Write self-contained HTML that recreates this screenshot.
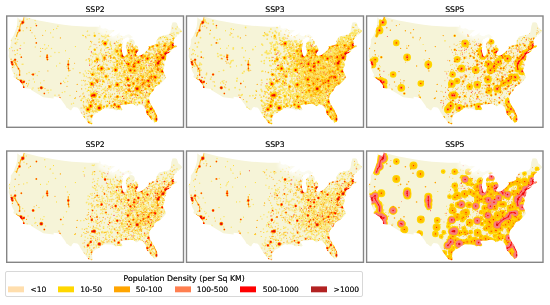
<!DOCTYPE html>
<html><head><meta charset="utf-8"><style>
html,body{margin:0;padding:0;background:#fff;}
body{width:550px;height:305px;position:relative;overflow:hidden;font-family:"DejaVu Sans","Liberation Sans",sans-serif;color:#262626;}
svg{position:absolute;left:0;top:0;}
.t{position:absolute;width:100px;text-align:center;font-size:7.7px;line-height:9px;text-shadow:0 0 0.4px #262626;}
.leg{position:absolute;left:5px;top:271px;width:356px;height:24px;border:1px solid #d8d8d8;border-radius:2px;}
.lt,.lp,.lh{position:absolute;}
.lp{top:286.2px;width:16px;height:6.2px;}
.lt{top:285.2px;font-size:7.5px;line-height:9px;text-shadow:0 0 0.35px #262626;}
.lh{left:123.6px;top:274.2px;font-size:7.8px;line-height:9px;text-shadow:0 0 0.35px #262626;}
</style></head><body>
<svg width="550" height="305" viewBox="0 0 550 305">
<defs><clipPath id="us"><path d="M11.3,2.3 L13.0,3.7 L14.5,4.4 L16.1,5.0 L17.0,3.9 L17.7,2.6 L17.3,1.4 L24.7,3.4 L32.8,5.4 L41.0,7.1 L49.3,8.5 L57.6,9.7 L65.9,10.7 L74.3,11.3 L82.6,11.7 L87.6,11.8 L93.4,11.8 L93.4,10.3 L94.3,10.6 L94.8,12.9 L97.2,13.8 L99.4,13.3 L101.1,13.9 L103.7,15.4 L105.7,14.8 L109.1,15.4 L107.2,16.6 L104.5,19.0 L102.3,21.0 L104.3,20.8 L106.0,20.0 L105.8,21.5 L107.2,21.5 L110.3,20.0 L112.5,18.5 L114.1,17.3 L113.1,19.3 L115.9,20.9 L118.1,21.3 L119.9,20.0 L122.9,19.3 L124.6,20.2 L125.6,21.4 L127.2,22.0 L123.9,23.0 L121.6,22.3 L119.3,23.1 L118.5,24.1 L117.2,24.2 L115.9,27.0 L114.9,29.6 L116.2,27.9 L117.6,26.0 L116.9,28.2 L116.4,31.0 L116.1,32.7 L115.7,35.8 L117.1,40.6 L118.1,41.7 L119.3,41.1 L120.4,39.3 L121.0,36.3 L120.3,34.5 L119.7,31.5 L120.1,30.2 L120.0,28.6 L120.5,27.4 L121.7,26.0 L122.0,27.7 L122.4,26.8 L122.7,25.5 L123.4,25.0 L123.2,23.8 L124.0,23.3 L124.8,23.8 L126.9,24.5 L128.3,25.8 L128.7,27.3 L128.8,28.5 L128.4,29.3 L127.7,30.6 L127.6,32.1 L128.9,30.7 L130.2,29.9 L131.5,31.6 L132.4,34.0 L132.4,35.8 L130.9,37.2 L130.0,39.9 L132.4,40.7 L135.5,40.0 L140.0,36.6 L143.1,32.7 L142.3,31.3 L146.7,30.5 L149.8,29.0 L150.3,27.2 L149.8,26.0 L151.0,24.7 L153.1,21.6 L158.6,20.3 L162.9,19.2 L163.8,17.7 L164.5,17.1 L165.3,11.2 L166.5,7.6 L169.2,7.2 L170.9,7.9 L172.4,12.6 L173.9,13.5 L175.5,15.2 L176.1,16.3 L175.1,17.5 L173.6,18.8 L172.4,20.1 L171.3,19.5 L171.0,21.4 L169.2,22.8 L168.2,23.7 L167.6,26.3 L167.3,27.5 L168.1,28.1 L167.3,29.7 L168.7,31.0 L170.0,30.2 L170.7,30.5 L171.2,31.6 L169.2,32.7 L168.4,32.6 L167.0,33.7 L165.8,34.6 L162.7,35.6 L160.6,37.5 L164.9,35.5 L166.1,35.6 L163.2,37.7 L160.3,39.2 L160.1,39.8 L160.5,41.2 L159.9,44.6 L158.6,46.7 L158.0,45.7 L156.3,44.8 L156.9,45.9 L158.3,47.4 L158.8,49.2 L158.4,51.2 L157.1,54.9 L157.2,55.9 L158.1,57.4 L160.2,62.4 L157.4,65.8 L153.2,69.9 L150.0,71.1 L147.3,75.7 L144.3,79.2 L143.1,83.2 L143.6,86.5 L144.3,88.3 L145.8,91.1 L148.0,93.9 L149.3,97.3 L151.1,100.8 L151.4,104.7 L150.9,106.8 L148.2,108.0 L147.1,106.1 L144.9,104.3 L143.9,102.8 L142.9,101.3 L141.1,99.6 L140.4,98.3 L140.0,97.0 L139.8,94.5 L138.4,92.4 L136.1,89.9 L133.8,89.2 L131.1,91.2 L129.8,91.3 L128.3,89.6 L125.3,88.7 L122.8,89.1 L120.0,89.8 L116.0,89.6 L114.2,90.4 L114.6,91.2 L115.9,93.3 L116.7,94.7 L115.3,95.6 L113.0,95.1 L112.6,94.7 L110.1,95.5 L108.2,94.6 L106.4,93.8 L105.6,93.4 L103.4,93.5 L98.8,93.2 L95.4,95.0 L93.6,96.5 L91.0,97.9 L89.5,98.6 L86.5,101.3 L86.1,104.6 L86.6,109.0 L85.3,109.2 L82.6,108.3 L82.3,107.9 L77.9,102.3 L74.4,97.1 L73.1,94.3 L71.3,92.5 L67.7,92.1 L66.5,92.9 L65.3,95.3 L64.2,95.2 L61.7,93.3 L60.3,92.6 L59.4,90.6 L56.9,87.0 L53.7,82.4 L47.7,81.8 L47.5,83.6 L37.3,82.2 L25.2,75.0 L25.7,74.1 L17.2,73.1 L16.9,72.3 L16.9,70.2 L16.1,68.9 L14.0,67.1 L13.9,66.0 L12.0,65.1 L10.3,63.4 L7.8,62.5 L7.3,61.8 L8.1,59.7 L7.5,58.4 L6.5,56.8 L5.2,53.6 L5.5,52.4 L5.6,50.9 L4.6,48.2 L4.9,47.0 L3.6,45.7 L3.8,44.4 L2.6,41.2 L3.2,37.6 L2.3,34.5 L3.3,33.2 L4.5,30.5 L4.5,29.4 L4.8,28.4 L4.8,24.6 L6.3,22.6 L7.6,20.4 L8.5,18.0 L9.8,14.4 L10.7,11.6 L10.9,9.9 L11.1,8.3 L11.3,5.3Z"/></clipPath>
<filter id="bl" x="-5%" y="-5%" width="110%" height="110%"><feGaussianBlur stdDeviation="0.4"/></filter><filter id="bl2" x="-20%" y="-20%" width="140%" height="140%"><feGaussianBlur stdDeviation="1.5"/></filter></defs>
<g transform="translate(6,15)"><path d="M11.3,2.3 L13.0,3.7 L14.5,4.4 L16.1,5.0 L17.0,3.9 L17.7,2.6 L17.3,1.4 L24.7,3.4 L32.8,5.4 L41.0,7.1 L49.3,8.5 L57.6,9.7 L65.9,10.7 L74.3,11.3 L82.6,11.7 L87.6,11.8 L93.4,11.8 L93.4,10.3 L94.3,10.6 L94.8,12.9 L97.2,13.8 L99.4,13.3 L101.1,13.9 L103.7,15.4 L105.7,14.8 L109.1,15.4 L107.2,16.6 L104.5,19.0 L102.3,21.0 L104.3,20.8 L106.0,20.0 L105.8,21.5 L107.2,21.5 L110.3,20.0 L112.5,18.5 L114.1,17.3 L113.1,19.3 L115.9,20.9 L118.1,21.3 L119.9,20.0 L122.9,19.3 L124.6,20.2 L125.6,21.4 L127.2,22.0 L123.9,23.0 L121.6,22.3 L119.3,23.1 L118.5,24.1 L117.2,24.2 L115.9,27.0 L114.9,29.6 L116.2,27.9 L117.6,26.0 L116.9,28.2 L116.4,31.0 L116.1,32.7 L115.7,35.8 L117.1,40.6 L118.1,41.7 L119.3,41.1 L120.4,39.3 L121.0,36.3 L120.3,34.5 L119.7,31.5 L120.1,30.2 L120.0,28.6 L120.5,27.4 L121.7,26.0 L122.0,27.7 L122.4,26.8 L122.7,25.5 L123.4,25.0 L123.2,23.8 L124.0,23.3 L124.8,23.8 L126.9,24.5 L128.3,25.8 L128.7,27.3 L128.8,28.5 L128.4,29.3 L127.7,30.6 L127.6,32.1 L128.9,30.7 L130.2,29.9 L131.5,31.6 L132.4,34.0 L132.4,35.8 L130.9,37.2 L130.0,39.9 L132.4,40.7 L135.5,40.0 L140.0,36.6 L143.1,32.7 L142.3,31.3 L146.7,30.5 L149.8,29.0 L150.3,27.2 L149.8,26.0 L151.0,24.7 L153.1,21.6 L158.6,20.3 L162.9,19.2 L163.8,17.7 L164.5,17.1 L165.3,11.2 L166.5,7.6 L169.2,7.2 L170.9,7.9 L172.4,12.6 L173.9,13.5 L175.5,15.2 L176.1,16.3 L175.1,17.5 L173.6,18.8 L172.4,20.1 L171.3,19.5 L171.0,21.4 L169.2,22.8 L168.2,23.7 L167.6,26.3 L167.3,27.5 L168.1,28.1 L167.3,29.7 L168.7,31.0 L170.0,30.2 L170.7,30.5 L171.2,31.6 L169.2,32.7 L168.4,32.6 L167.0,33.7 L165.8,34.6 L162.7,35.6 L160.6,37.5 L164.9,35.5 L166.1,35.6 L163.2,37.7 L160.3,39.2 L160.1,39.8 L160.5,41.2 L159.9,44.6 L158.6,46.7 L158.0,45.7 L156.3,44.8 L156.9,45.9 L158.3,47.4 L158.8,49.2 L158.4,51.2 L157.1,54.9 L157.2,55.9 L158.1,57.4 L160.2,62.4 L157.4,65.8 L153.2,69.9 L150.0,71.1 L147.3,75.7 L144.3,79.2 L143.1,83.2 L143.6,86.5 L144.3,88.3 L145.8,91.1 L148.0,93.9 L149.3,97.3 L151.1,100.8 L151.4,104.7 L150.9,106.8 L148.2,108.0 L147.1,106.1 L144.9,104.3 L143.9,102.8 L142.9,101.3 L141.1,99.6 L140.4,98.3 L140.0,97.0 L139.8,94.5 L138.4,92.4 L136.1,89.9 L133.8,89.2 L131.1,91.2 L129.8,91.3 L128.3,89.6 L125.3,88.7 L122.8,89.1 L120.0,89.8 L116.0,89.6 L114.2,90.4 L114.6,91.2 L115.9,93.3 L116.7,94.7 L115.3,95.6 L113.0,95.1 L112.6,94.7 L110.1,95.5 L108.2,94.6 L106.4,93.8 L105.6,93.4 L103.4,93.5 L98.8,93.2 L95.4,95.0 L93.6,96.5 L91.0,97.9 L89.5,98.6 L86.5,101.3 L86.1,104.6 L86.6,109.0 L85.3,109.2 L82.6,108.3 L82.3,107.9 L77.9,102.3 L74.4,97.1 L73.1,94.3 L71.3,92.5 L67.7,92.1 L66.5,92.9 L65.3,95.3 L64.2,95.2 L61.7,93.3 L60.3,92.6 L59.4,90.6 L56.9,87.0 L53.7,82.4 L47.7,81.8 L47.5,83.6 L37.3,82.2 L25.2,75.0 L25.7,74.1 L17.2,73.1 L16.9,72.3 L16.9,70.2 L16.1,68.9 L14.0,67.1 L13.9,66.0 L12.0,65.1 L10.3,63.4 L7.8,62.5 L7.3,61.8 L8.1,59.7 L7.5,58.4 L6.5,56.8 L5.2,53.6 L5.5,52.4 L5.6,50.9 L4.6,48.2 L4.9,47.0 L3.6,45.7 L3.8,44.4 L2.6,41.2 L3.2,37.6 L2.3,34.5 L3.3,33.2 L4.5,30.5 L4.5,29.4 L4.8,28.4 L4.8,24.6 L6.3,22.6 L7.6,20.4 L8.5,18.0 L9.8,14.4 L10.7,11.6 L10.9,9.9 L11.1,8.3 L11.3,5.3Z" fill="#f6f4d8"/><g clip-path="url(#us)" filter="url(#bl)" fill="none" stroke-linecap="round"><path stroke="#ffd700" stroke-width="6" d="M159.9 38.6h0M116.8 40.7h0M88.2 80.3h0M93.3 93.0h0M152.0 48.3h0M157.0 42.7h0M151.0 104.2h0M131.2 73.8h0M167.1 29.7h0M130.7 36.9h0"/>
<path stroke="#ffd700" stroke-width="4.8" d="M86.3 80.4h0M99.1 28.5h0M141.3 97.1h0M109.7 55.0h0M153.0 46.4h0M144.9 94.0h0M142.4 65.8h0M81.9 94.4h0M141.5 43.6h0M84.7 90.9h0M128.0 51.3h0M95.6 53.5h0M132.4 47.0h0M122.4 49.1h0M135.5 40.1h0M121.9 64.5h0M156.2 56.3h0M115.6 35.8h0M142.7 86.7h0M85.8 68.9h0M149.3 62.3h0M111.3 69.7h0M112.6 91.6h0M124.4 55.3h0M162.2 37.7h0M159.3 38.7h0"/>
<path stroke="#ffd700" stroke-width="3.6" d="M166.6 32.2h0M151.9 54.2h0M162.8 33.4h0M143.1 32.8h0M123.0 75.6h0M146.7 30.9h0M122.5 35.5h0M91.0 66.0h0M91.2 44.4h0M158.7 30.5h0M131.6 64.3h0M108.5 89.7h0M137.4 68.2h0M142.6 71.1h0M147.2 75.6h0M128.7 48.4h0M155.4 40.2h0M98.5 42.9h0M103.7 71.7h0M151.2 30.5h0M145.3 61.7h0M129.7 40.1h0M111.1 36.0h0M86.6 59.5h0M151.4 42.5h0M127.4 68.7h0M111.6 81.7h0M128.6 55.7h0M100.0 61.4h0M126.1 36.0h0M119.7 87.9h0M85.8 101.2h0M82.5 107.9h0M123.2 70.5h0M144.3 102.2h0M141.4 99.6h0M162.5 35.4h0M158.0 41.3h0M148.3 61.6h0M150.9 100.8h0M160.9 37.0h0"/>
<path stroke="#ffd700" stroke-width="2.4" d="M165.0 30.7h0M136.3 41.7h0M125.0 43.2h0M154.1 37.0h0M98.9 81.3h0M122.7 88.8h0M133.3 87.6h0M143.6 79.1h0M139.7 73.8h0M125.2 80.3h0M168.0 23.7h0M165.2 27.4h0M88.8 34.7h0M88.7 20.7h0M148.1 95.7h0M145.8 91.0h0M143.1 96.4h0M141.7 91.7h0M140.8 89.9h0M152.9 68.3h0M143.9 56.8h0M136.4 65.2h0M118.6 57.1h0M111.2 46.1h0M112.3 39.3h0M111.3 49.9h0M115.7 48.2h0M104.4 41.0h0M107.9 42.8h0M88.9 46.3h0M92.0 53.7h0M86.9 85.5h0M84.8 87.3h0M97.9 91.6h0M105.4 90.8h0M101.1 90.9h0M93.5 82.1h0M97.2 66.4h0M102.9 53.9h0M102.3 20.8h0M114.8 29.6h0M128.5 34.5h0M123.1 38.2h0M121.3 41.0h0M140.0 36.6h0M139.0 41.2h0M136.9 42.8h0M137.7 53.2h0M135.0 53.3h0M136.6 62.1h0M146.4 55.8h0M149.1 65.5h0M150.1 71.1h0M134.3 77.2h0M129.7 79.4h0M120.4 77.2h0M162.8 31.9h0M159.9 44.6h0M156.0 43.8h0M153.3 43.1h0M152.1 43.7h0M154.3 41.6h0M151.2 51.0h0M143.8 61.9h0M138.9 67.6h0M116.0 89.6h0M77.9 102.2h0M85.3 109.0h0M89.7 89.2h0M113.8 30.8h0M119.9 63.1h0M149.5 98.6h0M144.9 104.2h0M128.8 37.6h0M94.9 54.4h0"/>
<path stroke="#ffd700" stroke-width="1.5" stroke-opacity="0.5" d="M93.5 73.5h0M108.9 65.6h0M148.5 54.5h0M160.9 30.2h0M127.3 88.2h0M84.5 87.3h0M162.5 28.9h0M128.3 54.9h0M129.7 77.2h0M108.0 62.7h0M11.8 11.6h0M140.2 80.9h0M139.1 91.3h0M166.8 21.2h0M139.5 72.5h0M143.7 77.1h0M113.0 70.3h0M14.7 65.4h0M142.3 33.8h0M101.2 58.9h0M125.9 75.3h0M101.2 25.8h0M149.7 48.4h0M127.3 34.8h0M150.1 62.5h0M113.7 64.3h0M157.2 37.3h0M138.8 62.6h0M121.9 37.6h0M129.5 30.3h0M149.5 62.7h0M148.6 58.8h0M84.4 67.5h0M111.3 83.8h0M102.3 36.6h0M117.0 88.6h0M123.5 86.3h0M165.9 34.1h0M147.9 100.9h0M124.1 49.6h0M137.1 84.3h0M158.7 31.0h0M129.7 39.9h0M132.8 75.9h0M161.2 35.6h0M107.1 92.2h0M87.4 88.3h0M167.1 25.5h0M150.0 56.0h0M114.8 48.1h0M152.6 45.1h0M91.8 84.5h0M82.8 97.3h0M85.6 102.6h0M159.3 45.4h0M150.9 103.3h0M130.9 57.5h0M132.5 50.5h0M127.8 87.1h0M152.8 48.1h0M146.9 51.4h0M80.1 92.0h0M127.9 58.6h0M123.0 53.5h0M154.5 42.3h0M170.1 14.1h0M125.1 44.9h0M86.8 96.1h0M17.0 49.2h0M157.4 21.2h0M137.9 48.4h0M153.8 36.5h0M48.9 37.5h0M140.2 67.4h0M169.7 31.9h0M139.0 48.1h0M139.5 59.4h0M110.1 52.5h0M127.4 41.1h0M114.4 34.2h0M80.0 91.1h0M141.2 78.7h0M112.0 52.8h0M139.7 67.6h0M100.0 62.2h0M108.8 34.5h0M111.2 86.2h0M128.8 74.1h0M108.1 36.0h0M94.2 52.2h0M126.5 53.9h0M114.9 64.0h0M120.3 70.6h0M117.8 80.4h0M80.4 61.6h0M140.6 60.6h0M128.5 86.0h0M77.3 59.0h0M116.6 58.5h0M100.6 89.7h0M140.8 65.9h0M129.3 60.6h0M151.7 60.6h0M88.7 57.9h0M134.3 53.5h0M129.9 87.9h0M126.0 76.5h0M126.2 67.1h0M132.3 51.2h0M140.2 43.3h0M158.2 36.0h0M141.1 70.4h0M139.4 74.3h0M83.6 97.7h0M147.6 57.7h0M145.7 61.4h0M95.2 89.3h0M167.0 23.6h0M148.6 61.3h0M123.8 48.7h0M85.8 96.5h0M101.8 66.1h0M142.5 58.0h0M140.9 53.4h0M125.5 48.0h0M164.5 28.5h0M131.4 55.5h0M155.8 40.5h0M113.6 45.4h0M99.9 33.3h0M160.1 34.2h0M160.5 37.5h0M91.0 39.8h0M98.6 40.3h0M141.8 80.6h0M127.3 58.6h0M164.4 31.9h0M153.2 49.1h0M122.9 49.9h0M114.9 71.5h0M150.9 65.2h0M75.5 98.4h0M136.2 44.3h0M119.8 67.8h0M97.9 45.7h0M142.8 39.6h0M29.1 5.5h0M159.7 24.8h0M123.3 73.0h0M143.3 90.8h0M136.8 61.8h0M126.7 43.7h0M146.9 47.4h0M155.5 41.3h0M153.8 60.4h0M129.0 44.7h0M103.6 70.8h0M121.3 53.2h0M106.0 79.8h0M93.3 88.5h0M142.0 59.6h0M116.2 67.3h0M116.2 61.2h0M150.2 48.8h0M94.6 93.5h0M129.5 79.6h0M121.0 52.1h0M128.9 44.0h0M133.0 60.3h0M130.5 44.0h0M125.8 49.1h0M148.0 54.9h0M84.6 95.1h0M102.7 64.4h0M124.4 64.7h0M133.6 57.6h0M140.2 91.4h0M82.2 55.7h0M132.3 66.5h0M142.6 99.7h0M120.9 82.7h0M100.7 45.9h0M106.6 61.9h0M143.3 41.3h0M124.9 57.0h0M142.3 70.6h0M111.7 40.7h0M127.9 86.3h0M125.3 46.7h0M129.2 41.1h0M116.9 54.3h0M142.8 64.1h0M127.1 54.6h0M116.6 43.0h0M98.2 74.9h0M159.7 32.2h0M126.8 38.4h0M135.1 44.6h0M143.4 61.6h0M96.3 41.2h0M133.7 67.0h0M90.7 67.0h0M128.6 84.9h0M139.0 60.8h0M125.4 85.6h0M77.2 92.9h0M84.4 89.9h0M127.8 45.6h0M129.8 40.6h0M146.2 64.3h0M78.2 61.3h0M115.9 52.6h0M147.3 41.4h0M127.0 32.1h0M97.1 56.9h0M151.8 63.0h0M8.3 58.4h0M143.7 38.7h0M112.3 47.2h0M120.4 55.8h0M129.7 57.7h0M175.9 16.4h0M123.9 42.8h0M142.0 74.4h0M94.5 51.4h0M146.0 68.4h0M151.4 55.8h0M81.7 96.2h0M135.1 84.0h0M125.7 70.3h0M150.8 59.7h0M89.1 67.8h0M121.1 52.2h0M160.4 24.6h0M148.5 37.4h0M124.3 64.3h0M128.1 45.1h0M108.3 42.0h0M116.8 50.3h0M144.3 65.0h0M98.5 91.5h0M152.0 37.4h0M132.7 52.2h0M145.6 50.1h0M113.8 56.9h0M122.8 39.9h0M109.8 55.3h0M116.5 72.8h0M156.0 48.9h0M110.7 51.0h0M153.0 62.8h0M124.0 88.9h0M133.2 76.9h0M124.5 62.9h0M153.3 49.1h0M151.1 43.7h0M161.7 35.6h0M22.3 69.8h0M143.7 37.9h0M119.1 52.7h0M145.1 102.1h0M109.8 91.6h0M27.3 64.1h0M138.4 65.5h0M155.7 29.2h0M103.9 28.3h0M129.3 53.6h0M114.0 52.0h0M125.1 45.1h0M105.6 52.9h0M144.1 59.8h0M93.6 23.9h0M107.0 52.5h0M126.9 84.1h0M81.7 84.3h0M131.2 60.8h0M97.8 49.3h0M91.3 66.8h0M122.1 84.7h0M128.1 55.7h0M117.7 45.5h0M130.4 41.2h0M159.3 44.0h0M138.1 58.1h0M110.1 84.3h0M158.7 27.8h0M128.2 41.0h0M81.7 93.0h0M150.9 55.3h0M89.6 69.0h0M99.5 19.4h0M136.5 76.1h0M90.5 85.4h0M153.3 45.5h0M141.0 46.1h0M128.2 36.1h0M136.0 85.7h0M124.4 47.6h0M154.2 57.4h0M141.9 73.8h0M90.0 84.8h0M111.2 85.6h0M100.2 20.6h0M142.0 78.9h0M151.5 40.2h0M98.8 81.2h0M114.2 81.7h0M21.1 4.2h0M147.0 74.7h0M150.2 40.6h0M81.2 76.4h0M142.6 68.0h0M105.3 31.0h0M95.2 80.5h0M115.3 61.1h0M151.1 24.6h0M144.7 60.1h0M116.6 41.0h0M88.9 59.9h0M126.2 48.3h0M122.7 78.6h0M138.4 56.0h0M144.4 39.0h0M147.5 32.3h0M76.7 20.3h0M140.2 71.5h0M133.9 78.8h0M161.6 31.1h0M117.4 61.2h0M10.8 60.1h0M158.5 41.4h0M158.3 41.7h0M124.9 68.0h0M148.8 64.6h0M6.3 49.5h0M143.9 70.0h0M96.7 50.3h0M147.8 63.1h0M128.0 48.1h0M77.1 89.9h0M159.9 31.3h0M148.7 106.8h0M139.1 65.4h0M153.1 35.4h0M124.1 38.1h0M134.7 42.1h0M125.2 47.0h0M131.7 51.1h0M124.7 78.2h0M151.6 44.0h0M162.9 28.1h0M114.1 44.2h0M151.5 41.4h0M126.4 69.0h0M111.9 42.9h0M149.8 67.3h0M145.0 56.3h0M85.7 92.0h0M105.2 70.2h0M152.6 56.1h0M100.1 64.0h0M124.5 83.4h0M138.4 60.4h0M104.8 31.2h0M125.4 63.2h0M115.8 46.0h0M87.3 39.5h0M135.0 83.9h0M157.3 28.0h0M138.6 57.5h0M90.5 86.6h0M88.9 56.1h0M93.0 24.2h0M85.8 77.0h0M93.8 61.4h0M147.1 61.0h0M120.2 32.8h0M112.5 25.5h0M128.7 75.9h0M131.8 78.2h0M150.5 100.2h0M139.0 55.1h0M153.1 52.6h0M150.5 54.9h0M78.9 66.5h0M133.0 65.5h0M99.4 54.3h0M130.6 37.4h0M122.3 54.8h0M86.4 47.5h0M154.9 23.8h0M116.6 78.8h0M138.7 60.6h0M100.3 62.0h0M153.1 68.2h0M125.7 64.5h0M120.4 40.9h0M140.7 91.7h0M112.5 38.1h0M90.8 43.2h0M84.7 31.3h0M117.9 55.5h0M169.1 31.2h0M148.2 62.8h0M137.0 68.1h0M113.8 40.2h0M85.0 94.4h0M61.7 66.6h0M97.5 62.6h0M123.0 52.6h0M127.5 58.1h0M127.1 44.8h0M101.7 26.8h0M112.8 71.5h0M127.1 42.4h0M92.2 54.8h0M20.8 58.7h0M143.1 51.8h0M164.7 34.2h0M144.8 39.5h0M158.1 29.9h0M125.6 53.6h0M136.7 78.8h0M135.1 65.3h0M114.9 73.3h0M91.2 63.4h0M49.0 80.3h0M112.8 61.1h0M137.0 47.3h0M84.9 72.5h0M118.3 82.1h0M131.8 80.6h0M88.9 75.4h0M135.3 44.1h0M123.7 76.1h0M86.7 41.7h0M123.1 80.0h0M129.9 65.1h0M145.0 43.6h0M107.9 73.3h0M99.8 39.7h0M151.6 59.8h0M86.7 100.7h0M144.7 39.6h0M90.3 84.8h0M80.4 58.1h0M158.3 39.0h0M86.0 79.8h0M88.5 93.6h0M102.3 61.2h0M135.8 82.4h0M141.0 86.7h0M117.6 85.8h0M90.2 48.6h0M113.0 48.4h0M98.5 57.7h0M151.7 53.9h0M124.5 79.5h0M137.9 50.1h0M138.9 40.5h0M145.8 65.5h0M141.0 42.6h0M119.2 58.5h0M140.4 65.5h0M106.4 66.1h0M136.7 60.1h0M100.7 64.3h0M108.3 35.1h0M86.7 78.7h0M91.7 52.7h0M104.4 78.9h0M123.2 35.3h0M143.8 44.9h0M144.6 57.4h0M123.1 63.9h0M83.5 84.7h0M83.6 75.7h0M85.4 59.1h0M119.8 78.3h0M139.4 65.9h0M129.3 53.5h0M166.2 29.3h0M117.1 80.7h0M140.4 88.0h0M89.7 64.3h0M138.7 67.6h0M141.9 70.3h0M153.8 42.9h0M136.1 73.5h0M118.4 45.2h0M89.2 61.7h0M85.8 83.5h0M82.1 74.9h0M134.1 41.4h0M138.7 41.0h0M91.4 46.9h0M113.1 51.2h0M127.0 44.7h0M85.8 49.1h0M150.0 40.7h0M128.7 80.1h0M82.3 83.4h0M95.6 85.6h0M138.1 48.7h0M142.5 74.5h0M157.8 35.5h0M158.6 32.1h0M80.0 22.7h0M164.0 28.0h0M101.4 61.5h0M122.1 84.9h0M160.1 38.3h0M131.9 70.4h0M132.4 66.4h0M92.7 43.0h0M133.3 50.8h0M118.8 66.3h0M140.3 61.2h0M140.3 69.6h0M128.5 87.2h0M158.3 37.3h0M125.1 26.5h0M114.7 41.0h0M135.8 56.6h0M93.0 38.9h0M151.4 39.6h0M109.2 85.9h0M138.1 57.8h0M146.7 31.7h0M94.3 88.6h0M154.5 63.9h0M137.0 60.4h0M149.9 61.3h0M91.6 67.7h0M140.6 46.1h0M140.1 50.9h0M118.8 82.6h0M115.3 83.1h0M142.1 42.2h0M84.7 56.9h0M95.7 20.8h0M139.6 42.5h0M118.9 50.1h0M152.9 49.2h0M105.7 34.5h0M140.6 60.9h0M96.3 21.6h0M134.2 54.6h0M99.0 75.9h0M93.5 68.7h0M138.7 53.1h0M143.0 63.1h0M149.1 48.6h0M131.8 68.0h0M145.9 60.9h0M150.8 103.7h0M125.3 36.9h0M118.8 89.7h0M129.6 57.7h0M153.9 47.6h0M108.5 37.7h0M156.7 36.3h0M97.3 53.9h0M108.8 88.2h0M150.2 59.2h0M112.8 64.5h0M112.5 72.6h0M153.4 32.9h0M130.6 53.6h0M142.0 48.1h0M53.0 37.6h0M156.3 35.3h0M148.2 59.9h0M137.3 70.7h0M101.1 54.7h0M127.8 47.1h0M111.8 62.7h0M109.0 89.9h0M106.3 91.3h0M152.3 33.1h0M139.6 40.8h0M138.5 41.4h0M18.1 28.1h0M151.1 30.0h0M136.1 64.1h0M15.9 66.2h0M145.1 58.0h0M148.2 67.8h0M157.1 43.3h0M171.2 11.9h0M143.3 90.9h0M144.2 65.1h0M144.2 68.2h0M134.3 74.6h0M11.1 34.9h0M164.0 28.9h0M118.4 81.7h0M89.9 77.7h0M153.4 39.5h0M144.9 42.9h0M113.1 94.6h0M117.8 82.0h0M102.4 37.7h0M108.5 52.0h0M114.9 30.8h0M130.9 35.6h0M146.7 60.1h0M149.5 68.5h0M125.7 44.7h0M91.8 73.3h0M105.7 36.9h0M97.3 65.3h0M152.6 57.5h0M90.2 65.7h0M129.5 79.9h0M133.5 55.6h0M87.1 64.8h0M144.3 32.2h0M145.1 52.3h0M99.6 86.8h0M122.3 76.1h0M154.5 32.5h0M139.7 61.9h0M86.1 46.1h0M156.0 52.1h0M144.4 65.1h0M133.1 73.3h0M114.2 33.5h0M98.9 83.9h0M82.1 88.1h0M153.4 42.2h0M156.7 38.1h0M142.4 61.2h0M129.5 51.1h0M92.9 45.2h0M5.0 25.5h0M130.0 50.2h0M116.0 89.5h0M83.4 56.6h0M128.4 60.6h0M34.2 41.2h0M126.2 64.7h0M96.8 74.2h0M143.5 68.4h0M118.5 56.7h0M130.0 77.2h0M150.0 46.2h0M157.9 44.1h0M145.4 63.7h0M157.3 35.0h0M146.3 56.7h0M148.6 63.5h0M105.4 92.7h0M127.5 88.2h0M134.6 73.6h0M149.6 33.7h0M108.8 93.7h0M143.7 100.1h0M127.5 52.2h0M139.2 80.5h0M119.4 80.2h0M151.5 34.6h0M80.0 45.3h0M124.3 44.3h0M133.7 79.9h0M102.2 61.9h0M128.3 69.0h0M124.6 32.6h0M149.3 66.3h0M145.0 63.6h0M138.9 87.9h0M127.6 38.4h0M143.4 40.7h0M135.9 45.0h0M131.3 45.0h0M150.6 41.0h0M121.8 56.8h0M114.8 76.2h0M162.9 32.1h0M84.8 87.3h0M129.0 49.2h0M149.1 37.7h0M144.1 73.7h0M119.7 86.5h0M100.4 21.7h0M102.1 61.5h0M123.9 43.1h0M114.8 40.2h0M125.1 80.7h0M152.0 52.5h0M154.0 39.9h0M105.9 42.8h0M142.4 44.7h0M143.6 42.2h0M136.4 47.1h0M158.8 43.4h0M100.4 16.7h0M137.1 75.2h0M134.3 43.6h0M136.2 49.8h0M132.0 76.6h0M82.4 93.4h0M129.8 47.7h0M93.6 91.8h0M105.8 93.2h0M114.6 52.2h0M142.8 48.5h0M152.8 39.7h0M45.5 33.6h0M104.5 26.9h0M118.4 60.9h0M105.8 91.0h0M153.3 35.3h0M136.7 79.4h0M141.9 85.5h0M109.5 34.6h0M88.0 85.9h0M142.2 57.7h0M131.6 65.6h0M122.1 39.2h0M88.1 67.4h0M94.7 69.9h0M95.4 34.0h0M135.2 45.4h0M145.4 60.2h0M111.8 59.4h0M153.1 35.3h0M123.9 36.0h0M142.4 63.1h0M112.7 62.3h0M136.0 51.6h0M85.0 70.0h0M116.0 45.8h0M120.1 63.9h0M129.5 66.5h0M79.3 56.1h0M140.7 98.1h0M99.6 20.1h0M91.6 57.4h0M128.5 49.5h0M145.3 38.2h0M162.5 35.5h0M140.3 92.2h0M143.0 79.3h0M124.3 33.6h0M153.4 62.8h0M139.1 67.5h0M110.9 59.2h0M157.9 38.4h0M140.2 81.6h0M119.0 62.7h0M86.1 38.2h0M149.2 37.0h0M145.0 97.0h0M141.2 86.2h0M141.3 94.8h0M123.6 41.7h0M139.8 47.3h0M156.0 53.7h0M148.0 63.9h0M93.6 86.3h0M132.5 87.4h0M102.6 77.7h0M143.0 52.4h0M124.0 39.2h0M134.6 51.5h0M88.2 18.0h0M135.6 75.8h0M169.7 13.8h0M153.4 57.7h0M112.5 44.9h0M110.9 64.0h0M98.2 28.5h0M121.6 42.2h0M115.0 68.7h0M141.3 57.9h0M124.1 63.9h0M136.0 54.3h0M141.1 92.9h0M142.0 70.7h0M155.9 28.7h0M161.5 34.8h0M148.2 69.1h0M122.7 65.1h0M129.7 45.3h0M167.8 18.0h0M85.8 26.5h0M100.9 37.6h0M130.6 66.8h0M136.1 43.8h0M154.5 48.2h0M84.8 79.1h0M136.8 76.8h0M90.5 79.8h0M123.5 29.4h0M150.6 40.2h0M148.2 46.7h0M123.1 83.3h0M146.4 68.7h0M155.8 29.9h0M110.1 40.3h0M121.9 44.9h0M151.6 57.5h0M131.7 45.8h0M17.0 65.3h0M142.9 62.1h0M127.5 61.5h0M113.9 25.0h0M108.8 91.3h0M86.1 90.4h0M152.5 59.4h0M102.5 72.0h0M84.5 77.6h0M99.6 22.4h0M122.4 35.5h0M150.3 43.8h0M151.4 32.7h0M129.4 60.0h0M134.5 60.7h0M132.8 45.7h0M153.4 54.7h0M96.0 61.9h0M112.6 29.8h0M131.9 41.0h0M124.9 51.0h0M153.9 51.7h0M155.3 66.6h0M125.3 46.1h0M145.6 100.6h0M151.9 64.7h0M142.5 96.7h0M155.4 32.9h0M112.4 70.0h0M130.9 49.7h0M166.3 30.3h0M139.2 44.7h0M158.9 29.1h0M103.2 53.9h0M158.5 38.1h0M147.8 40.6h0M150.1 29.5h0M139.5 44.0h0M159.1 59.8h0M127.0 32.6h0M133.7 67.2h0M120.7 48.4h0M123.5 50.4h0M126.9 57.2h0M150.9 49.5h0M135.4 65.2h0M115.2 52.8h0M82.8 34.2h0M136.0 69.9h0M146.3 91.7h0M148.2 41.3h0M153.9 43.5h0M135.5 85.9h0M97.8 83.1h0M115.9 50.4h0M123.0 52.1h0M141.7 80.9h0M122.6 32.8h0M134.6 65.1h0M125.0 61.6h0M80.1 84.8h0M137.5 82.7h0M136.6 50.7h0M90.8 94.5h0M109.7 37.2h0M123.0 35.2h0M137.4 67.7h0M105.3 45.8h0M117.5 42.5h0M139.4 48.3h0M128.7 48.3h0M122.4 33.7h0M144.2 68.1h0M31.3 60.6h0M149.9 68.2h0M137.2 78.0h0M113.3 71.2h0M144.9 32.1h0M159.3 28.5h0M111.6 33.6h0M111.6 22.0h0M134.4 58.6h0M131.0 82.3h0M83.5 48.2h0M137.0 40.6h0M96.6 45.3h0M96.9 58.4h0M58.8 76.7h0M134.1 60.6h0M109.6 43.1h0M100.6 92.7h0M127.9 51.8h0M88.2 39.4h0M82.1 92.0h0M116.8 85.5h0M151.6 52.5h0M78.4 60.3h0M134.3 74.9h0M152.9 56.6h0M154.6 36.4h0M128.1 43.9h0M112.0 94.9h0M94.5 94.6h0M41.5 40.1h0M132.6 83.4h0M135.1 84.1h0M99.4 78.2h0M146.2 45.4h0M139.0 82.9h0M113.9 61.2h0M143.4 52.1h0M145.2 56.4h0M153.2 23.0h0M129.2 50.3h0M86.7 58.9h0M125.8 45.5h0M132.8 53.2h0M78.6 92.6h0M140.7 84.6h0M136.6 67.2h0M126.8 50.9h0M147.6 40.5h0M121.2 63.7h0M99.0 23.1h0M140.9 89.2h0M137.0 59.8h0M126.6 61.2h0M122.8 58.3h0M156.4 46.7h0M121.5 49.9h0M114.8 51.9h0M119.7 63.7h0M121.2 41.8h0M143.9 43.5h0M77.5 87.8h0M114.7 35.2h0M149.6 39.8h0M146.8 102.1h0M144.5 54.9h0M86.5 90.5h0M160.0 42.9h0M151.3 34.3h0M155.6 39.2h0M111.1 67.7h0M93.7 90.1h0M149.5 42.8h0M121.2 48.7h0M112.1 27.5h0M152.8 37.1h0M126.6 69.9h0M137.4 58.5h0M144.8 35.0h0M164.8 32.5h0M92.2 85.2h0M143.4 34.3h0M134.2 50.1h0M119.1 63.0h0M145.3 48.3h0M126.7 39.4h0M142.9 31.7h0M83.0 56.2h0M152.7 42.0h0M148.6 46.5h0M131.9 46.7h0M122.3 63.3h0M144.0 56.4h0M157.1 43.3h0M125.3 73.2h0M123.4 55.0h0M109.0 39.3h0M155.2 59.2h0M85.5 93.9h0M120.8 62.5h0M115.7 94.1h0M100.6 62.9h0M33.0 75.5h0M126.3 57.8h0M121.4 36.1h0M143.6 52.6h0M143.3 75.2h0M119.8 68.1h0M81.5 94.3h0M110.8 56.5h0M156.3 62.7h0M80.5 96.8h0M11.2 38.4h0M88.9 50.9h0M124.5 69.0h0M141.8 88.2h0M159.3 32.1h0M129.6 56.5h0M114.9 38.3h0M95.3 90.5h0M142.1 90.8h0M111.0 27.5h0M152.5 43.9h0M86.3 69.8h0M118.4 42.5h0M143.9 63.3h0M144.3 72.0h0M119.9 71.5h0M113.9 25.0h0M141.9 59.7h0M134.4 69.6h0M126.5 72.3h0M132.0 45.4h0M153.9 59.1h0M87.2 55.9h0M159.2 39.6h0M138.3 40.4h0M147.6 100.3h0M116.2 49.1h0M145.2 57.6h0M140.6 84.9h0M157.5 43.1h0M151.4 67.6h0M156.6 39.9h0M156.8 44.1h0M139.6 58.6h0M125.5 57.8h0M109.6 84.9h0M83.6 20.3h0M145.9 63.1h0M142.4 68.9h0M125.8 73.2h0M140.4 78.5h0M86.5 93.1h0M153.4 30.9h0M142.0 66.8h0M86.6 74.9h0M51.9 11.2h0M75.9 70.2h0M131.6 74.0h0M44.9 41.2h0M145.3 76.0h0M174.5 16.2h0M116.1 75.7h0M16.1 49.3h0M141.9 89.6h0M148.8 71.1h0M76.0 83.8h0M146.0 59.7h0M147.4 43.6h0M95.1 87.4h0M138.5 67.5h0M100.1 90.2h0M135.9 43.6h0M116.2 73.1h0M118.7 89.1h0M113.8 92.4h0M150.8 65.8h0M108.7 38.6h0M140.8 98.8h0M142.7 73.3h0M87.4 91.2h0M132.7 71.0h0M102.9 65.2h0M138.8 92.2h0M93.8 44.5h0M133.5 68.9h0M115.8 48.9h0M120.9 70.7h0M162.1 31.6h0M145.4 73.4h0M149.6 46.6h0M145.4 70.0h0M128.0 32.6h0M170.6 31.1h0M154.0 58.0h0M124.2 58.7h0M58.8 67.4h0M161.0 35.9h0M41.0 44.0h0M154.0 37.6h0M142.2 39.4h0M137.6 79.2h0M102.1 88.9h0M94.9 51.0h0M154.8 45.4h0M136.2 67.2h0M115.7 53.1h0M133.7 44.3h0M142.2 55.9h0M151.8 49.3h0M133.9 64.7h0M147.5 62.0h0M138.1 90.3h0M154.7 51.3h0M104.4 30.6h0M148.5 62.4h0M137.0 70.6h0M150.0 106.2h0M112.6 48.2h0M129.6 50.9h0M124.3 54.8h0M101.1 32.8h0M126.7 77.9h0M132.8 66.8h0M134.4 71.8h0M139.7 39.7h0M159.8 30.5h0M56.3 77.6h0M110.8 54.7h0M92.1 58.4h0M86.6 52.4h0M97.6 21.5h0M151.4 56.3h0M138.4 68.4h0M158.4 46.1h0M122.6 42.7h0M124.9 53.5h0M117.6 68.6h0M135.4 67.5h0M84.0 96.4h0M83.3 100.4h0M149.9 59.2h0M142.3 59.9h0M42.5 77.7h0M153.8 45.8h0M140.1 67.6h0M134.3 70.0h0M150.1 62.2h0M133.9 58.4h0M127.2 80.0h0M96.1 57.6h0M132.3 54.6h0M161.9 25.1h0M114.2 85.0h0M150.0 34.9h0M121.0 47.1h0M118.7 55.2h0M108.4 50.7h0M78.8 98.3h0M109.5 44.5h0M89.5 91.4h0M99.8 63.8h0M89.9 83.8h0M131.3 56.6h0M109.9 92.6h0M137.7 39.8h0M143.8 60.1h0M114.4 30.6h0M127.3 43.9h0M130.4 57.6h0M125.8 39.3h0M112.1 87.8h0M135.8 50.3h0M97.6 53.8h0M166.1 28.7h0M124.7 38.6h0M109.6 58.6h0M111.0 30.7h0M152.4 44.1h0M151.2 103.9h0M152.6 44.0h0M141.3 55.8h0M157.2 33.2h0M110.0 73.4h0M114.6 39.4h0M137.3 78.8h0M156.9 48.7h0M123.5 70.9h0M149.0 40.5h0M133.1 65.2h0M115.4 53.4h0M79.8 69.0h0M133.9 46.4h0M84.6 76.1h0M129.1 52.0h0M107.9 75.1h0M95.0 36.0h0M128.9 51.1h0M131.3 35.6h0M147.2 100.0h0M150.6 61.9h0M153.7 53.7h0M149.4 40.9h0M156.9 40.9h0M93.9 92.1h0M105.4 72.0h0M125.0 76.2h0M99.6 49.1h0M150.7 101.0h0M151.2 41.6h0M138.2 51.8h0M124.8 52.6h0M148.9 42.1h0M8.1 50.2h0M145.3 55.0h0M130.3 49.8h0M135.7 42.6h0M152.4 41.3h0M142.4 68.9h0M147.5 49.7h0M123.8 81.9h0M109.6 32.9h0M137.6 62.7h0M88.3 63.8h0M96.8 41.0h0M144.7 60.7h0M105.3 30.5h0M104.3 47.4h0M110.4 37.2h0M112.9 30.5h0M144.7 102.0h0M145.2 46.2h0M134.0 57.1h0M156.3 43.3h0M27.0 73.0h0M147.7 66.0h0M119.6 73.5h0M128.9 58.4h0M115.6 95.0h0M105.0 92.5h0M120.1 87.6h0M101.9 24.8h0M92.2 41.0h0M147.4 62.7h0M127.5 67.1h0M118.1 41.8h0M127.7 42.2h0M136.6 44.9h0M149.3 46.6h0M9.4 23.8h0M99.7 82.2h0M148.4 97.0h0M123.9 35.2h0M119.2 60.0h0M123.3 28.7h0M106.1 39.4h0M157.6 31.4h0M113.8 86.2h0M153.0 27.7h0M146.3 51.7h0M145.0 55.7h0M154.9 29.1h0M143.1 33.4h0M155.0 51.9h0M136.6 69.5h0M126.6 45.0h0M130.9 58.2h0M91.3 97.3h0M124.3 33.9h0M5.7 32.5h0M87.1 57.7h0M100.5 50.0h0M97.4 39.6h0M102.3 20.5h0M129.5 62.6h0M129.8 31.7h0M125.7 86.7h0M121.9 31.4h0M134.5 48.6h0M116.6 45.8h0M107.9 84.4h0M131.7 79.7h0M60.9 51.4h0M91.5 63.2h0M156.3 36.8h0M147.2 49.2h0M139.0 51.4h0M145.5 67.5h0M37.2 72.4h0M135.8 62.1h0M165.8 29.8h0M124.5 41.2h0M147.7 71.2h0M111.3 80.5h0M150.9 54.7h0M146.0 75.3h0M133.2 74.6h0M111.2 86.0h0M159.4 43.4h0M149.3 50.7h0M150.6 57.1h0M146.0 92.0h0M108.9 82.9h0M67.1 53.7h0M120.3 50.3h0M84.3 107.0h0M28.7 21.1h0M97.2 65.7h0M90.2 78.5h0M127.4 42.2h0M134.8 51.1h0M122.5 44.0h0M14.6 30.6h0M67.5 88.3h0M156.9 56.9h0M127.5 48.5h0M129.5 81.8h0M154.0 40.3h0M137.2 51.9h0M127.3 49.6h0M150.4 57.2h0M84.4 64.4h0M24.8 12.8h0M165.5 20.6h0M146.8 54.2h0M128.4 66.2h0M152.2 48.0h0M125.8 56.9h0M137.6 60.7h0M93.4 62.7h0M89.1 96.5h0M154.9 42.8h0M100.7 32.7h0M144.1 97.0h0M149.8 66.6h0M96.8 92.5h0M144.7 48.2h0M110.0 47.1h0M126.3 35.7h0M115.9 32.3h0M90.3 88.8h0M99.0 31.0h0M133.4 48.5h0M118.3 64.8h0M151.5 45.3h0M87.3 54.3h0M145.5 54.5h0M146.2 65.4h0M115.0 65.0h0M118.7 60.2h0M140.3 39.9h0M145.5 41.6h0M90.0 86.4h0M113.6 85.2h0M140.0 69.6h0M140.2 65.4h0M102.9 73.8h0M118.0 86.9h0M149.7 54.0h0M10.9 62.5h0M154.7 40.7h0M98.9 82.3h0M148.4 66.2h0M156.6 39.7h0M117.3 83.2h0M106.9 40.0h0M94.4 65.0h0M89.1 38.4h0M117.6 80.5h0M120.9 47.3h0M82.5 66.5h0M129.3 40.2h0M144.8 49.6h0M117.2 53.8h0M145.9 52.1h0M115.1 81.4h0M127.6 53.1h0M150.3 64.9h0M129.7 37.6h0M32.8 73.7h0M123.8 81.1h0M147.1 103.2h0M138.4 72.3h0M111.3 49.4h0M79.6 73.8h0M10.8 49.4h0M104.0 93.4h0M161.5 32.2h0M109.3 89.6h0M125.7 54.0h0M148.1 56.3h0M86.2 73.5h0M138.7 68.4h0M131.1 31.4h0M130.9 54.8h0M139.8 39.1h0M114.4 67.2h0M118.8 76.5h0M97.1 63.1h0M130.1 67.7h0M157.2 36.0h0M104.8 71.9h0M147.3 59.3h0M133.8 70.2h0M107.2 73.2h0M86.9 66.1h0M143.9 68.6h0M138.8 42.8h0M127.9 53.4h0M97.7 47.7h0M17.2 15.7h0M142.5 85.3h0M146.8 33.8h0M87.2 37.9h0M138.9 42.5h0M131.1 68.8h0M96.9 64.9h0M147.9 67.6h0M142.3 92.5h0M128.6 58.1h0M159.3 29.0h0M134.4 72.1h0M140.9 94.8h0M81.4 101.4h0M147.4 60.7h0M160.0 41.4h0M142.5 85.5h0M132.0 83.6h0M128.7 33.2h0M109.8 67.3h0M151.1 60.6h0M114.3 86.9h0M153.9 34.7h0M159.1 33.3h0M119.0 87.0h0M109.0 60.3h0M95.6 39.7h0M152.1 47.2h0M14.1 39.6h0M118.4 55.4h0M138.3 39.8h0M84.6 94.8h0M111.2 89.8h0M135.2 50.7h0M151.5 49.8h0M155.7 50.1h0M151.4 30.1h0M103.9 66.8h0M87.6 63.0h0M152.2 46.3h0M161.6 23.2h0M121.1 87.5h0M111.1 33.5h0M94.9 52.0h0M104.1 29.2h0M128.1 38.4h0M121.6 42.4h0M91.9 86.8h0M112.5 53.5h0M150.0 50.1h0M143.1 94.8h0M127.8 42.0h0M102.6 71.2h0M89.7 57.7h0M153.0 26.8h0M116.5 86.7h0M110.6 56.7h0M129.7 48.6h0M142.5 71.3h0M161.9 29.6h0M143.1 53.2h0M142.6 86.8h0M108.4 53.6h0M116.4 66.5h0M111.8 33.6h0M127.1 62.6h0M102.3 41.1h0M144.5 64.7h0M88.9 54.2h0M148.6 99.0h0M138.0 50.8h0M29.1 58.4h0M139.4 85.7h0M113.9 29.6h0M155.7 44.7h0M141.3 44.1h0M111.9 39.8h0M99.7 37.4h0M109.1 69.6h0M92.2 71.1h0M151.3 43.6h0M108.6 85.1h0M156.6 39.9h0M120.6 60.7h0M127.2 70.8h0M64.0 80.5h0M134.5 48.4h0M123.1 37.9h0M109.7 59.3h0M115.3 87.4h0M114.1 82.6h0M141.5 40.6h0M142.2 97.1h0M128.8 55.8h0M134.7 83.0h0M110.9 54.8h0M107.4 15.9h0M145.3 96.8h0M7.1 46.8h0M145.7 59.4h0M136.0 54.5h0M141.9 92.3h0M100.5 82.2h0M132.1 51.5h0M88.0 59.6h0M142.6 87.7h0M111.5 52.5h0M154.7 42.9h0M113.8 30.6h0M137.4 80.4h0M89.2 50.6h0M115.0 60.6h0M124.5 36.9h0M108.8 51.4h0M101.8 25.7h0M161.7 31.4h0M166.9 30.2h0M147.6 34.6h0M125.1 35.7h0M130.3 41.7h0M158.2 36.5h0M136.7 76.3h0M93.2 26.5h0M118.0 89.1h0M90.0 74.9h0M122.6 88.7h0M152.8 35.8h0M120.4 30.9h0M135.9 55.4h0M150.0 51.7h0M142.7 65.9h0M84.9 50.1h0M102.8 79.7h0M106.9 47.0h0M119.1 51.1h0M144.5 101.0h0M153.7 57.6h0M126.4 70.9h0M147.7 49.9h0M108.1 93.2h0M113.5 77.6h0M136.6 41.2h0M143.1 59.7h0M152.7 45.6h0M147.2 94.5h0M133.1 81.9h0M92.4 66.5h0M122.3 40.3h0M147.3 58.8h0M150.8 44.8h0M149.0 64.5h0M151.9 61.3h0M113.7 77.8h0M150.7 49.1h0M102.8 87.2h0M147.1 97.8h0M105.9 56.6h0M127.1 65.1h0M141.6 87.3h0M141.9 65.7h0M120.6 72.0h0M138.7 91.9h0M95.9 52.6h0M156.5 41.9h0M167.8 28.0h0M124.2 74.4h0M161.3 28.0h0M59.9 63.2h0M131.7 69.2h0M140.6 69.3h0M108.7 34.0h0M87.6 69.4h0M118.6 78.6h0M110.6 48.8h0M127.4 34.4h0M87.2 52.0h0M156.2 37.2h0M147.5 58.7h0M117.8 78.6h0M82.0 20.2h0M137.2 43.4h0M132.6 79.9h0M136.3 83.5h0M166.7 33.1h0M106.2 52.5h0M121.7 69.6h0M135.0 61.2h0M134.4 74.5h0M81.7 96.7h0M115.2 30.4h0M160.3 37.2h0M124.4 35.4h0M143.3 34.4h0M113.5 67.8h0M125.8 86.3h0M144.2 76.2h0M143.1 66.0h0M112.2 41.2h0M156.4 47.1h0M148.3 52.0h0M143.2 77.5h0M141.7 88.8h0M131.3 58.9h0M151.9 55.3h0M134.0 51.4h0M75.0 85.1h0M139.6 39.5h0M125.7 51.1h0M152.2 34.8h0M142.6 62.8h0M160.9 35.6h0M144.5 53.5h0M140.8 52.7h0M39.3 34.2h0M119.6 41.1h0M157.9 50.5h0M93.7 46.1h0M110.9 31.9h0M101.5 24.4h0M153.6 43.9h0M152.2 41.6h0M117.9 61.9h0M110.7 92.7h0M164.6 27.5h0M120.1 55.2h0M140.5 78.0h0M117.4 89.1h0M158.6 45.3h0M22.5 68.4h0M148.1 52.8h0M150.0 52.7h0M124.8 56.0h0M133.0 49.9h0M150.2 51.3h0M94.4 90.0h0M120.5 80.9h0M159.9 27.7h0M89.1 79.2h0M139.3 50.5h0M129.7 44.4h0M127.4 56.5h0M145.4 77.1h0M115.2 35.7h0M150.5 105.0h0M129.6 45.5h0M147.3 57.3h0M125.4 40.9h0M152.7 59.9h0M86.4 66.5h0M80.2 95.6h0M29.3 32.1h0M98.3 28.4h0M115.5 21.3h0M116.4 24.0h0M126.6 51.6h0M137.5 70.8h0M146.1 70.4h0M141.9 39.8h0M145.9 54.3h0M101.4 62.2h0M89.8 95.0h0M147.9 72.8h0M136.8 72.5h0M140.7 69.0h0M89.8 60.9h0M107.1 38.7h0M105.0 52.0h0M114.5 72.3h0M115.6 65.6h0M146.4 34.0h0M134.7 47.3h0M145.5 97.9h0M95.9 59.9h0M82.5 89.5h0M116.3 47.1h0M139.1 87.3h0M149.2 41.8h0M157.4 53.5h0M154.5 31.5h0M107.9 74.1h0M149.7 100.0h0M158.0 44.8h0M167.2 28.3h0M153.0 67.8h0M126.3 78.8h0M146.5 103.3h0M79.0 93.8h0M131.3 70.2h0M80.5 86.9h0M128.7 75.7h0M86.8 94.3h0M138.6 48.2h0M158.9 40.8h0M150.8 105.0h0M97.6 83.3h0M149.6 99.5h0M123.1 52.9h0M151.4 64.5h0M142.9 55.4h0M107.3 50.1h0M148.8 56.1h0M146.7 72.6h0M95.7 38.7h0M152.7 54.2h0M168.2 19.7h0M82.4 96.4h0M113.8 42.9h0M148.9 39.2h0M154.9 41.6h0M148.5 100.9h0M130.4 70.3h0M96.3 42.9h0M85.3 101.1h0M123.2 44.5h0M145.7 100.6h0M139.1 45.6h0M142.3 69.8h0M114.0 93.7h0M166.0 18.6h0M109.1 70.2h0M145.8 94.2h0M116.8 66.7h0M146.6 38.7h0M141.2 89.8h0M102.9 83.1h0M116.4 71.7h0M109.4 35.9h0M83.9 71.7h0M130.5 34.8h0M152.8 23.9h0M85.4 94.3h0M135.5 73.3h0M109.3 28.8h0M134.6 72.5h0M129.1 70.2h0M110.4 90.3h0M156.5 53.2h0M98.3 29.1h0M107.4 70.1h0M127.8 46.1h0M134.3 61.2h0M91.5 73.3h0M123.2 85.6h0M159.5 29.9h0M122.4 58.1h0M62.2 60.8h0M135.8 69.1h0M125.3 73.3h0M96.0 78.8h0M97.0 27.7h0M113.9 37.3h0M86.5 96.1h0M91.4 53.6h0M117.9 73.9h0M112.0 91.0h0M106.9 85.9h0M139.6 78.5h0M154.7 41.5h0M152.2 36.2h0M160.6 22.7h0M88.7 67.8h0M118.3 55.0h0M100.3 79.3h0M144.1 102.1h0M111.3 76.0h0M129.9 64.9h0M138.2 69.1h0M106.0 39.7h0M40.9 39.7h0M111.2 94.7h0M7.8 52.0h0M140.8 44.3h0M136.8 47.4h0M122.1 87.5h0M136.9 46.5h0M81.6 85.9h0M142.1 69.2h0M143.2 53.5h0M140.0 40.0h0M124.3 29.7h0M105.2 52.7h0M105.4 84.0h0M125.6 41.7h0M124.9 45.7h0M122.0 64.1h0M85.1 44.5h0M117.5 68.6h0M149.7 62.0h0M131.7 67.8h0M120.5 86.1h0M109.8 30.6h0M144.6 92.6h0M120.2 52.8h0M133.1 68.7h0M122.7 80.9h0M95.5 27.1h0M119.1 46.1h0M145.7 65.1h0M142.6 63.2h0M149.3 99.4h0M139.5 91.6h0M144.0 98.6h0M148.8 38.0h0M95.6 89.7h0M107.6 90.6h0M166.6 25.5h0M115.7 55.0h0M83.8 91.9h0M124.4 67.1h0M144.2 102.8h0M99.5 28.1h0M152.6 39.1h0M121.7 60.0h0M139.6 63.4h0M124.5 75.4h0M158.3 43.1h0M91.8 51.1h0M10.6 21.4h0M153.7 61.5h0M94.3 37.7h0M135.8 51.6h0M153.3 36.9h0M101.1 26.3h0M160.2 33.9h0M158.7 35.8h0M113.7 74.8h0M78.0 91.5h0M127.7 53.5h0M95.6 75.6h0M88.2 34.2h0M160.6 37.8h0M128.7 56.3h0M98.8 57.6h0M160.3 31.8h0M119.0 42.0h0M90.9 90.9h0M163.1 37.2h0M153.5 44.9h0M88.5 84.7h0M81.6 16.1h0M93.0 77.2h0M53.8 48.2h0M98.5 21.2h0M141.8 56.4h0M133.2 52.9h0M143.4 51.7h0M114.5 93.1h0M142.9 37.6h0M143.2 45.2h0M150.2 62.5h0M118.1 66.8h0M138.0 70.0h0M103.7 21.6h0M131.8 67.1h0M95.5 54.4h0M122.4 37.6h0M140.6 56.2h0M155.9 44.9h0M142.6 86.7h0M90.4 79.3h0M102.6 89.9h0M123.6 30.5h0M73.9 57.8h0M96.8 41.6h0M147.6 56.9h0M154.0 57.7h0M143.8 53.3h0M151.5 47.1h0M134.2 89.0h0M140.0 57.8h0M125.4 44.6h0M162.3 38.0h0M124.6 28.6h0M96.9 28.0h0M90.7 58.5h0M41.1 75.3h0M143.7 62.9h0M147.0 64.8h0M151.4 46.9h0M151.1 70.0h0M109.1 28.0h0M111.7 78.3h0M122.0 37.9h0M127.3 79.5h0M88.1 96.0h0M29.6 8.8h0M158.0 45.1h0M151.5 45.5h0M145.2 64.6h0M138.1 66.7h0M149.8 70.4h0M128.0 54.0h0M158.0 40.5h0M156.5 59.4h0M121.7 51.9h0M110.1 37.8h0M139.7 70.8h0M142.6 88.4h0M105.2 67.2h0M89.8 84.0h0M130.1 46.3h0M93.0 18.4h0M121.2 42.2h0M131.5 35.8h0M115.9 56.3h0M38.6 29.7h0M148.6 71.2h0M131.4 58.3h0M138.7 73.9h0M172.3 18.1h0M127.3 60.8h0M114.2 53.3h0M164.3 32.9h0M161.4 31.0h0M93.2 50.2h0M83.4 46.3h0M92.5 79.8h0M110.5 67.3h0M135.3 42.0h0M105.3 81.3h0M152.6 49.2h0M97.1 53.6h0M148.9 39.1h0M121.7 75.5h0M115.9 67.4h0M153.3 37.0h0M90.9 60.4h0M145.6 68.9h0M145.7 55.3h0M102.9 21.2h0M119.2 58.1h0M155.2 65.7h0M146.3 96.1h0M163.5 34.9h0M161.3 24.3h0M93.2 57.7h0M112.9 41.3h0M50.7 13.6h0M84.8 62.7h0M86.7 89.8h0M80.5 44.7h0M118.0 62.3h0M132.1 46.2h0M151.1 57.1h0M127.1 61.2h0M121.3 83.0h0M106.9 37.0h0M143.7 40.0h0M103.6 87.4h0M153.2 60.0h0M132.5 64.0h0M153.9 51.8h0M151.4 54.4h0M108.5 82.0h0M145.2 90.9h0M123.7 87.2h0M164.6 24.5h0M130.2 35.1h0M44.9 75.1h0M145.2 67.3h0M121.1 67.9h0M107.9 49.2h0M136.9 81.9h0M144.6 55.5h0M144.5 102.3h0M131.1 49.7h0M130.8 49.7h0M106.2 43.4h0M150.5 42.7h0M143.6 66.2h0M116.2 86.7h0M165.2 32.8h0M114.9 23.7h0M132.3 41.9h0M144.2 53.1h0M133.6 40.9h0M117.4 75.0h0M108.9 58.8h0M113.2 57.4h0M145.9 98.8h0M121.4 56.1h0M130.7 80.7h0M110.3 70.8h0M134.4 65.5h0M88.1 87.1h0M107.4 47.5h0M112.0 74.0h0M97.8 74.3h0M132.8 55.3h0M130.7 47.2h0M123.8 51.4h0M105.2 73.9h0M141.4 99.1h0M102.8 65.3h0M127.4 43.7h0M131.1 66.2h0M99.6 72.1h0M79.0 82.8h0M145.7 59.3h0M102.7 82.5h0M143.3 68.7h0M145.3 102.5h0M142.9 100.8h0M106.7 59.5h0M110.8 88.3h0M143.4 99.8h0M84.2 63.4h0M127.0 48.1h0M135.7 73.7h0M10.9 27.3h0M97.4 25.6h0M91.1 62.5h0M135.1 45.6h0M163.1 36.7h0M110.6 62.7h0M104.3 68.7h0M125.3 52.2h0M159.6 22.0h0M130.8 51.0h0M134.2 75.9h0M121.4 52.3h0M134.5 78.3h0M138.5 60.1h0M106.0 91.2h0M111.8 58.5h0M148.6 66.2h0M153.4 63.3h0M128.5 32.0h0M124.1 70.2h0M119.4 60.1h0M165.7 32.7h0M23.1 65.6h0M134.3 63.8h0M142.1 96.9h0M102.5 25.3h0M148.6 60.0h0M146.0 68.4h0M153.1 54.2h0M137.1 84.2h0M151.4 42.4h0M153.0 60.5h0M152.0 35.2h0M151.4 52.3h0M155.6 33.0h0M101.2 86.3h0M125.5 88.2h0M118.9 83.9h0M126.2 75.9h0M85.3 90.8h0M151.6 41.6h0M100.1 74.3h0M140.4 65.0h0M137.3 68.7h0M165.1 29.6h0M42.3 75.3h0M137.0 62.3h0M91.0 55.4h0M120.3 79.9h0M131.0 52.7h0M103.0 74.2h0M144.8 76.6h0M130.8 49.3h0M88.4 95.7h0M125.9 88.8h0M141.1 55.0h0M129.1 33.2h0M132.0 44.8h0M151.8 31.5h0M127.3 47.1h0M147.8 94.1h0M127.0 71.8h0M23.5 3.5h0M140.1 51.8h0M103.8 68.0h0M118.9 68.4h0M120.9 45.2h0M156.2 22.0h0M123.5 45.4h0M139.8 60.0h0M125.8 39.0h0M126.2 51.9h0M116.0 50.4h0M23.1 57.5h0M100.2 54.9h0M138.1 70.5h0M143.7 80.8h0M131.6 77.7h0M128.2 60.3h0M147.4 57.5h0M146.7 46.3h0M147.5 35.6h0M127.3 71.6h0M119.6 44.3h0M134.3 70.7h0M90.0 70.5h0M148.8 48.1h0M112.4 30.9h0M97.8 65.5h0M159.2 35.0h0M144.7 103.2h0M121.6 41.2h0M140.2 83.2h0M98.2 84.1h0M135.2 69.9h0M140.5 70.9h0M164.2 31.9h0M158.5 37.5h0M114.2 45.3h0M137.3 48.9h0M148.1 96.4h0M131.6 71.5h0M92.6 64.5h0M158.6 41.5h0M11.8 24.5h0M130.6 84.3h0M83.8 89.7h0M141.7 61.1h0M77.5 77.9h0M125.8 63.3h0M98.0 56.5h0M116.2 62.8h0M89.8 39.3h0M147.0 57.8h0M98.9 73.3h0M121.3 82.4h0M141.5 98.8h0M140.9 73.7h0M159.5 32.7h0M142.8 55.1h0M90.6 87.0h0M122.6 62.9h0M148.9 50.3h0M124.5 36.7h0M149.0 70.9h0M121.0 45.2h0M113.6 59.3h0M136.1 87.3h0M83.7 32.1h0M123.1 43.3h0M121.0 47.0h0M157.1 37.8h0M89.6 96.7h0M136.6 75.2h0M81.3 16.5h0M133.1 81.1h0M88.8 76.5h0M108.6 50.3h0M160.1 34.3h0M125.6 65.6h0M105.3 62.5h0M122.8 46.5h0M153.3 59.0h0M159.4 33.5h0M132.3 86.9h0M129.0 35.7h0M10.0 29.1h0M103.2 83.7h0M134.6 59.4h0M158.9 64.0h0M131.7 48.2h0M111.0 51.6h0M157.2 26.3h0M142.9 34.3h0M114.3 40.7h0M128.7 44.0h0M157.7 38.3h0M167.4 22.4h0M158.4 32.3h0M82.2 105.6h0M151.4 49.5h0M132.7 74.1h0M77.1 82.9h0M150.5 54.1h0M111.7 37.5h0M126.3 76.4h0M65.5 88.9h0M105.7 39.2h0M132.5 43.4h0M120.3 83.6h0M147.9 104.5h0M147.0 62.4h0M143.3 38.9h0M95.2 58.6h0M118.5 57.2h0M133.5 65.3h0M129.4 33.2h0M82.5 88.4h0M127.7 41.6h0M75.6 65.4h0M74.6 81.0h0M92.3 77.1h0M103.4 70.8h0M111.4 85.1h0M109.7 54.2h0M155.4 34.8h0M150.7 48.7h0M153.0 36.3h0M113.1 85.2h0M157.1 26.6h0M131.1 79.9h0M97.6 82.9h0M156.9 44.6h0M127.0 76.5h0M108.8 36.2h0M111.1 74.7h0M161.2 35.5h0M95.2 87.0h0M140.4 78.5h0M136.2 86.0h0M146.5 59.0h0M127.6 46.5h0M139.1 74.8h0"/>
<path stroke="#ffd700" stroke-width="1.4" d="M77.8 81.5h0M96.4 69.2h0M95.9 62.1h0M139.5 45.5h0M133.1 82.8h0M128.9 84.8h0M115.0 85.6h0M77.2 20.6h0M158.5 22.6h0M171.0 17.9h0M152.8 34.3h0M153.9 29.7h0M147.9 40.9h0M146.4 42.4h0M142.2 46.9h0M149.3 45.6h0M148.1 52.8h0M157.1 49.5h0M146.7 69.5h0M144.7 78.4h0M136.6 85.5h0M128.4 89.3h0M124.9 88.6h0M104.7 81.2h0M103.7 86.3h0M97.8 77.5h0M82.4 75.4h0M75.2 85.5h0M87.3 97.1h0M82.8 72.5h0M85.8 54.6h0M83.6 45.7h0M89.8 39.1h0M101.6 32.5h0M96.4 26.2h0M105.4 33.3h0M104.4 29.1h0M121.9 27.9h0M118.6 50.7h0M121.5 51.7h0M119.9 46.5h0M124.7 47.0h0M122.7 60.9h0M115.5 61.1h0M115.3 67.4h0M116.1 73.1h0M119.4 70.5h0M125.5 73.3h0M134.5 72.4h0M153.7 62.2h0M154.2 65.8h0M147.7 94.6h0M127.5 32.9h0M135.8 61.2h0M113.2 46.9h0"/>
<path stroke="#ffd700" stroke-width="1" d="M8.6 35.7h0M9.3 39.7h0M3.5 33.3h0M38.0 65.7h0M25.9 74.3h0M57.4 66.2h0M50.6 51.0h0M62.9 55.9h0M63.3 43.6h0M59.5 35.8h0M69.3 31.6h0M47.5 14.6h0M39.4 15.8h0M44.7 17.9h0M47.0 22.2h0M42.6 30.8h0M40.9 33.2h0M34.6 33.4h0M33.0 56.6h0M14.6 9.1h0M17.7 2.6h0M24.3 15.3h0M34.7 68.0h0M28.5 67.0h0M68.4 83.5h0"/>
<polyline points="17.7,2.6 17.6,5.9 16.8,7.3 16.1,8.6 14.6,9.1 13.9,12.1 13.5,15.4 11.8,17.5 10.6,21.0" stroke="#ffa500" stroke-width="1.1" stroke-opacity="0.85" stroke-linejoin="round"/>
<polyline points="5.2,47.2 5.7,48.1 6.4,49.4" stroke="#ffa500" stroke-width="1.1" stroke-opacity="0.85" stroke-linejoin="round"/>
<polyline points="5.7,47.2 7.3,45.9 9.1,44.7" stroke="#ffa500" stroke-width="1.1" stroke-opacity="0.85" stroke-linejoin="round"/>
<polyline points="9.1,44.7 9.0,47.4 9.6,48.9 10.8,50.8 12.5,53.7 13.7,55.8 13.6,59.9" stroke="#ffa500" stroke-width="1.1" stroke-opacity="0.85" stroke-linejoin="round"/>
<polyline points="10.3,63.3 11.8,64.6 13.7,65.3 14.8,66.0 15.8,67.5 16.4,69.0 17.0,70.2 17.5,72.3" stroke="#ffa500" stroke-width="1.1" stroke-opacity="0.85" stroke-linejoin="round"/>
<polyline points="14.8,66.0 16.3,66.3 17.7,67.1 18.1,66.5" stroke="#ffa500" stroke-width="1.1" stroke-opacity="0.85" stroke-linejoin="round"/>
<polyline points="41.2,40.3 41.1,42.3 41.4,44.6" stroke="#ffa500" stroke-width="1.1" stroke-opacity="0.85" stroke-linejoin="round"/>
<polyline points="62.3,45.8 62.3,49.5 62.4,53.3 62.9,55.9" stroke="#ffa500" stroke-width="1.1" stroke-opacity="0.85" stroke-linejoin="round"/>
<polyline points="34.5,72.4 35.3,72.8 36.5,73.2" stroke="#ffa500" stroke-width="1.1" stroke-opacity="0.85" stroke-linejoin="round"/>
<polyline points="167.1,29.7 166.6,32.2 164.7,34.5 162.5,35.4 160.9,37.0 159.9,38.6 158.9,40.1 158.0,41.3 157.0,42.7 156.0,43.8 153.0,46.4 152.0,48.3 151.2,51.0 151.9,54.2" stroke="#ffa500" stroke-width="1.1" stroke-opacity="0.85" stroke-linejoin="round"/>
<polyline points="151.1,104.8 151.0,102.5 150.9,100.8 149.5,98.6 148.1,95.8" stroke="#ffa500" stroke-width="1.1" stroke-opacity="0.85" stroke-linejoin="round"/>
<polyline points="141.3,97.1 143.1,96.4 144.9,94.0 145.8,91.0" stroke="#ffa500" stroke-width="1.1" stroke-opacity="0.85" stroke-linejoin="round"/>
<polyline points="86.3,80.4 88.2,80.3" stroke="#ffa500" stroke-width="1.1" stroke-opacity="0.85" stroke-linejoin="round"/>
<polyline points="84.7,90.9 83.7,92.4 81.9,94.4" stroke="#ffa500" stroke-width="1.1" stroke-opacity="0.85" stroke-linejoin="round"/>
<polyline points="131.2,73.8 134.3,71.0 137.4,68.2 138.9,67.6 142.4,65.8 143.9,62.3 145.3,61.7 148.3,61.6 149.3,62.3" stroke="#ffa500" stroke-width="1.1" stroke-opacity="0.85" stroke-linejoin="round"/>
<polyline points="115.6,35.8 116.2,38.0 116.8,40.7 118.1,41.7" stroke="#ffa500" stroke-width="1.1" stroke-opacity="0.85" stroke-linejoin="round"/>
<polyline points="130.7,36.9 128.8,37.6" stroke="#ffa500" stroke-width="1.1" stroke-opacity="0.85" stroke-linejoin="round"/>
<polyline points="135.5,40.1 136.3,41.7 136.9,42.8" stroke="#ffa500" stroke-width="1.1" stroke-opacity="0.85" stroke-linejoin="round"/>
<path stroke="#ffa500" stroke-width="4.2" d="M159.9 38.6h0M116.8 40.7h0M88.2 80.3h0M93.3 93.0h0M152.0 48.3h0M157.0 42.7h0M151.0 104.2h0M131.2 73.8h0M167.1 29.7h0M130.7 36.9h0"/>
<path stroke="#ffa500" stroke-width="3.4" d="M14.8 66.0h0M35.3 72.8h0M5.6 47.4h0M16.8 7.3h0"/>
<path stroke="#ffa500" stroke-width="3.2" d="M86.3 80.4h0M99.1 28.5h0M141.3 97.1h0M109.7 55.0h0M153.0 46.4h0M144.9 94.0h0M142.4 65.8h0M81.9 94.4h0M141.5 43.6h0M84.7 90.9h0M128.0 51.3h0M95.6 53.5h0M132.4 47.0h0M122.4 49.1h0M135.5 40.1h0M121.9 64.5h0M156.2 56.3h0M115.6 35.8h0M142.7 86.7h0M85.8 68.9h0M149.3 62.3h0M111.3 69.7h0M112.6 91.6h0M124.4 55.3h0M162.2 37.7h0M159.3 38.7h0"/>
<path stroke="#ffa500" stroke-width="2.6" d="M17.5 72.3h0M62.3 49.5h0M13.5 15.4h0M9.1 44.7h0M27.1 59.5h0M6.4 49.4h0M41.1 42.3h0M17.7 67.1h0M15.8 67.5h0"/>
<path stroke="#ffa500" stroke-width="2.2" d="M166.6 32.2h0M151.9 54.2h0M162.8 33.4h0M143.1 32.8h0M123.0 75.6h0M146.7 30.9h0M122.5 35.5h0M91.0 66.0h0M91.2 44.4h0M158.7 30.5h0M131.6 64.3h0M108.5 89.7h0M137.4 68.2h0M142.6 71.1h0M147.2 75.6h0M128.7 48.4h0M155.4 40.2h0M98.5 42.9h0M103.7 71.7h0M151.2 30.5h0M145.3 61.7h0M129.7 40.1h0M111.1 36.0h0M86.6 59.5h0M151.4 42.5h0M127.4 68.7h0M111.6 81.7h0M128.6 55.7h0M100.0 61.4h0M126.1 36.0h0M119.7 87.9h0M85.8 101.2h0M82.5 107.9h0M123.2 70.5h0M144.3 102.2h0M141.4 99.6h0M162.5 35.4h0M158.0 41.3h0M148.3 61.6h0M150.9 100.8h0M160.9 37.0h0"/>
<path stroke="#ffa500" stroke-width="1.8" d="M38.3 78.5h0M12.5 53.7h0M54.8 68.5h0M13.6 59.9h0M53.8 82.6h0M30.3 27.9h0M30.4 10.6h0M62.4 53.3h0M15.3 42.2h0M41.2 40.3h0M41.4 44.6h0M18.1 66.5h0M16.1 8.6h0"/>
<path stroke="#ffa500" stroke-width="1.4" d="M165.0 30.7h0M136.3 41.7h0M125.0 43.2h0M154.1 37.0h0M98.9 81.3h0M122.7 88.8h0M133.3 87.6h0M143.6 79.1h0M139.7 73.8h0M125.2 80.3h0M168.0 23.7h0M165.2 27.4h0M88.8 34.7h0M88.7 20.7h0M148.1 95.7h0M145.8 91.0h0M143.1 96.4h0M141.7 91.7h0M140.8 89.9h0M152.9 68.3h0M143.9 56.8h0M136.4 65.2h0M118.6 57.1h0M111.2 46.1h0M112.3 39.3h0M111.3 49.9h0M115.7 48.2h0M104.4 41.0h0M107.9 42.8h0M88.9 46.3h0M92.0 53.7h0M86.9 85.5h0M84.8 87.3h0M97.9 91.6h0M105.4 90.8h0M101.1 90.9h0M93.5 82.1h0M97.2 66.4h0M102.9 53.9h0M102.3 20.8h0M114.8 29.6h0M128.5 34.5h0M123.1 38.2h0M121.3 41.0h0M140.0 36.6h0M139.0 41.2h0M136.9 42.8h0M137.7 53.2h0M135.0 53.3h0M136.6 62.1h0M146.4 55.8h0M149.1 65.5h0M150.1 71.1h0M134.3 77.2h0M129.7 79.4h0M120.4 77.2h0M162.8 31.9h0M159.9 44.6h0M156.0 43.8h0M153.3 43.1h0M152.1 43.7h0M154.3 41.6h0M151.2 51.0h0M143.8 61.9h0M138.9 67.6h0M116.0 89.6h0M77.9 102.2h0M85.3 109.0h0M89.7 89.2h0M113.8 30.8h0M119.9 63.1h0M149.5 98.6h0M144.9 104.2h0M128.8 37.6h0M94.9 54.4h0"/>
<path stroke="#ffa500" stroke-width="1.2" d="M70.6 76.3h0M54.4 22.9h0M71.2 69.4h0M69.4 82.9h0M9.2 28.2h0M10.6 21.0h0M11.8 17.5h0M20.8 12.8h0M24.4 15.3h0M10.3 63.3h0M9.6 48.9h0M9.0 47.4h0M5.1 44.2h0M53.0 80.1h0M62.3 45.8h0M11.8 64.6h0M20.5 68.4h0M13.7 55.8h0M6.4 52.3h0M17.6 5.9h0"/>
<path stroke="#ffa500" stroke-width="1.1" stroke-opacity="0.85" d="M144.7 48.3h0M143.0 40.4h0M152.9 27.7h0M150.7 42.0h0M124.8 34.4h0M135.8 58.7h0M120.0 81.9h0M154.1 38.4h0M141.7 62.5h0M144.4 43.4h0M138.2 77.5h0M145.5 59.4h0M98.3 45.5h0M126.3 76.3h0M93.0 64.7h0M135.3 78.5h0M145.8 56.5h0M116.4 42.7h0M141.1 77.6h0M152.1 62.7h0M120.6 41.0h0M119.0 74.2h0M129.6 37.8h0M75.7 73.6h0M141.9 40.9h0M159.2 40.4h0M124.5 28.7h0M98.6 67.1h0M133.7 50.5h0M135.7 77.9h0M104.6 43.4h0M94.7 89.4h0M153.9 54.1h0M91.5 78.3h0M110.4 37.3h0M151.8 38.6h0M109.6 51.9h0M148.8 51.3h0M159.5 62.7h0M134.5 68.4h0M115.5 32.1h0M158.7 40.1h0M131.1 54.8h0M141.1 66.4h0M126.9 31.1h0M150.4 40.5h0M113.5 49.4h0M130.9 42.9h0M141.7 87.9h0M137.6 68.9h0M120.3 54.9h0M143.0 96.5h0M130.4 52.8h0M120.6 73.7h0M126.3 52.7h0M149.2 99.2h0M103.5 88.1h0M120.2 89.2h0M149.9 39.6h0M106.6 79.1h0M123.9 67.4h0M83.3 85.2h0M32.2 73.1h0M156.3 35.4h0M165.9 20.3h0M98.5 35.0h0M83.9 67.3h0M109.3 43.1h0M162.1 31.3h0M136.7 41.2h0M154.1 38.2h0M129.0 50.6h0M103.0 72.5h0M157.7 49.5h0M153.4 56.1h0M115.9 46.1h0M107.6 86.6h0M150.6 59.0h0M144.0 69.7h0M91.7 51.9h0M74.0 57.7h0M123.9 43.2h0M142.9 34.1h0M36.7 33.5h0M107.1 86.5h0M149.7 101.6h0M143.0 99.9h0M123.7 39.0h0M102.7 81.7h0M134.9 58.2h0M126.4 62.4h0M108.6 47.2h0M64.0 55.4h0M154.5 22.6h0M120.1 41.0h0M158.1 42.4h0M34.7 36.4h0M135.0 51.6h0M143.0 64.7h0M142.8 57.3h0M88.4 51.2h0M10.4 48.2h0M86.0 86.6h0M138.8 41.0h0M108.7 60.2h0M123.1 42.2h0M118.9 55.6h0M124.1 86.2h0M106.5 55.0h0M115.6 71.6h0M124.6 61.0h0M136.4 78.2h0M135.0 43.0h0M98.3 55.4h0M123.5 39.1h0M80.1 91.6h0M86.5 83.7h0M125.9 31.0h0M159.1 37.8h0M125.0 41.9h0M111.0 74.7h0M114.2 34.9h0M150.5 42.6h0M137.1 63.7h0M134.6 73.0h0M76.9 78.9h0M151.0 47.6h0M122.5 51.6h0M122.3 35.0h0M126.9 76.8h0M85.1 72.1h0M87.7 72.2h0M93.5 55.1h0M147.6 58.7h0M100.8 40.1h0M126.8 83.6h0M93.4 70.9h0M104.1 58.8h0M127.4 40.8h0M157.6 36.5h0M84.5 93.0h0M143.2 64.8h0M151.0 57.0h0M145.4 53.5h0M39.0 73.6h0M100.5 60.5h0M155.3 47.8h0M128.4 33.8h0M77.4 65.2h0M132.1 68.8h0M90.1 42.1h0M148.3 65.8h0M84.6 58.2h0M152.6 41.6h0M113.7 60.3h0M126.1 58.2h0M144.1 88.4h0M154.7 66.7h0M98.2 53.5h0M83.5 97.3h0M79.0 70.0h0M145.0 48.5h0M122.4 38.1h0M134.0 40.4h0M134.6 60.4h0M126.5 49.7h0M166.7 13.0h0M149.3 54.1h0M106.3 68.1h0M127.9 48.9h0M137.6 71.6h0M146.6 41.9h0M42.0 44.2h0M139.3 80.0h0M146.3 55.8h0M149.1 66.3h0M146.4 70.7h0M115.8 65.3h0M143.7 66.5h0M163.9 24.5h0M127.7 52.6h0M144.6 98.2h0M128.8 58.3h0M144.4 88.9h0M128.5 46.0h0M164.6 29.5h0M93.8 49.6h0M153.3 56.6h0M106.2 86.9h0M83.7 62.3h0M110.1 44.8h0M149.9 51.2h0M95.4 57.4h0M109.2 89.7h0M147.6 47.5h0M92.0 54.8h0M121.3 88.0h0M141.1 91.8h0M150.8 48.5h0M101.7 73.5h0M140.5 61.2h0M83.4 43.9h0M141.9 70.0h0M167.4 25.7h0M156.8 26.2h0M153.2 46.1h0M78.2 99.4h0M154.3 61.1h0M145.6 42.4h0M154.4 49.3h0M159.4 37.4h0M145.7 70.0h0M82.4 43.9h0M168.4 31.1h0M130.7 70.2h0M152.5 36.8h0M123.2 75.1h0M92.5 86.7h0M119.7 47.6h0M113.2 87.6h0M79.7 21.6h0M125.6 46.2h0M118.4 46.2h0M93.0 63.8h0M138.7 64.7h0M91.5 46.4h0M154.2 37.5h0M157.8 31.2h0M84.8 40.8h0M128.3 42.0h0M126.6 54.2h0M148.9 104.0h0M141.2 87.1h0M138.6 67.2h0M146.1 50.0h0M137.1 71.9h0M141.4 43.0h0M109.2 53.9h0M109.4 71.2h0M123.6 88.0h0M140.4 65.5h0M102.4 46.1h0M131.1 74.7h0M112.7 43.3h0M135.9 63.8h0M137.4 75.5h0M114.3 49.7h0M127.3 71.2h0M127.5 76.3h0M124.1 54.3h0M139.5 43.8h0M140.5 52.9h0M13.9 6.1h0M158.7 33.8h0M150.8 68.4h0M130.1 58.8h0M89.6 93.7h0M133.0 62.6h0M127.1 57.9h0M75.7 74.2h0M113.9 57.7h0M148.8 35.2h0M106.3 53.0h0M156.4 39.2h0M142.1 89.4h0M137.6 61.4h0M156.8 59.8h0M26.0 17.8h0M116.9 75.7h0M143.3 67.3h0M158.9 43.5h0M140.4 76.1h0M143.1 34.9h0M149.9 49.7h0M128.5 55.4h0M126.3 67.5h0M93.7 30.5h0M124.6 50.9h0M81.7 104.0h0M154.7 60.5h0M134.7 44.5h0M112.9 33.9h0M117.8 56.9h0M111.0 60.9h0M129.9 73.3h0M114.6 51.4h0M151.1 58.8h0M149.0 29.5h0M151.2 35.9h0M133.5 45.5h0M138.2 53.1h0M88.9 58.7h0M148.8 45.1h0M164.8 32.1h0M134.0 62.0h0M128.8 55.9h0M141.6 90.9h0M146.3 66.9h0M119.8 76.3h0M137.2 60.0h0M134.6 81.9h0M100.1 29.1h0M160.2 28.6h0M148.9 43.8h0M109.0 84.7h0M132.5 48.2h0M126.2 38.0h0M115.7 74.5h0M79.2 65.5h0M124.3 69.5h0M166.7 23.6h0M153.1 32.1h0M135.2 67.7h0M99.5 75.7h0M159.7 30.8h0M147.8 47.5h0M141.7 37.5h0M144.3 74.2h0M120.9 62.0h0M115.4 46.0h0M134.5 82.0h0M152.5 38.5h0M116.1 60.0h0M148.6 61.4h0M118.3 75.3h0M144.9 34.9h0M125.1 51.3h0M164.0 32.6h0M81.4 85.6h0M102.6 42.0h0M85.2 53.5h0M161.2 34.3h0M143.7 42.4h0M138.8 70.0h0M126.4 46.1h0M125.6 66.6h0M101.1 52.8h0M104.6 82.1h0M145.1 63.2h0M118.3 85.7h0M137.4 47.2h0M124.6 70.1h0M153.2 28.5h0M154.4 54.6h0M106.1 69.8h0M148.2 43.1h0M130.7 66.4h0M131.9 66.6h0M85.5 27.8h0M95.1 71.6h0M138.1 73.0h0M126.1 57.8h0M95.8 29.7h0M107.2 83.7h0M120.6 67.3h0M140.7 47.3h0M87.1 57.0h0M157.8 33.5h0M147.3 53.2h0M132.8 61.4h0M121.6 78.7h0M139.9 70.6h0M110.9 76.5h0M131.4 52.7h0M129.9 79.3h0M152.9 66.3h0M154.2 43.6h0M115.8 87.9h0M133.8 44.6h0M97.2 44.5h0M149.6 52.6h0M157.0 57.6h0M123.7 52.7h0M121.3 64.7h0M125.4 47.5h0M157.2 57.9h0M141.2 69.0h0M97.6 93.2h0M157.1 34.9h0M86.7 101.0h0M163.4 34.9h0M94.8 35.1h0M158.8 28.4h0M11.2 46.4h0M145.7 64.4h0M142.5 68.1h0M155.9 41.9h0M135.7 60.4h0M11.7 35.1h0M103.5 64.7h0M153.9 57.8h0M88.8 63.4h0M100.9 50.0h0M126.3 29.8h0M126.4 31.4h0M96.2 51.5h0M159.6 29.8h0M128.8 39.6h0M36.7 20.4h0M81.2 69.3h0M129.5 50.4h0M94.1 79.7h0M131.0 75.6h0M131.6 62.9h0M138.9 65.4h0M118.0 83.2h0M161.7 24.5h0M104.2 45.6h0M125.5 78.5h0M77.6 86.6h0M95.8 90.1h0M148.8 60.9h0M140.4 36.9h0M144.5 50.4h0M147.5 96.2h0M149.5 51.1h0M130.3 82.6h0M100.8 75.7h0M94.7 90.2h0M113.7 30.8h0M88.7 92.2h0M140.7 58.9h0M129.5 55.1h0M96.9 28.3h0M117.8 48.3h0M101.5 86.4h0M80.8 98.4h0M157.0 41.8h0M152.0 62.1h0M162.1 38.2h0M128.1 54.3h0M82.3 58.5h0M102.7 64.3h0M124.7 77.0h0M86.8 95.9h0M151.8 35.0h0M126.9 79.2h0M129.7 63.4h0M136.6 65.3h0M155.5 34.2h0M161.0 26.6h0M165.8 34.3h0M137.9 54.7h0M107.2 90.6h0M150.7 40.1h0M131.5 89.7h0M157.1 42.1h0M120.0 89.4h0M112.3 32.3h0M93.0 27.4h0M121.2 48.6h0M123.4 51.6h0M115.1 38.4h0M78.3 92.3h0M140.1 46.9h0M155.8 42.8h0M93.5 92.1h0M100.3 44.2h0M68.6 48.3h0M128.8 43.5h0M140.4 71.0h0M117.4 70.0h0M139.8 79.9h0M112.7 85.7h0M104.3 81.0h0M21.5 71.0h0M124.5 41.3h0M114.3 58.3h0M157.1 44.2h0M101.5 75.8h0M153.2 50.9h0M113.7 91.2h0M117.3 60.2h0M120.7 43.0h0M98.1 53.0h0M111.4 48.6h0M85.8 63.0h0M96.0 64.8h0M163.2 32.5h0M127.6 57.7h0M124.8 87.0h0M143.8 61.7h0M146.4 48.7h0M131.3 32.1h0M148.7 47.0h0M157.5 43.4h0M114.4 40.4h0M142.0 58.5h0M75.1 93.0h0M149.3 41.1h0M112.8 91.0h0M132.6 72.1h0M152.1 53.8h0M127.6 62.3h0M135.6 40.0h0M102.6 32.5h0M142.3 91.8h0M159.4 28.3h0M114.3 67.4h0M134.7 54.9h0M121.9 73.0h0M153.0 29.9h0M152.5 44.2h0M143.3 39.2h0M167.6 30.7h0M137.9 66.2h0M118.9 59.9h0M110.5 26.2h0M138.4 65.9h0M128.4 40.5h0M143.8 100.8h0M128.9 47.8h0M144.2 67.2h0M120.2 84.0h0M124.1 48.9h0M128.1 79.8h0M96.6 25.8h0M138.4 69.0h0M89.2 88.7h0M128.9 44.6h0M143.4 48.9h0M131.8 52.5h0M135.6 83.2h0M132.6 67.3h0M145.9 32.5h0M135.6 49.4h0M149.9 56.4h0M130.5 46.5h0M146.6 65.3h0M143.6 72.1h0M134.8 56.5h0M142.9 39.9h0M113.1 73.8h0M123.1 38.1h0M109.5 34.7h0M137.1 71.0h0M152.9 63.0h0M137.6 71.4h0M136.0 88.8h0M150.1 57.4h0M126.5 36.9h0M103.7 38.4h0M141.7 94.8h0M164.1 19.4h0M142.3 81.1h0M130.2 37.4h0M110.1 36.4h0M134.0 46.2h0M114.7 86.8h0M145.0 67.9h0M131.2 75.2h0M146.8 71.2h0M125.4 35.3h0M108.7 54.8h0M127.9 39.6h0M61.0 71.4h0M129.5 80.7h0M158.3 60.7h0M129.8 87.2h0M155.6 49.8h0M143.1 78.7h0M131.3 42.8h0M126.3 49.9h0M113.9 41.0h0M140.1 89.0h0M122.2 54.1h0M114.4 44.2h0M141.5 59.9h0M137.1 68.5h0M90.9 78.5h0M128.7 79.3h0M147.5 50.0h0M125.2 31.7h0M145.4 45.7h0M126.6 63.4h0M154.1 35.8h0M77.8 90.9h0M135.7 71.1h0M113.9 67.5h0M120.4 79.2h0M90.6 96.0h0M94.8 56.3h0M132.5 44.9h0M147.2 39.5h0M83.0 80.0h0M18.8 66.0h0M84.6 26.4h0M130.4 82.7h0M136.3 65.1h0M123.4 45.4h0M90.8 71.0h0M94.9 55.2h0M106.3 87.2h0M164.8 26.0h0M146.8 43.7h0M135.6 75.7h0M101.2 50.1h0M93.1 58.6h0M108.5 71.8h0M124.8 83.1h0M143.3 51.0h0M156.5 48.2h0M136.4 55.3h0M128.6 65.0h0M145.9 74.4h0M141.3 89.3h0M159.3 31.9h0M136.6 70.9h0M141.3 86.1h0M116.9 86.7h0M104.8 75.1h0M96.4 46.2h0M128.2 50.1h0M127.5 67.9h0M121.5 50.2h0M84.7 92.6h0M145.5 50.3h0M88.5 67.9h0M90.9 32.7h0M88.1 29.2h0M158.1 34.4h0M142.0 55.1h0M114.5 29.4h0M154.8 45.6h0M122.5 53.7h0M88.2 87.2h0M157.2 42.6h0M137.2 62.0h0M85.6 79.8h0M137.7 64.7h0M121.6 57.2h0M106.5 56.3h0M29.6 23.4h0M137.5 45.1h0M139.1 82.4h0M154.2 61.1h0M93.1 59.5h0M163.2 30.2h0M91.2 64.9h0M100.0 79.4h0M148.3 61.5h0M159.7 44.8h0M82.1 62.8h0M159.8 43.0h0M144.7 73.8h0M154.4 44.0h0M135.5 75.5h0M87.1 88.1h0M102.5 60.7h0M156.2 43.9h0M93.9 92.2h0M149.2 36.3h0M163.7 30.6h0M126.3 84.7h0M128.4 67.8h0M157.4 41.1h0M122.6 48.9h0M7.4 49.1h0M142.8 86.4h0M110.1 47.1h0M121.6 74.5h0M127.8 78.4h0M101.2 54.0h0M117.7 77.8h0M158.1 37.3h0M148.2 53.8h0M157.6 43.1h0M130.0 65.3h0M25.8 59.4h0M117.7 58.9h0M141.0 55.4h0M118.5 69.5h0M148.4 99.0h0M129.6 51.5h0M84.1 94.2h0M85.7 87.9h0M122.1 66.6h0M111.8 64.7h0M121.8 50.1h0M108.6 78.7h0M130.2 55.9h0M9.0 39.7h0M102.6 53.1h0M120.3 88.1h0M41.9 55.9h0M133.0 56.5h0M153.1 67.5h0M121.6 46.4h0M138.6 41.6h0M145.7 67.9h0M131.9 42.7h0M131.0 37.0h0M137.0 80.0h0M152.2 36.6h0M138.7 81.9h0M87.2 78.0h0M105.2 70.0h0M89.2 96.0h0M144.3 58.2h0M116.8 85.1h0M93.3 89.9h0M121.0 58.7h0M124.1 40.5h0M151.0 43.8h0M87.3 84.8h0M97.1 52.2h0M95.5 53.6h0M150.7 51.2h0M122.4 53.4h0M159.3 32.3h0"/>
<path stroke="#ff7f50" stroke-width="1.1" stroke-opacity="0.85" d="M151.3 45.6h0M150.6 61.5h0M85.4 83.1h0M137.4 42.5h0M142.0 65.1h0M87.6 76.9h0M170.6 31.8h0M142.0 70.2h0M145.7 55.1h0M102.4 70.5h0M97.5 58.1h0M99.7 37.7h0M123.3 37.3h0M141.7 42.0h0M119.9 64.7h0M138.6 74.6h0M91.4 78.7h0M82.7 87.1h0M113.5 78.8h0M87.3 71.4h0M110.7 67.2h0M139.2 69.1h0M126.7 32.9h0M133.2 47.7h0M135.0 46.4h0M135.8 41.5h0M132.3 42.1h0M133.9 75.2h0M73.7 81.6h0M111.7 52.1h0M124.9 61.2h0M124.1 31.0h0M82.8 101.3h0M113.3 48.2h0M139.7 57.6h0M131.9 34.9h0M122.6 32.6h0M112.6 75.9h0M89.9 29.7h0M113.1 75.8h0M149.3 67.3h0M114.5 64.6h0M136.6 86.7h0M139.8 80.9h0M144.7 66.9h0M146.5 65.6h0M96.8 78.6h0M89.7 68.2h0M125.4 86.2h0M134.4 65.7h0M145.2 59.9h0M125.4 86.6h0M131.7 68.2h0M141.3 66.1h0M96.7 40.7h0M154.4 53.5h0M101.9 68.1h0M130.2 76.9h0M145.4 54.0h0M78.4 81.1h0M163.8 32.1h0M146.9 103.7h0M103.0 34.2h0M135.2 66.0h0M75.1 97.8h0M157.7 30.8h0M98.4 91.2h0M117.7 52.4h0M115.2 33.7h0M142.5 40.3h0M143.2 63.1h0M101.9 74.2h0M97.9 59.2h0M141.9 66.7h0M122.1 49.1h0M136.5 72.0h0M88.7 89.3h0M125.7 51.6h0M121.3 30.2h0M103.9 34.2h0M114.6 91.9h0M6.8 35.7h0M139.1 45.1h0M93.1 93.2h0M136.9 70.8h0M126.0 41.1h0M137.0 39.8h0M153.2 53.0h0M128.2 82.6h0M137.7 41.1h0M77.8 96.9h0M132.2 59.4h0M159.3 31.0h0M125.6 43.9h0M130.4 48.5h0M152.7 53.0h0M136.6 56.7h0M155.2 52.5h0M136.0 54.4h0M88.1 64.7h0M154.0 42.0h0M142.9 38.2h0M129.3 55.8h0M138.8 64.7h0M121.2 39.8h0M156.1 31.5h0M125.6 87.4h0M150.1 44.0h0M117.7 43.9h0M85.5 85.5h0"/>
<path stroke="#ff0000" stroke-width="2.6" d="M159.9 38.6h0M116.8 40.7h0M88.2 80.3h0M93.3 93.0h0M152.0 48.3h0M157.0 42.7h0M151.0 104.2h0M131.2 73.8h0M167.1 29.7h0M130.7 36.9h0"/>
<path stroke="#ff0000" stroke-width="2.2" d="M14.8 66.0h0M35.3 72.8h0M5.6 47.4h0M16.8 7.3h0"/>
<path stroke="#ff0000" stroke-width="1.8" d="M86.3 80.4h0M99.1 28.5h0M141.3 97.1h0M109.7 55.0h0M153.0 46.4h0M144.9 94.0h0M142.4 65.8h0M81.9 94.4h0M141.5 43.6h0M84.7 90.9h0M128.0 51.3h0M95.6 53.5h0M132.4 47.0h0M122.4 49.1h0M135.5 40.1h0M121.9 64.5h0M156.2 56.3h0M115.6 35.8h0M142.7 86.7h0M85.8 68.9h0M149.3 62.3h0M111.3 69.7h0M112.6 91.6h0M124.4 55.3h0M162.2 37.7h0M159.3 38.7h0"/>
<path stroke="#ff0000" stroke-width="1.6" d="M17.5 72.3h0M62.3 49.5h0M13.5 15.4h0M9.1 44.7h0M27.1 59.5h0M6.4 49.4h0M41.1 42.3h0M17.7 67.1h0M15.8 67.5h0"/>
<path stroke="#ff0000" stroke-width="1.1" stroke-opacity="0.85" d="M126.4 80.0h0M123.1 73.9h0M140.2 50.0h0M119.3 70.1h0M91.5 67.2h0M141.7 65.2h0M87.2 85.8h0M140.7 77.2h0M127.9 75.7h0M143.2 101.7h0M94.1 66.1h0M147.9 33.7h0M120.3 48.4h0M135.8 75.3h0M91.0 47.1h0M145.0 46.6h0M122.4 64.6h0M110.0 82.0h0M154.6 45.1h0M114.3 89.1h0M98.9 44.3h0M129.6 39.6h0M125.0 60.6h0M85.4 36.9h0M127.7 34.8h0M135.2 41.8h0M151.8 55.0h0M157.0 42.3h0M117.8 83.6h0M121.5 62.0h0M129.4 73.0h0M146.3 93.1h0M139.6 91.0h0M131.6 80.4h0M104.9 42.6h0M136.3 45.5h0M92.5 50.6h0M143.6 71.4h0M121.7 69.9h0M14.1 33.6h0M108.3 28.3h0M90.9 76.6h0M123.0 70.9h0M83.5 50.1h0M124.7 76.3h0M122.6 70.1h0M136.4 69.6h0M143.7 69.7h0M103.7 88.3h0M163.6 35.0h0M139.9 93.1h0M136.1 64.3h0M145.0 63.3h0M110.6 91.8h0M126.1 43.0h0M152.2 55.3h0M127.4 49.6h0M129.3 45.7h0M109.2 90.1h0M118.5 45.3h0M155.8 42.6h0M149.6 49.9h0M136.6 87.8h0M154.1 39.6h0M85.6 81.2h0M107.6 92.5h0M87.9 70.1h0M149.8 45.7h0M90.0 64.9h0M142.9 50.3h0M153.1 38.1h0M150.4 38.9h0M125.3 40.4h0M116.6 81.4h0M146.6 97.2h0M122.7 37.4h0M147.2 64.0h0M108.8 88.2h0M161.9 34.5h0M100.1 40.6h0"/>
<path stroke="#ff0000" stroke-width="1" d="M166.6 32.2h0M151.9 54.2h0M162.8 33.4h0M143.1 32.8h0M123.0 75.6h0M146.7 30.9h0M122.5 35.5h0M38.3 78.5h0M91.0 66.0h0M12.5 53.7h0M91.2 44.4h0M54.8 68.5h0M158.7 30.5h0M13.6 59.9h0M131.6 64.3h0M53.8 82.6h0M108.5 89.7h0M137.4 68.2h0M142.6 71.1h0M147.2 75.6h0M128.7 48.4h0M155.4 40.2h0M30.3 27.9h0M98.5 42.9h0M103.7 71.7h0M151.2 30.5h0M30.4 10.6h0M145.3 61.7h0M129.7 40.1h0M111.1 36.0h0M86.6 59.5h0M151.4 42.5h0M127.4 68.7h0M111.6 81.7h0M128.6 55.7h0M62.4 53.3h0M100.0 61.4h0M126.1 36.0h0M15.3 42.2h0M119.7 87.9h0M85.8 101.2h0M82.5 107.9h0M123.2 70.5h0M144.3 102.2h0M141.4 99.6h0M41.2 40.3h0M41.4 44.6h0M162.5 35.4h0M158.0 41.3h0M148.3 61.6h0M150.9 100.8h0M18.1 66.5h0M16.1 8.6h0M160.9 37.0h0"/>
<path stroke="#b22222" stroke-width="1.4" d="M159.9 38.6h0M116.8 40.7h0M88.2 80.3h0M93.3 93.0h0M152.0 48.3h0M157.0 42.7h0M151.0 104.2h0M131.2 73.8h0M167.1 29.7h0M130.7 36.9h0"/>
<path stroke="#b22222" stroke-width="1.2" d="M14.8 66.0h0M35.3 72.8h0M5.6 47.4h0M16.8 7.3h0"/></g><path d="M92.4,9.3 L112.1,13.1 L125.5,18.0 L128.0,21.9 L121.8,23.9 L114.6,25.9 L107.1,24.7 L99.7,20.9 L92.4,16.8Z" fill="#fff" fill-opacity="0.6" filter="url(#bl2)"/></g>
<g transform="translate(186,15)"><path d="M11.3,2.3 L13.0,3.7 L14.5,4.4 L16.1,5.0 L17.0,3.9 L17.7,2.6 L17.3,1.4 L24.7,3.4 L32.8,5.4 L41.0,7.1 L49.3,8.5 L57.6,9.7 L65.9,10.7 L74.3,11.3 L82.6,11.7 L87.6,11.8 L93.4,11.8 L93.4,10.3 L94.3,10.6 L94.8,12.9 L97.2,13.8 L99.4,13.3 L101.1,13.9 L103.7,15.4 L105.7,14.8 L109.1,15.4 L107.2,16.6 L104.5,19.0 L102.3,21.0 L104.3,20.8 L106.0,20.0 L105.8,21.5 L107.2,21.5 L110.3,20.0 L112.5,18.5 L114.1,17.3 L113.1,19.3 L115.9,20.9 L118.1,21.3 L119.9,20.0 L122.9,19.3 L124.6,20.2 L125.6,21.4 L127.2,22.0 L123.9,23.0 L121.6,22.3 L119.3,23.1 L118.5,24.1 L117.2,24.2 L115.9,27.0 L114.9,29.6 L116.2,27.9 L117.6,26.0 L116.9,28.2 L116.4,31.0 L116.1,32.7 L115.7,35.8 L117.1,40.6 L118.1,41.7 L119.3,41.1 L120.4,39.3 L121.0,36.3 L120.3,34.5 L119.7,31.5 L120.1,30.2 L120.0,28.6 L120.5,27.4 L121.7,26.0 L122.0,27.7 L122.4,26.8 L122.7,25.5 L123.4,25.0 L123.2,23.8 L124.0,23.3 L124.8,23.8 L126.9,24.5 L128.3,25.8 L128.7,27.3 L128.8,28.5 L128.4,29.3 L127.7,30.6 L127.6,32.1 L128.9,30.7 L130.2,29.9 L131.5,31.6 L132.4,34.0 L132.4,35.8 L130.9,37.2 L130.0,39.9 L132.4,40.7 L135.5,40.0 L140.0,36.6 L143.1,32.7 L142.3,31.3 L146.7,30.5 L149.8,29.0 L150.3,27.2 L149.8,26.0 L151.0,24.7 L153.1,21.6 L158.6,20.3 L162.9,19.2 L163.8,17.7 L164.5,17.1 L165.3,11.2 L166.5,7.6 L169.2,7.2 L170.9,7.9 L172.4,12.6 L173.9,13.5 L175.5,15.2 L176.1,16.3 L175.1,17.5 L173.6,18.8 L172.4,20.1 L171.3,19.5 L171.0,21.4 L169.2,22.8 L168.2,23.7 L167.6,26.3 L167.3,27.5 L168.1,28.1 L167.3,29.7 L168.7,31.0 L170.0,30.2 L170.7,30.5 L171.2,31.6 L169.2,32.7 L168.4,32.6 L167.0,33.7 L165.8,34.6 L162.7,35.6 L160.6,37.5 L164.9,35.5 L166.1,35.6 L163.2,37.7 L160.3,39.2 L160.1,39.8 L160.5,41.2 L159.9,44.6 L158.6,46.7 L158.0,45.7 L156.3,44.8 L156.9,45.9 L158.3,47.4 L158.8,49.2 L158.4,51.2 L157.1,54.9 L157.2,55.9 L158.1,57.4 L160.2,62.4 L157.4,65.8 L153.2,69.9 L150.0,71.1 L147.3,75.7 L144.3,79.2 L143.1,83.2 L143.6,86.5 L144.3,88.3 L145.8,91.1 L148.0,93.9 L149.3,97.3 L151.1,100.8 L151.4,104.7 L150.9,106.8 L148.2,108.0 L147.1,106.1 L144.9,104.3 L143.9,102.8 L142.9,101.3 L141.1,99.6 L140.4,98.3 L140.0,97.0 L139.8,94.5 L138.4,92.4 L136.1,89.9 L133.8,89.2 L131.1,91.2 L129.8,91.3 L128.3,89.6 L125.3,88.7 L122.8,89.1 L120.0,89.8 L116.0,89.6 L114.2,90.4 L114.6,91.2 L115.9,93.3 L116.7,94.7 L115.3,95.6 L113.0,95.1 L112.6,94.7 L110.1,95.5 L108.2,94.6 L106.4,93.8 L105.6,93.4 L103.4,93.5 L98.8,93.2 L95.4,95.0 L93.6,96.5 L91.0,97.9 L89.5,98.6 L86.5,101.3 L86.1,104.6 L86.6,109.0 L85.3,109.2 L82.6,108.3 L82.3,107.9 L77.9,102.3 L74.4,97.1 L73.1,94.3 L71.3,92.5 L67.7,92.1 L66.5,92.9 L65.3,95.3 L64.2,95.2 L61.7,93.3 L60.3,92.6 L59.4,90.6 L56.9,87.0 L53.7,82.4 L47.7,81.8 L47.5,83.6 L37.3,82.2 L25.2,75.0 L25.7,74.1 L17.2,73.1 L16.9,72.3 L16.9,70.2 L16.1,68.9 L14.0,67.1 L13.9,66.0 L12.0,65.1 L10.3,63.4 L7.8,62.5 L7.3,61.8 L8.1,59.7 L7.5,58.4 L6.5,56.8 L5.2,53.6 L5.5,52.4 L5.6,50.9 L4.6,48.2 L4.9,47.0 L3.6,45.7 L3.8,44.4 L2.6,41.2 L3.2,37.6 L2.3,34.5 L3.3,33.2 L4.5,30.5 L4.5,29.4 L4.8,28.4 L4.8,24.6 L6.3,22.6 L7.6,20.4 L8.5,18.0 L9.8,14.4 L10.7,11.6 L10.9,9.9 L11.1,8.3 L11.3,5.3Z" fill="#f6f4d8"/><g clip-path="url(#us)" filter="url(#bl)" fill="none" stroke-linecap="round"><path stroke="#ffd700" stroke-width="6" d="M159.9 38.6h0M116.8 40.7h0M88.2 80.3h0M93.3 93.0h0M152.0 48.3h0M157.0 42.7h0M151.0 104.2h0M131.2 73.8h0M167.1 29.7h0M130.7 36.9h0"/>
<path stroke="#ffd700" stroke-width="4.8" d="M86.3 80.4h0M99.1 28.5h0M141.3 97.1h0M109.7 55.0h0M153.0 46.4h0M144.9 94.0h0M142.4 65.8h0M81.9 94.4h0M141.5 43.6h0M84.7 90.9h0M128.0 51.3h0M95.6 53.5h0M132.4 47.0h0M122.4 49.1h0M135.5 40.1h0M121.9 64.5h0M156.2 56.3h0M115.6 35.8h0M142.7 86.7h0M85.8 68.9h0M149.3 62.3h0M111.3 69.7h0M112.6 91.6h0M124.4 55.3h0M162.2 37.7h0M159.3 38.7h0"/>
<path stroke="#ffd700" stroke-width="3.6" d="M166.6 32.2h0M151.9 54.2h0M162.8 33.4h0M143.1 32.8h0M123.0 75.6h0M146.7 30.9h0M122.5 35.5h0M91.0 66.0h0M91.2 44.4h0M158.7 30.5h0M131.6 64.3h0M108.5 89.7h0M137.4 68.2h0M142.6 71.1h0M147.2 75.6h0M128.7 48.4h0M155.4 40.2h0M98.5 42.9h0M103.7 71.7h0M151.2 30.5h0M145.3 61.7h0M129.7 40.1h0M111.1 36.0h0M86.6 59.5h0M151.4 42.5h0M127.4 68.7h0M111.6 81.7h0M128.6 55.7h0M100.0 61.4h0M126.1 36.0h0M119.7 87.9h0M85.8 101.2h0M82.5 107.9h0M123.2 70.5h0M144.3 102.2h0M141.4 99.6h0M162.5 35.4h0M158.0 41.3h0M148.3 61.6h0M150.9 100.8h0M160.9 37.0h0"/>
<path stroke="#ffd700" stroke-width="2.4" d="M165.0 30.7h0M136.3 41.7h0M125.0 43.2h0M154.1 37.0h0M98.9 81.3h0M122.7 88.8h0M133.3 87.6h0M143.6 79.1h0M139.7 73.8h0M125.2 80.3h0M168.0 23.7h0M165.2 27.4h0M88.8 34.7h0M88.7 20.7h0M148.1 95.7h0M145.8 91.0h0M143.1 96.4h0M141.7 91.7h0M140.8 89.9h0M152.9 68.3h0M143.9 56.8h0M136.4 65.2h0M118.6 57.1h0M111.2 46.1h0M112.3 39.3h0M111.3 49.9h0M115.7 48.2h0M104.4 41.0h0M107.9 42.8h0M88.9 46.3h0M92.0 53.7h0M86.9 85.5h0M84.8 87.3h0M97.9 91.6h0M105.4 90.8h0M101.1 90.9h0M93.5 82.1h0M97.2 66.4h0M102.9 53.9h0M102.3 20.8h0M114.8 29.6h0M128.5 34.5h0M123.1 38.2h0M121.3 41.0h0M140.0 36.6h0M139.0 41.2h0M136.9 42.8h0M137.7 53.2h0M135.0 53.3h0M136.6 62.1h0M146.4 55.8h0M149.1 65.5h0M150.1 71.1h0M134.3 77.2h0M129.7 79.4h0M120.4 77.2h0M162.8 31.9h0M159.9 44.6h0M156.0 43.8h0M153.3 43.1h0M152.1 43.7h0M154.3 41.6h0M151.2 51.0h0M143.8 61.9h0M138.9 67.6h0M116.0 89.6h0M77.9 102.2h0M85.3 109.0h0M89.7 89.2h0M113.8 30.8h0M119.9 63.1h0M149.5 98.6h0M144.9 104.2h0M128.8 37.6h0M94.9 54.4h0"/>
<path stroke="#ffd700" stroke-width="1.8" stroke-opacity="0.55" d="M28.7 70.9h0M123.2 55.2h0M159.0 34.2h0M147.1 71.2h0M98.4 84.1h0M161.9 26.6h0M81.1 64.4h0M150.1 46.5h0M138.9 41.6h0M128.9 62.9h0M144.7 55.3h0M129.9 69.3h0M145.9 102.1h0M131.1 42.4h0M143.8 55.2h0M127.2 72.9h0M131.4 83.2h0M151.8 45.7h0M147.7 60.0h0M84.8 79.9h0M140.3 43.5h0M123.1 31.9h0M123.5 30.9h0M121.8 88.3h0M113.1 48.5h0M145.7 72.8h0M148.4 70.8h0M142.6 40.1h0M156.4 34.4h0M139.8 67.2h0M148.9 69.8h0M152.1 50.6h0M75.9 29.2h0M138.1 57.2h0M149.9 60.0h0M127.9 34.6h0M135.5 83.6h0M99.6 69.6h0M108.5 87.7h0M94.1 61.3h0M84.9 87.0h0M159.9 44.2h0M147.5 70.0h0M139.1 91.7h0M144.4 57.1h0M140.3 43.5h0M95.1 87.0h0M129.2 80.1h0M83.1 38.4h0M147.4 56.5h0M95.6 75.1h0M148.5 55.1h0M140.6 75.8h0M143.2 89.3h0M151.7 46.5h0M128.7 51.7h0M98.9 60.7h0M91.4 32.7h0M109.5 70.6h0M141.2 42.2h0M120.2 56.9h0M143.2 54.9h0M158.7 63.0h0M148.1 61.2h0M138.6 39.8h0M146.5 95.2h0M134.5 48.5h0M132.3 76.8h0M141.1 66.4h0M153.5 61.1h0M132.1 35.9h0M99.4 85.1h0M136.9 55.0h0M122.8 47.7h0M137.9 57.4h0M149.4 41.8h0M147.9 41.1h0M137.1 58.9h0M114.4 80.5h0M119.5 53.7h0M107.7 84.1h0M138.8 84.8h0M122.4 77.6h0M148.5 97.9h0M149.1 71.7h0M146.5 64.6h0M139.9 49.0h0M91.3 32.1h0M93.0 20.0h0M87.3 80.0h0M120.1 61.8h0M131.5 78.5h0M83.9 78.7h0M128.7 33.2h0M99.0 44.3h0M114.2 68.2h0M154.2 45.3h0M86.8 97.9h0M123.1 51.4h0M137.4 50.8h0M135.6 68.1h0M154.6 43.9h0M109.5 26.1h0M117.1 46.4h0M111.0 55.0h0M117.4 69.1h0M143.6 54.3h0M126.9 83.4h0M138.4 71.5h0M147.5 66.7h0M152.7 58.8h0M143.7 52.4h0M156.1 55.5h0M118.4 42.6h0M151.6 48.6h0M123.5 42.2h0M124.7 38.0h0M119.6 48.0h0M134.9 44.3h0M80.5 42.7h0M148.1 43.5h0M27.3 9.0h0M142.2 76.1h0M149.2 40.8h0M139.6 92.8h0M155.0 61.3h0M125.9 65.8h0M133.3 57.1h0M138.4 55.5h0M112.5 74.4h0M124.2 54.5h0M148.4 48.9h0M136.1 69.0h0M84.8 98.0h0M51.2 63.4h0M96.9 72.8h0M114.4 57.6h0M94.1 55.9h0M124.3 31.5h0M148.1 69.6h0M105.0 51.8h0M116.9 77.1h0M89.8 65.9h0M143.9 75.2h0M128.3 70.9h0M137.8 39.8h0M134.1 43.5h0M119.3 54.2h0M124.0 56.3h0M99.7 28.0h0M102.4 91.0h0M134.2 71.4h0M99.8 65.0h0M146.3 37.8h0M122.3 72.0h0M145.0 65.8h0M132.4 52.0h0M160.0 23.8h0M99.0 30.5h0M129.9 52.1h0M95.6 89.9h0M128.9 41.7h0M136.5 48.6h0M151.4 60.6h0M146.0 69.1h0M156.8 22.5h0M142.9 99.5h0M11.7 41.1h0M125.0 40.7h0M140.7 39.5h0M97.8 73.8h0M102.2 30.1h0M141.2 90.1h0M127.5 51.0h0M130.1 58.3h0M125.6 88.3h0M121.0 70.3h0M93.3 92.7h0M106.2 60.3h0M109.5 44.6h0M117.5 83.3h0M134.0 78.1h0M115.8 40.4h0M137.1 73.8h0M155.1 60.7h0M159.5 24.9h0M97.7 87.5h0M95.2 48.1h0M126.5 42.4h0M113.4 66.8h0M151.9 51.9h0M131.1 46.1h0M133.6 47.2h0M123.8 43.6h0M98.8 54.1h0M79.8 19.4h0M151.7 44.6h0M81.3 85.7h0M129.8 37.5h0M135.6 80.3h0M136.4 71.2h0M85.2 78.3h0M149.7 56.6h0M129.7 50.1h0M82.4 106.1h0M142.9 37.9h0M86.2 87.3h0M107.8 56.1h0M127.8 64.3h0M141.8 45.1h0M99.9 55.9h0M123.2 46.1h0M144.0 99.9h0M128.9 43.3h0M131.9 78.0h0M153.5 34.4h0M140.1 48.5h0M145.0 66.5h0M164.2 25.1h0M125.8 46.4h0M150.8 43.1h0M125.8 82.4h0M140.0 64.6h0M127.8 54.8h0M145.0 39.3h0M138.2 83.8h0M134.5 83.1h0M154.8 23.1h0M138.0 85.1h0M80.9 99.9h0M122.7 69.9h0M152.1 23.6h0M143.0 50.5h0M145.6 70.7h0M157.6 51.9h0M100.0 82.0h0M158.1 57.9h0M99.5 89.2h0M131.8 67.9h0M120.0 75.7h0M143.5 70.5h0M127.8 34.3h0M152.9 27.4h0M160.1 41.7h0M82.9 83.7h0M120.4 79.3h0M141.0 98.7h0M133.7 63.5h0M122.0 33.8h0M78.3 45.7h0M145.8 103.6h0M126.8 88.9h0M130.5 76.9h0M117.1 44.9h0M139.9 62.4h0M133.3 57.1h0M122.3 77.4h0M114.7 30.1h0M108.9 42.3h0M130.4 69.6h0M106.9 68.5h0M142.4 98.2h0M106.7 81.9h0M128.6 26.9h0M143.4 53.4h0M139.3 43.1h0M133.0 87.7h0M134.0 41.7h0M144.7 50.9h0M152.7 39.5h0M131.2 86.3h0M141.2 60.0h0M100.6 43.3h0M130.7 63.0h0M126.3 39.0h0M128.5 53.8h0M111.1 31.2h0M59.5 45.6h0M141.0 68.9h0M77.5 95.2h0M143.2 66.9h0M158.0 42.5h0M145.7 33.9h0M159.8 31.0h0M146.9 57.9h0M6.3 48.0h0M99.8 15.9h0M145.9 45.2h0M108.4 61.3h0M126.2 49.7h0M127.6 88.9h0M160.3 33.6h0M129.3 63.8h0M111.6 35.7h0M149.2 60.7h0M151.9 69.4h0M150.2 47.3h0M118.7 82.4h0M136.0 62.2h0M104.4 77.6h0M150.6 43.9h0M118.3 58.2h0M135.6 40.2h0M120.5 56.0h0M149.8 103.9h0M133.0 85.2h0M117.5 61.2h0M47.0 45.5h0M126.5 52.3h0M129.6 72.7h0M122.0 52.0h0M147.1 45.4h0M135.5 41.5h0M112.1 77.4h0M137.2 43.4h0M129.4 35.1h0M86.0 45.3h0M98.7 41.7h0M131.7 71.1h0M121.8 76.3h0M118.3 53.2h0M139.3 85.4h0M112.9 33.9h0M89.7 80.3h0M134.7 41.1h0M120.1 50.9h0M122.2 47.3h0M147.4 70.1h0M110.7 78.1h0M155.2 35.7h0M165.8 32.1h0M123.7 55.0h0M89.7 86.8h0M153.2 58.8h0M94.7 70.3h0M130.4 48.3h0M121.9 59.0h0M137.4 39.6h0M128.8 65.4h0M136.5 82.1h0M125.7 54.6h0M85.4 45.7h0M95.9 48.8h0M145.0 69.7h0M127.3 52.8h0M132.4 48.8h0M151.9 57.2h0M129.7 71.8h0M101.9 57.4h0M133.1 72.7h0M154.6 43.1h0M96.3 58.8h0M123.9 38.0h0M123.8 53.6h0M114.3 31.7h0M98.5 64.2h0M151.0 30.7h0M110.6 20.1h0M134.4 84.8h0M144.0 60.7h0M138.3 92.0h0M109.8 90.8h0M124.4 22.8h0M145.7 92.1h0M129.5 68.3h0M154.6 56.3h0M157.9 59.7h0M140.1 42.7h0M145.7 100.1h0M142.3 98.1h0M167.3 26.9h0M143.0 56.9h0M152.2 48.1h0M144.5 52.0h0M115.3 51.3h0M118.5 49.5h0M85.1 29.0h0M88.5 59.8h0M99.2 82.7h0M93.7 77.2h0M109.7 38.9h0M143.5 34.9h0M152.8 28.9h0M145.1 45.2h0M149.5 69.2h0M132.3 80.1h0M124.6 85.1h0M149.8 41.0h0M125.4 47.6h0M154.3 46.7h0M140.6 76.0h0M147.6 104.1h0M146.6 66.2h0M163.0 32.1h0M119.8 52.0h0M143.2 65.5h0M150.6 61.9h0M129.6 78.0h0M110.8 50.9h0M137.7 61.3h0M136.1 66.9h0M128.8 74.2h0M132.8 51.1h0M160.3 36.2h0M128.0 27.9h0M112.7 58.1h0M126.3 35.2h0M137.2 69.3h0M142.8 46.1h0M125.7 87.7h0M141.1 68.6h0M133.2 50.8h0M36.4 66.5h0M97.1 53.6h0M93.9 39.6h0M119.6 77.9h0M80.0 82.6h0M132.0 35.4h0M136.0 57.1h0M153.4 36.7h0M142.6 35.6h0M95.3 53.2h0M145.3 63.0h0M139.0 89.1h0M139.3 81.9h0M138.5 52.4h0M133.4 64.8h0M126.6 77.1h0M150.1 64.6h0M146.2 46.0h0M122.4 61.1h0M136.8 54.1h0M157.1 32.3h0M150.6 64.9h0M121.6 61.6h0M138.6 55.7h0M149.6 37.1h0M129.1 40.7h0M20.4 59.5h0M126.2 32.5h0M149.9 66.2h0M132.6 83.8h0M134.3 63.0h0M127.2 52.4h0M145.1 33.4h0M145.0 39.5h0M120.8 28.7h0M92.5 75.7h0M79.6 71.0h0M12.5 27.5h0M122.6 45.6h0M118.1 50.3h0M147.6 39.8h0M143.8 51.3h0M159.9 23.5h0M141.8 59.1h0M144.1 69.2h0M137.8 60.1h0M144.0 56.8h0M120.7 49.8h0M132.6 53.3h0M114.8 39.6h0M92.8 36.0h0M131.1 62.6h0M132.5 42.1h0M144.8 94.7h0M158.5 30.5h0M105.7 54.8h0M152.6 41.3h0M86.7 87.6h0M142.9 33.5h0M129.2 76.5h0M115.5 41.3h0M113.7 50.2h0M137.7 71.1h0M127.0 39.3h0M144.1 72.4h0M93.3 17.9h0M141.1 84.9h0M142.8 61.7h0M128.3 76.0h0M145.3 94.5h0M139.8 49.0h0M126.6 85.5h0M129.3 38.9h0M142.7 66.7h0M127.4 46.8h0M155.4 30.7h0M61.4 54.8h0M134.5 84.6h0M142.3 52.3h0M120.4 45.0h0M123.8 71.1h0M128.4 43.6h0M154.8 27.6h0M158.9 45.6h0M83.2 43.1h0M130.7 77.2h0M115.0 26.7h0M151.5 49.6h0M141.5 63.3h0M132.4 64.1h0M135.3 53.6h0M123.2 65.9h0M100.8 62.1h0M142.5 40.0h0M157.9 35.7h0M156.9 39.4h0M142.5 37.1h0M124.2 58.6h0M141.2 91.1h0M101.5 36.2h0M131.6 43.3h0M129.2 81.8h0M140.8 50.4h0M119.6 50.0h0M154.9 63.3h0M123.9 56.9h0M145.9 44.7h0M143.1 70.6h0M145.2 45.4h0M89.3 37.1h0M82.4 74.3h0M137.8 65.0h0M92.0 87.4h0M136.3 68.5h0M124.0 55.2h0M138.3 64.4h0M91.0 64.9h0M91.1 28.0h0M91.6 68.0h0M116.1 74.4h0M105.9 60.8h0M103.4 51.9h0M108.0 36.2h0M142.7 43.0h0M131.1 76.0h0M131.7 42.7h0M158.5 41.8h0M130.8 62.9h0M102.6 56.3h0M139.4 44.2h0M150.1 61.2h0M159.5 34.7h0M146.7 47.9h0M122.9 46.7h0M132.0 70.0h0M145.2 71.1h0M125.3 65.0h0M121.4 53.6h0M86.9 49.2h0M123.5 37.9h0M159.6 38.2h0M121.5 79.9h0M144.3 91.9h0M127.4 71.2h0M141.1 52.7h0M145.9 69.5h0M159.5 27.6h0M140.8 64.1h0M152.4 34.8h0M128.3 77.2h0M124.7 38.2h0M60.9 92.3h0M133.7 41.1h0M78.2 20.8h0M11.5 62.4h0M114.1 27.0h0M147.4 35.9h0M122.5 46.1h0M160.5 31.4h0M134.8 83.2h0M148.7 67.7h0M156.2 36.8h0M153.4 56.5h0M123.4 43.3h0M120.4 79.7h0M123.7 49.0h0M121.3 37.0h0M147.0 33.3h0M129.5 42.9h0M130.5 71.3h0M151.8 50.9h0M131.7 46.7h0M85.0 100.2h0M122.4 28.7h0M121.3 73.3h0M111.2 70.1h0M133.3 79.9h0M137.6 62.1h0M137.3 68.8h0M156.8 22.5h0M128.4 40.5h0M84.7 105.5h0M138.9 68.4h0M128.6 84.6h0M117.0 77.0h0M137.6 76.0h0M88.6 48.1h0M89.6 65.8h0M108.3 68.2h0M96.3 75.4h0M124.2 47.7h0M94.8 61.7h0M98.8 74.6h0M122.1 53.6h0M119.2 55.5h0M153.7 62.0h0M159.5 63.3h0M142.0 59.3h0M49.1 72.7h0M127.6 55.9h0M142.9 87.8h0M102.5 38.3h0M90.4 80.2h0M143.5 32.7h0M147.4 46.0h0M139.2 66.4h0M121.8 77.6h0M149.0 35.3h0M149.1 63.5h0M144.4 60.1h0M126.7 32.0h0M143.2 66.3h0M132.9 57.1h0M132.1 43.7h0M129.0 55.8h0M138.5 68.0h0M87.2 76.6h0M130.3 64.3h0M122.7 36.1h0M132.1 88.7h0M131.2 62.5h0M85.0 69.7h0M104.3 33.8h0M88.3 23.5h0M164.7 18.7h0M119.5 65.6h0M131.0 42.4h0M145.5 95.1h0M136.9 76.0h0M147.5 38.0h0M160.8 20.2h0M127.7 68.8h0M116.1 30.0h0M149.5 35.2h0M129.3 86.2h0M115.5 30.4h0M119.2 86.5h0M120.3 53.6h0M144.3 96.3h0M139.8 41.5h0M147.8 52.9h0M102.0 41.0h0M93.3 42.3h0M114.0 66.8h0M154.8 31.1h0M142.7 48.0h0M112.6 48.5h0M111.8 84.0h0M161.1 23.1h0M99.6 59.6h0M143.9 65.5h0M96.8 78.2h0M121.4 82.3h0M116.8 49.5h0M115.7 31.2h0M151.7 38.7h0M146.1 51.9h0M123.0 40.2h0M113.6 31.2h0M123.6 49.2h0M132.5 64.6h0M124.5 59.2h0M128.4 44.9h0M128.1 77.0h0M11.0 19.8h0M109.4 86.1h0M110.5 42.6h0M31.8 27.9h0M121.6 32.5h0M115.0 46.2h0M107.0 58.2h0M111.5 83.7h0M131.3 90.1h0M139.8 48.1h0M102.6 79.9h0M111.1 54.5h0M124.7 66.8h0M137.2 70.1h0M132.6 51.0h0M134.5 79.3h0M84.5 95.0h0M121.9 67.8h0M137.7 64.9h0M93.1 60.2h0M118.7 48.9h0M91.5 85.2h0M147.0 36.8h0M131.1 73.3h0M134.5 45.5h0M145.8 45.6h0M145.4 65.4h0M95.7 30.6h0M130.2 52.8h0M149.2 70.7h0M95.3 25.8h0M125.9 64.5h0M142.6 57.2h0M154.2 27.2h0M151.3 55.4h0M138.6 70.3h0M163.4 21.2h0M88.6 83.1h0M119.3 50.2h0M117.3 88.6h0M128.3 63.4h0M116.0 47.6h0M141.4 67.1h0M128.6 74.2h0M103.6 56.6h0M136.1 58.9h0M128.6 66.6h0M112.5 83.5h0M155.4 37.5h0M144.8 50.1h0M125.5 39.4h0M137.6 77.0h0M76.7 56.2h0M127.3 78.7h0M117.0 59.2h0M137.5 49.3h0M128.1 65.5h0M142.7 94.9h0M121.6 44.3h0M140.6 71.1h0M138.9 59.6h0M151.4 45.1h0M52.0 21.5h0M158.1 57.7h0M160.4 36.9h0M124.8 54.5h0M123.4 43.7h0M153.1 63.0h0M117.1 51.3h0M127.5 65.5h0M155.4 38.4h0M145.6 32.0h0M136.8 90.6h0M151.1 70.1h0M129.8 77.7h0M144.3 102.8h0M157.6 65.2h0M101.1 14.0h0M156.9 41.5h0M134.9 56.2h0M87.7 69.9h0M152.2 43.8h0M125.8 63.9h0M102.1 26.2h0M151.0 69.2h0M126.4 80.7h0M142.4 58.0h0M133.5 45.6h0M108.6 48.1h0M93.0 49.8h0M149.7 65.5h0M164.1 37.0h0M164.4 30.9h0M137.2 52.0h0M130.0 34.7h0M131.4 66.4h0M137.8 55.4h0M169.9 19.0h0M144.8 73.0h0M116.2 64.2h0M160.6 29.0h0M152.5 57.2h0M144.3 69.7h0M116.9 85.7h0M115.9 65.2h0M141.7 68.2h0M93.7 66.8h0M102.1 41.2h0M157.7 39.2h0M108.8 49.0h0M7.6 50.7h0M150.5 66.6h0M142.7 55.7h0M142.6 87.7h0M130.3 46.4h0M96.4 41.8h0M105.6 26.1h0M122.2 81.9h0M133.4 69.6h0M114.9 85.9h0M104.2 54.4h0M148.8 33.2h0M131.1 67.4h0M124.3 27.6h0M157.0 38.0h0M132.5 52.2h0M120.8 58.2h0M118.3 56.6h0M124.0 47.0h0M130.1 36.4h0M130.1 64.6h0M117.7 42.1h0M136.3 89.4h0M130.5 88.0h0M145.7 55.9h0M150.2 59.9h0M115.9 87.9h0M160.1 40.0h0M118.1 56.1h0M123.0 31.1h0M93.9 24.8h0M121.7 72.6h0M90.8 97.9h0M126.8 57.5h0M149.2 105.8h0M81.1 100.8h0M153.5 44.8h0M160.3 24.3h0M155.9 37.9h0M136.4 40.9h0M137.7 83.3h0M135.0 86.1h0M143.7 92.9h0M156.2 41.7h0M124.0 50.1h0M157.9 59.0h0M75.6 65.2h0M141.2 36.2h0M136.4 48.3h0M142.9 53.6h0M98.2 33.9h0M149.8 32.7h0M90.1 61.0h0M166.8 17.3h0M129.7 89.0h0M161.4 37.8h0M114.8 79.2h0M161.6 37.3h0M143.7 31.2h0M126.8 71.1h0M103.2 76.5h0M122.3 62.7h0M122.0 52.9h0M85.7 69.6h0M130.3 66.3h0M135.4 59.2h0M162.7 28.6h0M124.5 62.8h0M105.0 35.0h0M148.1 57.5h0M165.6 33.1h0M7.2 38.7h0M128.9 45.7h0M129.2 75.4h0M131.5 54.0h0M135.1 65.6h0M133.2 74.9h0M136.8 60.0h0M107.6 43.7h0M135.0 59.9h0M125.1 84.0h0M148.5 100.9h0M129.7 71.1h0M108.8 86.0h0M107.7 52.3h0M159.7 30.0h0M120.3 61.7h0M123.6 75.6h0M142.5 71.4h0M84.5 105.3h0M117.0 87.6h0M140.0 69.7h0M158.3 22.5h0M123.0 37.3h0M131.7 34.3h0M160.0 28.9h0M118.3 86.2h0M138.1 78.9h0M162.9 33.9h0M137.6 62.5h0M144.2 31.5h0M150.1 55.6h0M75.9 56.3h0M142.9 41.5h0M107.0 36.0h0M129.4 73.4h0M156.4 35.3h0M104.7 65.6h0M131.8 85.3h0M130.5 53.1h0M131.4 46.8h0M85.5 99.1h0M158.4 43.9h0M146.2 66.2h0M153.4 27.8h0M75.1 74.4h0M154.5 66.5h0M150.0 65.6h0M149.0 46.3h0M158.1 51.7h0M141.3 57.9h0M115.9 54.6h0M163.0 35.0h0M127.8 52.2h0M147.8 38.5h0M110.1 48.8h0M142.1 53.3h0M14.5 22.7h0M149.9 45.1h0M137.2 49.3h0M151.2 34.2h0M117.4 55.0h0M147.1 49.3h0M148.7 104.4h0M78.3 90.6h0M155.0 41.8h0M150.6 30.0h0M146.9 65.3h0M95.0 89.5h0M87.6 32.5h0M55.2 80.4h0M130.6 66.9h0M149.9 39.9h0M117.3 59.6h0M119.5 83.3h0M109.7 43.6h0M156.0 55.8h0M112.4 46.7h0M139.5 89.7h0M146.5 36.5h0M154.5 40.4h0M114.2 78.8h0M82.7 86.2h0M130.3 68.4h0M125.6 56.9h0M95.9 49.3h0M160.0 37.5h0M144.2 67.1h0M97.8 58.2h0M89.6 22.2h0M152.0 51.8h0M154.7 33.7h0M139.7 69.9h0M138.7 67.4h0M97.7 60.5h0M141.2 41.7h0M80.4 77.0h0M115.9 52.1h0M146.3 52.2h0M142.9 93.4h0M119.9 31.6h0M137.3 78.3h0M148.5 96.9h0M139.3 39.3h0M133.2 68.0h0M127.3 76.2h0M138.2 84.9h0M146.0 98.5h0M136.8 42.3h0M108.9 71.0h0M125.5 65.6h0M124.6 55.2h0M119.8 49.3h0M87.8 72.9h0M129.6 42.9h0M143.0 66.7h0M155.0 44.4h0M144.0 67.8h0M117.4 58.4h0M120.5 83.6h0M135.2 44.8h0M114.3 49.8h0M162.0 37.3h0M142.9 71.5h0M164.5 32.5h0M140.4 70.0h0M136.5 43.1h0M137.1 66.8h0M132.6 73.1h0M84.9 64.1h0M127.8 43.2h0M148.4 106.4h0M125.6 76.5h0M97.3 80.6h0M159.7 27.2h0M162.2 22.0h0M143.9 48.7h0M123.4 62.8h0M131.1 45.6h0M135.0 65.2h0M126.1 43.6h0M149.6 50.4h0M142.8 97.3h0M105.0 47.7h0M125.1 33.3h0M126.5 31.7h0M118.9 52.5h0M141.9 93.4h0M113.7 89.5h0M146.6 62.7h0M113.2 41.9h0M94.5 74.7h0M152.5 56.6h0M126.3 71.9h0M143.0 33.2h0M118.2 56.9h0M101.2 47.8h0M131.4 71.4h0M157.4 60.2h0M124.4 45.3h0M156.4 58.8h0M144.6 101.1h0M115.3 73.5h0M156.6 56.5h0M107.9 31.0h0M140.6 52.3h0M89.9 54.2h0M110.7 35.0h0M136.6 44.1h0M154.1 56.5h0M139.5 83.2h0M134.7 86.0h0M140.6 65.7h0M129.2 66.4h0M154.7 35.7h0M132.9 85.4h0M117.1 82.1h0M111.5 36.6h0M154.1 42.7h0M145.5 34.7h0M139.9 73.2h0M142.4 64.5h0M135.0 46.3h0M106.3 56.8h0M113.8 91.3h0M149.7 55.2h0M129.0 79.5h0M114.3 91.0h0M39.5 72.6h0M145.6 60.4h0M134.5 41.5h0M125.7 71.1h0M123.4 48.2h0M145.8 92.2h0M94.9 16.0h0M113.0 65.4h0M93.9 77.3h0M135.7 89.6h0M138.1 42.8h0M131.3 68.1h0M133.1 65.0h0M60.7 86.7h0M175.5 15.3h0M110.6 31.7h0M119.8 41.6h0M86.2 95.8h0M131.2 55.4h0M157.7 42.2h0M125.1 54.8h0M142.0 72.3h0M126.4 37.5h0M143.4 37.1h0M150.5 52.4h0M136.2 64.1h0M147.2 94.0h0M156.6 26.2h0M107.6 38.3h0M80.3 89.0h0M149.7 34.0h0M128.2 86.7h0M156.1 41.8h0M131.7 55.6h0M114.7 74.9h0M140.3 96.1h0M142.6 69.9h0M146.7 60.1h0M110.4 89.7h0M143.1 49.2h0M89.4 80.8h0M144.3 56.7h0M166.6 20.6h0M112.9 53.1h0M151.8 67.9h0M100.7 41.6h0M121.1 65.0h0M125.2 55.1h0M152.8 53.1h0M125.5 51.3h0M126.1 70.5h0M100.2 27.0h0M137.5 86.5h0M111.3 88.2h0M108.1 68.3h0M146.5 45.6h0M130.0 77.3h0M152.2 23.3h0M101.3 59.0h0M147.1 57.8h0M159.9 23.0h0M146.6 72.3h0M132.9 59.7h0M94.3 29.3h0M157.9 41.7h0M149.7 101.3h0M141.2 77.6h0M122.3 71.9h0M151.6 58.6h0M158.9 37.7h0M142.8 54.5h0M121.1 80.0h0M150.2 36.3h0M118.5 49.4h0M90.7 80.4h0M141.3 85.3h0M157.2 48.7h0M139.4 61.8h0M141.3 76.0h0M134.5 62.6h0M141.5 35.7h0M81.2 70.3h0M109.0 70.3h0M145.8 76.1h0M110.7 70.8h0M158.9 34.5h0M115.8 37.4h0M135.5 42.4h0M124.1 50.9h0M108.1 90.1h0M129.0 63.7h0M119.0 68.7h0M102.5 35.0h0M156.8 32.8h0M134.1 50.8h0M129.9 72.7h0M155.4 39.9h0M160.2 34.0h0M89.6 93.1h0M109.3 38.9h0M143.8 78.3h0M104.1 38.2h0M147.6 101.5h0M155.6 30.7h0M153.5 65.8h0M140.1 53.5h0M152.6 40.4h0M98.0 24.4h0M154.8 37.8h0M137.6 70.2h0M85.8 90.8h0M160.2 40.9h0M111.3 44.0h0M147.9 70.1h0M114.4 40.5h0M109.6 68.6h0M117.0 53.6h0M112.6 85.8h0M145.6 102.9h0M109.8 49.4h0M144.4 44.0h0M135.2 48.2h0M110.8 75.6h0M105.9 40.3h0M138.2 40.1h0M76.8 91.4h0M156.2 61.3h0M114.6 41.7h0M150.2 63.2h0M120.9 31.8h0M142.7 91.5h0M141.3 74.2h0M151.5 45.1h0M86.4 83.1h0M147.7 39.2h0M140.3 36.7h0M132.6 78.1h0M8.7 51.1h0M106.2 29.4h0M127.0 57.1h0M133.9 66.3h0M124.7 41.1h0M142.2 88.9h0M128.3 28.4h0M162.4 33.8h0M155.9 24.4h0M77.1 95.2h0M154.1 33.1h0M150.8 33.5h0M163.3 30.2h0M97.8 31.5h0M107.2 50.8h0M86.0 82.2h0M158.3 50.1h0M127.2 64.5h0M119.1 46.0h0M122.1 53.1h0M158.1 35.8h0M131.4 34.0h0M104.6 79.4h0M120.3 56.6h0M139.9 81.3h0M112.6 35.8h0M130.6 61.7h0M17.3 42.8h0M132.2 58.2h0M125.0 47.6h0M149.5 58.6h0M113.7 47.6h0M125.9 59.6h0M148.8 38.5h0M88.6 74.7h0M96.6 23.4h0M159.2 27.9h0M143.5 52.2h0M103.8 30.0h0M104.3 57.0h0M47.2 33.9h0M131.5 41.7h0M151.0 101.4h0M160.0 39.0h0M127.0 46.1h0M128.1 88.0h0M137.7 74.2h0M122.2 58.5h0M88.2 75.4h0M162.2 35.5h0M119.3 66.2h0M161.8 31.7h0M144.4 60.1h0M150.5 36.5h0M112.8 70.3h0M138.4 51.8h0M132.6 42.9h0M154.9 45.1h0M104.1 44.2h0M126.3 70.2h0M90.2 34.5h0M114.0 68.5h0M155.1 51.4h0M143.4 48.8h0M141.5 75.2h0M148.5 69.8h0M110.4 38.7h0M127.9 54.2h0M89.4 49.0h0M59.6 12.5h0M139.8 53.9h0M123.3 77.3h0M134.6 73.0h0M88.4 64.0h0M138.7 84.3h0M122.7 76.9h0M157.0 30.0h0M85.7 85.7h0M101.1 89.0h0M152.1 64.5h0M108.2 21.7h0M121.8 40.9h0M151.9 40.7h0M119.0 72.0h0M149.8 45.1h0M129.6 59.1h0M151.8 61.4h0M137.1 59.9h0M159.2 22.3h0M155.7 53.7h0M124.2 61.4h0M115.8 50.6h0M156.7 52.4h0M133.4 62.3h0M122.4 55.4h0M133.9 67.9h0M153.6 52.7h0M123.9 78.0h0M154.0 46.2h0M56.3 32.9h0M112.5 28.8h0M149.4 104.5h0M76.0 90.4h0M18.7 11.1h0M114.7 92.0h0M146.6 61.0h0M129.6 52.5h0M147.0 63.9h0M123.5 54.0h0M110.1 92.4h0M162.1 23.6h0M153.0 48.7h0M101.6 85.4h0M93.7 50.7h0M157.3 49.6h0M139.7 53.8h0M107.8 82.7h0M115.4 68.8h0M142.4 39.4h0M130.1 72.2h0M152.8 45.8h0M139.2 49.1h0M98.0 36.7h0M120.9 62.3h0M116.3 55.0h0M152.9 35.5h0M122.4 29.4h0M95.8 58.6h0M93.0 18.5h0M138.8 40.8h0M90.4 17.5h0M133.1 47.3h0M166.6 18.1h0M105.4 65.8h0M117.3 42.3h0M134.0 73.5h0M148.0 60.7h0M166.3 32.0h0M112.7 47.0h0M127.7 50.3h0M115.7 68.2h0M150.2 41.1h0M99.4 40.1h0M135.5 87.5h0M142.0 55.3h0M145.5 73.5h0M157.7 39.8h0M144.8 65.6h0M126.1 52.0h0M175.1 16.0h0M100.3 84.5h0M145.5 54.0h0M126.9 61.1h0M38.2 41.4h0M117.8 41.6h0M143.3 88.1h0M89.5 54.0h0M81.2 24.2h0M108.7 66.6h0M80.5 72.0h0M116.6 69.2h0M132.3 58.8h0M141.2 40.4h0M135.4 78.2h0M117.6 75.7h0M104.6 82.7h0M155.2 33.3h0M173.9 17.6h0M139.7 57.2h0M143.7 36.3h0M75.5 85.8h0M131.7 66.4h0M127.2 71.7h0M158.7 43.3h0M47.3 33.0h0M125.6 75.8h0M87.2 71.8h0M143.8 51.2h0M138.7 47.3h0M159.5 39.1h0M125.5 45.7h0M160.3 27.4h0M133.0 61.0h0M79.2 37.5h0M122.5 67.3h0M162.4 37.5h0M88.9 81.6h0M111.9 91.4h0M110.2 52.1h0M84.1 28.0h0M98.7 56.1h0M131.8 33.4h0M125.2 77.3h0M121.0 49.6h0M108.3 43.8h0M111.0 42.1h0M156.3 52.4h0M156.4 29.1h0M150.8 45.3h0M109.9 71.9h0M125.9 82.7h0M126.3 81.1h0M148.2 38.7h0M79.1 18.7h0M137.1 54.7h0M129.0 63.3h0M110.4 77.1h0M145.1 104.3h0M137.9 75.0h0M155.1 32.2h0M127.4 86.7h0M134.7 71.3h0M138.4 65.4h0M124.8 52.5h0M135.7 54.7h0M127.1 88.1h0M153.5 33.4h0M169.0 16.7h0M155.6 32.4h0M103.2 50.8h0M145.5 103.4h0M125.7 59.0h0M98.6 63.7h0M143.9 58.4h0M152.1 55.5h0M138.7 48.6h0M156.0 49.2h0M121.1 82.7h0M128.9 52.8h0M157.9 43.2h0M123.7 79.8h0M150.1 61.7h0M132.1 72.2h0M162.8 23.0h0M131.9 86.0h0M162.4 37.9h0M129.9 40.2h0M122.6 79.9h0M149.1 44.2h0M152.3 39.9h0M139.1 44.5h0M124.0 81.1h0M119.2 64.1h0M102.5 73.3h0M106.2 71.3h0M101.5 34.7h0M149.4 101.5h0M85.8 42.4h0M93.4 53.3h0M135.2 85.3h0M150.7 41.6h0M164.3 24.6h0M82.8 38.5h0M126.2 45.3h0M155.5 55.6h0M115.1 56.4h0M154.3 61.8h0M117.5 51.1h0M100.2 68.3h0M158.0 27.5h0M141.1 70.6h0M37.6 55.3h0M139.1 81.5h0M138.9 38.3h0M130.7 57.9h0M138.8 61.8h0M152.2 40.1h0M147.9 73.6h0M125.1 76.3h0M131.1 54.3h0M138.3 74.8h0M157.2 47.0h0M150.2 44.2h0M149.5 39.2h0M146.3 36.0h0M121.5 67.7h0M121.2 79.9h0M89.1 59.2h0M137.9 63.7h0M162.6 32.2h0M137.3 63.1h0M134.2 72.3h0M88.0 29.8h0M141.3 43.5h0M142.4 71.4h0M157.2 37.3h0M149.2 51.5h0M100.2 80.2h0M147.8 97.7h0M97.7 68.3h0M127.0 40.3h0M103.5 34.2h0M139.8 55.5h0M120.4 30.7h0M124.4 73.2h0M156.0 42.3h0M109.2 22.5h0M107.3 73.2h0M108.7 81.0h0M133.3 79.0h0M111.3 30.4h0M139.3 51.4h0M110.7 35.0h0M124.3 35.6h0M150.2 40.6h0M156.1 44.8h0M118.3 47.8h0M125.9 75.7h0M146.9 43.1h0M149.3 55.0h0M144.0 54.9h0M147.4 59.7h0M94.6 54.9h0M141.5 45.1h0M138.3 79.3h0M148.0 72.1h0M158.6 34.2h0M82.3 71.6h0M143.2 73.0h0M136.3 46.6h0M133.6 57.2h0M100.2 89.5h0M138.4 60.4h0M132.1 59.6h0M53.6 74.6h0M124.2 84.6h0M156.9 55.6h0M92.8 75.6h0M145.7 32.4h0M116.5 81.9h0M112.4 89.8h0M128.1 44.5h0M153.3 64.7h0M157.5 59.0h0M102.8 37.7h0M146.0 31.0h0M162.8 33.6h0M138.8 75.6h0M157.8 26.4h0M120.7 40.0h0M120.7 40.6h0M110.2 53.6h0M149.0 34.2h0M152.1 29.4h0M86.2 27.4h0M145.6 104.5h0M156.6 38.7h0M110.9 92.5h0M108.3 66.6h0M121.3 82.5h0M105.3 76.4h0M132.2 34.9h0M150.2 51.3h0M156.1 35.8h0M130.0 66.1h0M167.7 19.9h0M158.7 34.1h0M131.8 41.6h0M151.7 54.0h0M129.5 32.5h0M89.3 68.3h0M162.5 25.3h0M122.2 78.6h0M145.7 35.3h0M150.9 51.2h0M101.2 53.5h0M142.8 57.1h0M142.2 56.8h0M158.3 27.4h0M154.9 33.4h0M136.7 45.2h0M90.3 26.9h0M135.6 76.2h0M84.1 35.9h0M118.9 69.2h0M92.9 36.7h0M153.6 47.0h0M127.4 80.3h0M112.5 88.5h0M90.6 27.0h0M139.5 78.2h0M113.8 42.1h0M138.1 84.9h0M113.6 31.3h0M130.5 60.0h0M139.3 43.5h0M76.6 30.1h0M125.0 68.2h0M112.8 42.1h0M89.9 62.5h0M73.9 80.1h0M117.0 63.8h0M129.4 49.9h0M141.6 36.8h0M110.8 80.3h0M120.0 69.1h0M122.0 64.3h0M111.2 81.5h0M138.0 72.0h0M155.0 23.9h0M133.3 50.5h0M100.9 59.5h0M145.1 72.8h0M142.0 82.5h0M147.0 57.0h0M96.4 68.6h0M141.4 53.5h0M154.7 40.1h0M135.2 58.0h0M143.7 41.2h0M101.3 46.5h0M31.2 24.8h0M115.0 59.0h0M124.5 66.9h0M131.2 69.6h0M125.4 53.8h0M126.9 56.4h0M156.3 51.6h0M118.4 45.0h0M128.1 58.0h0M92.4 77.9h0M152.1 43.7h0M122.2 75.2h0M142.2 90.1h0M156.0 59.2h0M110.5 26.0h0M137.1 53.4h0M108.8 84.2h0M127.3 89.0h0M101.4 85.5h0M145.1 53.9h0M145.8 65.9h0M131.3 55.8h0M129.2 52.8h0M118.6 57.9h0M144.2 100.4h0M131.3 72.4h0M113.1 61.8h0M157.5 57.8h0M115.8 45.3h0M95.0 71.5h0M138.9 41.4h0M42.4 40.3h0M115.1 53.4h0M137.4 41.7h0M158.0 49.8h0M131.7 49.6h0M117.6 80.5h0M108.3 42.1h0M130.2 43.8h0M119.3 82.3h0M112.9 43.7h0M133.4 74.9h0M148.5 60.6h0M122.3 70.0h0M116.8 50.1h0M160.6 34.4h0M104.0 66.4h0M110.6 46.6h0M114.5 82.3h0M144.1 102.1h0M168.8 17.8h0M123.4 83.9h0M107.9 58.3h0M148.0 72.0h0M145.0 35.1h0M111.8 68.4h0M164.8 32.2h0M144.4 48.6h0M153.4 54.6h0M90.4 88.7h0M142.8 93.7h0M148.0 33.6h0M149.8 54.9h0M130.1 67.5h0M143.1 42.3h0M140.0 56.0h0M153.5 45.6h0M107.4 83.1h0M142.9 53.8h0M103.9 77.3h0M134.9 89.2h0M140.5 59.4h0M108.5 50.2h0M117.7 47.8h0M157.5 42.3h0M147.8 96.0h0M105.9 64.9h0M95.6 82.6h0M64.0 50.1h0M159.6 30.5h0M133.2 44.4h0M130.1 67.7h0M151.3 48.0h0M133.8 44.0h0M91.4 79.8h0M128.1 69.4h0M153.6 39.6h0M148.2 40.5h0M124.8 62.6h0M109.6 26.3h0M140.5 75.9h0M128.6 40.9h0M94.7 38.4h0M153.8 37.0h0M96.8 45.5h0M126.7 89.0h0M126.4 68.8h0M116.1 49.2h0M113.9 62.6h0M62.9 94.1h0M108.7 68.3h0M134.4 50.2h0M156.4 60.1h0M155.9 25.9h0M127.0 79.4h0M133.6 74.6h0M146.6 63.0h0M154.2 45.6h0M134.2 71.4h0M84.0 73.5h0M138.7 51.4h0M101.9 26.8h0M126.8 67.7h0M122.6 58.5h0M89.6 33.2h0M145.0 44.6h0M148.5 46.6h0M120.3 60.1h0M143.2 75.3h0M127.5 68.7h0M76.2 85.7h0M138.4 76.8h0M138.7 68.6h0M115.6 57.7h0M135.8 50.6h0M115.1 59.0h0M43.1 74.5h0M36.1 44.1h0M106.6 35.9h0M134.5 69.0h0M114.0 39.1h0M113.8 59.5h0M156.9 65.9h0M146.2 102.5h0M121.8 61.7h0M133.0 78.7h0M143.1 98.0h0M132.2 65.4h0M126.4 51.7h0M143.1 79.1h0M139.4 85.6h0M134.3 44.1h0M146.0 99.5h0M156.1 49.4h0M116.8 68.3h0M138.8 41.1h0M79.7 95.0h0M153.4 40.2h0M117.4 47.2h0M142.9 46.3h0M112.5 79.6h0M121.7 67.2h0M118.7 67.0h0M122.5 88.8h0M111.3 65.2h0M137.3 61.3h0M108.5 26.3h0M139.4 80.3h0M112.6 84.0h0M110.1 80.4h0M158.6 39.7h0M124.2 31.2h0M150.3 53.3h0M78.5 88.1h0M152.8 55.2h0M140.1 71.5h0M148.2 61.1h0M147.0 55.2h0M108.8 25.8h0M84.9 14.1h0M115.2 78.0h0M89.6 46.2h0M122.6 74.2h0M140.5 60.3h0M148.9 66.1h0M139.1 89.4h0M107.2 51.7h0M83.7 108.1h0M111.4 39.8h0M120.2 46.2h0M154.7 36.5h0M133.2 51.8h0M89.2 67.5h0M94.2 70.8h0M143.1 53.2h0M105.8 63.8h0M131.8 78.2h0M162.5 23.1h0M142.2 69.8h0M155.3 34.6h0M91.0 43.9h0M144.4 76.8h0M87.0 90.5h0M149.8 54.8h0M139.2 60.8h0M160.2 23.6h0M109.0 59.9h0M119.5 69.0h0M146.4 63.3h0M107.4 32.1h0M157.2 41.0h0M135.9 49.0h0M116.3 29.8h0M141.6 36.8h0M82.5 74.9h0M87.5 30.5h0M139.2 59.2h0M149.5 40.0h0M100.3 31.0h0M134.1 87.9h0M121.7 54.5h0M144.9 45.1h0M154.1 66.6h0M149.3 66.1h0M94.3 55.7h0M141.1 62.9h0M133.1 65.4h0M154.2 66.1h0M152.4 55.1h0M140.8 69.3h0M142.2 94.6h0M86.5 80.4h0M121.4 73.4h0M136.0 48.3h0M126.1 67.0h0M120.1 71.0h0M122.2 58.1h0M120.4 58.0h0M43.9 48.8h0M151.3 49.9h0M143.8 36.7h0M156.9 59.6h0M91.2 88.7h0M131.5 47.4h0M88.5 95.8h0M133.9 65.3h0M120.2 86.7h0M139.3 71.7h0M141.5 41.9h0M115.2 44.9h0M112.3 46.3h0M85.2 65.3h0M111.1 46.6h0M125.2 74.5h0M156.4 57.1h0M154.7 57.5h0M119.2 49.4h0M144.3 42.5h0M155.8 45.2h0M99.5 44.1h0M106.0 38.5h0M155.4 37.1h0M136.0 60.8h0M116.2 38.6h0M125.4 42.7h0M106.8 38.9h0M114.1 49.0h0M110.9 79.9h0M113.7 81.8h0M133.9 55.2h0M122.5 74.2h0M134.1 53.6h0M147.8 57.2h0M103.0 31.5h0M37.6 68.1h0M129.9 82.4h0M147.9 38.7h0M138.7 69.8h0M146.4 37.1h0M127.7 56.6h0M126.2 33.1h0M154.6 62.2h0M126.4 79.5h0M150.7 54.3h0M141.3 57.8h0M121.9 55.0h0M138.1 40.0h0M147.9 103.2h0M153.1 46.0h0M108.3 86.5h0M109.7 60.8h0M165.3 18.1h0M169.3 20.2h0M130.3 46.0h0M167.5 30.0h0M149.1 53.9h0M146.7 92.5h0M158.3 58.3h0M140.3 70.9h0M75.7 75.4h0M128.8 47.7h0M125.8 78.4h0M133.0 48.9h0M126.4 74.6h0M117.3 75.7h0M119.6 57.3h0M113.1 73.2h0M154.4 24.6h0M119.6 51.7h0M115.6 81.4h0M129.9 79.5h0M79.0 97.5h0M117.1 60.2h0M106.5 80.3h0M148.7 39.5h0M162.3 32.3h0M113.1 62.4h0M126.4 72.8h0M121.9 40.8h0M127.2 49.2h0M127.2 43.7h0M111.6 49.6h0M116.9 46.2h0M141.5 41.9h0M138.1 61.5h0M146.5 76.2h0M137.0 74.8h0M144.2 52.2h0M157.3 64.0h0M86.6 18.0h0M159.6 37.8h0M28.3 22.7h0M118.1 63.6h0M138.1 68.9h0M113.7 53.1h0M152.7 68.4h0M83.7 101.3h0M152.6 56.8h0M142.7 66.3h0M128.0 38.0h0M97.5 63.6h0M150.8 61.8h0M142.2 96.3h0M97.6 74.6h0M132.8 45.5h0M96.3 60.6h0M93.0 52.0h0M115.0 66.3h0M144.6 50.2h0M145.0 73.2h0M133.3 82.2h0M146.4 61.8h0M119.2 81.7h0M128.2 59.7h0M114.4 31.5h0M127.3 58.2h0M119.6 43.9h0M116.7 61.9h0M130.3 87.8h0M136.2 58.8h0M122.2 79.2h0M144.3 41.0h0M165.9 34.4h0M104.8 75.6h0M153.3 36.9h0M145.4 65.9h0M136.6 40.6h0M143.8 92.0h0M152.1 55.8h0M139.0 59.0h0M76.0 39.9h0M122.5 62.0h0M125.3 44.7h0M123.1 59.8h0M91.4 87.6h0M119.1 52.7h0M140.9 39.9h0M98.6 33.5h0M151.1 45.8h0M139.5 81.2h0M142.0 55.6h0M155.1 57.0h0M120.2 50.3h0M144.0 68.4h0M134.1 77.8h0M129.3 82.6h0M155.8 46.3h0M158.9 42.6h0M151.9 68.6h0M145.3 92.4h0M80.7 82.1h0M146.6 38.1h0M147.8 69.7h0M102.0 75.6h0M92.4 71.9h0M86.2 60.5h0M45.3 13.8h0M152.2 57.4h0M135.7 68.5h0M87.1 83.8h0M90.9 46.7h0M143.2 75.1h0M141.1 38.6h0M147.6 55.8h0M146.6 49.5h0M122.1 75.6h0M141.6 49.4h0M165.0 34.2h0M110.7 61.8h0M130.5 63.4h0M121.8 59.6h0M120.5 49.9h0M111.7 67.2h0M147.1 38.6h0M127.6 54.6h0M120.5 65.9h0M125.5 41.8h0M142.8 45.5h0M100.3 78.5h0M152.7 30.3h0M107.4 79.6h0M144.7 55.2h0M139.1 64.4h0M91.0 95.7h0M123.2 41.7h0M148.3 45.2h0M135.4 71.2h0M144.7 74.7h0M105.4 79.3h0M149.2 41.2h0M77.4 87.3h0M155.5 67.0h0M129.6 41.9h0M124.2 87.2h0M91.7 51.7h0M142.3 96.3h0M128.3 59.9h0M148.6 56.7h0M145.3 68.7h0M165.6 26.2h0M143.7 40.9h0M97.6 55.2h0M121.2 78.3h0M149.5 101.0h0M55.5 49.9h0M150.6 63.9h0M110.7 34.4h0M120.8 74.2h0M149.3 68.6h0M172.6 14.8h0M151.5 28.4h0M134.2 66.7h0M157.4 49.9h0M149.6 69.9h0M129.4 49.4h0M143.0 63.6h0M122.8 32.2h0M142.6 81.1h0M152.0 65.4h0M109.7 42.9h0M150.0 59.0h0M112.6 79.3h0M87.0 86.9h0M158.4 40.4h0M97.1 65.8h0M130.7 57.7h0M135.9 57.8h0M89.5 29.2h0M136.2 57.0h0M133.5 68.1h0M115.9 44.6h0M115.7 33.9h0M128.7 70.5h0M136.1 68.2h0M114.6 45.5h0M123.7 53.8h0M145.6 102.4h0M161.3 38.2h0M122.6 38.6h0M121.0 52.3h0M124.2 59.0h0M84.0 50.5h0M119.9 50.9h0M121.7 49.4h0M153.7 59.1h0M145.1 98.0h0M152.3 55.7h0M96.9 60.7h0M112.9 65.8h0M135.2 86.0h0M94.7 49.0h0M118.5 62.7h0M158.8 43.6h0M112.9 49.1h0M147.8 43.0h0M140.5 65.5h0M128.1 43.1h0M125.8 49.8h0M90.7 42.2h0M128.8 33.7h0M160.6 35.2h0M120.2 89.7h0M136.9 60.6h0M110.7 90.6h0M62.4 47.7h0M93.8 71.4h0M112.5 43.9h0M130.4 59.1h0M128.6 73.9h0M119.9 59.7h0M123.5 80.5h0M155.6 42.7h0M130.5 82.8h0M119.7 52.5h0M123.7 78.2h0M139.6 67.4h0M134.2 51.8h0M90.4 62.9h0M120.4 64.8h0M82.4 57.4h0M106.7 68.2h0M165.8 31.1h0M137.7 86.3h0M120.2 49.9h0M143.0 53.0h0M120.4 50.1h0M155.7 46.3h0M97.9 70.0h0M84.5 87.6h0M138.3 39.2h0M141.3 51.2h0M125.1 41.7h0M94.8 64.9h0M120.1 75.3h0M104.5 51.4h0M128.8 54.1h0M147.4 52.8h0M120.3 79.3h0M56.2 79.7h0M123.0 56.3h0M142.6 45.4h0M148.8 69.1h0M151.1 67.1h0M149.2 104.5h0M147.3 104.0h0M154.4 67.9h0M124.0 33.8h0M155.0 40.0h0M107.2 53.5h0M97.8 85.5h0M138.3 55.5h0M120.1 69.9h0M143.1 80.5h0M129.4 40.9h0M85.9 85.2h0M125.1 81.2h0M127.9 80.3h0M145.1 66.5h0M146.2 75.7h0M111.8 46.4h0M163.1 32.6h0M154.0 30.1h0M127.5 27.8h0M125.9 48.0h0M118.6 71.4h0M112.6 79.7h0M143.4 72.1h0M150.8 51.5h0M95.2 50.1h0M58.1 56.5h0M129.3 59.2h0M151.7 64.0h0M129.3 48.3h0M123.3 60.5h0M141.9 35.5h0M134.4 41.7h0M148.2 50.7h0M63.9 80.8h0M114.1 73.4h0M130.3 40.7h0M154.7 31.6h0M151.7 31.8h0M118.8 48.2h0M121.8 38.9h0M125.3 53.2h0M146.8 34.3h0M122.3 53.6h0M167.6 18.6h0M137.1 76.7h0M166.0 24.0h0M144.4 39.7h0M121.8 28.7h0M148.5 49.3h0M140.7 94.6h0M120.6 45.6h0M149.9 52.4h0M125.9 44.4h0M143.4 88.2h0M94.1 83.5h0M106.5 66.7h0M133.5 50.7h0M85.3 73.4h0M82.3 38.4h0M119.3 43.9h0M118.4 66.7h0M125.7 44.2h0M135.3 47.7h0M111.5 87.3h0M124.8 41.7h0M140.8 68.8h0M121.2 36.5h0M158.0 36.4h0M146.6 37.1h0M147.8 48.9h0M130.2 75.6h0M110.1 38.7h0M151.3 36.5h0M145.0 46.1h0M123.3 36.9h0M136.3 39.5h0M130.7 46.4h0M144.0 102.2h0M116.7 66.1h0M11.3 31.9h0M112.3 36.9h0M110.9 74.3h0M83.2 107.1h0M97.3 69.8h0M100.9 70.2h0M111.5 44.2h0M136.1 78.7h0M138.0 68.2h0M146.0 57.5h0M149.2 45.0h0M79.0 78.2h0M125.5 74.9h0M113.2 36.9h0M119.2 83.9h0M139.8 61.3h0M128.3 62.4h0M159.1 63.2h0M153.0 44.1h0M147.3 99.9h0M102.9 69.5h0M130.6 51.7h0M45.4 45.8h0M154.2 30.5h0M145.6 40.5h0M121.1 72.0h0M87.0 71.5h0M106.3 61.1h0M132.6 83.8h0M137.8 80.1h0M85.1 77.6h0M150.2 105.4h0M121.7 56.0h0M139.0 61.6h0M128.0 52.8h0M134.1 52.9h0M147.2 63.4h0M130.1 59.0h0M100.3 45.5h0M152.3 63.3h0M50.8 66.0h0M135.1 72.2h0M135.2 85.8h0M144.3 42.9h0M94.2 93.4h0M109.5 38.8h0M106.3 61.5h0M126.1 45.0h0M161.8 33.3h0M146.9 41.4h0M109.1 65.3h0M138.1 58.8h0M135.6 48.1h0M123.2 65.2h0M122.7 57.7h0M80.6 93.1h0M146.4 46.8h0M154.4 34.3h0M93.9 64.2h0M107.9 48.8h0M114.9 62.6h0M123.7 83.4h0M122.5 88.5h0M98.2 46.8h0M143.9 64.5h0M13.6 50.0h0M157.0 44.9h0M85.6 86.8h0M157.3 36.2h0M164.3 20.4h0M145.1 64.9h0M126.7 37.3h0M146.2 49.4h0M130.5 59.9h0M148.9 101.7h0M143.3 100.8h0M126.9 84.2h0M153.1 33.1h0M123.2 46.8h0M106.8 59.4h0M92.6 87.4h0M115.4 45.7h0M140.4 41.8h0M66.9 80.6h0M142.7 84.7h0M147.3 102.5h0M109.9 70.2h0M126.2 69.0h0M110.3 89.2h0M119.7 64.0h0M95.5 49.8h0M148.1 45.8h0M121.3 51.5h0M118.7 48.1h0M106.4 46.4h0M110.2 38.8h0M79.7 102.8h0M146.5 34.7h0M156.3 34.9h0M33.8 24.2h0M112.8 59.3h0M136.3 42.6h0M96.7 67.1h0M111.3 38.5h0M134.7 55.3h0M144.8 68.4h0M149.3 42.0h0M155.0 66.7h0M138.1 69.5h0M135.0 80.6h0M130.8 72.0h0M116.5 42.5h0M129.2 57.6h0M149.4 37.0h0M80.6 37.5h0M157.7 63.6h0M149.9 54.6h0M137.4 67.5h0M128.6 52.7h0M99.5 66.5h0M84.4 65.9h0M134.7 64.3h0M103.6 30.0h0M147.1 33.8h0M111.7 41.7h0M106.6 42.2h0M119.0 45.0h0M112.8 49.3h0M139.3 62.3h0M148.7 57.9h0M35.3 43.7h0M158.9 27.8h0M85.2 38.0h0M113.8 31.9h0M115.4 37.0h0M134.4 50.9h0M144.5 39.8h0M134.4 76.7h0M162.1 30.1h0M138.6 63.1h0M146.7 54.7h0M149.3 40.5h0M150.9 104.9h0M135.8 76.1h0M122.5 55.1h0M112.6 78.6h0M135.8 45.1h0M128.4 50.2h0M130.2 42.8h0M164.2 31.2h0M144.7 71.4h0M123.2 61.1h0M142.5 52.7h0M80.6 35.9h0M151.6 53.1h0M129.5 81.3h0M154.3 40.4h0M154.8 26.7h0M129.0 41.4h0M145.7 76.8h0M146.1 95.3h0M128.5 47.2h0M109.0 46.0h0M153.8 40.8h0M98.8 75.9h0M136.1 78.7h0M89.8 90.0h0M134.7 44.1h0M114.7 51.1h0M128.4 37.3h0M127.4 49.5h0M151.1 43.6h0M151.7 27.7h0M115.3 60.6h0M124.8 80.2h0M98.9 35.8h0M137.0 48.1h0M145.8 54.7h0M123.1 37.0h0M158.3 36.8h0M116.0 70.6h0M101.5 78.3h0M123.2 66.9h0M113.0 47.8h0M142.1 40.4h0M132.0 73.0h0M149.3 49.8h0M111.0 29.0h0M154.3 57.6h0M136.1 61.2h0M136.1 41.6h0M152.1 69.7h0M148.3 69.8h0M145.6 101.3h0M160.0 30.6h0M143.8 56.6h0M100.3 57.5h0M141.9 67.3h0M151.5 52.1h0M148.5 69.0h0M152.5 46.2h0M144.3 70.0h0M24.6 64.2h0M88.7 71.9h0M126.2 62.2h0M123.7 35.3h0M112.8 55.7h0M140.1 78.0h0M69.9 80.1h0M143.5 50.5h0M7.4 49.2h0M81.0 19.1h0M56.6 58.2h0M130.7 43.0h0M145.8 62.3h0M160.3 36.0h0M110.6 80.3h0M165.8 27.1h0M121.9 29.2h0M134.0 41.0h0M155.3 59.6h0M119.2 44.7h0M146.9 53.4h0M104.2 81.2h0M127.2 80.5h0M132.7 85.3h0M122.5 60.3h0M122.7 27.2h0M136.0 65.6h0M142.5 89.0h0M89.4 60.9h0M135.9 49.6h0M135.3 48.2h0M140.3 52.5h0M144.8 57.1h0M89.1 95.9h0M100.4 77.1h0M127.3 77.4h0M153.7 54.7h0M95.1 49.1h0M151.2 50.0h0M154.5 49.6h0M135.7 77.7h0M148.7 100.5h0M125.1 61.3h0M92.4 58.7h0M146.1 45.0h0M136.1 77.2h0M129.2 76.4h0M104.7 67.5h0M126.3 73.0h0M117.3 42.5h0M116.1 72.6h0M102.4 74.0h0M135.7 71.2h0M154.4 36.5h0M95.8 90.0h0M159.0 39.7h0M113.9 44.7h0M143.9 52.6h0M133.0 63.6h0M103.2 17.8h0M91.1 12.5h0M89.2 16.1h0M149.5 59.5h0M163.0 27.7h0M134.5 43.4h0M158.0 40.6h0M85.0 50.8h0M156.9 43.6h0M160.6 29.2h0M136.6 64.2h0M129.1 49.6h0M141.8 98.2h0M109.3 48.3h0M120.0 88.7h0M137.1 87.5h0M155.7 30.1h0M131.5 70.3h0M159.4 36.8h0M162.1 20.8h0M128.3 76.7h0M142.4 59.9h0M120.2 40.9h0M114.0 91.6h0M127.7 85.2h0M131.8 48.4h0M123.7 87.1h0M145.9 61.3h0M118.8 48.6h0M151.6 53.9h0M127.5 51.2h0M109.4 40.3h0M119.7 74.8h0M109.7 27.3h0M75.8 90.2h0M89.1 29.9h0M105.4 61.7h0M128.5 54.0h0M126.2 79.4h0M135.9 47.4h0M122.2 69.7h0M114.5 64.5h0M148.0 40.9h0M144.3 77.6h0M125.4 39.9h0M139.5 60.7h0M121.2 34.3h0M18.8 62.9h0M121.3 51.8h0M130.1 44.2h0M148.7 54.8h0M83.0 72.2h0M104.3 42.8h0M70.1 75.7h0M110.9 63.7h0M153.2 55.5h0M118.5 67.2h0M135.5 71.5h0M116.5 49.6h0M78.7 88.7h0M75.6 85.1h0M143.4 95.4h0M44.1 19.9h0M114.2 35.3h0M88.9 77.1h0M130.6 48.0h0M144.4 44.8h0M121.3 63.1h0M143.5 44.1h0M151.4 44.5h0M153.9 51.3h0M127.6 33.2h0M154.0 40.7h0M160.7 22.4h0M95.4 47.1h0M83.1 79.3h0M118.7 48.1h0M135.4 88.7h0M120.7 55.6h0M129.5 39.8h0M137.2 58.6h0M143.5 73.4h0M105.2 36.2h0M116.0 71.7h0M87.4 83.6h0M152.5 25.2h0M140.4 61.7h0M160.7 38.7h0M128.3 66.4h0M124.2 74.2h0M116.5 44.7h0M152.2 64.1h0M107.7 41.5h0M107.8 59.4h0M121.0 60.4h0M80.3 100.2h0M138.3 65.9h0M152.1 40.7h0M114.7 89.6h0M142.6 73.6h0M81.9 19.9h0M109.7 37.3h0M116.7 71.7h0M155.6 44.4h0M97.4 54.0h0M151.9 40.4h0M135.1 57.0h0M154.1 56.8h0M116.8 84.6h0M137.6 58.6h0M154.3 45.0h0M159.9 38.2h0M148.1 50.0h0M125.8 57.7h0M88.8 39.2h0M117.7 63.3h0M114.2 87.4h0M82.9 89.0h0M158.2 58.9h0M93.2 79.4h0M145.4 53.7h0M140.3 60.2h0M132.8 62.0h0M127.8 26.6h0M125.3 73.6h0M116.8 77.5h0M147.4 67.0h0M138.1 88.9h0M85.4 59.4h0M111.8 43.1h0M138.5 60.7h0M148.9 45.9h0M86.6 93.4h0M127.1 77.5h0M108.3 88.3h0M138.0 43.9h0M148.4 41.0h0M143.7 79.2h0M110.0 26.6h0M132.0 61.0h0M135.2 61.9h0M92.9 66.5h0M109.8 51.6h0M125.2 44.6h0M128.6 70.7h0M121.7 79.1h0M86.8 49.1h0M151.8 66.6h0M156.4 49.3h0M138.3 47.0h0M152.6 50.3h0M111.2 28.3h0M138.4 57.8h0M133.3 85.1h0M135.7 71.7h0M155.6 40.9h0M147.7 69.9h0M96.4 71.5h0M155.1 51.7h0M146.6 75.6h0M126.6 35.1h0M134.9 45.6h0M165.9 17.8h0M151.8 38.8h0M149.8 50.3h0M116.7 73.8h0M131.6 63.8h0M148.8 44.5h0M114.5 82.0h0M79.2 79.0h0M135.3 41.1h0M122.0 45.8h0M100.2 41.9h0M129.9 63.9h0M143.7 52.0h0M90.3 80.6h0M98.7 68.3h0M131.8 64.6h0M141.8 68.2h0M130.3 79.7h0M114.4 32.4h0M146.7 99.1h0M155.2 67.0h0M150.1 40.4h0M138.1 63.0h0M134.1 45.1h0M123.6 64.3h0M127.0 72.0h0M122.1 64.1h0M113.8 44.2h0M132.0 64.3h0M169.9 10.0h0M119.2 86.1h0M146.2 94.3h0M150.0 103.4h0M128.1 73.2h0M131.5 52.1h0M116.3 60.2h0M140.1 77.8h0M104.9 40.4h0M137.9 62.9h0M128.9 33.7h0M150.6 68.1h0M123.9 60.8h0M149.1 52.5h0M130.1 62.1h0M115.0 25.8h0M128.1 73.6h0M166.2 28.3h0M138.8 89.1h0M120.5 56.9h0M116.0 47.1h0M135.8 87.1h0M126.2 40.8h0M147.2 94.3h0M167.0 27.0h0M136.7 41.3h0M149.8 48.3h0M154.1 46.8h0M149.3 61.4h0M110.0 72.2h0M100.1 73.7h0M129.2 40.6h0M141.7 96.8h0M122.1 67.9h0M115.9 71.0h0M133.8 43.2h0M19.3 6.4h0M126.7 45.3h0M138.7 48.1h0M148.3 55.1h0M131.1 74.0h0M107.6 69.2h0M91.3 35.6h0M113.0 81.1h0M136.2 86.4h0M125.4 75.5h0M124.7 46.4h0M138.0 66.7h0M142.4 94.8h0M97.6 42.2h0M121.5 66.1h0M137.3 55.9h0M153.8 44.2h0M130.6 62.7h0M104.6 33.2h0M124.9 78.6h0M106.4 49.8h0M143.1 70.0h0M157.2 48.4h0M144.5 88.8h0M20.3 7.6h0M114.7 48.3h0M31.7 38.6h0M126.6 70.5h0M107.1 32.6h0M121.3 64.7h0M148.8 55.9h0M155.6 30.4h0M159.9 39.2h0M135.8 77.6h0M158.0 43.6h0M121.4 67.1h0M131.6 86.9h0M142.7 95.6h0M135.9 50.2h0M149.3 42.4h0M120.1 78.4h0M157.2 43.9h0M117.2 67.5h0M115.7 25.7h0M145.7 60.9h0M30.4 12.8h0M116.5 40.4h0M141.0 71.2h0M128.3 54.1h0M120.6 80.2h0M153.2 69.7h0M139.3 67.3h0M125.5 72.7h0M84.1 99.9h0M90.2 77.6h0M148.0 61.0h0M161.3 26.5h0M26.9 5.8h0M111.5 56.0h0M148.6 107.7h0M121.3 42.8h0M135.2 48.9h0M103.3 28.5h0M120.3 32.3h0M156.5 27.9h0M111.2 85.6h0M129.9 46.7h0M135.3 46.4h0M123.0 67.6h0M126.5 81.5h0M106.5 42.0h0M127.5 60.3h0M94.2 58.9h0M121.9 74.7h0M150.0 59.5h0M105.2 43.4h0M152.8 48.7h0M120.5 61.8h0M147.7 35.8h0M130.1 45.4h0M83.6 16.7h0M91.8 29.2h0M134.7 79.8h0M139.1 50.1h0M121.1 72.8h0M123.5 88.5h0M127.5 81.0h0M146.5 63.1h0M156.1 57.4h0M144.4 54.8h0M94.0 78.7h0M103.4 55.4h0M125.6 73.7h0M102.7 54.7h0M149.5 64.6h0M98.3 80.2h0M145.8 61.5h0M129.4 40.8h0M128.3 37.0h0M129.0 61.1h0M124.1 50.9h0M120.6 55.5h0M152.7 43.6h0M124.4 47.1h0M130.3 54.2h0M95.8 52.8h0M120.2 32.3h0M142.7 85.6h0M106.7 75.3h0M113.5 69.4h0M159.3 60.8h0M129.1 42.2h0M161.5 33.7h0M152.2 51.5h0M153.4 61.3h0M75.3 82.2h0M141.5 65.1h0M108.0 34.8h0M158.5 48.4h0M157.9 45.1h0M121.8 47.5h0M107.9 48.7h0M125.3 49.5h0M99.4 57.5h0M123.8 77.7h0M143.1 57.9h0M150.8 39.0h0M154.2 65.5h0M155.1 41.9h0M157.7 42.6h0M138.4 84.5h0M138.2 67.4h0M150.8 36.6h0M170.7 15.5h0M107.6 47.3h0M17.5 5.6h0M160.4 31.0h0M141.5 40.7h0M138.6 46.4h0M150.7 58.7h0M80.4 72.9h0M97.5 58.1h0M114.3 33.6h0M85.5 84.7h0M146.4 44.7h0M140.7 88.7h0M138.8 85.5h0M136.2 59.3h0M97.8 22.5h0M140.9 64.1h0M75.4 46.3h0M145.4 31.7h0M137.8 74.9h0M159.8 27.8h0M114.1 72.8h0M141.0 69.4h0M85.2 34.0h0M116.2 42.7h0M142.6 57.3h0M149.8 55.7h0M164.3 31.7h0M109.8 79.0h0M164.2 24.6h0M159.6 38.0h0M120.7 56.4h0M111.2 37.5h0M153.1 38.4h0M111.2 37.2h0M151.2 43.5h0M133.9 57.5h0M121.8 75.0h0M90.2 24.1h0M114.5 83.0h0M147.0 72.3h0M152.0 39.7h0M130.1 41.9h0M102.7 48.0h0M116.7 56.5h0M125.6 53.9h0M144.7 96.8h0M132.8 52.3h0M135.9 76.3h0M127.3 46.5h0M154.8 38.0h0M122.1 63.1h0M148.1 72.7h0M112.0 69.2h0M137.8 40.5h0M89.7 72.8h0M141.5 35.4h0M110.1 38.9h0M126.3 38.1h0M145.9 35.1h0M136.1 57.8h0M125.3 40.3h0M139.1 66.7h0M146.9 64.0h0M149.8 57.8h0M145.6 54.2h0M128.5 46.6h0M142.4 55.9h0M135.6 63.6h0M122.7 40.4h0M156.3 45.4h0M83.2 79.3h0M156.3 27.7h0M97.0 22.9h0M110.1 87.3h0M157.6 41.7h0M113.3 88.7h0M120.1 31.7h0M111.1 83.5h0M153.7 63.6h0M128.4 45.1h0M147.2 68.9h0M113.6 71.2h0M144.2 79.5h0M57.8 42.3h0M143.9 35.1h0M139.8 67.5h0M118.7 72.1h0M94.0 67.3h0M113.9 47.7h0M23.8 18.8h0M124.8 37.8h0M22.3 8.4h0M121.3 82.2h0M155.0 39.8h0M137.0 73.4h0M147.7 45.1h0M126.6 69.2h0M119.6 66.1h0M136.1 75.3h0M85.4 90.8h0M106.5 54.9h0M105.6 49.2h0M150.2 56.9h0M128.6 73.1h0M118.7 64.6h0M125.5 46.7h0M128.1 61.7h0M120.3 66.9h0M97.4 29.5h0M154.2 45.7h0M155.4 40.8h0M120.6 60.0h0M109.8 43.2h0M121.8 44.8h0M145.0 62.9h0M114.5 38.4h0M115.6 89.3h0M157.4 30.0h0M153.7 49.5h0M124.6 70.8h0M145.1 92.9h0M142.9 53.4h0M158.7 22.7h0M135.9 84.8h0M155.0 60.9h0M124.0 38.5h0M157.5 32.4h0M110.8 82.7h0M157.2 32.4h0M111.0 48.9h0M150.6 55.1h0M135.1 87.7h0M145.8 52.3h0M110.9 72.0h0M115.2 40.6h0M117.0 78.3h0M133.3 64.1h0M150.8 54.8h0M133.6 44.0h0M147.3 68.1h0M150.5 60.1h0M140.3 81.1h0M126.5 41.3h0M117.7 87.7h0M149.9 30.1h0M87.7 78.1h0M155.7 49.1h0M109.6 43.4h0M44.5 51.8h0M129.6 53.9h0M132.2 76.3h0M164.8 22.8h0M146.5 55.0h0M123.0 45.3h0M124.4 42.5h0M143.0 71.2h0M125.8 55.7h0M105.3 43.5h0M133.4 68.9h0M112.4 47.6h0M124.9 74.0h0M120.3 78.7h0M140.7 60.0h0M141.4 42.7h0M146.7 55.1h0M124.3 65.5h0M153.4 43.8h0M148.0 45.5h0M127.5 46.8h0M108.6 35.0h0M166.2 28.0h0M117.3 42.9h0M152.9 55.4h0M153.9 46.2h0M149.0 72.2h0M128.4 77.1h0M148.7 61.8h0M111.2 84.4h0M116.2 37.5h0M130.7 55.9h0M156.2 39.5h0M125.1 59.3h0M149.3 67.9h0M115.3 52.5h0M118.2 78.8h0M124.7 64.6h0M150.5 37.9h0M117.1 57.3h0M151.8 46.5h0M127.4 84.5h0M165.5 28.4h0M130.4 52.7h0M148.1 68.9h0M98.1 28.8h0M134.1 53.7h0M139.7 63.0h0M158.8 61.8h0M137.1 48.9h0M148.2 104.6h0M104.9 34.8h0M156.6 25.4h0M124.6 38.0h0M116.4 83.1h0M145.9 40.3h0M138.1 69.9h0M154.5 28.5h0M25.5 30.0h0M155.1 21.8h0M163.7 18.9h0M99.7 61.8h0M6.9 34.7h0M122.3 38.5h0M147.8 44.7h0M88.8 90.5h0M128.0 55.6h0M118.6 51.2h0M134.3 63.6h0M143.1 97.6h0M123.7 39.4h0M129.4 45.0h0M128.8 44.0h0M144.3 34.7h0M105.6 54.5h0M110.1 90.2h0M142.4 50.5h0M140.7 48.6h0M119.7 68.5h0M155.2 42.8h0M104.3 66.8h0M44.7 47.5h0M124.9 61.6h0M124.1 32.5h0M165.1 24.9h0M96.0 60.9h0M141.1 75.3h0M122.9 88.0h0M145.1 76.9h0M94.2 76.5h0M114.2 26.7h0M149.2 50.5h0M133.9 56.7h0M150.2 61.0h0M146.5 75.5h0M84.8 85.2h0M164.1 21.5h0M146.5 53.9h0M149.7 46.4h0M80.7 104.8h0M141.8 91.8h0M129.9 54.8h0M102.0 87.6h0M149.8 41.0h0M158.8 40.7h0M137.3 72.7h0M118.0 44.5h0M158.6 27.6h0M140.7 39.7h0M110.3 31.6h0M112.9 54.9h0M92.1 90.1h0M106.6 28.2h0M144.8 64.1h0M126.4 63.1h0M141.0 70.7h0M136.9 58.4h0M107.0 28.5h0M153.3 59.4h0M120.6 69.0h0M141.3 56.9h0M123.5 43.6h0M132.7 54.2h0M138.0 68.9h0M144.3 38.7h0M90.1 86.8h0M113.8 91.3h0M117.6 63.8h0M136.6 85.1h0M135.6 52.1h0M108.1 32.9h0M108.1 78.6h0M132.2 59.9h0M109.8 93.1h0M148.5 61.1h0M112.8 65.2h0M122.8 31.2h0M135.3 55.6h0M153.8 46.8h0M78.8 90.1h0M155.2 38.6h0M137.8 79.1h0M115.2 60.0h0M153.6 49.6h0M120.8 41.5h0M103.7 40.7h0M143.7 70.5h0M126.1 36.9h0M119.8 46.5h0M131.4 62.7h0M150.4 38.8h0M145.2 42.4h0M152.8 52.1h0M166.6 32.2h0M134.5 82.2h0M116.2 43.1h0M127.0 62.4h0M130.4 31.3h0M134.7 41.6h0M13.7 53.1h0M153.9 39.2h0M125.1 52.7h0M135.9 88.9h0M150.2 52.4h0M159.6 42.4h0M129.4 37.8h0M128.3 41.4h0M139.4 69.7h0M118.6 47.7h0M105.7 33.4h0M95.1 29.9h0M158.2 44.5h0M101.7 87.7h0M125.0 85.0h0M130.1 35.1h0M96.6 28.7h0M157.9 44.7h0M131.1 76.9h0M140.6 67.2h0M118.2 82.2h0M132.7 70.3h0M142.2 55.7h0M110.5 64.2h0M85.7 72.8h0M142.8 43.1h0M129.7 51.9h0M118.9 87.9h0M98.7 86.8h0M119.2 65.2h0M90.5 62.9h0M128.8 34.7h0M128.8 63.2h0M119.3 20.9h0M129.9 53.6h0M120.7 65.7h0M159.3 30.1h0M126.9 70.0h0M141.3 57.3h0M124.4 38.2h0M123.1 45.6h0M105.7 35.6h0M141.3 63.7h0M103.1 88.0h0M15.4 49.4h0M139.4 90.5h0M152.8 26.2h0M127.4 79.2h0M35.5 40.2h0M135.6 47.0h0M165.3 27.7h0M130.0 72.0h0M134.3 74.4h0M97.4 56.3h0M121.8 41.4h0M141.8 65.6h0M114.6 72.9h0M145.5 75.3h0M148.7 104.4h0M143.8 40.0h0M86.4 60.5h0M114.6 48.3h0M89.2 68.0h0M140.2 40.4h0M118.9 51.1h0M130.6 66.5h0M124.8 36.2h0M125.6 87.3h0M106.9 47.6h0M109.8 26.2h0M133.3 79.0h0M129.1 43.1h0M133.1 65.3h0M156.6 36.1h0M139.5 74.3h0M113.1 86.3h0M123.0 37.1h0M114.6 55.9h0M150.6 33.9h0M89.8 56.4h0M135.9 43.4h0M144.6 103.1h0M160.4 39.0h0M117.5 42.2h0M133.6 51.9h0M141.1 90.4h0M129.7 61.8h0M127.8 45.9h0M130.9 40.6h0M100.8 52.9h0M124.5 85.4h0M134.6 71.9h0M147.6 40.0h0M90.2 73.7h0M134.9 72.7h0M111.3 53.1h0M157.1 38.1h0M158.7 63.7h0M105.0 51.6h0M127.7 62.6h0M113.6 46.2h0M95.8 50.2h0M19.0 5.0h0M123.7 74.4h0M133.4 58.8h0M137.0 62.2h0M136.5 42.5h0M141.8 90.6h0M85.1 102.3h0M142.1 86.8h0M144.3 92.3h0M134.8 86.0h0M127.5 36.8h0M103.1 87.3h0M168.4 15.4h0M127.3 80.2h0M103.2 26.0h0M143.2 46.3h0M99.0 81.5h0M126.5 63.7h0M121.9 36.7h0M132.6 41.3h0M113.4 39.7h0M127.2 64.1h0M129.2 37.3h0M15.0 55.2h0M129.5 64.4h0M140.0 61.5h0M115.2 75.8h0M133.6 43.5h0M153.1 44.2h0M139.8 44.1h0M100.3 32.3h0M144.1 40.5h0M154.7 53.0h0M151.0 60.2h0M133.7 63.7h0M153.8 56.3h0M139.3 41.8h0M110.1 55.0h0M141.5 68.0h0M112.5 55.5h0M120.0 49.4h0M126.9 75.6h0M132.1 54.5h0M127.8 65.5h0M86.5 67.5h0M133.0 42.9h0M129.9 90.7h0M143.8 34.0h0M158.9 45.4h0M127.7 44.1h0M113.6 40.0h0M104.8 59.7h0M106.4 87.2h0M134.0 52.4h0M130.8 70.6h0M83.4 67.4h0M84.7 85.4h0M126.8 81.5h0M149.8 32.5h0M106.3 81.1h0M98.1 68.6h0M156.4 24.2h0M116.9 46.6h0M152.2 69.2h0M143.5 42.0h0M142.3 51.9h0M127.6 47.7h0M146.8 38.9h0M126.2 72.4h0M169.2 15.2h0M138.4 63.5h0M115.6 56.0h0M148.3 50.2h0M108.4 52.5h0M112.2 30.9h0M115.4 72.3h0M153.8 29.5h0M114.4 45.4h0M91.8 84.7h0M144.9 95.3h0M154.7 64.7h0M125.2 61.7h0M134.7 51.7h0M147.7 65.2h0M76.6 91.6h0M151.8 49.5h0M123.2 78.8h0M153.7 42.4h0M128.2 89.3h0M98.5 48.3h0M137.7 78.1h0M105.7 42.3h0M132.0 66.6h0M116.6 65.1h0M141.2 62.6h0M137.2 50.8h0M142.9 59.6h0M134.7 78.9h0M119.5 68.5h0M146.9 99.1h0M148.6 102.9h0M113.3 52.5h0M85.4 31.4h0M127.1 36.3h0M125.5 44.7h0M144.8 55.6h0M155.8 25.0h0M147.6 71.2h0M114.2 42.7h0M130.5 69.4h0M129.5 54.4h0M152.9 51.7h0M133.3 64.8h0M118.6 80.5h0M136.6 81.2h0M84.1 63.7h0M140.5 53.5h0M93.2 83.7h0M150.1 58.7h0M119.1 57.5h0M121.1 52.6h0M149.6 61.6h0M148.7 52.9h0M142.9 98.7h0M140.9 68.3h0M122.9 72.9h0M139.7 42.0h0M125.3 51.9h0M124.8 54.3h0M88.8 68.4h0M110.4 86.4h0M111.4 57.3h0M131.6 69.6h0M142.7 87.7h0M150.4 54.9h0M121.5 32.3h0M82.9 100.8h0M157.8 51.8h0M141.8 71.3h0M125.9 70.9h0M157.4 46.9h0M125.4 62.8h0M81.4 38.9h0M131.3 43.1h0M138.6 58.0h0M155.8 36.7h0M113.9 40.6h0M146.2 62.4h0M151.3 43.7h0M15.2 37.0h0M150.6 106.2h0M160.6 21.8h0M125.0 34.6h0M112.6 72.2h0M142.4 70.8h0M135.6 89.7h0M136.1 70.4h0M99.3 90.5h0M130.2 37.3h0M129.3 78.1h0M152.4 56.0h0M104.0 39.7h0M142.7 56.3h0M122.6 81.2h0M131.0 61.0h0M107.0 53.8h0M119.4 84.0h0M150.4 35.2h0M140.9 53.4h0M125.4 74.5h0M148.4 33.4h0M141.5 49.5h0M116.5 40.1h0M94.9 27.8h0M105.7 42.1h0M132.7 57.0h0M131.1 79.8h0M107.1 67.9h0M145.8 66.6h0M151.5 47.5h0M120.6 41.2h0M116.7 67.9h0M145.0 67.5h0M147.3 46.4h0M89.5 53.9h0M6.2 48.7h0M103.7 89.7h0M123.5 31.0h0M132.7 68.8h0M151.9 67.1h0M143.6 97.0h0M135.3 78.0h0M94.8 94.1h0M133.6 88.3h0M123.2 55.8h0M156.2 64.1h0M103.7 80.2h0M123.5 77.8h0M142.8 86.6h0M152.5 43.1h0M138.6 50.2h0M144.6 68.9h0M158.5 48.9h0M149.8 41.5h0M163.3 34.7h0M162.1 35.2h0M141.0 61.3h0M112.8 43.4h0M143.4 49.6h0M152.9 47.7h0M154.5 31.4h0M34.2 40.1h0M139.4 62.2h0M98.1 88.1h0M136.1 49.5h0M87.7 54.8h0M83.1 93.1h0M152.8 58.2h0M151.7 62.5h0M131.7 47.1h0M134.5 61.8h0M124.4 29.0h0M155.4 26.7h0M76.2 97.7h0M155.8 32.8h0M88.1 21.9h0M91.3 46.3h0M137.3 75.1h0M129.7 62.5h0M165.6 18.6h0M107.2 55.3h0M141.6 67.3h0M14.0 48.1h0M143.1 80.7h0M105.0 57.4h0M156.9 54.8h0M114.5 76.7h0M78.2 97.2h0M143.7 64.1h0M147.8 98.4h0M122.8 39.8h0M128.0 61.5h0M116.6 82.1h0M154.1 46.8h0M146.9 59.0h0M157.5 35.2h0M132.5 72.9h0M147.3 71.8h0M126.3 39.9h0M129.9 31.1h0M142.5 88.3h0M166.8 12.3h0M126.0 76.6h0M125.8 73.9h0M133.5 80.8h0M132.3 54.2h0M136.1 65.6h0M143.1 58.5h0M107.4 76.0h0M132.0 80.1h0M112.5 67.1h0M66.9 34.5h0M133.0 75.4h0M137.9 38.7h0M148.0 102.5h0M126.1 62.1h0M158.2 27.0h0M127.1 50.9h0M101.1 54.7h0M109.4 35.8h0M145.2 50.2h0M130.9 73.0h0M93.0 60.0h0M116.1 58.4h0M113.3 47.4h0M123.9 67.4h0M138.7 70.4h0M135.9 85.8h0M163.3 29.9h0M78.1 90.7h0M41.9 40.5h0M119.7 64.3h0M131.5 35.0h0M126.8 80.4h0M131.8 65.5h0M146.0 41.8h0M110.5 31.3h0M152.4 50.4h0M152.0 33.3h0M103.8 32.5h0M129.7 51.6h0M121.4 74.8h0M151.5 63.5h0M162.3 31.5h0M163.8 23.5h0M126.4 60.1h0M155.6 37.5h0M113.2 84.9h0M134.9 76.5h0M32.1 41.4h0M134.5 47.3h0M123.2 71.3h0M124.7 48.9h0M121.3 75.3h0M117.6 73.6h0M114.3 36.4h0M142.6 69.2h0M129.5 69.8h0M12.0 56.2h0M124.2 45.1h0M121.1 38.1h0M151.3 70.1h0M124.3 64.5h0M160.0 23.4h0M151.4 43.4h0M145.8 38.8h0M86.3 88.6h0M147.2 62.9h0M121.6 81.2h0M144.8 95.8h0M152.0 65.9h0M120.3 67.0h0M132.7 44.8h0M75.9 76.4h0M145.6 58.4h0M123.0 82.2h0M135.2 60.3h0M119.6 79.3h0M116.4 63.3h0M151.3 63.3h0M138.3 60.5h0M143.0 41.6h0M144.5 67.5h0M113.8 86.5h0M133.3 41.9h0M122.7 48.9h0M122.1 73.7h0M120.0 83.1h0M153.9 59.5h0M78.2 48.3h0M162.9 29.3h0M135.0 81.4h0M152.5 43.1h0M147.0 104.3h0M152.0 67.3h0M148.7 38.1h0M120.7 34.6h0M154.1 55.1h0M154.3 58.9h0M147.4 59.6h0M82.7 93.7h0M163.1 24.9h0M119.6 52.4h0M138.3 51.5h0M162.9 24.6h0M110.5 50.1h0M123.3 49.7h0M144.5 68.1h0M139.0 65.4h0M122.8 74.4h0M136.7 42.4h0M147.5 54.9h0M131.6 34.7h0M93.6 22.9h0"/>
<path stroke="#ffd700" stroke-width="1.4" d="M77.8 81.5h0M96.4 69.2h0M95.9 62.1h0M139.5 45.5h0M133.1 82.8h0M128.9 84.8h0M115.0 85.6h0M77.2 20.6h0M158.5 22.6h0M171.0 17.9h0M152.8 34.3h0M153.9 29.7h0M147.9 40.9h0M146.4 42.4h0M142.2 46.9h0M149.3 45.6h0M148.1 52.8h0M157.1 49.5h0M146.7 69.5h0M144.7 78.4h0M136.6 85.5h0M128.4 89.3h0M124.9 88.6h0M104.7 81.2h0M103.7 86.3h0M97.8 77.5h0M82.4 75.4h0M75.2 85.5h0M87.3 97.1h0M82.8 72.5h0M85.8 54.6h0M83.6 45.7h0M89.8 39.1h0M101.6 32.5h0M96.4 26.2h0M105.4 33.3h0M104.4 29.1h0M121.9 27.9h0M118.6 50.7h0M121.5 51.7h0M119.9 46.5h0M124.7 47.0h0M122.7 60.9h0M115.5 61.1h0M115.3 67.4h0M116.1 73.1h0M119.4 70.5h0M125.5 73.3h0M134.5 72.4h0M153.7 62.2h0M154.2 65.8h0M147.7 94.6h0M127.5 32.9h0M135.8 61.2h0M113.2 46.9h0"/>
<path stroke="#ffd700" stroke-width="1" d="M8.6 35.7h0M9.3 39.7h0M3.5 33.3h0M38.0 65.7h0M25.9 74.3h0M57.4 66.2h0M50.6 51.0h0M62.9 55.9h0M63.3 43.6h0M59.5 35.8h0M69.3 31.6h0M47.5 14.6h0M39.4 15.8h0M44.7 17.9h0M47.0 22.2h0M42.6 30.8h0M40.9 33.2h0M34.6 33.4h0M33.0 56.6h0M14.6 9.1h0M17.7 2.6h0M24.3 15.3h0M34.7 68.0h0M28.5 67.0h0M68.4 83.5h0"/>
<polyline points="17.7,2.6 17.6,5.9 16.8,7.3 16.1,8.6 14.6,9.1 13.9,12.1 13.5,15.4 11.8,17.5 10.6,21.0" stroke="#ffa500" stroke-width="1.1" stroke-opacity="0.85" stroke-linejoin="round"/>
<polyline points="5.2,47.2 5.7,48.1 6.4,49.4" stroke="#ffa500" stroke-width="1.1" stroke-opacity="0.85" stroke-linejoin="round"/>
<polyline points="5.7,47.2 7.3,45.9 9.1,44.7" stroke="#ffa500" stroke-width="1.1" stroke-opacity="0.85" stroke-linejoin="round"/>
<polyline points="9.1,44.7 9.0,47.4 9.6,48.9 10.8,50.8 12.5,53.7 13.7,55.8 13.6,59.9" stroke="#ffa500" stroke-width="1.1" stroke-opacity="0.85" stroke-linejoin="round"/>
<polyline points="10.3,63.3 11.8,64.6 13.7,65.3 14.8,66.0 15.8,67.5 16.4,69.0 17.0,70.2 17.5,72.3" stroke="#ffa500" stroke-width="1.1" stroke-opacity="0.85" stroke-linejoin="round"/>
<polyline points="14.8,66.0 16.3,66.3 17.7,67.1 18.1,66.5" stroke="#ffa500" stroke-width="1.1" stroke-opacity="0.85" stroke-linejoin="round"/>
<polyline points="41.2,40.3 41.1,42.3 41.4,44.6" stroke="#ffa500" stroke-width="1.1" stroke-opacity="0.85" stroke-linejoin="round"/>
<polyline points="62.3,45.8 62.3,49.5 62.4,53.3 62.9,55.9" stroke="#ffa500" stroke-width="1.1" stroke-opacity="0.85" stroke-linejoin="round"/>
<polyline points="34.5,72.4 35.3,72.8 36.5,73.2" stroke="#ffa500" stroke-width="1.1" stroke-opacity="0.85" stroke-linejoin="round"/>
<polyline points="167.1,29.7 166.6,32.2 164.7,34.5 162.5,35.4 160.9,37.0 159.9,38.6 158.9,40.1 158.0,41.3 157.0,42.7 156.0,43.8 153.0,46.4 152.0,48.3 151.2,51.0 151.9,54.2" stroke="#ffa500" stroke-width="1.1" stroke-opacity="0.85" stroke-linejoin="round"/>
<polyline points="151.1,104.8 151.0,102.5 150.9,100.8 149.5,98.6 148.1,95.8" stroke="#ffa500" stroke-width="1.1" stroke-opacity="0.85" stroke-linejoin="round"/>
<polyline points="141.3,97.1 143.1,96.4 144.9,94.0 145.8,91.0" stroke="#ffa500" stroke-width="1.1" stroke-opacity="0.85" stroke-linejoin="round"/>
<polyline points="86.3,80.4 88.2,80.3" stroke="#ffa500" stroke-width="1.1" stroke-opacity="0.85" stroke-linejoin="round"/>
<polyline points="84.7,90.9 83.7,92.4 81.9,94.4" stroke="#ffa500" stroke-width="1.1" stroke-opacity="0.85" stroke-linejoin="round"/>
<polyline points="131.2,73.8 134.3,71.0 137.4,68.2 138.9,67.6 142.4,65.8 143.9,62.3 145.3,61.7 148.3,61.6 149.3,62.3" stroke="#ffa500" stroke-width="1.1" stroke-opacity="0.85" stroke-linejoin="round"/>
<polyline points="115.6,35.8 116.2,38.0 116.8,40.7 118.1,41.7" stroke="#ffa500" stroke-width="1.1" stroke-opacity="0.85" stroke-linejoin="round"/>
<polyline points="130.7,36.9 128.8,37.6" stroke="#ffa500" stroke-width="1.1" stroke-opacity="0.85" stroke-linejoin="round"/>
<polyline points="135.5,40.1 136.3,41.7 136.9,42.8" stroke="#ffa500" stroke-width="1.1" stroke-opacity="0.85" stroke-linejoin="round"/>
<path stroke="#ffa500" stroke-width="4.2" d="M159.9 38.6h0M116.8 40.7h0M88.2 80.3h0M93.3 93.0h0M152.0 48.3h0M157.0 42.7h0M151.0 104.2h0M131.2 73.8h0M167.1 29.7h0M130.7 36.9h0"/>
<path stroke="#ffa500" stroke-width="3.4" d="M14.8 66.0h0M35.3 72.8h0M5.6 47.4h0M16.8 7.3h0"/>
<path stroke="#ffa500" stroke-width="3.2" d="M86.3 80.4h0M99.1 28.5h0M141.3 97.1h0M109.7 55.0h0M153.0 46.4h0M144.9 94.0h0M142.4 65.8h0M81.9 94.4h0M141.5 43.6h0M84.7 90.9h0M128.0 51.3h0M95.6 53.5h0M132.4 47.0h0M122.4 49.1h0M135.5 40.1h0M121.9 64.5h0M156.2 56.3h0M115.6 35.8h0M142.7 86.7h0M85.8 68.9h0M149.3 62.3h0M111.3 69.7h0M112.6 91.6h0M124.4 55.3h0M162.2 37.7h0M159.3 38.7h0"/>
<path stroke="#ffa500" stroke-width="2.6" d="M17.5 72.3h0M62.3 49.5h0M13.5 15.4h0M9.1 44.7h0M27.1 59.5h0M6.4 49.4h0M41.1 42.3h0M17.7 67.1h0M15.8 67.5h0"/>
<path stroke="#ffa500" stroke-width="2.2" d="M166.6 32.2h0M151.9 54.2h0M162.8 33.4h0M143.1 32.8h0M123.0 75.6h0M146.7 30.9h0M122.5 35.5h0M91.0 66.0h0M91.2 44.4h0M158.7 30.5h0M131.6 64.3h0M108.5 89.7h0M137.4 68.2h0M142.6 71.1h0M147.2 75.6h0M128.7 48.4h0M155.4 40.2h0M98.5 42.9h0M103.7 71.7h0M151.2 30.5h0M145.3 61.7h0M129.7 40.1h0M111.1 36.0h0M86.6 59.5h0M151.4 42.5h0M127.4 68.7h0M111.6 81.7h0M128.6 55.7h0M100.0 61.4h0M126.1 36.0h0M119.7 87.9h0M85.8 101.2h0M82.5 107.9h0M123.2 70.5h0M144.3 102.2h0M141.4 99.6h0M162.5 35.4h0M158.0 41.3h0M148.3 61.6h0M150.9 100.8h0M160.9 37.0h0"/>
<path stroke="#ffa500" stroke-width="1.8" d="M38.3 78.5h0M12.5 53.7h0M54.8 68.5h0M13.6 59.9h0M53.8 82.6h0M30.3 27.9h0M30.4 10.6h0M62.4 53.3h0M15.3 42.2h0M41.2 40.3h0M41.4 44.6h0M18.1 66.5h0M16.1 8.6h0"/>
<path stroke="#ffa500" stroke-width="1.4" d="M165.0 30.7h0M136.3 41.7h0M125.0 43.2h0M154.1 37.0h0M98.9 81.3h0M122.7 88.8h0M133.3 87.6h0M143.6 79.1h0M139.7 73.8h0M125.2 80.3h0M168.0 23.7h0M165.2 27.4h0M88.8 34.7h0M88.7 20.7h0M148.1 95.7h0M145.8 91.0h0M143.1 96.4h0M141.7 91.7h0M140.8 89.9h0M152.9 68.3h0M143.9 56.8h0M136.4 65.2h0M118.6 57.1h0M111.2 46.1h0M112.3 39.3h0M111.3 49.9h0M115.7 48.2h0M104.4 41.0h0M107.9 42.8h0M88.9 46.3h0M92.0 53.7h0M86.9 85.5h0M84.8 87.3h0M97.9 91.6h0M105.4 90.8h0M101.1 90.9h0M93.5 82.1h0M97.2 66.4h0M102.9 53.9h0M102.3 20.8h0M114.8 29.6h0M128.5 34.5h0M123.1 38.2h0M121.3 41.0h0M140.0 36.6h0M139.0 41.2h0M136.9 42.8h0M137.7 53.2h0M135.0 53.3h0M136.6 62.1h0M146.4 55.8h0M149.1 65.5h0M150.1 71.1h0M134.3 77.2h0M129.7 79.4h0M120.4 77.2h0M162.8 31.9h0M159.9 44.6h0M156.0 43.8h0M153.3 43.1h0M152.1 43.7h0M154.3 41.6h0M151.2 51.0h0M143.8 61.9h0M138.9 67.6h0M116.0 89.6h0M77.9 102.2h0M85.3 109.0h0M89.7 89.2h0M113.8 30.8h0M119.9 63.1h0M149.5 98.6h0M144.9 104.2h0M128.8 37.6h0M94.9 54.4h0"/>
<path stroke="#ffa500" stroke-width="1.2" d="M70.6 76.3h0M54.4 22.9h0M71.2 69.4h0M69.4 82.9h0M9.2 28.2h0M10.6 21.0h0M11.8 17.5h0M20.8 12.8h0M24.4 15.3h0M10.3 63.3h0M9.6 48.9h0M9.0 47.4h0M5.1 44.2h0M53.0 80.1h0M62.3 45.8h0M11.8 64.6h0M20.5 68.4h0M13.7 55.8h0M6.4 52.3h0M17.6 5.9h0"/>
<path stroke="#ffa500" stroke-width="1.1" stroke-opacity="0.85" d="M149.8 49.6h0M93.1 64.8h0M145.9 69.6h0M120.8 83.1h0M110.1 81.3h0M128.5 49.5h0M110.1 86.1h0M142.7 62.3h0M113.9 65.7h0M126.2 50.0h0M142.6 56.0h0M152.2 57.4h0M167.8 12.5h0M162.5 23.5h0M158.6 31.0h0M151.4 42.8h0M133.1 47.4h0M111.4 83.6h0M138.1 68.5h0M120.2 52.1h0M144.2 56.1h0M151.5 28.0h0M79.1 92.2h0M128.6 75.2h0M148.0 37.8h0M122.9 67.3h0M149.3 57.8h0M141.0 36.2h0M143.5 49.5h0M128.1 78.8h0M137.6 51.8h0M158.6 32.1h0M94.2 63.2h0M42.1 47.9h0M112.4 38.8h0M142.3 76.9h0M149.3 34.8h0M139.4 66.3h0M120.1 76.3h0M10.1 18.0h0M94.7 82.7h0M94.6 56.6h0M85.0 83.6h0M86.8 79.8h0M125.6 40.3h0M124.8 29.7h0M131.2 85.6h0M128.7 53.5h0M137.0 44.4h0M143.9 57.8h0M90.3 54.9h0M110.5 84.6h0M109.4 41.1h0M112.8 44.7h0M146.6 60.9h0M153.5 35.9h0M109.2 69.3h0M93.7 72.3h0M123.9 43.4h0M116.6 42.4h0M166.1 26.2h0M129.4 58.3h0M130.4 90.5h0M89.8 39.8h0M123.4 39.0h0M103.1 38.0h0M127.8 34.1h0M84.3 77.5h0M138.9 69.7h0M159.1 32.6h0M145.8 42.3h0M90.0 79.0h0M145.5 41.8h0M145.5 41.1h0M156.0 39.6h0M111.5 61.0h0M81.5 77.7h0M134.2 42.7h0M101.3 48.8h0M151.5 38.0h0M132.6 54.9h0M156.8 28.2h0M103.5 39.7h0M88.7 20.9h0M105.8 49.4h0M108.2 70.8h0M92.8 66.4h0M165.6 31.3h0M124.3 75.7h0M104.6 92.5h0M139.7 74.4h0M145.4 63.9h0M85.4 21.7h0M142.3 54.5h0M147.9 52.5h0M146.2 66.5h0M78.9 99.1h0M134.9 57.7h0M129.5 36.3h0M121.9 51.8h0M128.0 49.7h0M158.3 45.9h0M156.9 61.2h0M136.3 69.2h0M132.9 64.4h0M89.3 22.7h0M151.3 43.9h0M142.2 73.1h0M81.2 91.3h0M119.3 58.3h0M151.3 49.2h0M111.6 65.0h0M154.6 39.4h0M137.8 89.8h0M143.9 62.8h0M141.7 60.5h0M162.3 34.0h0M92.7 79.6h0M134.2 41.3h0M147.2 75.1h0M143.9 51.5h0M134.3 80.5h0M112.5 35.0h0M126.5 29.3h0M127.9 57.9h0M138.3 53.5h0M144.6 64.0h0M156.6 39.9h0M128.8 51.4h0M143.2 55.8h0M125.2 43.5h0M125.2 41.7h0M123.3 74.2h0M120.4 49.0h0M112.7 33.4h0M163.9 20.3h0M135.6 77.4h0M159.7 40.8h0M107.2 29.8h0M140.0 65.8h0M82.7 107.6h0M87.5 83.3h0M154.3 28.1h0M100.4 68.5h0M129.3 59.4h0M121.7 72.1h0M142.2 45.2h0M120.9 39.4h0M147.4 100.9h0M120.2 69.7h0M83.8 89.5h0M103.9 61.0h0M144.3 101.9h0M158.3 36.8h0M170.3 30.9h0M151.6 54.1h0M125.4 66.0h0M133.6 86.3h0M110.9 44.1h0M85.2 56.7h0M139.6 83.4h0M154.4 32.3h0M142.3 63.0h0M154.1 51.2h0M95.5 68.3h0M129.1 42.4h0M151.4 49.9h0M27.1 66.7h0M78.8 101.0h0M131.7 48.1h0M78.2 93.0h0M121.6 62.8h0M89.1 74.6h0M153.1 42.0h0M160.0 33.6h0M137.3 58.9h0M163.1 32.8h0M140.5 63.4h0M133.8 71.2h0M134.5 89.3h0M93.8 87.7h0M147.9 51.9h0M127.1 66.9h0M150.4 59.3h0M144.9 91.6h0M126.6 62.0h0M130.2 70.8h0M145.9 31.5h0M162.4 31.3h0M126.4 40.0h0M82.3 57.6h0M140.9 87.0h0M131.7 67.8h0M118.0 77.2h0M88.5 64.4h0M116.1 50.7h0M126.7 40.0h0M128.9 36.4h0M125.0 45.7h0M143.8 70.7h0M109.0 89.6h0M157.7 25.8h0M152.3 32.6h0M134.3 60.2h0M133.3 78.6h0M138.7 56.7h0M151.6 45.1h0M160.8 36.5h0M145.1 33.5h0M127.2 35.8h0M149.0 72.0h0M129.5 52.6h0M127.7 63.7h0M117.6 85.5h0M124.3 73.4h0M134.3 71.9h0M127.3 81.4h0M141.3 98.0h0M128.1 51.0h0M159.0 37.6h0M104.4 83.2h0M96.2 63.2h0M139.6 39.9h0M141.9 40.1h0M126.0 75.8h0M131.7 58.3h0M149.7 51.2h0M102.6 79.2h0M124.8 51.5h0M99.4 92.4h0M94.3 51.0h0M115.7 72.3h0M124.9 60.9h0M124.8 72.9h0M128.6 62.0h0M150.0 61.2h0M127.0 65.1h0M156.3 59.4h0M128.8 41.8h0M121.7 56.9h0M169.3 20.5h0M153.7 43.7h0M133.5 75.2h0M143.0 58.9h0M151.3 40.6h0M117.6 42.0h0M153.7 46.0h0M133.3 66.5h0M107.5 85.7h0M119.3 46.4h0M163.2 33.8h0M149.2 60.4h0M153.9 66.3h0M115.6 36.3h0M129.2 68.9h0M129.7 73.6h0M127.9 44.1h0M162.7 23.9h0M114.7 41.4h0M121.1 86.0h0M64.7 55.3h0M116.0 64.3h0M120.9 40.5h0M39.9 46.4h0M117.8 85.2h0M121.6 65.4h0M150.8 43.6h0M114.0 67.1h0M106.7 40.0h0M159.2 40.0h0M130.1 30.3h0M114.5 36.7h0M80.3 85.3h0M137.2 89.8h0M164.4 29.9h0M160.5 30.0h0M148.4 66.2h0M136.2 46.2h0M154.0 52.6h0M126.7 24.5h0M125.9 37.6h0M119.1 63.4h0M112.3 58.3h0M144.4 76.2h0M119.0 61.7h0M131.5 42.3h0M125.1 42.6h0M111.6 89.7h0M91.2 41.7h0M150.4 40.3h0M116.2 49.7h0M142.8 47.1h0M89.1 43.8h0M126.3 66.3h0M127.2 73.5h0M129.0 48.7h0M137.7 43.6h0M151.1 67.5h0M94.2 25.5h0M76.0 67.8h0M157.4 26.0h0M143.0 82.7h0M87.4 69.1h0M104.0 58.4h0M127.1 58.0h0M124.7 86.1h0M149.7 60.9h0M111.5 72.9h0M148.2 40.7h0M143.8 92.6h0M127.3 54.6h0M78.6 17.5h0M127.1 34.2h0M97.6 56.4h0M160.2 36.8h0M127.1 77.8h0M114.5 72.1h0M127.5 75.3h0M142.9 42.0h0M143.6 65.5h0M163.2 34.3h0M146.3 67.5h0M157.8 43.0h0M124.9 36.5h0M111.1 53.3h0M135.2 60.6h0M148.8 64.7h0M149.7 42.1h0M123.9 50.4h0M139.3 91.6h0M135.6 64.6h0M130.6 84.0h0M128.6 77.7h0M150.5 48.8h0M124.5 34.9h0M5.8 39.7h0M108.0 40.3h0M160.3 20.2h0M149.2 102.4h0M102.9 37.2h0M152.7 50.9h0M135.8 75.8h0M104.1 84.8h0M118.8 45.6h0M59.8 20.4h0M103.8 84.9h0M146.0 56.4h0M152.7 53.0h0M141.1 57.3h0M129.9 64.6h0M122.0 48.5h0M146.4 99.9h0M132.0 59.5h0M123.4 45.7h0M113.7 31.9h0M123.8 77.3h0M144.2 93.0h0M153.1 67.4h0M152.4 52.3h0M126.4 35.7h0M89.8 87.5h0M82.5 90.1h0M83.7 64.2h0M128.2 77.5h0M138.2 66.8h0M85.6 105.0h0M134.4 75.2h0M131.5 69.6h0M132.5 84.2h0M85.3 94.7h0M145.5 92.2h0M151.8 68.5h0M113.5 49.0h0M125.9 87.3h0M122.8 62.5h0M111.5 57.7h0M86.0 82.1h0M141.2 44.1h0M153.8 43.2h0M81.7 98.8h0M136.4 65.7h0M114.0 33.5h0M142.3 99.4h0M118.5 42.5h0M98.4 19.4h0M161.6 26.4h0M119.2 75.0h0M126.0 84.0h0M127.8 70.9h0M138.1 57.3h0M91.3 81.2h0M143.6 50.9h0M75.1 69.9h0M136.3 67.8h0M138.1 45.8h0M154.9 32.1h0M129.4 50.7h0M112.0 33.7h0M166.3 30.7h0M148.7 47.5h0M151.1 103.2h0M143.6 65.4h0M122.4 67.5h0M144.7 46.0h0M100.3 84.0h0M118.7 47.4h0M136.8 78.4h0M138.8 64.7h0M143.1 70.4h0M119.3 79.6h0M146.8 96.7h0M139.7 87.5h0M147.6 47.8h0M125.7 50.9h0M143.2 61.8h0M128.2 46.8h0M135.2 45.0h0M125.0 80.6h0M139.2 77.4h0M138.1 62.5h0M123.2 38.7h0M119.9 61.3h0M132.8 53.7h0M125.7 65.4h0M143.9 87.6h0M142.5 82.3h0M78.4 76.3h0M90.5 63.1h0M141.2 58.0h0M121.4 46.0h0M141.3 50.9h0M136.1 46.0h0M120.4 88.5h0M124.7 30.3h0M140.3 45.2h0M102.8 15.5h0M140.2 43.1h0M120.9 89.0h0M90.6 52.3h0M123.0 58.7h0M120.9 67.3h0M102.7 56.6h0M150.5 69.3h0M95.0 43.3h0M157.5 44.2h0M132.3 76.1h0M126.9 40.2h0M141.8 92.3h0M115.5 48.1h0M115.4 52.8h0M141.9 57.0h0M120.8 69.0h0M127.4 37.3h0M156.5 36.4h0M156.1 38.9h0M128.9 66.1h0M131.3 34.8h0M152.2 58.4h0M146.5 95.6h0M148.8 71.4h0M111.6 56.3h0M153.0 55.2h0M39.4 69.8h0M152.2 66.2h0M151.1 44.6h0M155.3 42.8h0M20.8 58.1h0M143.3 82.6h0M161.5 33.1h0M109.2 86.4h0M116.3 86.6h0M83.7 71.5h0M98.4 56.9h0M92.7 58.2h0M128.0 55.5h0M79.3 76.9h0M153.8 40.8h0M92.4 94.0h0M142.1 91.3h0M149.3 56.0h0M158.1 64.1h0M85.3 77.2h0M121.4 56.0h0M159.6 61.5h0M144.0 56.9h0M147.9 72.3h0M152.2 67.8h0M105.5 20.4h0M155.6 47.3h0M140.7 54.7h0M90.0 77.6h0M129.3 74.7h0M161.0 31.8h0M125.7 38.6h0M119.8 51.6h0M103.5 74.9h0M154.4 60.7h0M133.1 59.3h0M164.5 35.0h0M112.3 45.1h0M142.3 76.1h0M153.8 40.3h0M127.7 40.2h0M137.3 59.1h0M157.6 43.1h0M96.3 50.5h0M106.4 30.4h0M142.3 49.3h0M127.4 74.9h0M85.0 69.0h0M146.2 52.0h0M141.4 80.4h0M59.4 71.9h0M153.4 41.1h0M161.2 33.5h0M150.9 100.8h0M164.3 33.9h0M139.6 41.7h0M95.2 85.5h0M97.6 61.7h0M144.8 69.6h0M106.7 83.2h0M80.3 100.7h0M124.4 88.6h0M142.3 54.6h0M148.9 58.5h0M151.4 65.1h0M148.4 42.9h0M154.9 56.7h0M131.9 66.8h0M125.8 40.7h0M159.7 41.6h0M117.9 46.1h0M129.0 45.0h0M138.5 66.6h0M156.6 38.0h0M132.2 72.9h0M140.8 66.4h0M81.8 86.1h0M122.6 51.7h0M157.5 33.7h0M131.2 41.7h0M134.8 69.0h0M152.3 37.6h0M139.8 74.7h0M161.4 33.7h0M110.9 48.0h0M126.1 69.7h0M154.4 67.9h0M151.2 41.5h0M150.7 49.8h0M136.6 75.2h0M150.5 32.9h0M138.9 81.7h0M92.0 62.0h0M120.7 49.5h0M161.1 30.3h0M143.0 81.5h0M129.5 73.4h0M88.8 91.6h0M144.7 102.0h0M116.5 52.4h0M149.7 49.8h0M120.1 77.5h0M133.2 63.2h0M137.7 67.4h0M108.0 63.8h0M137.2 78.7h0M115.1 35.4h0M126.9 88.7h0M156.8 28.3h0M144.6 53.9h0M124.4 62.4h0M110.4 32.1h0M113.6 81.5h0M100.2 33.2h0M117.2 68.4h0M137.0 48.4h0M152.2 33.3h0M127.7 67.1h0M90.2 87.3h0M136.9 56.9h0M77.1 93.4h0M129.0 63.6h0M104.2 92.3h0M158.1 32.7h0M98.0 29.0h0M112.7 48.9h0M153.5 51.7h0M127.8 70.2h0M112.2 49.1h0M140.4 75.9h0M40.2 66.9h0M82.3 105.6h0M144.1 93.3h0M160.7 31.1h0M141.1 96.2h0M136.6 66.9h0M152.8 36.2h0M86.5 45.4h0M136.9 84.5h0M166.4 25.8h0M152.6 40.4h0M149.2 43.5h0M100.6 89.2h0M135.4 76.2h0M115.7 68.8h0M143.9 95.2h0M126.1 49.0h0M149.1 48.7h0M92.8 85.5h0M129.7 35.1h0M114.6 50.7h0M153.6 59.7h0M115.6 46.3h0M146.8 44.7h0M160.0 34.3h0M91.3 97.4h0M11.6 60.6h0M148.5 100.0h0M155.9 52.2h0M114.0 69.4h0M129.9 71.9h0M144.4 43.0h0M148.5 56.9h0M84.4 73.6h0M95.0 87.5h0M118.1 86.4h0M140.4 85.2h0M120.2 65.4h0M145.0 94.1h0M146.2 46.3h0M81.4 90.0h0M122.9 41.6h0M150.1 31.1h0M100.6 89.7h0M6.4 45.6h0M104.3 26.9h0M99.8 67.9h0M128.9 49.7h0M148.3 58.3h0M151.7 64.6h0M154.9 41.0h0M135.6 66.2h0M130.6 74.4h0M113.9 90.0h0M144.9 59.6h0M109.3 72.9h0M143.3 97.7h0M15.9 62.1h0M163.4 27.7h0M148.1 37.8h0M149.3 100.3h0M141.8 97.3h0M109.9 74.9h0M116.2 38.5h0M147.9 101.8h0M92.7 54.4h0M113.4 61.8h0M131.6 47.4h0M114.4 44.7h0M116.4 28.8h0M147.8 101.8h0M135.1 58.9h0M81.8 105.3h0M160.0 29.5h0M85.3 81.3h0M138.7 66.2h0M90.7 42.9h0M108.9 72.1h0M114.8 84.5h0M146.2 72.0h0M125.6 49.0h0M167.2 31.9h0M127.2 79.4h0M75.9 86.3h0M146.1 66.4h0M123.6 46.9h0M115.3 66.7h0M109.9 93.0h0M159.4 44.0h0M150.0 48.9h0M112.8 44.4h0M134.1 48.1h0M156.2 36.1h0M119.5 52.8h0M133.7 85.2h0M103.1 73.7h0M92.7 95.6h0M107.9 87.8h0M139.4 64.0h0M150.7 54.8h0M146.6 43.1h0M157.1 39.3h0M119.9 44.8h0M118.6 49.9h0M119.7 59.2h0M120.7 47.7h0M160.0 43.0h0M128.8 79.1h0M156.8 52.8h0M96.9 59.4h0M105.1 46.4h0M90.4 91.1h0M153.8 61.3h0M127.0 87.6h0M143.8 96.1h0M131.1 67.7h0M81.0 20.6h0M150.1 38.7h0M157.3 64.2h0M109.1 85.1h0M115.1 32.8h0M83.9 83.1h0M142.5 34.7h0M158.6 50.1h0M155.1 56.5h0M113.3 75.5h0M130.7 77.6h0M128.6 42.9h0M11.5 54.8h0M113.2 53.5h0M144.4 57.8h0M120.3 59.8h0M84.7 76.8h0M122.3 58.5h0M95.1 29.5h0M132.4 87.3h0M115.7 66.9h0M135.1 70.0h0M158.4 30.2h0M94.9 79.5h0M156.4 40.9h0M145.4 47.4h0M134.0 57.9h0M140.4 89.9h0M138.4 90.1h0M115.2 92.9h0M143.7 74.6h0M151.7 33.8h0M149.6 39.0h0M149.2 30.8h0M137.7 67.9h0M110.6 29.4h0M98.5 48.1h0M111.0 69.5h0M134.0 40.5h0M150.6 50.7h0M117.7 61.1h0M149.6 63.2h0M154.9 36.9h0M11.7 50.3h0M149.1 69.2h0M139.3 60.4h0M117.8 70.3h0M81.6 73.9h0M149.9 33.7h0M135.3 43.7h0M123.1 55.8h0M136.8 66.5h0M149.3 41.9h0M123.3 48.5h0M150.0 58.6h0M122.5 53.7h0M116.0 82.4h0M91.4 92.4h0M129.6 55.7h0M115.4 75.8h0M107.1 34.9h0M124.9 51.3h0M99.9 65.5h0M128.5 52.8h0M121.1 83.1h0M148.4 58.7h0M125.7 86.9h0M150.7 26.3h0M117.8 81.4h0M108.0 44.3h0M106.4 45.8h0M129.4 59.9h0M100.1 89.0h0M114.0 51.7h0M138.4 58.9h0M150.4 48.5h0M116.2 56.2h0M102.0 83.9h0M145.7 63.3h0M139.4 71.0h0M168.3 21.5h0M165.4 30.0h0M139.6 83.4h0M138.6 65.2h0M138.2 66.9h0M134.2 41.7h0M113.9 45.8h0M127.9 59.9h0M96.5 48.6h0M78.5 99.4h0M135.2 77.0h0M130.2 66.4h0M126.7 57.4h0M167.7 31.0h0M159.8 40.7h0M102.6 80.4h0M153.6 49.4h0M146.1 100.6h0M38.4 71.9h0M162.4 37.2h0M80.1 94.3h0M143.3 57.8h0M162.3 31.4h0M124.5 45.3h0M165.6 24.8h0M137.1 42.5h0M137.0 52.8h0M122.2 86.4h0M101.8 49.4h0M127.8 59.1h0M125.4 33.0h0M96.4 51.0h0M131.5 53.2h0M129.9 72.5h0M150.8 67.2h0M121.1 66.5h0M133.2 66.2h0M115.2 71.3h0M79.2 90.2h0M145.3 43.2h0M136.6 40.4h0M116.1 50.7h0M118.2 75.7h0M136.1 53.6h0M164.6 24.5h0M143.6 58.8h0M128.0 26.8h0M159.8 36.4h0M127.9 87.9h0M145.4 97.7h0M159.0 37.4h0M25.2 62.0h0M138.2 64.1h0M161.8 35.7h0M143.0 88.5h0M88.8 35.2h0M113.7 94.7h0M125.9 63.4h0M140.2 67.3h0M149.7 45.9h0M99.2 67.7h0M127.4 73.9h0M57.4 84.5h0M81.9 99.0h0M40.6 48.0h0M137.7 41.3h0M129.9 85.9h0M87.3 81.0h0M112.9 48.5h0M143.1 76.8h0M123.7 46.2h0M138.9 44.9h0M149.3 56.5h0M140.2 59.0h0M143.2 87.7h0M140.2 79.6h0M113.7 34.1h0M155.2 36.8h0M113.1 37.9h0M150.9 68.5h0M140.7 49.2h0M102.3 48.9h0M99.7 23.0h0M126.8 34.3h0M129.1 81.5h0M122.6 48.6h0M122.2 21.4h0M93.1 40.5h0M108.5 48.4h0M152.8 45.1h0M147.4 58.1h0M121.1 51.2h0M128.9 31.7h0M105.5 50.8h0M126.8 76.4h0M148.0 99.0h0M45.8 18.6h0M40.8 39.2h0M86.5 71.4h0M111.3 51.6h0M127.9 49.5h0M84.7 80.9h0M155.2 29.5h0M145.1 69.6h0M154.2 43.9h0M149.6 43.2h0M153.6 46.9h0M119.7 89.4h0M163.7 29.7h0M85.1 86.7h0M158.1 45.3h0M149.0 48.7h0M153.1 26.4h0M146.5 48.0h0M153.3 56.8h0M147.1 63.0h0M117.5 83.4h0M120.4 45.6h0M123.6 77.0h0M131.0 82.7h0M113.9 47.2h0M129.4 69.5h0M167.5 24.4h0M149.2 57.6h0M139.6 65.0h0M149.0 68.6h0M116.0 44.6h0M144.6 45.9h0M124.9 70.6h0M81.7 88.5h0M150.5 65.5h0M157.8 59.8h0M105.8 31.9h0M129.8 65.3h0M131.3 81.0h0M138.4 58.7h0M129.3 67.5h0M147.9 70.8h0M151.4 38.1h0M79.5 56.7h0M154.4 60.2h0M138.5 51.3h0M141.0 96.8h0M137.9 65.5h0M142.4 84.4h0M172.7 16.6h0M137.5 72.3h0M105.0 44.1h0M106.9 76.6h0M9.4 45.1h0M135.1 42.3h0M140.1 49.0h0M114.4 40.4h0M157.0 40.8h0M148.6 38.7h0M122.9 37.7h0M117.2 44.9h0M150.5 65.4h0M119.4 64.1h0M137.7 38.6h0M100.3 38.9h0M106.9 74.5h0M104.8 50.9h0M84.1 73.4h0M89.2 76.6h0M108.1 92.1h0M146.5 104.0h0M145.0 57.5h0M132.3 72.3h0M140.6 67.9h0M128.4 37.7h0M109.7 32.0h0M125.8 85.6h0M150.8 35.4h0M115.6 85.7h0M121.1 38.6h0M117.6 71.0h0M87.8 69.4h0M112.2 60.7h0M130.6 59.6h0M93.6 58.4h0M113.5 24.2h0M149.6 55.4h0M83.0 82.3h0M127.5 76.0h0M118.5 75.6h0M89.9 83.6h0M144.5 45.8h0M127.4 38.0h0M123.7 34.8h0M132.2 79.4h0M117.4 85.8h0M104.1 32.0h0M140.7 41.5h0M143.7 41.9h0M122.9 42.6h0M155.2 47.8h0M99.2 19.8h0M96.8 94.2h0M147.4 46.1h0M156.8 64.2h0M93.1 47.1h0M149.1 34.2h0M117.3 43.7h0M152.1 52.3h0M143.0 91.4h0M108.2 21.4h0M134.4 44.8h0M127.2 62.4h0M153.2 44.4h0M107.3 85.9h0M125.3 57.1h0M146.0 65.4h0M131.4 41.0h0M139.0 72.9h0M115.2 86.3h0M129.6 77.9h0M152.0 57.8h0M133.1 80.8h0M93.4 76.2h0M126.1 80.9h0M146.3 44.6h0M118.0 49.1h0M131.4 76.4h0M88.6 88.7h0M139.9 53.6h0M152.7 39.0h0M117.7 50.9h0M145.9 60.8h0M165.1 31.7h0M120.9 63.4h0M159.2 29.9h0M128.2 63.5h0M119.0 45.5h0M141.9 67.1h0M147.3 103.4h0M157.7 40.4h0M148.3 52.1h0"/>
<path stroke="#ff7f50" stroke-width="1.1" stroke-opacity="0.85" d="M154.4 52.3h0M113.2 63.4h0M113.5 58.5h0M124.7 82.3h0M125.5 48.4h0M119.0 48.4h0M114.4 85.6h0M134.7 50.1h0M98.7 70.5h0M100.4 61.6h0M94.9 49.5h0M98.2 30.7h0M153.6 63.9h0M148.3 32.5h0M123.4 61.6h0M167.2 27.2h0M126.1 72.8h0M101.6 49.3h0M113.4 36.7h0M159.4 32.0h0M146.7 75.1h0M147.3 64.0h0M127.2 45.2h0M129.3 56.2h0M144.3 42.8h0M145.0 47.3h0M156.7 32.2h0M136.1 83.3h0M116.2 31.0h0M126.8 30.0h0M156.0 56.8h0M112.2 41.3h0M128.6 31.4h0M16.6 11.2h0M159.5 44.3h0M124.5 54.1h0M144.5 35.0h0M115.7 45.2h0M111.3 63.2h0M132.3 61.8h0M154.8 61.8h0M109.9 45.9h0M148.7 68.0h0M116.9 48.4h0M123.0 43.7h0M142.8 37.4h0M127.1 51.9h0M148.2 59.3h0M130.5 63.0h0M110.5 76.5h0M155.9 43.0h0M154.0 35.3h0M118.1 64.4h0M98.6 60.4h0M118.3 62.3h0M107.5 44.8h0M149.6 47.6h0M125.0 81.5h0M132.6 79.6h0M125.0 52.5h0M158.3 42.2h0M115.2 42.8h0M125.0 30.3h0M123.4 77.2h0M82.3 83.4h0M142.7 51.2h0M144.9 36.6h0M134.0 87.6h0M92.1 77.2h0M127.3 38.4h0M122.6 44.6h0M91.6 77.9h0M144.1 62.4h0M77.9 80.7h0M121.7 48.7h0M104.1 32.3h0M144.8 50.9h0M137.6 57.4h0M139.6 65.2h0M148.4 72.8h0M87.9 60.0h0M138.8 37.7h0M162.2 34.0h0M82.7 79.0h0M129.8 52.2h0M148.3 104.8h0M109.0 46.6h0M105.8 57.3h0M151.7 47.4h0M134.0 70.5h0M101.2 23.2h0M151.4 61.1h0M133.7 85.3h0M128.5 89.0h0M161.4 37.3h0M149.9 64.0h0M122.9 61.9h0M142.6 68.1h0M126.8 75.9h0M129.3 53.4h0M121.3 55.9h0M118.2 45.4h0M93.3 28.5h0M100.7 88.6h0M119.1 57.9h0M128.2 38.1h0M146.0 93.3h0M134.7 56.5h0M147.8 56.0h0M137.5 70.9h0M85.3 66.7h0"/>
<path stroke="#ff0000" stroke-width="2.6" d="M159.9 38.6h0M116.8 40.7h0M88.2 80.3h0M93.3 93.0h0M152.0 48.3h0M157.0 42.7h0M151.0 104.2h0M131.2 73.8h0M167.1 29.7h0M130.7 36.9h0"/>
<path stroke="#ff0000" stroke-width="2.2" d="M14.8 66.0h0M35.3 72.8h0M5.6 47.4h0M16.8 7.3h0"/>
<path stroke="#ff0000" stroke-width="1.8" d="M86.3 80.4h0M99.1 28.5h0M141.3 97.1h0M109.7 55.0h0M153.0 46.4h0M144.9 94.0h0M142.4 65.8h0M81.9 94.4h0M141.5 43.6h0M84.7 90.9h0M128.0 51.3h0M95.6 53.5h0M132.4 47.0h0M122.4 49.1h0M135.5 40.1h0M121.9 64.5h0M156.2 56.3h0M115.6 35.8h0M142.7 86.7h0M85.8 68.9h0M149.3 62.3h0M111.3 69.7h0M112.6 91.6h0M124.4 55.3h0M162.2 37.7h0M159.3 38.7h0"/>
<path stroke="#ff0000" stroke-width="1.6" d="M17.5 72.3h0M62.3 49.5h0M13.5 15.4h0M9.1 44.7h0M27.1 59.5h0M6.4 49.4h0M41.1 42.3h0M17.7 67.1h0M15.8 67.5h0"/>
<path stroke="#ff0000" stroke-width="1.1" stroke-opacity="0.85" d="M125.0 55.2h0M91.7 50.4h0M125.4 31.1h0M85.6 84.1h0M145.1 90.2h0M121.9 69.6h0M129.1 50.7h0M93.2 64.6h0M79.1 96.6h0M131.5 35.8h0M100.6 56.3h0M153.5 59.3h0M112.5 87.4h0M16.1 62.5h0M116.2 77.5h0M147.0 56.9h0M91.9 37.9h0M137.1 51.0h0M148.8 30.2h0M117.4 51.6h0M142.1 68.2h0M147.6 63.0h0M114.3 48.9h0M152.8 68.7h0M139.2 52.3h0M122.7 47.0h0M150.6 42.1h0M134.4 66.1h0M138.2 90.6h0M13.5 64.4h0M140.2 77.1h0M143.9 62.7h0M139.5 67.6h0M147.3 61.7h0M140.0 59.0h0M134.1 71.6h0M159.1 62.5h0M96.1 29.5h0M132.0 50.1h0M151.5 41.5h0M108.2 38.5h0M121.3 40.6h0M127.6 52.2h0M35.9 43.2h0M148.5 48.9h0M125.3 42.3h0M150.9 65.2h0M87.4 64.8h0M97.9 59.0h0M80.9 68.6h0M115.4 48.5h0M111.2 57.5h0M87.0 42.3h0M144.2 41.1h0M92.5 50.2h0M98.4 67.9h0M141.9 75.1h0M141.9 80.7h0M90.7 39.1h0M146.0 41.2h0M103.0 42.2h0M127.6 48.4h0M144.0 68.7h0"/>
<path stroke="#ff0000" stroke-width="1" d="M166.6 32.2h0M151.9 54.2h0M162.8 33.4h0M143.1 32.8h0M123.0 75.6h0M146.7 30.9h0M122.5 35.5h0M38.3 78.5h0M91.0 66.0h0M12.5 53.7h0M91.2 44.4h0M54.8 68.5h0M158.7 30.5h0M13.6 59.9h0M131.6 64.3h0M53.8 82.6h0M108.5 89.7h0M137.4 68.2h0M142.6 71.1h0M147.2 75.6h0M128.7 48.4h0M155.4 40.2h0M30.3 27.9h0M98.5 42.9h0M103.7 71.7h0M151.2 30.5h0M30.4 10.6h0M145.3 61.7h0M129.7 40.1h0M111.1 36.0h0M86.6 59.5h0M151.4 42.5h0M127.4 68.7h0M111.6 81.7h0M128.6 55.7h0M62.4 53.3h0M100.0 61.4h0M126.1 36.0h0M15.3 42.2h0M119.7 87.9h0M85.8 101.2h0M82.5 107.9h0M123.2 70.5h0M144.3 102.2h0M141.4 99.6h0M41.2 40.3h0M41.4 44.6h0M162.5 35.4h0M158.0 41.3h0M148.3 61.6h0M150.9 100.8h0M18.1 66.5h0M16.1 8.6h0M160.9 37.0h0"/>
<path stroke="#b22222" stroke-width="1.4" d="M159.9 38.6h0M116.8 40.7h0M88.2 80.3h0M93.3 93.0h0M152.0 48.3h0M157.0 42.7h0M151.0 104.2h0M131.2 73.8h0M167.1 29.7h0M130.7 36.9h0"/>
<path stroke="#b22222" stroke-width="1.2" d="M14.8 66.0h0M35.3 72.8h0M5.6 47.4h0M16.8 7.3h0"/></g><path d="M92.4,9.3 L112.1,13.1 L125.5,18.0 L128.0,21.9 L121.8,23.9 L114.6,25.9 L107.1,24.7 L99.7,20.9 L92.4,16.8Z" fill="#fff" fill-opacity="0.6" filter="url(#bl2)"/></g>
<g transform="translate(366,15)"><path d="M11.3,2.3 L13.0,3.7 L14.5,4.4 L16.1,5.0 L17.0,3.9 L17.7,2.6 L17.3,1.4 L24.7,3.4 L32.8,5.4 L41.0,7.1 L49.3,8.5 L57.6,9.7 L65.9,10.7 L74.3,11.3 L82.6,11.7 L87.6,11.8 L93.4,11.8 L93.4,10.3 L94.3,10.6 L94.8,12.9 L97.2,13.8 L99.4,13.3 L101.1,13.9 L103.7,15.4 L105.7,14.8 L109.1,15.4 L107.2,16.6 L104.5,19.0 L102.3,21.0 L104.3,20.8 L106.0,20.0 L105.8,21.5 L107.2,21.5 L110.3,20.0 L112.5,18.5 L114.1,17.3 L113.1,19.3 L115.9,20.9 L118.1,21.3 L119.9,20.0 L122.9,19.3 L124.6,20.2 L125.6,21.4 L127.2,22.0 L123.9,23.0 L121.6,22.3 L119.3,23.1 L118.5,24.1 L117.2,24.2 L115.9,27.0 L114.9,29.6 L116.2,27.9 L117.6,26.0 L116.9,28.2 L116.4,31.0 L116.1,32.7 L115.7,35.8 L117.1,40.6 L118.1,41.7 L119.3,41.1 L120.4,39.3 L121.0,36.3 L120.3,34.5 L119.7,31.5 L120.1,30.2 L120.0,28.6 L120.5,27.4 L121.7,26.0 L122.0,27.7 L122.4,26.8 L122.7,25.5 L123.4,25.0 L123.2,23.8 L124.0,23.3 L124.8,23.8 L126.9,24.5 L128.3,25.8 L128.7,27.3 L128.8,28.5 L128.4,29.3 L127.7,30.6 L127.6,32.1 L128.9,30.7 L130.2,29.9 L131.5,31.6 L132.4,34.0 L132.4,35.8 L130.9,37.2 L130.0,39.9 L132.4,40.7 L135.5,40.0 L140.0,36.6 L143.1,32.7 L142.3,31.3 L146.7,30.5 L149.8,29.0 L150.3,27.2 L149.8,26.0 L151.0,24.7 L153.1,21.6 L158.6,20.3 L162.9,19.2 L163.8,17.7 L164.5,17.1 L165.3,11.2 L166.5,7.6 L169.2,7.2 L170.9,7.9 L172.4,12.6 L173.9,13.5 L175.5,15.2 L176.1,16.3 L175.1,17.5 L173.6,18.8 L172.4,20.1 L171.3,19.5 L171.0,21.4 L169.2,22.8 L168.2,23.7 L167.6,26.3 L167.3,27.5 L168.1,28.1 L167.3,29.7 L168.7,31.0 L170.0,30.2 L170.7,30.5 L171.2,31.6 L169.2,32.7 L168.4,32.6 L167.0,33.7 L165.8,34.6 L162.7,35.6 L160.6,37.5 L164.9,35.5 L166.1,35.6 L163.2,37.7 L160.3,39.2 L160.1,39.8 L160.5,41.2 L159.9,44.6 L158.6,46.7 L158.0,45.7 L156.3,44.8 L156.9,45.9 L158.3,47.4 L158.8,49.2 L158.4,51.2 L157.1,54.9 L157.2,55.9 L158.1,57.4 L160.2,62.4 L157.4,65.8 L153.2,69.9 L150.0,71.1 L147.3,75.7 L144.3,79.2 L143.1,83.2 L143.6,86.5 L144.3,88.3 L145.8,91.1 L148.0,93.9 L149.3,97.3 L151.1,100.8 L151.4,104.7 L150.9,106.8 L148.2,108.0 L147.1,106.1 L144.9,104.3 L143.9,102.8 L142.9,101.3 L141.1,99.6 L140.4,98.3 L140.0,97.0 L139.8,94.5 L138.4,92.4 L136.1,89.9 L133.8,89.2 L131.1,91.2 L129.8,91.3 L128.3,89.6 L125.3,88.7 L122.8,89.1 L120.0,89.8 L116.0,89.6 L114.2,90.4 L114.6,91.2 L115.9,93.3 L116.7,94.7 L115.3,95.6 L113.0,95.1 L112.6,94.7 L110.1,95.5 L108.2,94.6 L106.4,93.8 L105.6,93.4 L103.4,93.5 L98.8,93.2 L95.4,95.0 L93.6,96.5 L91.0,97.9 L89.5,98.6 L86.5,101.3 L86.1,104.6 L86.6,109.0 L85.3,109.2 L82.6,108.3 L82.3,107.9 L77.9,102.3 L74.4,97.1 L73.1,94.3 L71.3,92.5 L67.7,92.1 L66.5,92.9 L65.3,95.3 L64.2,95.2 L61.7,93.3 L60.3,92.6 L59.4,90.6 L56.9,87.0 L53.7,82.4 L47.7,81.8 L47.5,83.6 L37.3,82.2 L25.2,75.0 L25.7,74.1 L17.2,73.1 L16.9,72.3 L16.9,70.2 L16.1,68.9 L14.0,67.1 L13.9,66.0 L12.0,65.1 L10.3,63.4 L7.8,62.5 L7.3,61.8 L8.1,59.7 L7.5,58.4 L6.5,56.8 L5.2,53.6 L5.5,52.4 L5.6,50.9 L4.6,48.2 L4.9,47.0 L3.6,45.7 L3.8,44.4 L2.6,41.2 L3.2,37.6 L2.3,34.5 L3.3,33.2 L4.5,30.5 L4.5,29.4 L4.8,28.4 L4.8,24.6 L6.3,22.6 L7.6,20.4 L8.5,18.0 L9.8,14.4 L10.7,11.6 L10.9,9.9 L11.1,8.3 L11.3,5.3Z" fill="#f6f4d8"/><g clip-path="url(#us)" filter="url(#bl)" fill="none" stroke-linecap="round"><polyline points="17.7,2.6 17.6,5.9 16.8,7.3 16.1,8.6 14.6,9.1 13.9,12.1 13.5,15.4 11.8,17.5 10.6,21.0" stroke="#ffd700" stroke-width="3.0" stroke-linejoin="round"/>
<polyline points="5.2,47.2 5.7,48.1 6.4,49.4" stroke="#ffd700" stroke-width="3.0" stroke-linejoin="round"/>
<polyline points="5.7,47.2 7.3,45.9 9.1,44.7" stroke="#ffd700" stroke-width="3.0" stroke-linejoin="round"/>
<polyline points="10.3,63.3 11.8,64.6 13.7,65.3 14.8,66.0 15.8,67.5 16.4,69.0 17.0,70.2 17.5,72.3" stroke="#ffd700" stroke-width="3.0" stroke-linejoin="round"/>
<polyline points="14.8,66.0 16.3,66.3 17.7,67.1 18.1,66.5" stroke="#ffd700" stroke-width="3.0" stroke-linejoin="round"/>
<polyline points="34.5,72.4 35.3,72.8 36.5,73.2" stroke="#ffd700" stroke-width="3.0" stroke-linejoin="round"/>
<polyline points="167.1,29.7 166.6,32.2 164.7,34.5 162.5,35.4 160.9,37.0 159.9,38.6 158.9,40.1 158.0,41.3 157.0,42.7 156.0,43.8 153.0,46.4 152.0,48.3 151.2,51.0 151.9,54.2" stroke="#ffd700" stroke-width="3.0" stroke-linejoin="round"/>
<polyline points="151.1,104.8 151.0,102.5 150.9,100.8 149.5,98.6 148.1,95.8" stroke="#ffd700" stroke-width="3.0" stroke-linejoin="round"/>
<polyline points="141.3,97.1 143.1,96.4 144.9,94.0 145.8,91.0" stroke="#ffd700" stroke-width="3.0" stroke-linejoin="round"/>
<polyline points="86.3,80.4 88.2,80.3" stroke="#ffd700" stroke-width="3.0" stroke-linejoin="round"/>
<polyline points="84.7,90.9 83.7,92.4 81.9,94.4" stroke="#ffd700" stroke-width="3.0" stroke-linejoin="round"/>
<polyline points="131.2,73.8 134.3,71.0 137.4,68.2 138.9,67.6 142.4,65.8 143.9,62.3 145.3,61.7 148.3,61.6 149.3,62.3" stroke="#ffd700" stroke-width="3.0" stroke-linejoin="round"/>
<polyline points="115.6,35.8 116.2,38.0 116.8,40.7 118.1,41.7" stroke="#ffd700" stroke-width="3.0" stroke-linejoin="round"/>
<polyline points="130.7,36.9 128.8,37.6" stroke="#ffd700" stroke-width="3.0" stroke-linejoin="round"/>
<polyline points="135.5,40.1 136.3,41.7 136.9,42.8" stroke="#ffd700" stroke-width="3.0" stroke-linejoin="round"/>
<path stroke="#ffd700" stroke-width="8" d="M159.9 38.6h0M14.8 66.0h0M116.8 40.7h0M88.2 80.3h0M93.3 93.0h0M152.0 48.3h0M157.0 42.7h0M151.0 104.2h0M131.2 73.8h0M167.1 29.7h0M5.6 47.4h0M130.7 36.9h0M16.8 7.3h0"/>
<path stroke="#ffd700" stroke-width="7.8" d="M86.3 80.4h0M35.3 72.8h0M99.1 28.5h0M17.5 72.3h0M141.3 97.1h0M62.3 49.5h0M109.7 55.0h0M153.0 46.4h0M144.9 94.0h0M142.4 65.8h0M81.9 94.4h0M13.5 15.4h0M141.5 43.6h0M84.7 90.9h0M128.0 51.3h0M95.6 53.5h0M132.4 47.0h0M122.4 49.1h0M135.5 40.1h0M6.4 49.4h0M121.9 64.5h0M156.2 56.3h0M115.6 35.8h0M142.7 86.7h0M85.8 68.9h0M149.3 62.3h0M111.3 69.7h0M112.6 91.6h0M124.4 55.3h0M41.1 42.3h0M17.7 67.1h0M15.8 67.5h0M162.2 37.7h0M159.3 38.7h0"/>
<path stroke="#ffd700" stroke-width="6.6" d="M9.1 44.7h0M27.1 59.5h0M151.9 54.2h0M123.0 75.6h0M91.0 66.0h0M91.2 44.4h0M54.8 68.5h0M137.4 68.2h0M30.3 27.9h0M103.7 71.7h0M145.3 61.7h0M86.6 59.5h0M125.2 26.2h0"/>
<path stroke="#ffd700" stroke-width="2.6" d="M166.6 32.2h0M162.8 33.4h0M143.1 32.8h0M146.7 30.9h0M122.5 35.5h0M38.3 78.5h0M12.5 53.7h0M165.0 30.7h0M158.7 30.5h0M131.6 64.3h0M53.8 82.6h0M108.5 89.7h0M142.6 71.1h0M147.2 75.6h0M128.7 48.4h0M155.4 40.2h0M98.5 42.9h0M136.3 41.7h0M151.2 30.5h0M129.7 40.1h0M111.1 36.0h0M151.4 42.5h0M127.4 68.7h0M111.6 81.7h0M128.6 55.7h0M62.4 53.3h0M100.0 61.4h0M126.1 36.0h0M125.0 43.2h0M154.1 37.0h0M15.3 42.2h0M119.7 87.9h0M98.9 81.3h0M85.8 101.2h0M82.5 107.9h0M122.7 88.8h0M133.3 87.6h0M143.6 79.1h0M139.7 73.8h0M123.2 70.5h0M125.2 80.3h0M168.0 23.7h0M165.2 27.4h0M88.8 34.7h0M88.7 20.7h0M144.3 102.2h0M141.4 99.6h0M148.1 95.7h0M145.8 91.0h0M143.1 96.4h0M141.7 91.7h0M140.8 89.9h0M152.9 68.3h0M143.9 56.8h0M136.4 65.2h0M118.6 57.1h0M111.2 46.1h0M112.3 39.3h0M111.3 49.9h0M115.7 48.2h0M104.4 41.0h0M107.9 42.8h0M88.9 46.3h0M92.0 53.7h0M86.9 85.5h0M84.8 87.3h0M97.9 91.6h0M105.4 90.8h0M101.1 90.9h0M93.5 82.1h0M97.2 66.4h0M102.9 53.9h0M102.3 20.8h0M114.8 29.6h0M128.5 34.5h0M123.1 38.2h0M121.3 41.0h0M140.0 36.6h0M139.0 41.2h0M136.9 42.8h0M137.7 53.2h0M135.0 53.3h0M136.6 62.1h0M146.4 55.8h0M149.1 65.5h0M150.1 71.1h0M134.3 77.2h0M129.7 79.4h0M120.4 77.2h0M41.2 40.3h0M41.4 44.6h0M162.8 31.9h0M162.5 35.4h0M158.0 41.3h0M159.9 44.6h0M156.0 43.8h0M153.3 43.1h0M152.1 43.7h0M154.3 41.6h0M151.2 51.0h0M148.3 61.6h0M143.8 61.9h0M138.9 67.6h0M116.0 89.6h0M77.9 102.2h0M85.3 109.0h0M89.7 89.2h0M113.8 30.8h0M119.9 63.1h0M149.5 98.6h0M150.9 100.8h0M144.9 104.2h0M160.9 37.0h0M128.8 37.6h0M94.9 54.4h0"/>
<path stroke="#ffd700" stroke-width="0.9" stroke-opacity="0.85" d="M140.0 86.5h0M105.9 32.4h0M131.8 67.8h0M122.8 70.6h0M124.9 48.7h0M111.4 41.6h0M114.8 61.7h0M111.2 56.0h0M100.0 74.4h0M130.0 54.8h0M109.8 89.3h0M164.0 24.0h0M101.9 31.4h0M87.6 55.6h0M104.6 57.6h0M167.5 30.0h0M128.3 45.1h0M145.8 59.4h0M80.3 57.1h0M128.7 76.7h0M86.9 88.5h0M116.9 41.7h0M137.6 90.2h0M150.9 58.5h0M159.7 32.4h0M93.5 95.0h0M22.7 59.9h0M108.2 27.4h0M87.9 84.9h0M145.3 37.6h0M113.3 78.7h0M148.9 30.7h0M140.8 74.9h0M132.0 35.8h0M135.2 58.2h0M97.3 46.3h0M132.3 52.0h0M145.2 51.8h0M96.9 65.9h0M138.2 62.5h0M133.0 66.4h0M145.9 62.6h0M132.2 78.4h0M144.5 50.4h0M149.2 63.9h0M111.6 79.6h0M132.1 72.3h0M91.9 65.8h0M145.8 61.6h0M94.6 87.8h0M137.2 67.6h0M145.8 59.6h0M92.3 72.8h0M121.9 89.3h0M110.5 51.1h0M19.4 5.3h0M137.5 54.4h0M97.3 84.5h0M90.8 97.2h0M139.1 91.4h0M84.8 56.0h0M106.7 50.4h0M120.8 37.8h0M143.4 93.1h0M160.0 41.9h0M156.0 37.5h0M91.4 39.8h0M151.6 42.9h0M86.3 90.8h0M109.4 37.5h0M118.1 70.1h0M92.3 93.3h0M121.4 83.5h0M120.1 47.1h0M58.1 44.9h0M139.0 38.1h0M144.9 42.5h0M119.4 60.1h0M107.1 85.7h0M97.1 82.6h0M92.9 32.5h0M118.5 50.2h0M115.9 37.9h0M102.8 38.7h0M124.6 32.0h0M156.3 49.4h0M141.5 57.5h0M116.7 73.0h0M89.1 76.4h0M108.6 24.7h0M123.4 79.4h0M113.9 85.0h0M97.0 31.4h0M119.1 42.3h0M159.1 38.9h0M159.5 34.9h0M105.3 88.0h0M133.9 45.1h0M119.9 73.7h0M92.4 93.0h0M112.7 42.8h0M160.6 25.6h0M129.0 74.4h0M91.1 42.4h0M98.7 92.4h0M81.9 92.5h0M108.6 38.6h0M151.9 58.5h0M117.0 44.5h0M122.8 29.9h0M141.8 60.4h0M105.9 80.8h0M94.7 38.4h0M147.5 67.8h0M125.8 53.2h0M109.7 45.2h0M142.0 40.4h0M150.0 51.1h0M131.3 43.0h0M164.4 31.2h0M117.1 58.8h0M100.4 82.5h0M140.4 90.5h0M120.8 67.7h0M121.3 40.1h0M127.0 70.5h0M162.8 25.5h0M84.7 50.2h0M89.2 66.2h0M147.8 63.5h0M164.3 30.6h0M148.7 53.5h0M123.1 62.4h0M142.5 48.4h0M124.1 53.4h0M81.1 82.9h0M131.2 42.9h0M89.5 73.6h0M121.5 69.7h0M86.7 93.9h0M80.5 81.8h0M130.9 56.6h0M113.1 76.6h0M149.6 61.6h0M159.7 38.1h0M102.2 67.4h0M76.5 77.0h0M125.6 50.9h0M103.8 91.1h0M13.5 59.3h0M123.8 70.7h0M113.6 33.1h0M138.5 89.0h0M128.3 49.8h0M135.4 43.0h0M140.7 50.8h0M104.7 53.6h0M106.6 35.4h0M143.1 32.7h0M104.8 86.0h0M114.4 43.8h0M132.1 33.4h0M81.0 90.7h0M110.3 47.4h0M138.3 70.8h0M114.7 41.1h0M95.2 31.9h0M83.5 87.8h0M158.3 42.8h0M84.1 84.8h0M143.2 68.1h0M164.8 27.2h0M122.3 45.1h0M125.4 69.4h0M129.4 56.4h0M105.9 67.9h0M102.9 54.6h0M146.1 51.7h0M83.0 88.8h0M159.1 38.8h0M104.9 52.0h0M142.9 50.7h0M91.5 78.6h0M95.3 74.3h0M130.5 30.4h0M128.5 41.9h0M120.4 66.9h0M131.8 69.7h0M86.2 49.5h0M107.4 83.3h0M130.2 47.9h0M160.4 33.1h0M130.9 56.4h0M136.2 48.8h0M100.5 36.9h0M165.6 23.4h0M121.9 63.4h0M133.7 58.0h0M156.0 40.2h0M82.5 71.1h0M106.8 82.4h0M170.3 19.4h0M127.8 38.1h0M121.6 39.5h0M130.8 34.0h0M111.4 45.1h0M125.7 39.4h0M122.5 40.3h0M113.7 93.8h0M130.3 56.0h0M129.6 62.3h0M14.2 51.8h0M138.3 44.0h0M98.0 72.0h0M134.3 80.3h0M101.3 71.0h0M129.2 71.5h0M125.0 30.6h0M153.5 33.7h0M127.5 49.5h0M135.8 54.0h0M95.2 37.1h0M125.5 39.4h0M99.2 64.9h0M107.1 90.2h0M127.2 64.9h0M120.5 67.2h0M151.4 26.9h0M108.7 30.4h0M121.7 78.3h0M157.2 29.6h0M106.9 55.7h0M86.7 61.3h0M150.4 46.3h0M13.5 50.6h0M141.0 87.8h0M115.2 57.4h0M127.4 37.0h0M156.8 46.0h0M114.1 76.4h0M138.8 41.4h0M128.3 84.5h0M164.5 24.7h0M132.3 48.9h0M108.2 36.5h0M130.4 73.0h0M100.4 77.7h0M147.5 33.5h0M144.7 97.1h0M141.6 88.0h0M151.4 47.1h0M78.6 25.9h0M147.8 43.4h0M119.8 46.6h0M143.2 89.4h0M5.3 42.8h0M87.9 40.6h0M159.8 30.2h0M160.9 38.2h0M142.2 85.9h0M97.2 29.6h0M89.7 93.1h0M89.5 37.3h0M85.7 94.8h0M135.9 50.6h0M130.3 89.8h0M157.7 29.7h0M140.5 78.3h0M121.5 34.8h0M136.0 45.3h0M96.2 62.1h0M158.8 60.5h0M150.8 55.5h0M136.9 64.6h0M92.7 79.2h0M117.9 63.1h0M147.0 37.8h0M95.4 47.9h0M140.7 71.1h0M96.6 79.5h0M116.9 78.7h0M116.6 70.2h0M139.3 93.0h0M103.2 59.4h0M134.9 43.3h0M137.0 59.6h0M134.0 63.6h0M175.0 15.5h0M86.2 97.3h0M139.5 92.0h0M163.0 24.3h0M113.4 39.9h0M93.8 35.8h0M113.4 67.2h0M138.5 66.2h0M128.6 39.6h0M138.8 81.4h0M159.4 20.5h0M122.5 72.8h0M114.2 30.7h0M96.4 35.0h0M156.2 35.0h0M136.7 57.7h0M123.6 84.6h0M143.2 77.2h0M136.1 76.9h0M129.4 31.7h0M122.6 52.2h0M109.0 39.7h0M86.4 87.4h0M153.0 32.2h0M109.2 34.3h0M128.2 70.0h0M102.6 68.2h0M146.0 41.8h0M135.3 42.0h0M101.6 89.3h0M153.5 64.6h0M132.9 82.5h0M145.5 51.3h0M93.2 85.4h0M150.1 32.8h0M107.8 62.0h0M135.8 76.0h0M127.2 56.8h0M109.8 74.3h0M137.6 66.2h0M113.1 74.0h0M156.4 28.3h0M114.3 93.7h0M122.1 79.7h0M153.5 29.6h0M164.8 34.6h0M151.0 56.8h0M130.4 55.5h0M125.3 61.6h0M154.9 30.0h0M163.3 29.9h0M113.2 33.5h0M131.9 44.0h0M127.1 52.5h0M109.4 30.1h0M120.9 42.8h0M134.2 42.4h0M112.2 90.6h0M146.4 74.7h0M115.5 38.8h0M112.8 31.6h0M157.4 47.8h0M121.5 67.4h0M90.0 91.7h0M114.3 88.9h0M115.1 52.7h0M120.1 54.7h0M128.5 44.2h0M153.1 23.8h0M115.6 44.9h0M139.5 67.2h0M97.2 47.3h0M89.4 77.4h0M130.3 34.1h0M99.1 84.7h0M105.1 66.1h0M123.9 46.9h0M137.6 42.4h0M120.0 41.6h0M124.4 55.2h0M118.1 60.9h0M163.0 35.4h0M119.1 73.9h0M137.9 75.3h0M53.5 76.5h0M99.3 61.2h0M105.9 52.7h0M108.5 78.5h0M109.2 26.4h0M135.0 43.2h0M168.1 23.3h0M136.0 45.0h0M156.7 23.8h0M120.0 48.1h0M92.8 35.5h0M96.1 86.0h0M155.3 32.4h0M102.2 31.4h0M153.7 43.4h0M163.0 31.2h0M144.3 42.2h0M110.6 80.0h0M131.1 91.0h0M87.0 59.2h0M98.8 83.4h0M151.4 40.2h0M152.8 32.9h0M85.7 57.9h0M153.2 46.4h0M142.7 40.1h0M90.9 65.3h0M14.1 61.8h0M153.4 57.3h0M141.1 72.5h0M149.2 33.2h0M157.1 32.8h0M104.9 80.9h0M124.7 73.6h0M129.8 59.5h0M113.3 73.0h0M144.9 97.8h0M167.5 31.4h0M86.3 74.8h0M97.3 67.3h0M160.0 24.5h0M98.6 33.7h0M99.1 91.9h0M40.7 30.9h0M122.5 88.6h0M127.5 51.3h0M164.5 30.9h0M142.8 99.3h0M143.8 76.4h0M129.6 45.1h0M57.1 29.5h0M95.2 44.4h0M100.8 43.1h0M95.0 66.5h0M94.8 54.7h0M125.9 65.0h0M156.5 23.8h0M83.0 60.6h0M107.8 74.1h0M140.3 57.1h0M129.9 77.2h0M112.7 38.9h0M107.6 41.5h0M89.1 90.7h0M120.3 32.1h0M157.3 40.6h0M107.0 67.7h0M154.8 29.1h0M154.9 65.6h0M127.1 86.3h0M96.7 17.1h0M123.4 60.2h0M88.7 96.1h0M125.1 25.8h0M129.9 32.0h0M25.8 75.2h0M127.7 43.9h0M114.1 55.6h0M138.2 73.6h0M157.3 65.2h0M123.6 61.7h0M85.2 64.6h0M108.4 60.2h0M88.8 86.3h0M128.3 64.0h0M87.0 55.0h0M100.5 81.3h0M129.4 30.5h0M116.6 50.3h0M148.0 42.4h0M141.8 48.3h0M93.2 43.6h0M136.5 71.6h0M147.0 42.4h0M98.2 57.2h0M136.9 72.0h0M94.5 28.5h0M149.2 37.8h0M47.1 23.1h0M134.1 56.0h0M87.3 60.2h0M125.4 78.6h0M120.8 72.0h0M151.6 62.7h0M94.5 81.8h0M112.1 34.2h0M124.3 78.5h0M111.5 69.6h0M143.4 94.4h0M127.3 42.5h0M158.3 22.7h0M104.1 84.2h0M132.9 60.7h0M132.7 52.7h0M109.2 45.3h0M112.2 36.4h0M102.9 34.9h0M125.4 81.3h0M147.0 51.7h0M118.7 48.4h0M111.0 67.3h0M115.1 47.5h0M91.4 67.4h0M122.1 88.6h0M142.1 100.0h0M162.2 29.7h0M148.6 64.2h0M165.0 25.2h0M132.2 71.3h0M132.7 60.8h0M85.1 63.9h0M120.0 85.8h0M143.3 70.2h0M144.0 57.5h0M137.2 51.6h0M154.5 30.1h0M151.6 25.5h0M91.5 29.9h0M93.6 85.5h0M119.7 86.9h0M118.3 50.7h0M89.4 75.7h0M158.5 42.2h0M129.9 76.2h0M101.0 92.2h0M121.1 36.4h0M137.3 65.4h0M94.7 62.9h0M141.4 82.6h0M155.0 54.1h0M132.8 53.3h0M95.8 55.1h0M159.1 26.6h0M42.7 43.9h0M122.3 57.8h0M146.7 49.8h0M137.3 42.8h0M143.5 50.8h0M128.6 39.1h0M84.6 64.6h0M119.4 49.1h0M111.8 53.1h0M113.4 41.3h0M147.3 40.0h0M99.4 91.3h0M144.1 54.2h0M141.1 71.0h0M93.3 29.0h0M120.8 69.0h0M106.0 65.6h0M87.7 83.0h0M122.3 71.8h0M88.6 53.1h0M122.5 55.4h0M129.6 48.3h0M117.2 61.1h0M141.6 83.1h0M94.4 86.5h0M140.2 74.6h0M14.0 59.2h0M122.5 34.4h0M91.7 73.3h0M142.9 85.9h0M144.8 38.2h0M157.3 41.9h0M143.3 54.7h0M89.2 84.2h0M144.6 66.0h0M163.6 23.4h0M151.4 29.3h0M131.1 35.6h0M157.3 40.8h0M98.0 44.7h0M144.3 76.2h0M139.8 83.8h0M153.2 35.3h0M147.2 105.9h0M109.6 73.9h0M148.0 94.6h0M150.8 68.5h0M129.4 38.0h0M138.9 55.9h0M120.9 63.3h0M39.6 41.0h0M144.9 32.4h0M122.9 33.5h0M150.4 48.7h0M136.4 70.9h0M88.0 75.8h0M124.7 79.3h0M111.2 41.6h0M166.3 30.7h0M106.3 89.0h0M110.8 67.2h0M151.6 66.3h0M140.1 38.2h0M146.0 72.5h0M141.3 91.8h0M154.7 30.1h0M107.3 43.5h0M142.0 100.3h0M79.4 25.9h0M132.6 50.3h0"/>
<polyline points="17.7,2.6 17.6,5.9 16.8,7.3 16.1,8.6 14.6,9.1 13.9,12.1 13.5,15.4 11.8,17.5 10.6,21.0" stroke="#ffa500" stroke-width="1.4" stroke-linejoin="round"/>
<polyline points="5.2,47.2 5.7,48.1 6.4,49.4" stroke="#ffa500" stroke-width="1.4" stroke-linejoin="round"/>
<polyline points="5.7,47.2 7.3,45.9 9.1,44.7" stroke="#ffa500" stroke-width="1.4" stroke-linejoin="round"/>
<polyline points="10.3,63.3 11.8,64.6 13.7,65.3 14.8,66.0 15.8,67.5 16.4,69.0 17.0,70.2 17.5,72.3" stroke="#ffa500" stroke-width="1.4" stroke-linejoin="round"/>
<polyline points="14.8,66.0 16.3,66.3 17.7,67.1 18.1,66.5" stroke="#ffa500" stroke-width="1.4" stroke-linejoin="round"/>
<polyline points="34.5,72.4 35.3,72.8 36.5,73.2" stroke="#ffa500" stroke-width="1.4" stroke-linejoin="round"/>
<polyline points="167.1,29.7 166.6,32.2 164.7,34.5 162.5,35.4 160.9,37.0 159.9,38.6 158.9,40.1 158.0,41.3 157.0,42.7 156.0,43.8 153.0,46.4 152.0,48.3 151.2,51.0 151.9,54.2" stroke="#ffa500" stroke-width="1.4" stroke-linejoin="round"/>
<polyline points="151.1,104.8 151.0,102.5 150.9,100.8 149.5,98.6 148.1,95.8" stroke="#ffa500" stroke-width="1.4" stroke-linejoin="round"/>
<polyline points="141.3,97.1 143.1,96.4 144.9,94.0 145.8,91.0" stroke="#ffa500" stroke-width="1.4" stroke-linejoin="round"/>
<polyline points="86.3,80.4 88.2,80.3" stroke="#ffa500" stroke-width="1.4" stroke-linejoin="round"/>
<polyline points="84.7,90.9 83.7,92.4 81.9,94.4" stroke="#ffa500" stroke-width="1.4" stroke-linejoin="round"/>
<polyline points="131.2,73.8 134.3,71.0 137.4,68.2 138.9,67.6 142.4,65.8 143.9,62.3 145.3,61.7 148.3,61.6 149.3,62.3" stroke="#ffa500" stroke-width="1.4" stroke-linejoin="round"/>
<polyline points="115.6,35.8 116.2,38.0 116.8,40.7 118.1,41.7" stroke="#ffa500" stroke-width="1.4" stroke-linejoin="round"/>
<polyline points="130.7,36.9 128.8,37.6" stroke="#ffa500" stroke-width="1.4" stroke-linejoin="round"/>
<polyline points="135.5,40.1 136.3,41.7 136.9,42.8" stroke="#ffa500" stroke-width="1.4" stroke-linejoin="round"/>
<path stroke="#ffa500" stroke-width="1.6" d="M166.6 32.2h0M162.8 33.4h0M143.1 32.8h0M146.7 30.9h0M122.5 35.5h0M38.3 78.5h0M12.5 53.7h0M165.0 30.7h0M158.7 30.5h0M131.6 64.3h0M53.8 82.6h0M108.5 89.7h0M142.6 71.1h0M147.2 75.6h0M128.7 48.4h0M155.4 40.2h0M98.5 42.9h0M136.3 41.7h0M151.2 30.5h0M129.7 40.1h0M111.1 36.0h0M151.4 42.5h0M127.4 68.7h0M111.6 81.7h0M128.6 55.7h0M62.4 53.3h0M100.0 61.4h0M126.1 36.0h0M125.0 43.2h0M154.1 37.0h0M15.3 42.2h0M119.7 87.9h0M98.9 81.3h0M85.8 101.2h0M82.5 107.9h0M122.7 88.8h0M133.3 87.6h0M143.6 79.1h0M139.7 73.8h0M123.2 70.5h0M125.2 80.3h0M168.0 23.7h0M165.2 27.4h0M88.8 34.7h0M88.7 20.7h0M144.3 102.2h0M141.4 99.6h0M148.1 95.7h0M145.8 91.0h0M143.1 96.4h0M141.7 91.7h0M140.8 89.9h0M152.9 68.3h0M143.9 56.8h0M136.4 65.2h0M118.6 57.1h0M111.2 46.1h0M112.3 39.3h0M111.3 49.9h0M115.7 48.2h0M104.4 41.0h0M107.9 42.8h0M88.9 46.3h0M92.0 53.7h0M86.9 85.5h0M84.8 87.3h0M97.9 91.6h0M105.4 90.8h0M101.1 90.9h0M93.5 82.1h0M97.2 66.4h0M102.9 53.9h0M102.3 20.8h0M114.8 29.6h0M128.5 34.5h0M123.1 38.2h0M121.3 41.0h0M140.0 36.6h0M139.0 41.2h0M136.9 42.8h0M137.7 53.2h0M135.0 53.3h0M136.6 62.1h0M146.4 55.8h0M149.1 65.5h0M150.1 71.1h0M134.3 77.2h0M129.7 79.4h0M120.4 77.2h0M41.2 40.3h0M41.4 44.6h0M162.8 31.9h0M162.5 35.4h0M158.0 41.3h0M159.9 44.6h0M156.0 43.8h0M153.3 43.1h0M152.1 43.7h0M154.3 41.6h0M151.2 51.0h0M148.3 61.6h0M143.8 61.9h0M138.9 67.6h0M116.0 89.6h0M77.9 102.2h0M85.3 109.0h0M89.7 89.2h0M113.8 30.8h0M119.9 63.1h0M149.5 98.6h0M150.9 100.8h0M144.9 104.2h0M160.9 37.0h0M128.8 37.6h0M94.9 54.4h0"/>
<path stroke="#ffa500" stroke-width="1.4" d="M13.6 59.9h0M30.4 10.6h0M70.6 76.3h0M54.4 22.9h0M71.2 69.4h0M69.4 82.9h0M77.8 81.5h0M96.4 69.2h0M95.9 62.1h0M139.5 45.5h0M133.1 82.8h0M128.9 84.8h0M115.0 85.6h0M9.2 28.2h0M10.6 21.0h0M11.8 17.5h0M20.8 12.8h0M24.4 15.3h0M8.6 35.7h0M9.3 39.7h0M10.3 63.3h0M9.6 48.9h0M9.0 47.4h0M5.1 44.2h0M3.5 33.3h0M38.0 65.7h0M25.9 74.3h0M53.0 80.1h0M57.4 66.2h0M50.6 51.0h0M62.3 45.8h0M62.9 55.9h0M63.3 43.6h0M59.5 35.8h0M69.3 31.6h0M77.2 20.6h0M47.5 14.6h0M39.4 15.8h0M44.7 17.9h0M47.0 22.2h0M42.6 30.8h0M40.9 33.2h0M34.6 33.4h0M33.0 56.6h0M158.5 22.6h0M171.0 17.9h0M152.8 34.3h0M153.9 29.7h0M147.9 40.9h0M146.4 42.4h0M142.2 46.9h0M149.3 45.6h0M148.1 52.8h0M157.1 49.5h0M146.7 69.5h0M144.7 78.4h0M136.6 85.5h0M128.4 89.3h0M124.9 88.6h0M104.7 81.2h0M103.7 86.3h0M97.8 77.5h0M82.4 75.4h0M75.2 85.5h0M87.3 97.1h0M82.8 72.5h0M85.8 54.6h0M83.6 45.7h0M89.8 39.1h0M101.6 32.5h0M96.4 26.2h0M105.4 33.3h0M104.4 29.1h0M121.9 27.9h0M118.6 50.7h0M121.5 51.7h0M119.9 46.5h0M124.7 47.0h0M122.7 60.9h0M115.5 61.1h0M115.3 67.4h0M116.1 73.1h0M119.4 70.5h0M125.5 73.3h0M134.5 72.4h0M153.7 62.2h0M154.2 65.8h0M147.7 94.6h0M11.8 64.6h0M18.1 66.5h0M20.5 68.4h0M13.7 55.8h0M6.4 52.3h0M14.6 9.1h0M17.7 2.6h0M16.1 8.6h0M17.6 5.9h0M24.3 15.3h0M34.7 68.0h0M28.5 67.0h0M68.4 83.5h0M127.5 32.9h0M135.8 61.2h0M113.2 46.9h0"/>
<path stroke="#ffa500" stroke-width="0.9" stroke-opacity="0.85" d="M94.4 78.0h0M76.3 92.9h0M109.0 86.4h0M114.6 42.9h0M134.7 40.6h0M155.3 25.6h0M89.7 55.5h0M131.6 64.7h0M123.2 57.3h0M90.2 30.5h0M137.3 55.3h0M93.7 95.4h0M125.5 87.7h0M98.7 74.0h0M104.0 86.9h0M124.6 76.3h0M136.6 85.6h0M111.4 33.3h0M117.3 56.7h0M126.6 40.9h0M122.8 75.4h0M142.3 46.4h0M122.4 34.9h0M115.2 55.1h0M115.0 92.3h0M120.1 61.3h0M110.4 50.4h0M61.9 51.9h0M95.3 63.6h0M154.6 54.1h0M109.1 70.2h0M75.0 76.4h0M92.2 64.8h0M105.6 54.2h0M128.4 86.6h0M127.9 38.0h0M125.8 29.0h0M95.9 68.0h0M145.2 51.9h0M136.3 61.7h0M114.8 47.1h0M148.0 65.7h0M106.4 37.6h0M30.0 71.2h0M130.8 60.3h0M124.2 41.7h0M79.0 56.4h0M137.1 62.0h0M151.8 39.2h0M167.2 22.9h0M120.1 76.6h0M132.7 56.1h0M118.3 55.4h0M117.9 69.9h0M83.3 82.3h0M123.3 59.3h0M149.6 69.8h0M129.8 46.1h0M135.6 48.2h0M114.7 62.3h0M122.6 70.5h0M152.2 59.1h0M85.8 78.4h0M103.3 68.6h0M121.4 34.1h0M104.2 71.9h0M160.9 23.0h0M87.1 73.0h0M132.2 59.7h0M106.7 41.5h0M76.8 91.5h0M110.5 44.2h0M96.6 47.5h0M155.0 64.6h0M116.9 79.1h0M144.9 62.7h0M145.2 46.2h0M137.9 82.8h0M105.1 77.4h0M107.7 38.0h0M103.4 83.2h0M106.6 34.9h0M128.5 68.1h0M97.6 75.3h0M81.4 74.2h0M150.4 33.0h0M87.8 95.0h0M106.5 79.1h0M119.1 55.7h0M118.0 81.2h0M163.4 18.4h0M164.5 32.7h0M92.6 79.5h0M147.8 42.0h0M86.7 57.9h0M134.8 66.5h0M108.9 51.1h0M99.7 62.9h0M147.2 97.7h0M158.6 42.3h0M126.1 34.8h0M155.8 51.7h0M109.5 56.1h0M148.9 70.8h0M142.9 93.5h0M153.9 64.2h0M131.5 55.8h0M135.8 85.0h0M110.3 84.2h0M129.0 78.1h0M163.9 26.9h0M142.0 64.3h0M97.8 47.4h0M104.3 54.7h0M103.5 29.2h0M122.3 73.2h0M158.9 38.6h0M135.4 79.7h0M101.3 47.5h0M147.3 59.4h0M123.1 56.6h0M141.1 59.0h0M140.3 71.0h0M105.6 90.5h0M136.1 69.1h0M136.1 55.3h0M94.9 31.4h0M148.2 65.3h0M122.9 42.3h0M98.4 92.0h0M147.7 41.5h0M102.8 75.9h0M103.9 62.1h0M129.4 53.7h0M115.2 78.4h0M128.1 66.2h0M140.7 38.5h0M147.2 105.8h0M156.8 38.7h0M141.1 48.7h0M133.6 64.2h0M118.5 44.1h0M147.6 38.7h0M81.3 83.6h0M143.9 95.9h0M132.9 66.8h0M81.5 89.9h0M75.6 70.9h0M99.0 55.2h0M138.9 40.6h0M114.3 79.2h0M145.8 35.3h0M86.6 89.0h0M164.9 24.5h0M140.2 52.7h0M123.3 83.6h0M122.8 35.0h0M11.9 10.9h0M117.3 87.9h0M146.5 75.5h0M145.6 43.7h0M145.3 36.7h0M34.4 64.8h0M138.4 83.3h0M82.6 101.7h0M126.0 63.3h0M141.6 72.1h0M141.3 73.3h0M163.6 33.8h0M133.5 57.9h0M122.8 69.8h0M138.5 44.8h0M166.0 34.0h0M120.1 80.4h0M85.0 85.2h0M142.5 97.4h0M131.6 58.9h0M172.6 16.9h0M85.9 93.2h0M145.1 33.5h0M139.4 45.2h0M121.1 26.8h0M103.7 38.1h0M171.2 15.7h0M90.3 80.4h0M121.8 38.1h0M138.5 51.6h0M141.4 44.4h0M79.7 84.3h0M133.3 65.9h0M129.6 34.5h0M121.3 49.0h0M103.7 38.8h0M98.8 37.8h0M153.0 41.2h0M120.1 31.8h0M140.2 38.3h0M105.0 92.3h0M137.8 88.1h0M145.5 68.9h0M135.5 66.8h0M137.0 74.2h0M139.3 50.9h0M148.1 48.7h0M140.7 90.1h0M135.2 64.0h0M153.5 58.9h0M128.1 50.4h0M144.9 41.5h0M128.0 53.7h0M122.5 27.1h0M88.1 58.2h0M141.5 65.2h0M147.7 65.7h0M134.5 73.0h0M150.4 32.9h0M145.0 44.4h0M85.9 61.3h0M144.6 59.0h0M105.4 68.4h0M150.6 51.5h0M114.0 38.1h0M111.8 66.2h0M108.3 79.9h0M136.2 58.6h0M126.8 43.5h0M147.6 38.3h0M99.5 50.8h0M156.0 57.6h0M95.9 92.2h0M135.6 66.6h0M133.6 42.0h0M114.0 62.3h0M80.6 90.6h0M162.7 31.7h0M150.3 45.7h0M97.9 68.3h0M131.4 69.2h0M120.9 70.1h0M113.3 36.8h0M127.7 34.1h0M139.0 90.5h0M98.2 80.5h0M113.6 84.4h0M153.6 28.2h0M115.5 82.1h0M120.4 80.1h0M90.9 91.2h0M153.6 56.1h0M109.8 94.1h0M114.2 64.3h0M121.3 50.0h0M153.2 50.8h0M82.4 84.4h0M116.6 48.8h0M96.6 77.3h0M103.1 52.7h0M108.7 51.5h0M138.9 60.3h0M112.0 48.9h0M91.2 46.9h0M111.1 40.5h0M80.8 98.2h0M154.5 34.0h0M83.9 76.9h0M90.1 50.0h0M153.8 56.8h0M132.9 47.7h0M98.0 64.2h0M103.0 29.6h0M127.2 46.9h0M142.6 36.9h0M142.8 57.1h0M125.5 49.8h0M98.3 60.0h0M156.7 59.5h0M95.2 71.4h0M94.0 26.5h0M124.2 44.7h0M144.7 43.3h0M85.5 34.9h0M114.7 69.9h0M114.0 89.2h0M102.2 64.5h0M130.8 85.8h0M108.5 39.9h0M85.5 79.2h0M84.4 91.3h0M103.3 43.2h0M135.6 58.1h0M150.3 102.7h0M144.8 103.3h0M153.7 63.3h0M160.0 31.7h0M115.0 76.1h0M82.2 94.6h0M115.9 41.7h0M134.2 51.4h0M164.4 33.8h0M140.3 36.6h0M83.4 69.7h0M134.8 86.0h0M166.8 26.7h0M142.6 72.0h0M149.2 100.9h0M139.5 54.2h0M146.7 62.3h0M130.9 51.4h0M113.2 55.7h0M129.9 72.3h0M83.8 31.9h0M53.5 24.8h0M113.7 44.7h0M132.0 56.2h0M124.7 56.6h0M148.0 72.0h0M87.1 99.0h0M108.6 30.2h0M120.7 64.3h0M131.1 66.7h0M112.7 77.7h0M129.4 42.4h0M128.0 74.8h0M111.8 63.3h0M124.5 85.5h0M130.0 71.2h0M97.2 78.3h0M93.9 64.7h0M115.0 65.7h0M148.8 56.0h0M136.4 63.4h0M131.2 52.5h0M114.4 34.6h0M88.1 29.2h0M106.0 37.7h0M159.1 43.2h0M118.4 73.2h0M77.8 90.5h0M140.4 49.6h0M110.9 79.6h0M157.4 22.4h0M95.5 87.2h0M103.5 25.8h0M120.5 49.7h0M130.5 32.9h0M112.4 57.2h0M100.2 54.8h0M132.3 60.9h0M106.9 26.3h0M152.5 66.7h0M135.6 76.0h0M127.0 35.6h0M105.6 86.6h0M98.6 71.6h0M139.2 88.7h0M96.8 41.2h0M121.2 63.6h0M142.9 60.1h0M37.1 67.9h0M129.0 32.9h0M144.6 64.5h0M130.4 35.2h0M141.6 74.0h0M90.9 65.9h0M84.7 101.4h0M39.5 47.2h0M83.8 72.2h0M151.3 31.5h0M155.9 37.1h0M117.5 87.5h0M139.0 51.5h0M123.3 47.1h0M144.3 36.0h0M151.3 35.0h0M108.9 37.5h0M157.2 53.6h0M123.5 52.2h0M135.7 85.0h0M133.6 65.3h0M104.1 84.5h0M129.7 42.1h0M131.1 49.3h0M144.1 35.9h0M105.5 88.9h0M139.1 72.9h0M118.1 60.0h0M122.2 43.3h0M105.5 67.6h0M130.0 65.3h0M142.4 56.0h0M82.7 90.5h0M149.3 30.5h0M26.0 5.9h0M124.6 68.8h0M120.7 29.0h0M160.4 33.9h0M156.3 54.6h0M114.4 30.7h0M128.7 41.9h0M155.8 34.0h0M118.2 63.5h0M104.3 74.1h0M100.0 79.2h0M149.7 31.0h0M88.8 44.4h0M105.2 74.9h0M136.6 77.4h0M94.8 40.0h0M77.0 85.6h0M127.1 42.3h0M107.5 48.9h0M105.9 91.0h0M42.6 72.4h0M96.6 37.7h0M143.0 39.8h0M98.6 89.2h0M94.4 42.7h0M124.4 29.5h0M124.2 86.7h0M124.3 56.7h0M135.9 57.7h0M90.9 51.2h0M111.7 64.8h0M91.9 57.3h0M134.4 71.2h0M125.9 56.6h0M146.7 48.6h0M33.6 9.4h0M134.4 66.4h0M79.4 72.6h0M123.6 33.1h0M93.6 65.4h0M145.8 30.8h0M171.7 13.2h0M83.9 85.0h0M134.9 73.6h0M90.3 64.3h0M149.8 102.8h0M12.7 41.1h0M112.3 24.1h0M119.7 63.4h0M164.3 33.5h0M103.3 27.6h0M123.8 58.1h0M127.6 40.9h0M134.2 74.7h0M102.6 48.4h0M137.8 55.5h0M139.5 50.3h0M89.7 66.6h0M145.9 34.0h0M148.3 59.1h0M146.0 94.0h0M87.9 43.3h0M107.3 35.8h0M138.9 41.9h0M149.0 106.2h0M126.1 48.9h0M130.0 38.0h0M115.8 54.3h0M83.2 81.0h0M151.8 45.5h0M125.4 47.7h0M125.5 86.3h0M104.8 88.2h0M136.3 78.6h0M100.3 33.1h0M19.9 7.2h0M113.8 87.0h0M121.8 62.3h0M154.0 64.2h0M81.0 96.9h0M143.8 93.2h0M80.4 90.1h0M138.4 38.6h0M106.2 53.0h0M91.3 88.5h0M138.3 90.9h0M164.3 30.5h0M86.5 88.0h0M122.0 77.5h0M84.7 80.0h0M162.7 23.1h0M146.0 58.7h0M134.3 46.4h0M115.9 88.7h0M121.2 78.0h0M129.5 72.2h0M6.8 41.7h0M102.2 93.3h0M125.6 74.7h0M109.4 54.3h0M82.2 56.4h0M151.1 31.5h0M117.7 46.5h0M158.5 40.4h0M78.9 65.7h0M126.7 43.4h0M89.3 44.5h0M146.5 93.9h0M128.5 43.4h0M122.4 45.3h0M146.6 103.7h0"/>
<path stroke="#ffbf00" stroke-width="5.2" d="M159.9 38.6h0M14.8 66.0h0M116.8 40.7h0M88.2 80.3h0M93.3 93.0h0M152.0 48.3h0M157.0 42.7h0M151.0 104.2h0M131.2 73.8h0M167.1 29.7h0M5.6 47.4h0M130.7 36.9h0M16.8 7.3h0"/>
<path stroke="#ffbf00" stroke-width="4.8" d="M86.3 80.4h0M35.3 72.8h0M99.1 28.5h0M17.5 72.3h0M141.3 97.1h0M62.3 49.5h0M109.7 55.0h0M153.0 46.4h0M144.9 94.0h0M142.4 65.8h0M81.9 94.4h0M13.5 15.4h0M141.5 43.6h0M84.7 90.9h0M128.0 51.3h0M95.6 53.5h0M132.4 47.0h0M122.4 49.1h0M135.5 40.1h0M6.4 49.4h0M121.9 64.5h0M156.2 56.3h0M115.6 35.8h0M142.7 86.7h0M85.8 68.9h0M149.3 62.3h0M111.3 69.7h0M112.6 91.6h0M124.4 55.3h0M41.1 42.3h0M17.7 67.1h0M15.8 67.5h0M162.2 37.7h0M159.3 38.7h0"/>
<path stroke="#ffbf00" stroke-width="4" d="M9.1 44.7h0M27.1 59.5h0M151.9 54.2h0M123.0 75.6h0M91.0 66.0h0M91.2 44.4h0M54.8 68.5h0M137.4 68.2h0M30.3 27.9h0M103.7 71.7h0M145.3 61.7h0M86.6 59.5h0M125.2 26.2h0"/>
<path stroke="#ff7f50" stroke-width="3.2" d="M159.9 38.6h0M14.8 66.0h0M116.8 40.7h0M88.2 80.3h0M93.3 93.0h0M152.0 48.3h0M157.0 42.7h0M151.0 104.2h0M131.2 73.8h0M167.1 29.7h0M5.6 47.4h0M130.7 36.9h0M16.8 7.3h0"/>
<path stroke="#ff7f50" stroke-width="2.4" d="M86.3 80.4h0M35.3 72.8h0M99.1 28.5h0M17.5 72.3h0M141.3 97.1h0M62.3 49.5h0M109.7 55.0h0M153.0 46.4h0M144.9 94.0h0M142.4 65.8h0M81.9 94.4h0M13.5 15.4h0M141.5 43.6h0M84.7 90.9h0M128.0 51.3h0M95.6 53.5h0M132.4 47.0h0M122.4 49.1h0M135.5 40.1h0M6.4 49.4h0M121.9 64.5h0M156.2 56.3h0M115.6 35.8h0M142.7 86.7h0M85.8 68.9h0M149.3 62.3h0M111.3 69.7h0M112.6 91.6h0M124.4 55.3h0M41.1 42.3h0M17.7 67.1h0M15.8 67.5h0M162.2 37.7h0M159.3 38.7h0"/>
<path stroke="#ff7f50" stroke-width="0.9" stroke-opacity="0.85" d="M99.2 59.5h0M95.0 69.9h0M146.8 96.2h0M106.5 37.2h0M149.1 33.7h0M94.2 61.4h0M153.8 50.5h0M133.1 71.9h0M150.2 40.3h0M110.3 28.5h0M156.9 28.8h0M102.0 31.3h0M126.5 74.5h0M124.2 40.6h0M138.1 47.5h0M96.9 62.1h0M98.8 63.3h0M157.4 40.2h0M6.3 51.6h0M137.4 48.8h0M161.8 32.6h0M97.9 60.7h0M77.3 87.1h0M100.1 41.7h0M141.5 63.2h0M125.9 84.1h0M114.3 90.9h0M143.7 38.5h0M111.8 63.8h0M126.3 37.3h0M99.0 34.1h0M120.5 29.0h0M147.2 94.8h0M113.7 52.3h0M125.3 48.5h0M129.6 73.4h0M129.6 41.7h0M165.1 28.7h0M101.8 74.9h0M112.5 78.1h0M12.2 14.6h0M123.9 28.6h0M98.8 65.4h0M163.8 32.0h0M130.5 42.8h0M84.4 90.9h0M160.2 25.2h0M100.7 71.1h0M126.6 75.6h0M106.8 55.7h0M23.4 69.8h0M159.4 43.0h0M133.8 51.4h0M108.7 66.9h0M141.6 69.3h0M94.6 62.4h0M130.2 78.6h0M112.2 39.8h0M130.0 39.1h0M143.1 40.5h0M81.5 62.9h0M136.7 43.1h0M145.9 100.9h0M81.8 45.4h0M87.0 60.4h0M89.3 87.0h0M134.3 57.5h0M142.8 36.3h0M165.2 24.9h0M84.4 56.8h0M136.9 64.9h0M139.7 61.0h0M137.4 61.1h0M123.5 65.0h0M120.7 70.6h0M112.8 28.6h0M100.1 55.4h0M87.4 59.8h0M111.7 75.0h0M145.7 37.4h0M94.7 81.7h0M86.6 37.4h0M155.0 67.6h0M114.5 42.8h0M100.5 55.8h0M119.3 56.7h0M110.5 57.6h0M163.6 26.6h0M150.0 52.1h0M130.5 62.3h0"/>
<polyline points="5.2,47.2 5.7,48.1 6.4,49.4" stroke="#ff0000" stroke-width="0.9" stroke-linejoin="round"/>
<polyline points="10.3,63.3 11.8,64.6 13.7,65.3 14.8,66.0 15.8,67.5 16.4,69.0 17.0,70.2 17.5,72.3" stroke="#ff0000" stroke-width="0.9" stroke-linejoin="round"/>
<polyline points="167.1,29.7 166.6,32.2 164.7,34.5 162.5,35.4 160.9,37.0 159.9,38.6 158.9,40.1 158.0,41.3 157.0,42.7 156.0,43.8 153.0,46.4 152.0,48.3 151.2,51.0 151.9,54.2" stroke="#ff0000" stroke-width="0.9" stroke-linejoin="round"/>
<polyline points="115.6,35.8 116.2,38.0 116.8,40.7 118.1,41.7" stroke="#ff0000" stroke-width="0.9" stroke-linejoin="round"/>
<polyline points="130.7,36.9 128.8,37.6" stroke="#ff0000" stroke-width="0.9" stroke-linejoin="round"/>
<path stroke="#ff0000" stroke-width="1.8" d="M159.9 38.6h0M14.8 66.0h0M116.8 40.7h0M88.2 80.3h0M93.3 93.0h0M152.0 48.3h0M157.0 42.7h0M151.0 104.2h0M131.2 73.8h0M167.1 29.7h0M5.6 47.4h0M130.7 36.9h0M16.8 7.3h0"/>
<path stroke="#ff0000" stroke-width="1.6" d="M86.3 80.4h0M35.3 72.8h0M99.1 28.5h0M17.5 72.3h0M141.3 97.1h0M62.3 49.5h0M109.7 55.0h0M153.0 46.4h0M144.9 94.0h0M142.4 65.8h0M81.9 94.4h0M13.5 15.4h0M141.5 43.6h0M84.7 90.9h0M128.0 51.3h0M95.6 53.5h0M132.4 47.0h0M122.4 49.1h0M135.5 40.1h0M6.4 49.4h0M121.9 64.5h0M156.2 56.3h0M115.6 35.8h0M142.7 86.7h0M85.8 68.9h0M149.3 62.3h0M111.3 69.7h0M112.6 91.6h0M124.4 55.3h0M41.1 42.3h0M17.7 67.1h0M15.8 67.5h0M162.2 37.7h0M159.3 38.7h0"/>
<path stroke="#ff0000" stroke-width="1.2" d="M9.1 44.7h0M27.1 59.5h0M151.9 54.2h0M123.0 75.6h0M91.0 66.0h0M91.2 44.4h0M54.8 68.5h0M137.4 68.2h0M30.3 27.9h0M103.7 71.7h0M145.3 61.7h0M86.6 59.5h0M125.2 26.2h0"/>
<path stroke="#ff0000" stroke-width="0.9" stroke-opacity="0.85" d="M142.3 92.4h0M144.4 73.7h0M123.6 72.0h0M138.0 73.8h0M121.5 80.8h0M145.4 63.2h0M121.2 72.3h0M105.5 77.6h0M74.9 87.6h0M125.9 53.2h0M132.6 72.3h0M101.5 19.6h0M147.8 46.9h0M133.9 56.4h0M106.3 76.3h0M151.6 36.2h0M134.5 46.1h0M95.2 35.7h0M144.4 64.1h0M143.3 65.0h0M104.7 52.4h0M99.1 88.0h0M141.7 71.6h0M108.7 58.4h0M98.5 35.4h0M151.0 34.2h0M125.0 31.1h0M166.3 26.4h0M113.1 49.4h0M120.1 47.5h0M116.9 53.8h0M17.9 56.3h0M121.0 41.9h0M140.4 63.4h0M122.1 70.4h0M127.3 52.7h0M123.0 88.7h0M125.0 58.6h0M111.1 74.8h0M85.9 78.9h0M153.0 31.9h0M122.8 36.4h0M160.3 24.4h0M21.3 21.5h0M155.9 39.7h0M110.3 29.6h0M133.7 82.4h0M86.7 97.6h0M77.4 88.7h0M111.8 62.8h0M108.3 38.7h0M85.2 70.9h0M100.0 89.0h0M92.6 87.3h0M130.2 49.5h0M149.9 46.5h0M115.2 51.5h0M147.0 65.8h0M128.1 46.7h0M84.2 93.4h0M90.5 35.4h0M110.8 83.7h0M157.8 28.6h0M90.8 55.8h0M128.2 53.6h0M87.8 78.4h0M158.9 41.2h0M83.3 65.2h0M96.4 39.2h0M153.0 35.8h0M150.0 70.4h0M14.6 61.5h0M80.8 58.9h0M95.8 32.4h0M121.8 50.6h0M142.1 76.5h0M134.4 46.2h0M116.8 59.5h0M144.4 77.3h0M82.1 99.4h0M112.0 30.6h0M165.3 23.9h0M100.2 54.0h0M113.3 76.9h0M102.1 51.3h0M111.0 49.1h0M135.9 63.4h0M134.2 65.2h0M131.1 70.6h0M109.5 77.9h0M122.6 37.5h0M158.3 50.1h0M128.4 50.8h0M128.2 57.3h0M134.1 53.9h0M156.0 36.1h0M145.1 70.5h0M90.9 74.4h0M109.2 45.9h0M139.0 59.4h0M145.2 52.5h0M133.9 83.6h0M89.7 77.9h0M79.6 77.3h0M112.0 83.8h0M90.1 95.1h0M100.2 34.6h0M95.1 55.1h0M82.8 80.0h0M135.2 48.1h0M93.0 85.1h0M93.9 44.0h0M121.5 44.0h0"/>
<path stroke="#ff0000" stroke-width="0.8" d="M166.6 32.2h0M162.8 33.4h0M143.1 32.8h0M146.7 30.9h0M122.5 35.5h0M38.3 78.5h0M12.5 53.7h0M165.0 30.7h0M158.7 30.5h0M131.6 64.3h0M53.8 82.6h0M108.5 89.7h0M142.6 71.1h0M147.2 75.6h0M128.7 48.4h0M155.4 40.2h0M98.5 42.9h0M136.3 41.7h0M151.2 30.5h0M129.7 40.1h0M111.1 36.0h0M151.4 42.5h0M127.4 68.7h0M111.6 81.7h0M128.6 55.7h0M62.4 53.3h0M100.0 61.4h0M126.1 36.0h0M125.0 43.2h0M154.1 37.0h0M15.3 42.2h0M119.7 87.9h0M98.9 81.3h0M85.8 101.2h0M82.5 107.9h0M122.7 88.8h0M133.3 87.6h0M143.6 79.1h0M139.7 73.8h0M123.2 70.5h0M125.2 80.3h0M168.0 23.7h0M165.2 27.4h0M88.8 34.7h0M88.7 20.7h0M144.3 102.2h0M141.4 99.6h0M148.1 95.7h0M145.8 91.0h0M143.1 96.4h0M141.7 91.7h0M140.8 89.9h0M152.9 68.3h0M143.9 56.8h0M136.4 65.2h0M118.6 57.1h0M111.2 46.1h0M112.3 39.3h0M111.3 49.9h0M115.7 48.2h0M104.4 41.0h0M107.9 42.8h0M88.9 46.3h0M92.0 53.7h0M86.9 85.5h0M84.8 87.3h0M97.9 91.6h0M105.4 90.8h0M101.1 90.9h0M93.5 82.1h0M97.2 66.4h0M102.9 53.9h0M102.3 20.8h0M114.8 29.6h0M128.5 34.5h0M123.1 38.2h0M121.3 41.0h0M140.0 36.6h0M139.0 41.2h0M136.9 42.8h0M137.7 53.2h0M135.0 53.3h0M136.6 62.1h0M146.4 55.8h0M149.1 65.5h0M150.1 71.1h0M134.3 77.2h0M129.7 79.4h0M120.4 77.2h0M41.2 40.3h0M41.4 44.6h0M162.8 31.9h0M162.5 35.4h0M158.0 41.3h0M159.9 44.6h0M156.0 43.8h0M153.3 43.1h0M152.1 43.7h0M154.3 41.6h0M151.2 51.0h0M148.3 61.6h0M143.8 61.9h0M138.9 67.6h0M116.0 89.6h0M77.9 102.2h0M85.3 109.0h0M89.7 89.2h0M113.8 30.8h0M119.9 63.1h0M149.5 98.6h0M150.9 100.8h0M144.9 104.2h0M160.9 37.0h0M128.8 37.6h0M94.9 54.4h0"/></g><path d="M92.4,9.3 L112.1,13.1 L125.5,18.0 L128.0,21.9 L121.8,23.9 L114.6,25.9 L107.1,24.7 L99.7,20.9 L92.4,16.8Z" fill="#fff" fill-opacity="0.6" filter="url(#bl2)"/></g>
<g transform="translate(6,151)"><path d="M11.3,2.3 L13.0,3.7 L14.5,4.4 L16.1,5.0 L17.0,3.9 L17.7,2.6 L17.3,1.4 L24.7,3.4 L32.8,5.4 L41.0,7.1 L49.3,8.5 L57.6,9.7 L65.9,10.7 L74.3,11.3 L82.6,11.7 L87.6,11.8 L93.4,11.8 L93.4,10.3 L94.3,10.6 L94.8,12.9 L97.2,13.8 L99.4,13.3 L101.1,13.9 L103.7,15.4 L105.7,14.8 L109.1,15.4 L107.2,16.6 L104.5,19.0 L102.3,21.0 L104.3,20.8 L106.0,20.0 L105.8,21.5 L107.2,21.5 L110.3,20.0 L112.5,18.5 L114.1,17.3 L113.1,19.3 L115.9,20.9 L118.1,21.3 L119.9,20.0 L122.9,19.3 L124.6,20.2 L125.6,21.4 L127.2,22.0 L123.9,23.0 L121.6,22.3 L119.3,23.1 L118.5,24.1 L117.2,24.2 L115.9,27.0 L114.9,29.6 L116.2,27.9 L117.6,26.0 L116.9,28.2 L116.4,31.0 L116.1,32.7 L115.7,35.8 L117.1,40.6 L118.1,41.7 L119.3,41.1 L120.4,39.3 L121.0,36.3 L120.3,34.5 L119.7,31.5 L120.1,30.2 L120.0,28.6 L120.5,27.4 L121.7,26.0 L122.0,27.7 L122.4,26.8 L122.7,25.5 L123.4,25.0 L123.2,23.8 L124.0,23.3 L124.8,23.8 L126.9,24.5 L128.3,25.8 L128.7,27.3 L128.8,28.5 L128.4,29.3 L127.7,30.6 L127.6,32.1 L128.9,30.7 L130.2,29.9 L131.5,31.6 L132.4,34.0 L132.4,35.8 L130.9,37.2 L130.0,39.9 L132.4,40.7 L135.5,40.0 L140.0,36.6 L143.1,32.7 L142.3,31.3 L146.7,30.5 L149.8,29.0 L150.3,27.2 L149.8,26.0 L151.0,24.7 L153.1,21.6 L158.6,20.3 L162.9,19.2 L163.8,17.7 L164.5,17.1 L165.3,11.2 L166.5,7.6 L169.2,7.2 L170.9,7.9 L172.4,12.6 L173.9,13.5 L175.5,15.2 L176.1,16.3 L175.1,17.5 L173.6,18.8 L172.4,20.1 L171.3,19.5 L171.0,21.4 L169.2,22.8 L168.2,23.7 L167.6,26.3 L167.3,27.5 L168.1,28.1 L167.3,29.7 L168.7,31.0 L170.0,30.2 L170.7,30.5 L171.2,31.6 L169.2,32.7 L168.4,32.6 L167.0,33.7 L165.8,34.6 L162.7,35.6 L160.6,37.5 L164.9,35.5 L166.1,35.6 L163.2,37.7 L160.3,39.2 L160.1,39.8 L160.5,41.2 L159.9,44.6 L158.6,46.7 L158.0,45.7 L156.3,44.8 L156.9,45.9 L158.3,47.4 L158.8,49.2 L158.4,51.2 L157.1,54.9 L157.2,55.9 L158.1,57.4 L160.2,62.4 L157.4,65.8 L153.2,69.9 L150.0,71.1 L147.3,75.7 L144.3,79.2 L143.1,83.2 L143.6,86.5 L144.3,88.3 L145.8,91.1 L148.0,93.9 L149.3,97.3 L151.1,100.8 L151.4,104.7 L150.9,106.8 L148.2,108.0 L147.1,106.1 L144.9,104.3 L143.9,102.8 L142.9,101.3 L141.1,99.6 L140.4,98.3 L140.0,97.0 L139.8,94.5 L138.4,92.4 L136.1,89.9 L133.8,89.2 L131.1,91.2 L129.8,91.3 L128.3,89.6 L125.3,88.7 L122.8,89.1 L120.0,89.8 L116.0,89.6 L114.2,90.4 L114.6,91.2 L115.9,93.3 L116.7,94.7 L115.3,95.6 L113.0,95.1 L112.6,94.7 L110.1,95.5 L108.2,94.6 L106.4,93.8 L105.6,93.4 L103.4,93.5 L98.8,93.2 L95.4,95.0 L93.6,96.5 L91.0,97.9 L89.5,98.6 L86.5,101.3 L86.1,104.6 L86.6,109.0 L85.3,109.2 L82.6,108.3 L82.3,107.9 L77.9,102.3 L74.4,97.1 L73.1,94.3 L71.3,92.5 L67.7,92.1 L66.5,92.9 L65.3,95.3 L64.2,95.2 L61.7,93.3 L60.3,92.6 L59.4,90.6 L56.9,87.0 L53.7,82.4 L47.7,81.8 L47.5,83.6 L37.3,82.2 L25.2,75.0 L25.7,74.1 L17.2,73.1 L16.9,72.3 L16.9,70.2 L16.1,68.9 L14.0,67.1 L13.9,66.0 L12.0,65.1 L10.3,63.4 L7.8,62.5 L7.3,61.8 L8.1,59.7 L7.5,58.4 L6.5,56.8 L5.2,53.6 L5.5,52.4 L5.6,50.9 L4.6,48.2 L4.9,47.0 L3.6,45.7 L3.8,44.4 L2.6,41.2 L3.2,37.6 L2.3,34.5 L3.3,33.2 L4.5,30.5 L4.5,29.4 L4.8,28.4 L4.8,24.6 L6.3,22.6 L7.6,20.4 L8.5,18.0 L9.8,14.4 L10.7,11.6 L10.9,9.9 L11.1,8.3 L11.3,5.3Z" fill="#f6f4d8"/><g clip-path="url(#us)" filter="url(#bl)" fill="none" stroke-linecap="round"><path stroke="#ffd700" stroke-width="1.5" stroke-opacity="0.5" d="M129.5 55.7h0M140.8 55.2h0M148.0 71.3h0M103.6 67.5h0M91.1 64.7h0M104.1 67.8h0M94.7 58.8h0M143.2 62.3h0M107.9 88.7h0M152.8 41.9h0M143.1 72.0h0M146.1 60.8h0M116.0 76.1h0M129.4 34.7h0M151.5 54.6h0M138.5 84.7h0M116.1 40.5h0M129.1 43.7h0M130.0 68.6h0M126.5 66.8h0M135.2 58.9h0M147.7 67.1h0M125.7 68.6h0M149.8 71.5h0M113.0 30.5h0M96.1 22.1h0M130.6 62.4h0M90.0 94.1h0M144.2 77.1h0M78.9 16.9h0M136.6 46.9h0M121.8 49.6h0M145.4 90.7h0M142.1 69.9h0M126.5 69.3h0M122.3 63.0h0M153.4 49.8h0M147.0 56.0h0M157.3 26.2h0M144.5 76.4h0M122.5 64.9h0M161.7 33.2h0M140.0 74.7h0M138.3 44.5h0M134.9 50.0h0M131.5 56.7h0M97.6 38.5h0M149.7 64.2h0M140.1 45.3h0M113.5 79.6h0M113.1 33.7h0M116.1 44.7h0M142.5 61.8h0M109.4 35.8h0M115.2 66.8h0M137.1 43.3h0M142.5 70.7h0M117.1 47.7h0M144.2 76.9h0M81.5 98.9h0M90.7 74.8h0M154.8 23.4h0M136.8 73.3h0M156.0 37.0h0M101.7 46.1h0M123.6 54.1h0M137.6 74.3h0M119.9 59.5h0M151.5 67.4h0M152.6 39.0h0M135.2 76.4h0M137.0 74.6h0M133.9 66.4h0M114.5 38.8h0M91.1 83.2h0M112.7 94.6h0M106.9 75.9h0M7.5 46.8h0M97.6 36.7h0M132.6 56.0h0M122.9 75.3h0M117.4 54.0h0M127.0 43.0h0M147.1 70.6h0M150.3 42.9h0M149.8 62.0h0M117.2 41.2h0M146.6 72.7h0M143.6 76.6h0M18.6 60.1h0M122.5 76.7h0M143.9 68.2h0M96.4 49.4h0M123.7 36.5h0M120.5 73.7h0M153.3 33.7h0M109.5 25.5h0M95.5 72.0h0M88.8 37.4h0M109.7 40.8h0M142.6 53.6h0M157.5 36.6h0M109.2 90.3h0M149.2 51.0h0M131.9 77.9h0M113.0 40.3h0M144.9 100.0h0M134.3 85.9h0M144.3 66.4h0M137.0 51.8h0M123.8 34.1h0M129.6 71.8h0M143.1 62.1h0M132.1 71.3h0M127.6 36.4h0M133.5 58.4h0M124.2 61.5h0M89.2 81.4h0M157.3 39.1h0M88.6 23.6h0M126.4 61.4h0M161.8 30.0h0M74.7 69.8h0M112.8 45.7h0M120.7 73.8h0M84.7 82.4h0M86.3 108.9h0M132.1 81.2h0M140.1 61.1h0M78.9 89.5h0M82.1 44.9h0M135.3 73.2h0M152.6 27.4h0M133.7 74.9h0M122.2 70.5h0M142.1 64.9h0M88.2 13.9h0M111.0 49.6h0M119.6 59.6h0M98.3 81.7h0M101.6 73.2h0M127.0 49.8h0M119.5 79.3h0M125.5 49.4h0M154.2 45.0h0M107.7 48.5h0M104.7 55.8h0M125.4 61.7h0M123.2 62.3h0M139.9 94.5h0M146.2 70.7h0M154.4 41.6h0M121.7 58.8h0M149.4 62.6h0M110.0 44.4h0M121.2 62.3h0M101.8 47.3h0M135.0 83.4h0M81.1 77.7h0M110.3 56.9h0M122.7 69.6h0M138.3 53.4h0M89.4 37.8h0M87.0 21.1h0M132.6 63.8h0M83.3 105.4h0M133.8 71.1h0M128.9 80.2h0M122.8 63.4h0M140.4 67.5h0M141.3 78.5h0M132.7 55.4h0M100.9 44.0h0M126.2 47.0h0M154.7 38.4h0M100.1 81.0h0M138.6 83.9h0M107.9 60.2h0M138.8 39.6h0M141.8 51.2h0M125.3 50.6h0M120.7 39.1h0M106.7 86.2h0M142.2 47.3h0M141.7 58.2h0M128.5 36.2h0M124.6 51.9h0M122.6 45.0h0M160.5 30.0h0M117.4 68.7h0M121.8 66.3h0M124.0 54.4h0M132.3 67.1h0M153.1 47.9h0M140.1 67.8h0M150.3 38.1h0M129.2 48.2h0M130.7 61.9h0M116.8 74.9h0M111.8 61.3h0M152.0 65.8h0M138.3 64.9h0M121.6 56.6h0M133.6 85.2h0M97.0 38.7h0M130.3 46.1h0M126.0 64.7h0M135.4 76.0h0M147.9 38.6h0M96.3 26.1h0M126.0 69.4h0M85.7 56.0h0M143.8 46.0h0M151.6 50.0h0M121.6 59.7h0M146.3 54.1h0M146.4 53.6h0M158.3 47.9h0M116.0 71.4h0M81.8 87.3h0M152.3 65.6h0M133.1 56.4h0M166.3 20.8h0M126.4 69.2h0M137.2 58.7h0M142.2 74.2h0M128.3 49.6h0M135.2 63.7h0M97.8 75.9h0M129.5 79.8h0M146.8 63.3h0M125.6 51.2h0M140.1 73.7h0M154.3 45.2h0M148.5 59.0h0M97.4 75.8h0M146.0 70.5h0M110.7 57.0h0M135.1 60.6h0M126.6 66.1h0M135.9 67.7h0M136.9 61.6h0M146.7 42.7h0M136.4 41.6h0M146.2 73.2h0M136.5 44.8h0M120.0 78.1h0M130.1 73.6h0M102.5 17.6h0M95.8 25.5h0M96.4 24.0h0M87.0 65.2h0M150.8 50.9h0M136.4 72.0h0M133.9 43.9h0M126.7 38.5h0M124.6 48.9h0M44.0 18.3h0M142.1 74.5h0M125.0 53.4h0M141.2 68.4h0M86.5 59.0h0M83.6 96.3h0M148.3 97.7h0M121.2 85.6h0M122.7 45.7h0M158.6 32.7h0M126.6 53.9h0M116.6 69.9h0M90.6 63.3h0M146.6 71.8h0M80.4 51.7h0M149.0 40.3h0M138.1 59.5h0M111.2 50.5h0M96.8 62.8h0M129.4 57.9h0M132.7 76.3h0M3.4 37.2h0M139.3 50.1h0M116.7 75.8h0M129.9 57.1h0M166.8 29.7h0M136.7 65.3h0M150.4 42.4h0M119.8 47.2h0M136.5 69.3h0M155.9 40.5h0M150.3 32.8h0M89.8 44.8h0M127.8 72.2h0M134.7 47.8h0M91.1 39.3h0M86.9 77.4h0M108.1 52.6h0M108.7 77.5h0M144.5 62.4h0M123.3 62.4h0M119.2 48.5h0M150.9 69.8h0M150.4 43.5h0M119.6 77.7h0M135.3 72.3h0M144.8 63.4h0M138.6 92.2h0M90.3 36.0h0M126.9 79.2h0M90.1 55.0h0M142.4 91.9h0M95.7 70.2h0M102.0 28.0h0M157.7 62.4h0M126.6 72.4h0M134.8 40.6h0M148.7 35.3h0M124.7 51.1h0M91.3 41.8h0M151.7 64.1h0M114.8 94.5h0M153.6 33.7h0M159.8 41.0h0M113.9 42.5h0M114.1 57.9h0M107.2 27.9h0M152.7 36.5h0M134.5 64.6h0M122.2 49.2h0M102.6 81.8h0M81.2 96.3h0M151.6 64.5h0M148.1 71.7h0M99.1 58.8h0M135.8 84.6h0M119.3 85.4h0M80.4 103.1h0M145.6 41.0h0M121.6 78.0h0M129.6 72.9h0M56.9 73.5h0M125.1 42.8h0M129.6 46.2h0M86.1 99.5h0M124.0 70.0h0M85.4 52.3h0M156.3 46.4h0M155.0 45.1h0M149.1 63.0h0M137.0 70.7h0M129.4 81.7h0M107.6 40.4h0M156.5 55.5h0M117.9 75.2h0M90.7 77.1h0M112.3 63.8h0M127.7 41.3h0M110.7 56.8h0M108.7 93.5h0M89.5 69.2h0M117.1 76.9h0M147.3 49.1h0M132.2 72.0h0M98.2 15.4h0M145.4 53.2h0M137.7 69.6h0M130.8 61.8h0M134.8 89.1h0M128.7 80.0h0M125.5 37.4h0M110.0 69.7h0M111.4 65.4h0M136.1 47.6h0M84.8 91.2h0M130.4 62.1h0M117.2 69.9h0M89.4 44.9h0M109.9 54.6h0M139.2 62.7h0M135.2 56.0h0M90.5 94.7h0M156.2 50.6h0M125.4 72.7h0M127.2 50.0h0M126.3 54.0h0M147.9 54.0h0M153.2 42.9h0M129.4 47.3h0M151.6 62.9h0M138.2 82.2h0M124.3 72.8h0M123.3 27.3h0M138.1 87.0h0M82.7 53.6h0M138.8 51.1h0M115.6 50.0h0M116.4 25.4h0M96.0 58.6h0M118.2 72.4h0M141.0 58.3h0M109.2 78.4h0M127.7 47.4h0M156.6 41.5h0M113.2 85.6h0M125.9 88.6h0M94.1 78.4h0M144.8 103.9h0M150.8 51.3h0M125.2 77.1h0M145.5 48.5h0M142.4 81.6h0M131.1 70.7h0M133.1 40.9h0M152.5 41.7h0M140.9 96.0h0M148.4 60.3h0M168.1 32.7h0M103.6 83.9h0M86.8 54.2h0M134.1 66.5h0M148.9 39.2h0M111.7 58.5h0M136.8 49.9h0M123.0 71.2h0M133.1 59.2h0M148.1 54.6h0M149.8 55.7h0M137.1 68.3h0M163.6 25.6h0M153.1 44.7h0M144.4 41.8h0M153.2 59.4h0M139.5 63.6h0M146.9 68.4h0M151.3 27.9h0M156.8 28.3h0M111.6 79.0h0M137.4 69.7h0M137.4 65.7h0M117.9 62.6h0M130.5 50.7h0M133.5 83.6h0M147.1 64.7h0M113.7 48.0h0M144.4 58.3h0M126.5 61.5h0M133.6 60.5h0M105.5 90.5h0M108.8 70.5h0M131.2 68.7h0M142.3 69.0h0M167.5 26.3h0M154.8 56.8h0M145.1 74.4h0M107.8 55.8h0M128.2 37.9h0M151.3 41.5h0M80.9 51.3h0M146.6 60.8h0M148.2 102.0h0M128.1 84.8h0M112.4 83.0h0M138.5 49.2h0M150.2 66.7h0M37.2 45.3h0M127.1 63.4h0M123.7 67.8h0M137.6 69.1h0M144.1 39.9h0M135.7 54.4h0M106.5 40.1h0M128.2 39.0h0M130.0 53.1h0M128.9 50.0h0M110.4 50.3h0M145.5 63.5h0M152.3 61.6h0M144.4 43.3h0M113.7 65.0h0M121.9 74.3h0M155.9 33.7h0M139.3 92.5h0M141.4 43.7h0M132.9 47.4h0M86.7 58.9h0M139.6 46.9h0M135.6 73.9h0M86.0 44.2h0M124.3 37.0h0M152.3 54.6h0M141.3 89.4h0M145.3 58.7h0M126.6 75.8h0M141.0 56.1h0M141.7 66.4h0M129.8 72.6h0M140.0 46.6h0M88.4 30.5h0M140.5 56.8h0M140.1 65.1h0M143.4 68.8h0M136.3 51.8h0M161.6 24.7h0M105.9 37.9h0M22.0 65.1h0M150.9 61.2h0M134.1 86.9h0M125.2 45.3h0M109.6 95.0h0M96.2 48.1h0M112.9 40.4h0M110.8 52.4h0M134.7 77.6h0M104.9 80.7h0M108.3 30.8h0M137.0 42.7h0M113.0 59.1h0M132.7 74.8h0M130.8 48.5h0M116.9 43.8h0M150.0 59.0h0M134.6 85.2h0M139.6 84.4h0M122.4 54.0h0M90.0 82.4h0M102.9 85.7h0M136.9 49.7h0M141.5 85.4h0M140.3 77.9h0M130.0 49.3h0M110.8 29.0h0M140.2 47.7h0M127.6 43.6h0M127.5 39.4h0M137.5 48.2h0M138.9 64.2h0M36.7 68.5h0M17.3 67.6h0M128.3 67.5h0M151.6 69.2h0M137.0 52.9h0M28.9 72.2h0M132.7 67.3h0M150.2 71.0h0M139.3 70.6h0M143.6 58.8h0M152.5 33.9h0M146.5 104.8h0M96.1 51.0h0M138.9 70.2h0M104.1 83.9h0M157.5 35.7h0M126.9 58.3h0M136.6 64.3h0M128.6 35.5h0M155.5 38.7h0M117.3 76.9h0M124.4 57.2h0M103.6 75.1h0M130.6 32.1h0M114.6 53.1h0M143.9 73.2h0M157.2 40.7h0M157.0 28.0h0M111.0 34.3h0M99.1 81.2h0M105.2 36.5h0M133.0 80.4h0M145.9 76.0h0M132.6 73.5h0M110.3 76.5h0M123.7 58.2h0M124.5 32.8h0M103.2 48.6h0M142.0 70.4h0M158.3 21.3h0M130.1 59.9h0M95.4 90.6h0M137.4 59.8h0M144.3 38.7h0M111.2 46.5h0M147.4 68.7h0M94.4 56.4h0M142.5 82.8h0M140.0 65.5h0M135.4 76.1h0M141.0 90.1h0M143.6 91.8h0M137.1 57.5h0M150.5 37.6h0M124.1 58.6h0M89.0 76.8h0M127.8 66.8h0M165.2 34.6h0M89.4 46.3h0M13.1 24.1h0M89.7 80.4h0M136.5 67.5h0M153.3 33.9h0M110.7 79.6h0M153.7 62.2h0M141.7 41.2h0M127.7 52.9h0M88.7 62.0h0M100.5 83.1h0M135.4 66.9h0M77.9 69.6h0M127.2 70.9h0M140.9 95.7h0M117.4 54.9h0M113.1 30.6h0M83.8 94.4h0M104.4 32.0h0M126.2 47.8h0M139.7 53.9h0M146.7 36.8h0M132.3 59.5h0M150.6 69.7h0M137.6 55.1h0M122.4 66.1h0M107.1 28.7h0M115.7 57.7h0M125.5 84.3h0M145.4 72.5h0M123.2 43.7h0M138.1 83.9h0M126.8 69.0h0M85.0 89.6h0M147.8 44.2h0M137.2 45.7h0M148.8 40.4h0M102.6 63.5h0M152.9 57.1h0M127.4 46.9h0M82.1 48.3h0M140.5 40.5h0M159.5 41.7h0M92.2 27.6h0M149.7 50.4h0M29.8 71.5h0M115.5 87.1h0M86.5 36.1h0M149.4 102.8h0M145.3 69.1h0M132.7 68.2h0M81.4 101.1h0M162.0 23.6h0M135.6 80.0h0M112.9 38.7h0M138.9 70.8h0M150.5 62.3h0M140.8 63.7h0M105.4 33.2h0M145.4 48.4h0M140.6 56.8h0M139.8 85.6h0M95.7 58.8h0M113.4 77.1h0M124.9 62.0h0M139.8 41.0h0M150.3 32.9h0M116.7 64.2h0M130.4 79.5h0M159.0 42.0h0M138.8 50.7h0M135.7 63.3h0M144.2 74.5h0M157.5 51.6h0M128.2 71.7h0M144.4 95.4h0M154.1 54.2h0M162.5 37.5h0M96.5 80.4h0M143.2 62.2h0M153.1 37.4h0M121.1 43.7h0M118.0 73.6h0M147.9 45.9h0M21.1 73.0h0M127.7 68.1h0M138.0 41.9h0M129.6 57.7h0M112.0 44.1h0M155.7 53.4h0M96.8 92.1h0M151.0 56.6h0M141.2 61.6h0M136.9 73.2h0M126.6 87.0h0M96.3 81.5h0M141.7 51.9h0M146.6 63.9h0M100.6 63.3h0M152.9 68.9h0M101.0 88.8h0M96.6 56.9h0M99.2 88.0h0M135.2 56.9h0M142.1 69.2h0M130.5 88.7h0M118.3 50.7h0M153.8 49.4h0M128.7 37.8h0M146.5 60.9h0M135.7 70.0h0M120.3 45.2h0M100.3 25.3h0M80.1 77.5h0M141.1 80.9h0M138.9 66.5h0M125.6 73.9h0M155.6 47.1h0M91.6 55.9h0M137.1 39.5h0M164.3 36.4h0M154.9 42.6h0M78.6 96.5h0M142.1 49.4h0M150.0 38.0h0M112.6 32.7h0M149.3 68.0h0M93.7 84.0h0M91.8 54.1h0M155.2 42.6h0M127.3 40.1h0M131.4 60.1h0M151.7 64.8h0M119.2 49.2h0M143.7 44.0h0M147.9 103.8h0M122.3 35.2h0M138.2 63.4h0M131.8 83.4h0M124.2 37.6h0M104.5 45.6h0M76.2 78.0h0M127.1 71.8h0M104.8 48.6h0M138.3 66.2h0M91.2 89.9h0M106.5 42.2h0M79.2 86.0h0M131.0 45.8h0M87.6 78.8h0M136.4 42.9h0M149.4 42.2h0M135.8 61.8h0M122.9 58.1h0M161.1 34.8h0M160.9 26.9h0M138.6 46.3h0M143.1 68.8h0M39.6 75.1h0M127.1 37.5h0M158.8 60.6h0M128.1 79.0h0M142.5 92.3h0M143.0 99.2h0M126.9 43.9h0M118.8 63.5h0M127.6 85.2h0M115.6 39.1h0M115.6 65.2h0M138.2 46.7h0M156.8 57.6h0M139.1 43.7h0M154.2 56.5h0M151.0 63.9h0M150.8 54.6h0M141.9 89.9h0M89.0 79.8h0M122.4 59.8h0M143.6 35.1h0M126.8 51.7h0M128.7 76.5h0M113.8 90.7h0M82.2 92.0h0M105.9 70.8h0M98.2 89.6h0M116.8 70.3h0M141.4 47.9h0M110.6 85.6h0M151.6 40.0h0M158.9 46.1h0M99.5 50.1h0M132.0 40.8h0M141.7 72.9h0M101.8 38.0h0M18.0 11.3h0M125.1 71.2h0M121.3 73.7h0M135.8 46.9h0M156.1 59.9h0M143.6 71.5h0M114.9 74.8h0M125.1 76.3h0M131.7 68.1h0M123.9 69.8h0M139.3 48.1h0M86.9 53.6h0M147.3 54.5h0M123.4 64.4h0M110.0 68.4h0M87.8 87.4h0M93.6 66.7h0M49.5 27.4h0M122.0 81.2h0M167.6 19.2h0M8.1 46.9h0M153.9 38.1h0M119.5 54.8h0M148.0 33.5h0M118.1 51.4h0M153.5 66.9h0M144.5 68.4h0M124.8 39.8h0M129.4 70.4h0M126.6 64.6h0M134.4 72.0h0M135.8 70.9h0M105.6 42.2h0M132.0 59.3h0M130.2 43.7h0M141.8 76.5h0M134.6 78.9h0M153.2 52.8h0M93.2 93.2h0M93.3 88.7h0M102.8 18.0h0M114.9 86.4h0M131.5 61.4h0M85.5 85.8h0M167.4 33.1h0M119.6 54.4h0M156.4 48.0h0M154.1 68.3h0M132.9 53.9h0M144.1 63.3h0M131.2 51.0h0M90.6 91.0h0M133.4 79.3h0M120.3 32.3h0M129.7 60.9h0M118.4 81.3h0M107.8 37.5h0M139.6 62.9h0M124.8 44.5h0M132.4 76.0h0M135.7 70.4h0M122.6 68.3h0M135.2 47.4h0M147.5 58.5h0M167.8 30.5h0M132.4 48.0h0M123.1 88.2h0M150.1 38.0h0M125.5 51.8h0M98.1 82.1h0M144.2 100.5h0M108.8 55.5h0M124.5 41.7h0M118.5 43.7h0M118.8 45.6h0M118.0 69.9h0M137.3 55.5h0M100.2 58.3h0M123.9 56.6h0M86.1 62.2h0M126.7 74.3h0M147.7 55.3h0M141.5 95.9h0M133.1 53.1h0M140.1 77.6h0M122.8 78.6h0M107.5 57.8h0M121.5 70.3h0M158.0 58.9h0M111.3 49.7h0M144.2 99.7h0M99.4 84.6h0M129.2 53.5h0M124.4 64.5h0M146.2 60.6h0M143.2 75.6h0M143.8 73.3h0M104.9 43.4h0M150.4 63.8h0M154.8 44.0h0M144.3 47.8h0M127.0 88.8h0M136.0 69.2h0M88.5 57.0h0M145.4 75.6h0M132.5 60.2h0M151.9 41.2h0M150.9 62.6h0M110.7 43.3h0M115.1 30.2h0M150.4 70.4h0M121.8 51.1h0M155.0 36.0h0M164.4 19.7h0M141.5 47.9h0M128.6 36.1h0M104.2 15.7h0M137.2 45.3h0M111.5 47.0h0M94.9 92.4h0M129.0 36.7h0M149.4 48.4h0M151.3 41.2h0M90.6 71.1h0M92.0 50.5h0M106.3 44.0h0M136.9 63.7h0M60.5 60.7h0M146.4 42.7h0M151.6 62.3h0M137.6 61.4h0M158.7 61.0h0M115.8 42.0h0M143.7 44.7h0M160.4 31.2h0M131.8 70.6h0M99.6 56.0h0M134.8 64.9h0M123.5 73.8h0M125.5 52.7h0M147.2 98.0h0M123.2 66.2h0M127.0 43.7h0M138.1 38.4h0M145.7 47.5h0M150.9 51.1h0M131.1 80.3h0M151.0 59.2h0M144.6 102.0h0M147.3 54.5h0M82.0 68.2h0M147.5 31.1h0M144.8 62.8h0M87.9 86.4h0M138.5 83.4h0M123.6 78.0h0M148.5 53.4h0M136.4 65.9h0M151.9 33.4h0M150.6 51.6h0M109.7 56.6h0M152.8 61.8h0M111.4 92.7h0M132.1 41.9h0M135.0 65.2h0M129.7 69.5h0M146.5 62.7h0M144.8 100.2h0M138.7 57.8h0M146.0 97.6h0M150.9 59.8h0M154.4 60.3h0M150.4 40.9h0M137.6 65.5h0M119.7 51.5h0M93.9 20.2h0M120.6 64.1h0M141.5 43.3h0M155.5 53.6h0M149.1 36.4h0M121.8 58.5h0M142.3 51.5h0M124.6 51.9h0M139.4 41.4h0M156.6 42.8h0M131.6 62.6h0M129.9 41.7h0M93.3 92.2h0M105.7 50.5h0M102.8 84.4h0M94.0 50.2h0M92.0 77.4h0M123.8 78.3h0M118.0 77.8h0M136.8 72.0h0M133.0 43.4h0M139.3 63.7h0M132.0 63.8h0M157.1 36.7h0M129.5 70.8h0M108.9 39.9h0M130.3 46.1h0M143.3 58.3h0M134.5 86.0h0M128.9 53.2h0M120.9 53.7h0M115.8 75.0h0M18.1 2.5h0M140.6 41.6h0M136.8 55.1h0M97.1 58.4h0M146.8 61.5h0M126.7 64.0h0M156.8 53.9h0M136.3 72.4h0M146.8 63.6h0M147.3 72.6h0M120.7 81.2h0M132.6 64.7h0M84.6 101.5h0M135.4 61.2h0M137.8 59.2h0M101.8 80.2h0M138.2 66.3h0M145.9 92.4h0M147.7 72.1h0M130.0 44.0h0M119.3 44.0h0M132.9 43.9h0M113.6 94.2h0M128.9 49.6h0M151.2 59.5h0M153.0 44.6h0M84.5 43.1h0M87.4 70.7h0M135.4 79.1h0M129.5 75.1h0M85.6 58.7h0M140.6 65.3h0M105.5 42.0h0M131.4 61.9h0M156.9 38.9h0M114.8 48.8h0M142.4 48.5h0M20.3 5.1h0M112.4 37.3h0M145.0 54.1h0M100.9 43.4h0M112.1 48.6h0M156.6 42.1h0M134.5 68.0h0M143.2 88.4h0M138.2 73.1h0M94.5 62.8h0M114.2 25.7h0M145.9 97.6h0M119.9 73.3h0M152.2 45.1h0M131.9 67.7h0M113.7 55.7h0M106.5 88.7h0M114.1 70.1h0M146.1 63.6h0M124.3 67.7h0M154.0 54.3h0M148.1 56.4h0M134.2 63.1h0M147.1 73.3h0M139.0 55.4h0M129.0 51.4h0M115.0 93.2h0M103.0 33.3h0M150.9 63.1h0M134.8 72.2h0M130.0 66.7h0M101.1 80.7h0M92.3 55.8h0M132.3 48.7h0M145.0 76.7h0M138.2 77.2h0M139.2 61.2h0M140.3 71.1h0M87.4 36.7h0M142.2 83.0h0M145.3 54.6h0M152.1 52.4h0M76.9 92.3h0M113.3 82.0h0M126.5 61.8h0M145.9 99.0h0M140.6 42.9h0M86.0 47.4h0M165.9 23.5h0M152.0 68.5h0M150.0 100.9h0M131.8 55.4h0M93.4 46.3h0M147.4 106.3h0M131.0 64.1h0M148.1 47.9h0M140.9 52.3h0M150.0 43.7h0M141.2 67.6h0M22.8 16.7h0M143.0 70.0h0M132.0 66.7h0M155.7 44.7h0M127.6 87.1h0M156.0 43.3h0M145.0 34.9h0M122.8 88.1h0M104.1 28.2h0M93.3 54.8h0M151.7 58.3h0M142.4 79.0h0M139.7 43.5h0M149.0 71.1h0M149.7 63.7h0M141.6 62.6h0M144.2 94.7h0M97.7 47.3h0M93.4 96.4h0M145.6 65.7h0M124.8 86.9h0M121.8 65.4h0M153.3 65.2h0M140.8 58.0h0M92.6 96.2h0M124.4 40.3h0M140.2 49.9h0M121.2 60.8h0M17.6 33.1h0M111.8 42.5h0M144.5 60.9h0M146.4 95.4h0M107.9 36.7h0M141.2 50.0h0M128.3 66.1h0M108.9 54.2h0M86.3 23.4h0M124.7 75.5h0M153.3 40.6h0M109.5 79.7h0M122.6 52.8h0M148.9 67.9h0M156.5 48.5h0M142.1 73.0h0M126.5 58.3h0M116.2 52.9h0M138.7 71.8h0M127.7 69.7h0M122.3 49.4h0M134.7 74.1h0M129.6 55.0h0M134.3 46.8h0M151.1 40.9h0M145.7 60.0h0M134.8 54.5h0M141.3 38.8h0M91.3 33.6h0M82.3 58.5h0M110.4 65.5h0M128.7 58.5h0M141.4 69.3h0M137.9 42.5h0M133.5 46.2h0M150.1 52.4h0M114.0 77.0h0M150.7 59.4h0M153.0 66.4h0M96.9 81.4h0M149.5 99.7h0M111.6 58.6h0M96.3 93.6h0M83.7 97.2h0M145.1 41.4h0M124.5 37.3h0M127.1 54.9h0M143.2 89.6h0M118.7 41.5h0M84.4 76.3h0M126.2 34.7h0M143.9 90.6h0M117.0 58.1h0M120.5 79.2h0M130.6 67.4h0M154.3 44.1h0M152.5 63.4h0M124.1 78.6h0M120.4 44.2h0M144.8 72.5h0M99.5 52.7h0M140.3 83.6h0M92.5 78.2h0M116.0 57.4h0M147.5 74.7h0M120.5 63.6h0M160.0 27.4h0M110.0 68.9h0M144.2 74.8h0M142.5 65.4h0M137.0 50.6h0M122.6 50.6h0M117.2 52.2h0M114.6 83.3h0M98.4 51.8h0M10.7 63.2h0M132.6 88.5h0M87.8 91.9h0M83.3 103.2h0M122.3 20.5h0M101.2 36.1h0M158.7 37.0h0M146.7 59.2h0M98.4 71.8h0M106.5 35.4h0M88.6 80.7h0M78.2 23.7h0M90.9 45.1h0M159.1 27.3h0M164.4 23.2h0M151.5 68.2h0M112.6 59.8h0M142.7 86.3h0M167.8 14.2h0M145.7 51.1h0M108.8 87.6h0M122.6 62.3h0M160.9 35.3h0M147.8 66.3h0M87.9 91.1h0M90.8 70.0h0M89.6 87.5h0M140.5 58.8h0M115.2 44.6h0M109.7 23.9h0M114.8 88.5h0M126.6 56.8h0M97.1 80.9h0M90.4 59.8h0M140.1 41.1h0M124.2 52.7h0M108.7 33.8h0M146.5 97.3h0M126.9 56.8h0M106.7 91.2h0M96.0 45.2h0M97.4 90.4h0M134.2 64.2h0M115.3 31.9h0M99.2 62.4h0M92.9 35.0h0M109.8 47.3h0M111.3 43.1h0M110.1 41.8h0M127.7 39.6h0M125.3 53.7h0M91.7 82.3h0M116.3 38.1h0M152.2 60.6h0M90.8 48.9h0M145.4 46.6h0M86.6 31.5h0M128.7 74.2h0M124.0 34.6h0M107.9 78.1h0M103.1 86.2h0M112.7 43.7h0M136.2 77.7h0M145.6 53.2h0M129.2 54.8h0M152.6 43.5h0M131.6 76.6h0M127.5 74.3h0M116.8 73.0h0M131.5 86.3h0M121.8 40.0h0M154.1 51.9h0M152.6 68.9h0M150.7 48.6h0M151.6 45.9h0M128.7 43.6h0M132.6 88.8h0M128.9 38.1h0M122.4 66.2h0M97.2 77.1h0M91.6 82.7h0M129.5 74.2h0M140.5 98.2h0M78.9 82.4h0M114.4 41.9h0M112.4 51.0h0M164.0 36.2h0M151.8 25.7h0M147.3 101.6h0M130.7 65.6h0M133.4 61.1h0M119.9 83.7h0M150.7 68.8h0M139.8 67.5h0M91.0 72.6h0M113.6 46.8h0M143.0 66.1h0M116.3 71.6h0M130.6 59.2h0M121.5 28.3h0M159.3 28.2h0M133.4 47.1h0M154.7 50.0h0M112.1 19.0h0M139.4 73.5h0M120.6 72.7h0M153.9 64.5h0M132.2 42.7h0M121.9 68.8h0M140.6 89.8h0M134.1 69.1h0M106.0 75.2h0M146.5 64.6h0M125.4 84.0h0M144.8 63.9h0M121.6 35.6h0M119.6 54.3h0M145.7 92.6h0M123.6 65.6h0M123.4 71.8h0M136.7 57.6h0M144.4 42.7h0M120.5 86.9h0M163.4 31.6h0M151.0 100.9h0M148.6 50.3h0M126.2 76.5h0M107.4 36.4h0M146.7 100.5h0M111.8 83.3h0M111.3 86.6h0M151.2 62.3h0M157.1 53.1h0M114.5 21.6h0M115.1 56.3h0M146.8 34.7h0M120.6 39.1h0M110.3 85.5h0M134.4 41.7h0M156.3 49.2h0M84.9 84.7h0M119.8 46.5h0M96.1 47.0h0M99.8 86.3h0M98.8 26.2h0M134.6 41.4h0M149.2 66.7h0M157.7 49.6h0M150.2 104.9h0M147.5 34.3h0M133.4 79.2h0M132.7 42.1h0M123.4 59.1h0M124.6 55.3h0M38.7 8.7h0M117.1 78.2h0M83.6 84.2h0M96.7 60.5h0M135.8 49.5h0M121.3 72.7h0M105.8 45.3h0M121.1 30.3h0M116.2 51.0h0M130.7 34.1h0M147.6 34.1h0M149.8 63.6h0M132.2 78.3h0M146.6 56.6h0M127.1 29.4h0M134.0 64.8h0M135.1 89.3h0M154.4 57.5h0M152.7 59.6h0M129.6 42.7h0M130.4 32.7h0M129.3 31.1h0M143.0 54.9h0M137.9 59.2h0M93.2 86.9h0M109.0 67.4h0M153.6 40.2h0M113.1 35.6h0M83.0 52.3h0M135.9 69.7h0M152.2 68.8h0M118.2 48.1h0M112.2 32.9h0M104.6 66.2h0M131.7 61.7h0M115.7 73.2h0M154.6 42.1h0M103.0 90.8h0M145.2 32.8h0M142.9 42.9h0M144.0 49.4h0M150.2 37.7h0M105.7 48.9h0M142.1 67.4h0M85.6 80.9h0M144.0 95.9h0M100.4 39.7h0M107.6 53.2h0M86.6 77.2h0M127.9 70.3h0M131.5 47.9h0M152.9 58.5h0M143.3 64.1h0M149.3 54.5h0M118.0 87.8h0M127.3 69.9h0M127.5 49.2h0M120.3 71.9h0M146.5 73.4h0M106.6 33.8h0M128.1 54.4h0M150.0 57.2h0M141.5 93.6h0M88.4 96.5h0M130.4 82.4h0M120.3 49.1h0M99.2 49.6h0M95.6 22.9h0M134.5 73.2h0M12.9 12.1h0M142.6 40.2h0M159.2 41.1h0M133.8 88.2h0M117.1 55.1h0M129.4 67.6h0M147.3 43.9h0M21.0 31.8h0M90.3 95.9h0M131.4 47.1h0M118.9 67.3h0M101.6 50.4h0M144.2 40.4h0M141.4 59.0h0M138.1 60.4h0M129.7 63.7h0M91.4 82.7h0M130.2 68.5h0M123.6 52.8h0M138.5 41.9h0M83.2 106.1h0M146.2 54.7h0M155.8 47.6h0M140.7 59.2h0M149.8 47.0h0M143.5 86.4h0M145.7 40.4h0M121.2 78.7h0M128.1 61.0h0M146.5 69.2h0M111.6 71.5h0M98.9 61.2h0M151.1 66.1h0M126.2 68.6h0M131.1 73.7h0M110.1 61.5h0M155.9 41.5h0M133.3 53.4h0M113.9 84.7h0M140.9 65.8h0M124.2 45.2h0M150.5 56.1h0M113.5 82.5h0M138.4 82.7h0M88.5 80.5h0M127.3 65.4h0M113.7 89.4h0M142.0 66.0h0M112.3 57.7h0M138.1 64.6h0M119.0 72.2h0M142.8 64.2h0M131.9 70.1h0M91.1 53.7h0M99.2 62.1h0M91.1 32.6h0M118.9 41.9h0M97.1 50.8h0M153.1 56.5h0M28.5 59.8h0M151.3 56.1h0M138.3 63.6h0M153.8 47.0h0M127.6 58.0h0M139.8 42.6h0M115.2 72.5h0M141.5 73.0h0M140.0 93.0h0M16.7 57.5h0M93.0 44.5h0M145.8 65.9h0M105.3 82.1h0M82.8 53.3h0M86.2 42.6h0M146.6 103.3h0M111.8 29.5h0M136.1 57.2h0M106.0 78.1h0M135.2 47.6h0M128.1 68.6h0M146.0 54.3h0M112.3 80.0h0M131.1 55.6h0M87.0 79.7h0M141.0 60.7h0M146.8 73.7h0M150.6 102.5h0M158.0 60.9h0M157.3 41.0h0M160.4 21.9h0M165.1 31.5h0M141.7 65.5h0M112.8 91.8h0M99.6 84.1h0M102.8 70.2h0M131.7 87.6h0M96.3 40.6h0M135.3 48.3h0M101.7 75.9h0M128.1 82.2h0M141.1 97.2h0M129.0 74.0h0M124.2 34.5h0M140.4 49.7h0M106.3 81.3h0M155.6 30.9h0M128.3 55.9h0M115.8 84.1h0M138.1 43.1h0M126.8 40.9h0M149.2 53.8h0M125.3 54.7h0M122.5 87.8h0M84.3 99.2h0M87.8 93.8h0M143.0 67.1h0M128.8 40.6h0M147.0 53.7h0M122.8 34.4h0M154.1 58.1h0M91.7 29.7h0M134.2 76.0h0M100.4 54.1h0M127.8 50.4h0M101.6 34.6h0M130.7 56.3h0M121.8 79.6h0M86.3 14.2h0M110.4 72.8h0M137.4 69.2h0M123.0 36.5h0M89.6 80.8h0M128.1 52.0h0M125.0 37.1h0M92.8 81.5h0M117.7 85.2h0M101.9 32.7h0M134.4 73.2h0M95.3 89.7h0M130.6 78.6h0M116.1 83.4h0M163.6 25.8h0M120.9 52.7h0M160.4 38.6h0M141.4 46.0h0M86.6 22.0h0M82.4 67.1h0M114.1 43.0h0M152.9 53.9h0M95.8 90.6h0M112.2 46.7h0M85.4 70.9h0M123.4 74.3h0M128.4 78.8h0M139.1 50.5h0M107.4 69.2h0M126.8 71.9h0M141.6 58.8h0M148.0 62.4h0M113.5 32.9h0M114.3 30.9h0M115.8 30.5h0M105.4 63.3h0M122.4 68.6h0M150.9 62.8h0M87.6 14.4h0M129.7 46.3h0M145.9 55.4h0M131.6 45.6h0M156.6 38.6h0M125.4 57.3h0M142.6 75.5h0M141.2 63.9h0M122.3 41.5h0M130.3 72.3h0M137.7 53.3h0M123.9 46.9h0M139.9 41.0h0M104.8 42.6h0M142.6 69.8h0M89.9 85.2h0M128.8 69.9h0M134.3 73.3h0M127.4 70.5h0M121.4 34.2h0M131.8 78.4h0M133.7 65.0h0M118.7 75.0h0M134.7 46.6h0M151.4 50.0h0M122.3 82.5h0M132.9 52.9h0M88.0 47.6h0M125.1 74.7h0M101.5 49.1h0M122.0 40.4h0M133.7 73.9h0M123.0 80.2h0M92.0 49.9h0M135.3 52.3h0M131.7 54.8h0M157.7 44.4h0M133.3 73.2h0M138.6 55.9h0M9.4 20.6h0M61.5 41.0h0M132.8 53.6h0M110.4 50.7h0M109.0 35.1h0M89.3 70.9h0M126.2 33.5h0M117.9 46.7h0M127.5 34.1h0M130.4 50.6h0M105.7 82.3h0M112.9 58.9h0M134.7 64.3h0M138.9 68.2h0M93.8 48.6h0M155.3 61.3h0M114.4 51.7h0M112.1 54.0h0M130.8 78.4h0M121.7 76.4h0M95.6 80.8h0M112.9 76.5h0M90.1 77.0h0M139.3 60.6h0M124.8 40.1h0M127.0 34.3h0M139.5 58.2h0M158.1 59.0h0M151.4 44.6h0M122.8 42.9h0M107.4 69.5h0M145.5 73.7h0M156.2 47.2h0M137.4 39.6h0M150.7 43.7h0M105.1 79.0h0M130.5 75.5h0M148.8 62.2h0M97.5 55.2h0M108.6 41.4h0M152.3 69.3h0M132.6 40.8h0M154.0 64.3h0M137.5 56.6h0M96.0 35.0h0M104.6 71.5h0M128.7 68.0h0M146.1 51.4h0M114.2 79.1h0M85.7 94.0h0M135.9 52.8h0M140.0 61.2h0M150.5 62.8h0M114.3 72.1h0M132.2 64.4h0M130.0 58.1h0M151.5 63.4h0M138.3 44.2h0M148.3 53.5h0M156.3 50.2h0M133.9 48.5h0M141.6 68.2h0M123.0 40.4h0M95.3 51.4h0M156.0 41.9h0M107.7 36.5h0M154.9 40.2h0M158.7 46.4h0M149.2 59.7h0M147.5 73.8h0M124.4 83.7h0M114.6 29.0h0M144.2 33.0h0M120.8 47.2h0M134.4 80.0h0M131.7 56.5h0M120.6 52.1h0M85.7 64.2h0M131.8 76.9h0M113.5 68.7h0M133.7 68.9h0"/>
<path stroke="#ffd700" stroke-width="1" d="M77.8 81.5h0M96.4 69.2h0M95.9 62.1h0M139.5 45.5h0M133.1 82.8h0M128.9 84.8h0M115.0 85.6h0M8.6 35.7h0M9.3 39.7h0M3.5 33.3h0M38.0 65.7h0M25.9 74.3h0M57.4 66.2h0M50.6 51.0h0M62.9 55.9h0M63.3 43.6h0M59.5 35.8h0M69.3 31.6h0M77.2 20.6h0M47.5 14.6h0M39.4 15.8h0M44.7 17.9h0M47.0 22.2h0M42.6 30.8h0M40.9 33.2h0M34.6 33.4h0M33.0 56.6h0M158.5 22.6h0M171.0 17.9h0M152.8 34.3h0M153.9 29.7h0M147.9 40.9h0M146.4 42.4h0M142.2 46.9h0M149.3 45.6h0M148.1 52.8h0M157.1 49.5h0M146.7 69.5h0M144.7 78.4h0M136.6 85.5h0M128.4 89.3h0M124.9 88.6h0M104.7 81.2h0M103.7 86.3h0M97.8 77.5h0M82.4 75.4h0M75.2 85.5h0M87.3 97.1h0M82.8 72.5h0M85.8 54.6h0M83.6 45.7h0M89.8 39.1h0M101.6 32.5h0M96.4 26.2h0M105.4 33.3h0M104.4 29.1h0M121.9 27.9h0M118.6 50.7h0M121.5 51.7h0M119.9 46.5h0M124.7 47.0h0M122.7 60.9h0M115.5 61.1h0M115.3 67.4h0M116.1 73.1h0M119.4 70.5h0M125.5 73.3h0M134.5 72.4h0M153.7 62.2h0M154.2 65.8h0M147.7 94.6h0M14.6 9.1h0M17.7 2.6h0M24.3 15.3h0M34.7 68.0h0M28.5 67.0h0M68.4 83.5h0M127.5 32.9h0M135.8 61.2h0M113.2 46.9h0"/>
<polyline points="17.7,2.6 17.6,5.9 16.8,7.3 16.1,8.6 14.6,9.1 13.9,12.1 13.5,15.4 11.8,17.5 10.6,21.0" stroke="#ffa500" stroke-width="1.1" stroke-opacity="0.85" stroke-linejoin="round"/>
<polyline points="5.2,47.2 5.7,48.1 6.4,49.4" stroke="#ffa500" stroke-width="1.1" stroke-opacity="0.85" stroke-linejoin="round"/>
<polyline points="5.7,47.2 7.3,45.9 9.1,44.7" stroke="#ffa500" stroke-width="1.1" stroke-opacity="0.85" stroke-linejoin="round"/>
<polyline points="9.1,44.7 9.0,47.4 9.6,48.9 10.8,50.8 12.5,53.7 13.7,55.8 13.6,59.9" stroke="#ffa500" stroke-width="1.1" stroke-opacity="0.85" stroke-linejoin="round"/>
<polyline points="10.3,63.3 11.8,64.6 13.7,65.3 14.8,66.0 15.8,67.5 16.4,69.0 17.0,70.2 17.5,72.3" stroke="#ffa500" stroke-width="1.1" stroke-opacity="0.85" stroke-linejoin="round"/>
<polyline points="14.8,66.0 16.3,66.3 17.7,67.1 18.1,66.5" stroke="#ffa500" stroke-width="1.1" stroke-opacity="0.85" stroke-linejoin="round"/>
<polyline points="41.2,40.3 41.1,42.3 41.4,44.6" stroke="#ffa500" stroke-width="1.1" stroke-opacity="0.85" stroke-linejoin="round"/>
<polyline points="62.3,45.8 62.3,49.5 62.4,53.3 62.9,55.9" stroke="#ffa500" stroke-width="1.1" stroke-opacity="0.85" stroke-linejoin="round"/>
<polyline points="34.5,72.4 35.3,72.8 36.5,73.2" stroke="#ffa500" stroke-width="1.1" stroke-opacity="0.85" stroke-linejoin="round"/>
<polyline points="167.1,29.7 166.6,32.2 164.7,34.5 162.5,35.4 160.9,37.0 159.9,38.6 158.9,40.1 158.0,41.3 157.0,42.7 156.0,43.8 153.0,46.4 152.0,48.3 151.2,51.0 151.9,54.2" stroke="#ffa500" stroke-width="1.1" stroke-opacity="0.85" stroke-linejoin="round"/>
<polyline points="151.1,104.8 151.0,102.5 150.9,100.8 149.5,98.6 148.1,95.8" stroke="#ffa500" stroke-width="1.1" stroke-opacity="0.85" stroke-linejoin="round"/>
<polyline points="141.3,97.1 143.1,96.4 144.9,94.0 145.8,91.0" stroke="#ffa500" stroke-width="1.1" stroke-opacity="0.85" stroke-linejoin="round"/>
<polyline points="86.3,80.4 88.2,80.3" stroke="#ffa500" stroke-width="1.1" stroke-opacity="0.85" stroke-linejoin="round"/>
<polyline points="84.7,90.9 83.7,92.4 81.9,94.4" stroke="#ffa500" stroke-width="1.1" stroke-opacity="0.85" stroke-linejoin="round"/>
<polyline points="131.2,73.8 134.3,71.0 137.4,68.2 138.9,67.6 142.4,65.8 143.9,62.3 145.3,61.7 148.3,61.6 149.3,62.3" stroke="#ffa500" stroke-width="1.1" stroke-opacity="0.85" stroke-linejoin="round"/>
<polyline points="115.6,35.8 116.2,38.0 116.8,40.7 118.1,41.7" stroke="#ffa500" stroke-width="1.1" stroke-opacity="0.85" stroke-linejoin="round"/>
<polyline points="130.7,36.9 128.8,37.6" stroke="#ffa500" stroke-width="1.1" stroke-opacity="0.85" stroke-linejoin="round"/>
<polyline points="135.5,40.1 136.3,41.7 136.9,42.8" stroke="#ffa500" stroke-width="1.1" stroke-opacity="0.85" stroke-linejoin="round"/>
<path stroke="#ffa500" stroke-width="4" d="M159.9 38.6h0M14.8 66.0h0M116.8 40.7h0M88.2 80.3h0M93.3 93.0h0M152.0 48.3h0M157.0 42.7h0M151.0 104.2h0M131.2 73.8h0M167.1 29.7h0M35.3 72.8h0M5.6 47.4h0M130.7 36.9h0M16.8 7.3h0"/>
<path stroke="#ffa500" stroke-width="2.8" d="M86.3 80.4h0M99.1 28.5h0M17.5 72.3h0M141.3 97.1h0M62.3 49.5h0M109.7 55.0h0M153.0 46.4h0M144.9 94.0h0M142.4 65.8h0M81.9 94.4h0M13.5 15.4h0M9.1 44.7h0M141.5 43.6h0M27.1 59.5h0M84.7 90.9h0M128.0 51.3h0M95.6 53.5h0M132.4 47.0h0M122.4 49.1h0M135.5 40.1h0M6.4 49.4h0M121.9 64.5h0M156.2 56.3h0M115.6 35.8h0M142.7 86.7h0M85.8 68.9h0M149.3 62.3h0M111.3 69.7h0M112.6 91.6h0M124.4 55.3h0M41.1 42.3h0M17.7 67.1h0M15.8 67.5h0M162.2 37.7h0M159.3 38.7h0"/>
<path stroke="#ffa500" stroke-width="2" d="M166.6 32.2h0M151.9 54.2h0M162.8 33.4h0M143.1 32.8h0M123.0 75.6h0M146.7 30.9h0M122.5 35.5h0M38.3 78.5h0M91.0 66.0h0M12.5 53.7h0M91.2 44.4h0M54.8 68.5h0M158.7 30.5h0M13.6 59.9h0M131.6 64.3h0M53.8 82.6h0M108.5 89.7h0M137.4 68.2h0M142.6 71.1h0M147.2 75.6h0M128.7 48.4h0M155.4 40.2h0M30.3 27.9h0M98.5 42.9h0M103.7 71.7h0M151.2 30.5h0M30.4 10.6h0M145.3 61.7h0M129.7 40.1h0M111.1 36.0h0M86.6 59.5h0M151.4 42.5h0M127.4 68.7h0M111.6 81.7h0M128.6 55.7h0M62.4 53.3h0M100.0 61.4h0M126.1 36.0h0M15.3 42.2h0M119.7 87.9h0M85.8 101.2h0M82.5 107.9h0M123.2 70.5h0M144.3 102.2h0M141.4 99.6h0M41.2 40.3h0M41.4 44.6h0M162.5 35.4h0M158.0 41.3h0M148.3 61.6h0M150.9 100.8h0M18.1 66.5h0M16.1 8.6h0M160.9 37.0h0"/>
<path stroke="#ffa500" stroke-width="1.3" d="M165.0 30.7h0M136.3 41.7h0M125.0 43.2h0M154.1 37.0h0M98.9 81.3h0M70.6 76.3h0M122.7 88.8h0M133.3 87.6h0M143.6 79.1h0M139.7 73.8h0M125.2 80.3h0M168.0 23.7h0M165.2 27.4h0M88.8 34.7h0M88.7 20.7h0M54.4 22.9h0M148.1 95.7h0M145.8 91.0h0M143.1 96.4h0M141.7 91.7h0M140.8 89.9h0M152.9 68.3h0M143.9 56.8h0M136.4 65.2h0M118.6 57.1h0M111.2 46.1h0M112.3 39.3h0M111.3 49.9h0M115.7 48.2h0M104.4 41.0h0M107.9 42.8h0M88.9 46.3h0M92.0 53.7h0M71.2 69.4h0M86.9 85.5h0M84.8 87.3h0M97.9 91.6h0M105.4 90.8h0M101.1 90.9h0M69.4 82.9h0M93.5 82.1h0M97.2 66.4h0M102.9 53.9h0M102.3 20.8h0M114.8 29.6h0M128.5 34.5h0M123.1 38.2h0M121.3 41.0h0M140.0 36.6h0M139.0 41.2h0M136.9 42.8h0M137.7 53.2h0M135.0 53.3h0M136.6 62.1h0M146.4 55.8h0M149.1 65.5h0M150.1 71.1h0M134.3 77.2h0M129.7 79.4h0M120.4 77.2h0M9.2 28.2h0M10.6 21.0h0M11.8 17.5h0M20.8 12.8h0M24.4 15.3h0M10.3 63.3h0M9.6 48.9h0M9.0 47.4h0M5.1 44.2h0M53.0 80.1h0M62.3 45.8h0M162.8 31.9h0M159.9 44.6h0M156.0 43.8h0M153.3 43.1h0M152.1 43.7h0M154.3 41.6h0M151.2 51.0h0M143.8 61.9h0M138.9 67.6h0M116.0 89.6h0M77.9 102.2h0M85.3 109.0h0M89.7 89.2h0M113.8 30.8h0M119.9 63.1h0M149.5 98.6h0M144.9 104.2h0M11.8 64.6h0M20.5 68.4h0M13.7 55.8h0M6.4 52.3h0M17.6 5.9h0M128.8 37.6h0M94.9 54.4h0"/>
<path stroke="#ffa500" stroke-width="1.1" stroke-opacity="0.85" d="M145.2 32.4h0M159.3 38.7h0M132.2 82.3h0M131.5 68.8h0M111.7 94.0h0M140.8 63.8h0M150.6 46.3h0M115.2 41.9h0M142.6 87.8h0M152.1 65.3h0M134.4 55.5h0M167.4 32.7h0M134.8 51.6h0M133.3 75.5h0M113.8 45.7h0M115.9 62.6h0M124.3 76.1h0M148.0 66.2h0M136.9 61.5h0M157.3 47.4h0M131.4 66.7h0M142.4 93.7h0M86.0 89.6h0M130.2 50.2h0M141.6 70.7h0M151.5 60.0h0M139.0 84.0h0M132.8 63.9h0M92.2 46.6h0M127.4 81.8h0M154.9 62.2h0M149.9 61.2h0M103.4 77.8h0M132.9 68.6h0M141.2 42.8h0M145.8 39.2h0M130.2 71.6h0M149.8 57.0h0M154.2 46.6h0M145.1 38.3h0M152.2 54.1h0M127.7 36.2h0M101.8 28.2h0M135.7 42.1h0M159.9 39.6h0M151.0 46.4h0M78.6 78.2h0M130.5 70.5h0M151.9 69.6h0M152.2 66.3h0M113.7 92.8h0M130.8 44.9h0M88.8 81.9h0M130.3 52.6h0M149.4 40.1h0M85.5 103.0h0M143.0 45.2h0M140.5 59.1h0M153.9 56.7h0M127.8 78.1h0M152.8 40.1h0M128.6 87.7h0M100.0 81.5h0M155.7 45.9h0M143.7 48.0h0M85.4 68.4h0M115.3 84.4h0M121.9 35.8h0M136.6 72.7h0M148.6 59.3h0M134.5 69.4h0M123.2 60.3h0M132.4 75.9h0M147.2 49.8h0M119.9 49.5h0M104.7 30.8h0M103.8 50.1h0M152.1 40.1h0M155.6 65.5h0M138.6 82.3h0M145.2 101.6h0M149.1 60.4h0M101.0 52.3h0M151.2 46.6h0M138.6 70.7h0M135.5 80.5h0M138.3 43.2h0M139.3 70.9h0M102.7 89.7h0M139.4 69.5h0M100.5 56.0h0M118.8 43.3h0M91.4 86.7h0M155.8 63.8h0M115.8 73.1h0M145.3 59.5h0M94.9 50.7h0M119.5 61.6h0M131.5 34.2h0M116.2 69.1h0M141.2 72.2h0M146.7 38.0h0M138.4 63.9h0M134.1 72.5h0M94.9 36.7h0M145.6 72.7h0M156.5 51.4h0M149.1 47.7h0M93.3 71.2h0M155.1 61.2h0M147.7 45.3h0M101.8 66.3h0M130.8 51.2h0M158.1 41.7h0M151.0 55.0h0M119.8 68.3h0M131.0 36.2h0M128.7 68.5h0M106.0 85.2h0M146.5 97.7h0M127.4 86.1h0M155.6 60.2h0M138.6 70.7h0M125.4 62.5h0M120.1 55.8h0M145.4 102.5h0M102.3 40.7h0M125.9 88.2h0M158.5 32.9h0M158.1 48.5h0M122.6 26.3h0M127.5 48.7h0M109.5 26.5h0M140.9 70.1h0M118.1 48.7h0M130.5 42.3h0M139.0 60.6h0M140.5 90.4h0M154.7 44.0h0M126.5 69.0h0M85.1 66.3h0M122.5 59.8h0M86.7 55.0h0M145.4 102.5h0M137.7 90.6h0M130.5 61.2h0M150.7 49.3h0M113.3 35.9h0M124.7 55.7h0M106.2 55.3h0M131.3 34.0h0M94.0 75.3h0M129.6 42.0h0M98.5 57.8h0M136.4 89.2h0M97.9 41.5h0M126.6 39.8h0M129.4 51.2h0M126.6 53.9h0M108.6 78.6h0M132.5 75.6h0M91.9 93.7h0M128.9 59.1h0M125.6 62.7h0M103.9 37.1h0M130.9 61.3h0M125.6 57.0h0M81.2 64.1h0M114.9 49.2h0M147.7 55.3h0M147.6 64.5h0M123.2 70.4h0M140.0 61.3h0M140.3 36.4h0M113.7 75.8h0M139.0 57.5h0M120.6 44.1h0M152.1 57.2h0M113.3 48.4h0M153.1 49.1h0M130.8 49.3h0M151.0 38.4h0M78.3 95.2h0M160.0 42.2h0M143.1 84.6h0M118.8 79.2h0M120.0 66.9h0M79.7 67.6h0M139.6 76.9h0M144.7 95.8h0M143.1 64.9h0M82.2 92.9h0M156.0 61.4h0M90.8 49.5h0M99.9 87.7h0M80.5 80.3h0M149.6 101.0h0M140.7 61.3h0M109.1 72.5h0M149.2 51.6h0M130.4 53.0h0M106.1 54.2h0M142.5 63.6h0M159.3 36.4h0M135.6 79.6h0M131.6 50.9h0M111.3 59.3h0M122.1 54.6h0M110.9 36.5h0M147.8 51.0h0M139.9 49.7h0M135.6 78.6h0M148.5 61.8h0M138.9 38.0h0M145.5 55.3h0M100.6 45.6h0M142.6 51.9h0M85.6 67.8h0M131.8 65.8h0M132.2 51.2h0M153.7 35.8h0M116.9 81.2h0M127.4 69.0h0M125.2 59.7h0M134.2 49.4h0M157.9 42.2h0M120.2 47.2h0M120.1 29.4h0M144.4 47.7h0M128.7 33.7h0M152.9 37.1h0M138.1 61.6h0M119.2 75.3h0M128.3 77.7h0M126.2 79.1h0M138.1 74.4h0M88.5 42.3h0M158.7 49.5h0M85.4 98.9h0M120.2 61.8h0M135.9 61.0h0M124.8 71.5h0M121.9 88.2h0M106.1 48.1h0M142.2 57.6h0M123.0 84.5h0M148.9 57.2h0M116.1 72.8h0M153.2 56.8h0M124.4 34.5h0M86.4 67.4h0M158.3 35.8h0M137.1 69.8h0M98.5 42.3h0M75.8 84.1h0M123.1 78.6h0M140.8 99.0h0M122.9 63.8h0M113.4 59.2h0M112.8 35.6h0M85.0 52.9h0M109.2 57.9h0M143.5 72.5h0M124.4 63.5h0M82.3 63.5h0M87.2 28.0h0M136.9 45.7h0M164.7 33.1h0M145.5 98.3h0M131.7 79.8h0M143.7 98.3h0M148.8 64.9h0M150.5 46.2h0M149.0 41.4h0M143.7 59.2h0M126.3 53.6h0M112.5 57.8h0M152.5 37.8h0M103.8 88.7h0M98.0 58.1h0M93.7 74.1h0M104.6 57.5h0M137.3 59.1h0M126.8 68.3h0M129.2 71.0h0M94.6 70.4h0M145.4 68.7h0M145.0 70.0h0M138.9 49.9h0M143.0 37.3h0M124.6 68.7h0M139.4 56.7h0M160.1 33.8h0M134.6 60.6h0M124.4 59.9h0M128.6 37.2h0M151.2 58.6h0M150.9 52.3h0M124.6 58.2h0M127.8 42.3h0M149.8 60.0h0M131.6 72.2h0M144.7 42.3h0M144.0 66.6h0M115.8 72.1h0M143.4 67.9h0M111.7 92.4h0M121.2 66.8h0M147.3 62.4h0M128.7 53.2h0M103.5 69.2h0M127.1 64.3h0M88.2 20.5h0M127.0 69.6h0M36.7 46.8h0M88.6 55.7h0M28.1 55.8h0M122.6 81.0h0M140.5 59.1h0M148.3 102.8h0M150.8 68.9h0M12.7 64.8h0M113.0 44.4h0M127.7 57.7h0M166.1 26.1h0M146.7 59.9h0M130.1 44.5h0M125.1 59.0h0M87.8 50.0h0M122.8 33.8h0M140.9 40.0h0M30.5 54.3h0M156.1 32.6h0M80.6 68.5h0M149.4 60.2h0M131.7 46.5h0M132.7 50.8h0M165.9 16.0h0M114.3 50.0h0M166.3 20.2h0M130.0 59.0h0M148.1 36.6h0M119.0 80.1h0M152.0 55.9h0M130.8 69.5h0M87.3 75.1h0M126.1 56.3h0M145.0 72.9h0M122.4 49.5h0M80.1 82.2h0M144.7 95.3h0M121.2 73.7h0M152.1 49.4h0M87.5 75.9h0M144.2 40.1h0M102.7 36.5h0M131.9 33.6h0M157.5 41.6h0M142.9 88.5h0M115.7 72.1h0M156.8 35.5h0M88.9 66.6h0M91.0 53.9h0M138.6 72.8h0M126.6 80.6h0M139.7 60.9h0M120.9 36.1h0M129.7 88.7h0M82.6 81.1h0M49.0 45.4h0M151.9 48.0h0M92.1 72.1h0M153.0 47.5h0M120.4 70.1h0M134.9 60.4h0M81.4 81.1h0M118.0 80.0h0M137.5 70.5h0M140.5 69.9h0M131.2 72.6h0M129.4 51.9h0M124.9 72.9h0M130.4 62.8h0M148.9 61.7h0M12.9 33.6h0M131.7 61.6h0M134.2 79.2h0M102.4 36.3h0M122.8 82.6h0M96.2 91.1h0M144.3 75.6h0M143.2 72.6h0M168.8 18.7h0M135.4 82.8h0M127.6 49.2h0M141.7 95.0h0M143.1 63.9h0M153.3 45.7h0M125.5 75.1h0M127.2 53.1h0M146.1 35.4h0M133.4 78.5h0M143.0 62.8h0M123.9 63.9h0M138.4 58.1h0M149.5 69.7h0M142.8 35.4h0M97.9 21.6h0M121.5 77.8h0M110.5 88.0h0M137.9 66.9h0M91.6 72.6h0M95.8 81.8h0M98.9 22.2h0M110.3 40.9h0M124.3 62.7h0M157.0 31.0h0M128.4 54.6h0M31.5 74.6h0M127.7 67.1h0M127.7 44.6h0M149.8 48.0h0M164.0 22.7h0M137.8 61.8h0M132.5 50.0h0M132.8 76.6h0M142.4 93.7h0M145.4 64.2h0M100.1 88.5h0M154.1 51.8h0M136.0 63.1h0M134.5 78.6h0M12.6 11.8h0M145.4 46.7h0M82.6 61.6h0"/>
<path stroke="#ff7f50" stroke-width="1.1" stroke-opacity="0.85" d="M130.4 56.5h0M91.6 68.4h0M136.8 51.4h0M138.0 70.8h0M147.9 44.8h0M129.4 48.9h0M78.3 91.8h0M117.5 42.2h0M149.2 69.3h0M123.4 62.1h0M99.3 67.9h0M143.3 44.3h0M127.3 84.1h0M141.6 76.7h0M94.3 94.4h0M149.7 44.4h0M141.9 69.4h0M141.1 82.5h0M155.9 23.6h0M133.7 41.0h0M149.7 42.0h0M78.4 25.0h0M160.6 36.7h0M108.6 77.7h0M129.1 71.9h0M141.4 67.2h0M148.0 48.8h0M85.2 87.8h0M116.1 61.1h0M160.5 38.5h0M154.0 32.5h0M97.2 86.5h0M129.1 76.4h0M143.0 97.3h0M139.2 60.1h0M135.0 62.7h0M106.0 71.8h0M149.9 39.1h0M127.5 54.5h0M91.4 88.2h0M149.8 33.1h0M137.6 51.8h0M133.8 63.6h0M134.6 75.3h0M87.9 96.9h0M113.2 72.7h0M151.4 67.7h0M150.4 28.9h0M164.5 36.3h0M121.4 52.0h0M111.4 29.5h0M140.5 46.8h0M154.2 41.7h0M120.4 87.7h0M128.2 48.9h0M147.1 70.5h0M148.6 42.0h0M103.7 53.2h0M128.5 48.4h0M150.8 57.1h0M155.9 41.8h0M127.9 59.5h0M157.4 30.6h0M127.6 48.7h0M113.0 47.7h0M147.6 97.3h0M84.6 66.7h0M130.9 42.9h0"/>
<path stroke="#ff0000" stroke-width="2.6" d="M159.9 38.6h0M14.8 66.0h0M116.8 40.7h0M88.2 80.3h0M93.3 93.0h0M152.0 48.3h0M157.0 42.7h0M151.0 104.2h0M131.2 73.8h0M167.1 29.7h0M35.3 72.8h0M5.6 47.4h0M130.7 36.9h0M16.8 7.3h0"/>
<path stroke="#ff0000" stroke-width="1.8" d="M86.3 80.4h0M99.1 28.5h0M17.5 72.3h0M141.3 97.1h0M62.3 49.5h0M109.7 55.0h0M153.0 46.4h0M144.9 94.0h0M142.4 65.8h0M81.9 94.4h0M13.5 15.4h0M9.1 44.7h0M141.5 43.6h0M27.1 59.5h0M84.7 90.9h0M128.0 51.3h0M95.6 53.5h0M132.4 47.0h0M122.4 49.1h0M135.5 40.1h0M6.4 49.4h0M121.9 64.5h0M156.2 56.3h0M115.6 35.8h0M142.7 86.7h0M85.8 68.9h0M149.3 62.3h0M111.3 69.7h0M112.6 91.6h0M124.4 55.3h0M41.1 42.3h0M17.7 67.1h0M15.8 67.5h0M162.2 37.7h0M159.3 38.7h0"/>
<path stroke="#ff0000" stroke-width="1.1" stroke-opacity="0.85" d="M120.5 88.0h0M108.0 64.4h0M124.4 73.4h0M121.5 73.1h0M115.4 50.7h0M114.1 69.8h0M139.8 72.7h0M149.8 46.4h0M151.2 44.1h0M124.9 32.8h0M118.5 54.8h0M102.5 73.6h0M138.6 48.0h0M122.5 53.7h0M137.7 63.6h0M138.8 82.1h0M84.4 65.4h0M118.2 43.0h0M132.2 46.2h0M110.4 39.4h0M134.4 69.3h0M144.8 68.8h0M126.0 85.0h0M137.0 67.3h0M137.2 46.3h0M152.2 48.0h0M148.9 63.7h0M141.4 37.3h0M143.9 89.0h0M106.2 56.6h0M157.3 36.6h0M144.5 74.4h0M117.0 23.0h0M145.0 68.6h0M126.1 59.9h0M161.4 35.2h0M155.7 43.8h0M139.7 90.9h0M141.7 87.4h0M100.4 32.0h0M131.7 52.3h0M115.6 88.9h0M132.4 65.0h0M101.8 22.8h0M108.6 88.7h0M149.7 42.3h0M145.4 71.2h0"/>
<path stroke="#ff0000" stroke-width="1" d="M166.6 32.2h0M151.9 54.2h0M162.8 33.4h0M143.1 32.8h0M123.0 75.6h0M146.7 30.9h0M122.5 35.5h0M38.3 78.5h0M91.0 66.0h0M12.5 53.7h0M91.2 44.4h0M54.8 68.5h0M158.7 30.5h0M13.6 59.9h0M131.6 64.3h0M53.8 82.6h0M108.5 89.7h0M137.4 68.2h0M142.6 71.1h0M147.2 75.6h0M128.7 48.4h0M155.4 40.2h0M30.3 27.9h0M98.5 42.9h0M103.7 71.7h0M151.2 30.5h0M30.4 10.6h0M145.3 61.7h0M129.7 40.1h0M111.1 36.0h0M86.6 59.5h0M151.4 42.5h0M127.4 68.7h0M111.6 81.7h0M128.6 55.7h0M62.4 53.3h0M100.0 61.4h0M126.1 36.0h0M15.3 42.2h0M119.7 87.9h0M85.8 101.2h0M82.5 107.9h0M123.2 70.5h0M144.3 102.2h0M141.4 99.6h0M41.2 40.3h0M41.4 44.6h0M162.5 35.4h0M158.0 41.3h0M148.3 61.6h0M150.9 100.8h0M18.1 66.5h0M16.1 8.6h0M160.9 37.0h0"/>
<path stroke="#b22222" stroke-width="1.4" d="M159.9 38.6h0M14.8 66.0h0M116.8 40.7h0M88.2 80.3h0M93.3 93.0h0M152.0 48.3h0M157.0 42.7h0M151.0 104.2h0M131.2 73.8h0M167.1 29.7h0M35.3 72.8h0M5.6 47.4h0M130.7 36.9h0M16.8 7.3h0"/></g><path d="M92.4,9.3 L112.1,13.1 L125.5,18.0 L128.0,21.9 L121.8,23.9 L114.6,25.9 L107.1,24.7 L99.7,20.9 L92.4,16.8Z" fill="#fff" fill-opacity="0.6" filter="url(#bl2)"/></g>
<g transform="translate(186,151)"><path d="M11.3,2.3 L13.0,3.7 L14.5,4.4 L16.1,5.0 L17.0,3.9 L17.7,2.6 L17.3,1.4 L24.7,3.4 L32.8,5.4 L41.0,7.1 L49.3,8.5 L57.6,9.7 L65.9,10.7 L74.3,11.3 L82.6,11.7 L87.6,11.8 L93.4,11.8 L93.4,10.3 L94.3,10.6 L94.8,12.9 L97.2,13.8 L99.4,13.3 L101.1,13.9 L103.7,15.4 L105.7,14.8 L109.1,15.4 L107.2,16.6 L104.5,19.0 L102.3,21.0 L104.3,20.8 L106.0,20.0 L105.8,21.5 L107.2,21.5 L110.3,20.0 L112.5,18.5 L114.1,17.3 L113.1,19.3 L115.9,20.9 L118.1,21.3 L119.9,20.0 L122.9,19.3 L124.6,20.2 L125.6,21.4 L127.2,22.0 L123.9,23.0 L121.6,22.3 L119.3,23.1 L118.5,24.1 L117.2,24.2 L115.9,27.0 L114.9,29.6 L116.2,27.9 L117.6,26.0 L116.9,28.2 L116.4,31.0 L116.1,32.7 L115.7,35.8 L117.1,40.6 L118.1,41.7 L119.3,41.1 L120.4,39.3 L121.0,36.3 L120.3,34.5 L119.7,31.5 L120.1,30.2 L120.0,28.6 L120.5,27.4 L121.7,26.0 L122.0,27.7 L122.4,26.8 L122.7,25.5 L123.4,25.0 L123.2,23.8 L124.0,23.3 L124.8,23.8 L126.9,24.5 L128.3,25.8 L128.7,27.3 L128.8,28.5 L128.4,29.3 L127.7,30.6 L127.6,32.1 L128.9,30.7 L130.2,29.9 L131.5,31.6 L132.4,34.0 L132.4,35.8 L130.9,37.2 L130.0,39.9 L132.4,40.7 L135.5,40.0 L140.0,36.6 L143.1,32.7 L142.3,31.3 L146.7,30.5 L149.8,29.0 L150.3,27.2 L149.8,26.0 L151.0,24.7 L153.1,21.6 L158.6,20.3 L162.9,19.2 L163.8,17.7 L164.5,17.1 L165.3,11.2 L166.5,7.6 L169.2,7.2 L170.9,7.9 L172.4,12.6 L173.9,13.5 L175.5,15.2 L176.1,16.3 L175.1,17.5 L173.6,18.8 L172.4,20.1 L171.3,19.5 L171.0,21.4 L169.2,22.8 L168.2,23.7 L167.6,26.3 L167.3,27.5 L168.1,28.1 L167.3,29.7 L168.7,31.0 L170.0,30.2 L170.7,30.5 L171.2,31.6 L169.2,32.7 L168.4,32.6 L167.0,33.7 L165.8,34.6 L162.7,35.6 L160.6,37.5 L164.9,35.5 L166.1,35.6 L163.2,37.7 L160.3,39.2 L160.1,39.8 L160.5,41.2 L159.9,44.6 L158.6,46.7 L158.0,45.7 L156.3,44.8 L156.9,45.9 L158.3,47.4 L158.8,49.2 L158.4,51.2 L157.1,54.9 L157.2,55.9 L158.1,57.4 L160.2,62.4 L157.4,65.8 L153.2,69.9 L150.0,71.1 L147.3,75.7 L144.3,79.2 L143.1,83.2 L143.6,86.5 L144.3,88.3 L145.8,91.1 L148.0,93.9 L149.3,97.3 L151.1,100.8 L151.4,104.7 L150.9,106.8 L148.2,108.0 L147.1,106.1 L144.9,104.3 L143.9,102.8 L142.9,101.3 L141.1,99.6 L140.4,98.3 L140.0,97.0 L139.8,94.5 L138.4,92.4 L136.1,89.9 L133.8,89.2 L131.1,91.2 L129.8,91.3 L128.3,89.6 L125.3,88.7 L122.8,89.1 L120.0,89.8 L116.0,89.6 L114.2,90.4 L114.6,91.2 L115.9,93.3 L116.7,94.7 L115.3,95.6 L113.0,95.1 L112.6,94.7 L110.1,95.5 L108.2,94.6 L106.4,93.8 L105.6,93.4 L103.4,93.5 L98.8,93.2 L95.4,95.0 L93.6,96.5 L91.0,97.9 L89.5,98.6 L86.5,101.3 L86.1,104.6 L86.6,109.0 L85.3,109.2 L82.6,108.3 L82.3,107.9 L77.9,102.3 L74.4,97.1 L73.1,94.3 L71.3,92.5 L67.7,92.1 L66.5,92.9 L65.3,95.3 L64.2,95.2 L61.7,93.3 L60.3,92.6 L59.4,90.6 L56.9,87.0 L53.7,82.4 L47.7,81.8 L47.5,83.6 L37.3,82.2 L25.2,75.0 L25.7,74.1 L17.2,73.1 L16.9,72.3 L16.9,70.2 L16.1,68.9 L14.0,67.1 L13.9,66.0 L12.0,65.1 L10.3,63.4 L7.8,62.5 L7.3,61.8 L8.1,59.7 L7.5,58.4 L6.5,56.8 L5.2,53.6 L5.5,52.4 L5.6,50.9 L4.6,48.2 L4.9,47.0 L3.6,45.7 L3.8,44.4 L2.6,41.2 L3.2,37.6 L2.3,34.5 L3.3,33.2 L4.5,30.5 L4.5,29.4 L4.8,28.4 L4.8,24.6 L6.3,22.6 L7.6,20.4 L8.5,18.0 L9.8,14.4 L10.7,11.6 L10.9,9.9 L11.1,8.3 L11.3,5.3Z" fill="#f6f4d8"/><g clip-path="url(#us)" filter="url(#bl)" fill="none" stroke-linecap="round"><path stroke="#ffd700" stroke-width="1.5" stroke-opacity="0.45" d="M150.6 52.0h0M102.8 16.1h0M146.4 63.7h0M108.7 75.9h0M148.0 54.0h0M115.9 75.3h0M138.8 92.1h0M120.5 45.9h0M151.0 37.8h0M113.5 50.5h0M142.7 44.8h0M150.8 53.4h0M90.7 52.7h0M135.2 60.6h0M54.3 70.9h0M148.8 51.8h0M125.6 69.7h0M149.0 62.4h0M157.6 42.8h0M127.9 75.4h0M150.0 69.1h0M143.4 91.4h0M134.1 70.0h0M105.6 69.7h0M116.8 66.3h0M123.2 51.0h0M116.8 85.0h0M147.5 69.3h0M109.9 74.4h0M132.4 73.7h0M147.3 60.3h0M148.0 61.2h0M145.7 70.5h0M139.3 65.8h0M13.6 32.2h0M127.9 56.1h0M136.1 62.1h0M152.6 62.7h0M117.0 59.3h0M103.3 30.1h0M138.5 62.7h0M143.9 60.8h0M147.6 47.0h0M107.6 44.4h0M123.7 45.8h0M88.3 41.7h0M138.5 62.1h0M83.8 89.9h0M127.9 60.0h0M134.3 64.5h0M129.3 71.3h0M17.2 47.1h0M136.1 60.4h0M100.4 17.5h0M130.3 66.6h0M98.3 29.4h0M131.5 63.2h0M143.3 84.3h0M95.6 88.9h0M150.6 67.9h0M135.4 42.7h0M115.9 60.4h0M123.1 85.8h0M86.6 83.4h0M12.8 47.1h0M128.5 51.9h0M133.9 78.4h0M137.4 68.0h0M135.4 70.2h0M110.3 72.7h0M160.5 36.3h0M102.3 56.9h0M147.2 46.7h0M134.6 41.0h0M125.1 46.3h0M99.9 57.0h0M125.9 55.2h0M156.1 59.2h0M140.9 70.9h0M148.6 46.4h0M125.0 53.3h0M132.9 74.3h0M85.1 101.5h0M133.4 64.1h0M123.3 44.4h0M87.2 91.4h0M119.5 66.8h0M83.2 70.8h0M141.0 76.3h0M145.9 98.0h0M148.5 102.4h0M134.6 51.1h0M146.7 62.3h0M123.6 63.0h0M128.2 55.0h0M135.6 80.6h0M122.9 54.3h0M133.5 74.9h0M127.4 88.7h0M159.7 40.1h0M159.8 40.7h0M139.1 49.5h0M112.7 51.3h0M155.7 52.9h0M131.6 72.5h0M145.7 37.4h0M142.1 59.8h0M134.7 48.4h0M127.2 67.9h0M150.0 57.3h0M86.2 95.5h0M157.2 50.2h0M153.5 39.1h0M140.7 67.1h0M139.7 57.3h0M125.8 53.4h0M118.7 52.7h0M108.7 93.9h0M62.1 81.7h0M131.1 52.4h0M138.0 91.4h0M126.9 44.4h0M104.3 68.8h0M92.3 89.3h0M140.5 94.7h0M128.6 88.5h0M143.4 75.2h0M129.3 67.2h0M140.5 70.9h0M120.7 83.0h0M132.5 80.9h0M113.3 56.0h0M146.6 102.6h0M113.1 71.9h0M130.6 55.7h0M130.5 52.4h0M144.4 65.1h0M129.2 78.9h0M109.6 55.3h0M131.8 53.6h0M80.5 93.3h0M144.8 54.0h0M127.2 38.7h0M130.5 45.7h0M140.7 49.2h0M136.5 71.6h0M141.9 86.6h0M90.4 91.4h0M137.3 41.5h0M119.4 63.6h0M121.3 44.2h0M140.7 83.6h0M125.9 73.4h0M109.2 42.1h0M136.1 60.5h0M115.0 68.1h0M84.7 72.6h0M135.9 73.6h0M154.4 38.2h0M134.2 61.0h0M126.5 55.8h0M163.7 36.3h0M138.4 76.7h0M148.6 69.8h0M134.8 61.0h0M110.2 89.3h0M137.3 55.6h0M84.4 62.1h0M131.0 80.8h0M131.9 51.4h0M92.0 93.7h0M148.2 37.6h0M129.6 88.3h0M143.0 41.2h0M67.3 53.4h0M125.0 58.3h0M116.4 63.3h0M148.5 63.8h0M6.6 49.7h0M143.4 62.2h0M154.3 43.9h0M122.8 34.2h0M137.5 52.9h0M87.6 21.2h0M143.0 52.3h0M142.3 98.7h0M104.1 92.0h0M141.2 95.0h0M113.8 23.4h0M138.6 48.6h0M119.8 60.8h0M127.4 41.9h0M116.7 67.7h0M146.6 43.4h0M95.1 93.3h0M131.1 57.0h0M130.7 31.0h0M138.9 51.8h0M100.1 48.0h0M124.5 57.8h0M118.5 86.8h0M129.1 67.3h0M169.0 12.9h0M140.0 58.7h0M93.6 84.7h0M139.3 63.4h0M130.5 40.8h0M157.1 63.2h0M145.7 64.9h0M107.1 86.2h0M128.2 68.5h0M37.7 75.9h0M117.7 61.2h0M94.7 47.7h0M122.2 76.5h0M113.1 30.4h0M104.2 73.1h0M86.1 64.8h0M122.9 81.4h0M128.2 55.1h0M129.8 89.1h0M81.6 80.2h0M143.3 91.0h0M159.9 37.0h0M140.8 80.2h0M158.2 41.8h0M130.8 53.1h0M138.8 39.6h0M125.5 63.8h0M161.3 37.4h0M114.3 63.9h0M87.6 97.6h0M142.8 97.4h0M123.0 79.6h0M133.2 58.8h0M124.1 44.2h0M126.3 80.7h0M114.1 56.9h0M148.3 58.2h0M156.7 35.2h0M108.8 53.8h0M127.0 64.8h0M54.4 81.4h0M127.1 65.2h0M118.1 63.8h0M121.2 67.6h0M100.7 48.8h0M133.7 71.8h0M121.8 72.2h0M108.9 64.5h0M107.8 60.0h0M109.9 41.4h0M159.4 32.0h0M123.3 46.4h0M152.4 44.8h0M133.3 48.2h0M102.6 64.1h0M89.9 44.4h0M19.1 68.8h0M118.0 44.3h0M100.8 63.7h0M90.4 62.5h0M83.9 89.4h0M120.5 31.9h0M163.7 30.5h0M165.4 32.6h0M142.4 68.5h0M138.8 58.4h0M144.6 71.4h0M118.3 66.1h0M152.1 40.1h0M95.8 56.6h0M139.8 40.2h0M115.6 30.4h0M84.6 51.8h0M105.3 73.5h0M121.1 28.7h0M142.7 49.2h0M82.8 60.7h0M121.8 41.5h0M146.3 56.6h0M165.3 29.2h0M92.5 42.5h0M148.4 56.2h0M146.1 64.9h0M137.7 56.2h0M119.7 49.8h0M141.0 65.8h0M138.7 59.7h0M112.3 72.7h0M94.4 50.0h0M117.6 69.9h0M125.4 57.7h0M88.4 88.3h0M127.6 59.3h0M156.8 28.4h0M146.5 61.0h0M135.3 59.7h0M102.7 51.7h0M144.5 41.6h0M123.8 61.7h0M139.5 61.3h0M144.5 45.3h0M156.1 27.8h0M139.5 46.2h0M136.2 85.0h0M110.1 63.7h0M122.7 64.0h0M142.1 47.0h0M130.2 79.6h0M100.1 84.5h0M121.3 39.0h0M137.6 52.8h0M125.4 71.4h0M124.8 34.0h0M134.2 68.0h0M140.7 62.5h0M128.4 65.1h0M124.8 85.7h0M85.2 74.4h0M156.8 40.8h0M88.7 70.0h0M114.2 56.4h0M130.0 75.2h0M156.8 49.8h0M142.6 75.2h0M144.4 56.2h0M129.5 52.7h0M133.4 44.0h0M109.2 84.2h0M171.9 13.7h0M135.3 77.5h0M78.6 52.6h0M146.3 53.4h0M98.2 83.6h0M130.0 63.0h0M148.5 33.8h0M135.9 46.3h0M142.9 52.6h0M137.7 56.1h0M141.0 82.7h0M113.9 56.0h0M123.9 86.0h0M90.4 72.3h0M133.2 77.5h0M103.4 50.9h0M125.5 71.6h0M147.8 73.1h0M126.5 68.4h0M132.3 52.9h0M145.5 60.9h0M89.6 38.5h0M111.5 68.1h0M122.5 57.3h0M135.7 43.8h0M117.7 58.6h0M18.6 60.6h0M137.1 76.6h0M109.9 61.2h0M157.1 63.5h0M84.1 76.6h0M107.2 48.4h0M100.0 44.5h0M128.7 53.8h0M87.6 79.4h0M128.0 50.3h0M89.6 41.2h0M146.5 70.1h0M124.0 70.0h0M129.1 58.9h0M134.0 42.3h0M120.3 55.8h0M93.2 91.5h0M130.5 66.9h0M129.1 32.6h0M126.7 43.6h0M128.0 62.3h0M121.4 45.8h0M107.0 83.0h0M123.5 53.2h0M124.8 68.2h0M117.5 46.0h0M121.0 75.9h0M158.4 48.4h0M138.1 66.1h0M132.6 66.2h0M150.6 60.8h0M121.2 79.6h0M117.3 46.8h0M128.6 38.5h0M147.9 95.4h0M125.6 83.6h0M151.5 52.9h0M150.8 43.4h0M121.6 74.0h0M143.5 86.2h0M103.4 16.6h0M145.1 67.2h0M140.5 42.0h0M110.1 42.5h0M110.4 57.9h0M110.1 54.7h0M131.8 64.5h0M122.9 54.6h0M152.9 30.6h0M155.9 46.2h0M17.3 67.8h0M136.2 48.1h0M112.7 52.5h0M141.5 77.8h0M143.5 102.2h0M153.8 35.5h0M149.8 63.2h0M131.8 35.9h0M147.9 54.6h0M146.1 65.7h0M144.6 65.7h0M151.3 27.1h0M94.7 55.3h0M91.3 89.2h0M80.6 18.7h0M152.2 50.5h0M122.6 40.7h0M140.3 82.0h0M90.0 42.4h0M126.3 72.9h0M127.4 67.5h0M83.2 97.4h0M143.3 66.5h0M141.9 49.9h0M159.6 24.0h0M156.7 46.5h0M83.5 76.6h0M115.6 48.5h0M137.1 49.1h0M135.0 67.3h0M131.5 88.7h0M145.8 43.4h0M119.8 60.4h0M150.3 61.6h0M137.4 50.5h0M145.7 101.8h0M119.7 53.2h0M121.2 54.7h0M136.8 44.4h0M111.6 86.2h0M125.5 50.6h0M150.1 57.2h0M106.2 40.1h0M123.4 68.4h0M86.7 80.8h0M150.3 53.2h0M154.6 52.6h0M131.3 68.3h0M102.7 30.0h0M109.7 57.4h0M146.3 53.5h0M101.0 66.4h0M139.9 62.8h0M147.0 67.1h0M118.5 87.9h0M149.3 46.9h0M10.0 18.7h0M133.9 64.9h0M120.9 34.1h0M133.9 53.1h0M129.1 69.5h0M96.1 60.3h0M95.3 52.8h0M79.9 86.7h0M161.5 27.8h0M152.4 43.2h0M109.2 64.4h0M90.6 46.9h0M143.9 45.3h0M136.8 50.0h0M152.1 69.1h0M108.9 32.2h0M139.9 73.4h0M123.4 73.8h0M123.1 43.0h0M90.9 88.6h0M146.8 71.9h0M155.8 62.2h0M164.8 31.7h0M127.4 31.0h0M138.9 64.0h0M131.6 50.6h0M139.1 46.8h0M135.7 72.8h0M100.9 27.9h0M143.1 73.1h0M145.2 39.2h0M125.9 56.8h0M134.6 65.6h0M121.0 74.0h0M135.2 42.6h0M121.8 53.1h0M147.0 57.7h0M140.0 91.1h0M126.0 43.2h0M121.0 67.9h0M105.8 48.3h0M124.8 58.1h0M82.5 61.5h0M87.1 57.1h0M142.5 42.7h0M142.4 56.5h0M159.0 34.2h0M100.9 30.2h0M134.3 56.6h0M149.3 38.8h0M142.2 65.0h0M139.0 56.6h0M101.3 89.4h0M136.3 58.1h0M126.4 30.3h0M140.3 45.9h0M116.6 84.7h0M122.9 55.8h0M145.2 66.1h0M119.8 73.3h0M157.3 35.9h0M125.1 36.1h0M134.0 62.7h0M122.7 35.0h0M133.3 79.4h0M80.4 104.8h0M76.0 68.0h0M131.2 36.4h0M90.2 39.5h0M132.9 50.0h0M99.7 62.8h0M146.4 94.1h0M121.4 65.1h0M82.3 73.7h0M119.5 79.5h0M147.6 54.6h0M141.4 55.7h0M86.4 87.8h0M138.8 41.1h0M113.3 58.1h0M139.8 85.4h0M148.9 43.1h0M156.9 25.7h0M130.4 73.8h0M148.5 100.8h0M125.5 61.5h0M134.7 62.9h0M147.1 57.3h0M158.1 27.7h0M123.1 40.4h0M111.0 65.6h0M125.2 81.2h0M137.3 68.0h0M145.2 65.9h0M125.8 70.9h0M33.3 27.5h0M99.9 84.2h0M144.9 90.1h0M123.2 63.9h0M131.0 72.3h0M154.4 35.7h0M147.6 47.9h0M147.4 60.9h0M89.8 43.0h0M104.9 35.0h0M158.7 40.0h0M145.3 102.9h0M99.0 77.0h0M119.4 47.4h0M118.6 68.8h0M159.0 21.7h0M171.0 20.9h0M136.5 48.8h0M147.1 56.8h0M96.2 27.1h0M128.3 49.2h0M153.7 23.5h0M160.1 37.2h0M163.8 30.4h0M133.6 56.9h0M154.8 28.5h0M130.5 46.1h0M152.7 64.0h0M120.5 32.5h0M115.5 35.0h0M80.8 73.8h0M99.8 84.8h0M130.0 52.6h0M141.1 57.3h0M147.3 72.6h0M110.4 29.2h0M106.9 47.8h0M149.4 67.1h0M125.9 59.7h0M154.8 49.5h0M152.0 38.7h0M142.7 54.0h0M82.2 48.1h0M129.0 79.1h0M131.0 76.3h0M123.0 52.4h0M134.7 68.6h0M142.2 83.4h0M132.8 69.6h0M117.2 67.7h0M152.1 43.7h0M131.1 53.4h0M108.7 61.3h0M126.1 53.2h0M137.4 60.5h0M118.1 76.7h0M117.7 68.4h0M129.5 66.8h0M153.0 64.5h0M138.5 38.5h0M101.8 50.3h0M141.3 70.1h0M146.9 65.6h0M129.4 41.5h0M130.5 52.4h0M143.3 64.7h0M106.2 59.8h0M151.9 40.8h0M142.3 86.3h0M147.1 68.7h0M116.1 51.8h0M9.6 21.3h0M143.8 67.4h0M141.4 61.5h0M115.0 41.0h0M127.5 64.3h0M105.5 82.2h0M144.7 45.0h0M134.0 55.9h0M140.6 69.5h0M144.6 77.4h0M149.7 67.1h0M147.9 46.5h0M115.0 71.2h0M136.1 83.7h0M148.2 42.9h0M139.8 91.0h0M129.6 49.3h0M145.1 52.3h0M123.8 57.3h0M131.1 70.1h0M136.4 60.2h0M107.6 86.0h0M135.2 62.2h0M117.3 49.1h0M93.5 36.4h0M143.6 56.1h0M135.5 74.2h0M129.1 69.3h0M119.3 49.1h0M121.9 45.0h0M128.4 77.1h0M128.4 54.7h0M144.3 43.4h0M150.6 65.5h0M119.3 62.6h0M155.7 32.7h0M140.7 65.0h0M109.3 33.9h0M116.6 71.4h0M139.8 72.9h0M124.7 86.5h0M164.3 31.5h0M7.3 51.2h0M135.8 74.5h0M139.9 71.6h0M145.2 48.3h0M141.0 61.5h0M117.0 49.0h0M127.9 61.1h0M137.1 49.3h0M135.3 41.8h0M154.9 51.6h0M142.0 61.3h0M114.6 74.5h0M97.9 28.5h0M126.9 50.8h0M119.1 75.5h0M125.6 55.0h0M125.0 44.2h0M130.3 55.3h0M137.5 80.4h0M155.9 45.0h0M107.3 87.6h0M145.6 33.6h0M117.5 74.8h0M107.7 25.8h0M147.7 44.3h0M139.4 74.6h0M149.8 98.7h0M122.7 76.8h0M167.2 26.0h0M135.4 70.4h0M101.0 43.5h0M97.1 60.0h0M140.3 66.3h0M151.1 66.8h0M128.7 69.7h0M129.3 48.8h0M87.7 79.0h0M126.1 79.7h0M161.8 31.5h0M114.7 59.1h0M85.9 94.8h0M125.5 44.7h0M79.7 94.2h0M110.7 71.4h0M100.4 84.4h0M45.3 76.2h0M157.8 41.8h0M133.9 76.6h0M111.9 82.2h0M126.5 45.5h0M85.8 57.7h0M112.2 68.1h0M126.5 57.7h0M149.9 57.6h0M84.7 92.6h0M138.1 67.1h0M116.9 45.2h0M140.3 79.6h0M135.8 67.4h0M150.7 50.1h0M139.0 51.6h0M158.7 39.6h0M134.3 68.7h0M144.0 59.0h0M19.5 62.8h0M133.0 54.3h0M153.6 41.1h0M90.9 32.5h0M143.0 67.3h0M10.7 24.5h0M122.7 68.4h0M148.2 59.7h0M137.7 43.6h0M123.8 75.3h0M139.8 72.6h0M115.0 48.4h0M146.2 61.9h0M123.7 86.2h0M163.7 31.0h0M122.8 76.6h0M135.3 52.9h0M143.6 87.9h0M153.1 63.3h0M153.1 68.0h0M147.3 96.7h0M19.9 10.1h0M107.2 55.1h0M108.2 73.4h0M136.1 70.9h0M153.0 47.7h0M121.7 53.3h0M138.7 47.9h0M137.5 43.7h0M113.1 38.7h0M115.6 49.5h0M127.4 51.3h0M144.2 78.1h0M89.6 58.5h0M126.8 45.6h0M136.2 59.5h0M147.2 69.8h0M121.8 54.2h0M135.0 61.7h0M160.3 33.0h0M153.6 47.7h0M89.6 66.6h0M163.6 37.3h0M78.9 91.3h0M137.4 55.7h0M121.8 76.4h0M123.8 35.4h0M135.9 55.6h0M145.9 91.9h0M121.6 46.6h0M127.8 78.1h0M134.6 65.7h0M110.2 43.2h0M150.5 55.0h0M95.8 92.7h0M115.1 50.2h0M158.5 50.4h0M154.3 68.8h0M144.0 93.1h0M149.6 43.9h0M133.3 47.7h0M112.8 32.9h0M126.3 79.5h0M92.1 53.9h0M132.5 83.2h0M140.1 44.8h0M155.7 42.8h0M145.1 57.9h0M146.4 67.2h0M137.5 48.7h0M136.4 40.0h0M83.3 91.6h0M142.9 51.5h0M134.5 73.5h0M123.6 54.8h0M129.8 79.3h0M143.0 76.1h0M145.7 46.8h0M138.9 49.7h0M120.6 63.8h0M155.2 37.3h0M150.2 39.5h0M137.5 75.5h0M150.4 70.7h0M125.0 46.3h0M140.2 61.3h0M149.0 97.3h0M151.0 44.6h0M104.9 56.8h0M148.1 65.7h0M94.8 20.4h0M146.5 68.4h0M149.6 58.3h0M99.4 81.2h0M136.0 69.9h0M102.6 91.9h0M152.3 62.5h0M104.8 53.6h0M148.1 42.0h0M122.2 89.1h0M91.1 48.5h0M108.7 58.8h0M139.1 64.9h0M113.4 67.4h0M131.2 69.4h0M92.1 93.3h0M140.2 91.0h0M127.1 50.5h0M105.9 48.7h0M139.5 85.0h0M151.5 49.3h0M122.4 38.3h0M18.9 65.7h0M99.6 52.3h0M122.2 67.3h0M119.0 41.9h0M118.4 62.6h0M146.7 49.4h0M97.2 82.8h0M132.7 54.6h0M144.9 47.1h0M117.1 69.4h0M162.3 25.7h0M130.7 55.0h0M117.7 55.6h0M143.4 46.2h0M110.3 91.9h0M100.1 50.1h0M145.0 50.8h0M141.6 73.3h0M141.8 43.3h0M81.3 100.2h0M137.5 55.2h0M131.8 69.7h0M151.9 56.2h0M142.3 76.5h0M139.8 52.3h0M116.2 64.3h0M141.3 64.9h0M96.8 50.9h0M129.5 66.6h0M143.5 35.7h0M135.0 77.2h0M20.2 15.1h0M125.8 88.1h0M123.3 32.8h0M126.3 28.0h0M124.6 75.9h0M111.5 38.1h0M124.8 59.8h0M99.5 31.9h0M92.7 60.9h0M153.2 51.5h0M149.0 46.0h0M150.9 41.4h0M151.4 45.9h0M119.2 80.6h0M65.8 48.5h0M102.0 78.2h0M122.3 49.7h0M106.6 85.2h0M119.4 44.3h0M128.9 86.8h0M135.4 69.0h0M164.3 30.5h0M123.2 45.8h0M153.8 62.5h0M163.4 33.3h0M146.2 30.9h0M102.9 58.8h0M135.1 85.0h0M95.6 83.3h0M133.6 67.5h0M106.5 65.5h0M114.5 66.5h0M115.1 33.7h0M125.0 81.7h0M148.0 44.3h0M143.3 48.9h0M150.8 59.1h0M132.5 76.0h0M140.0 56.8h0M96.0 64.6h0M129.4 74.4h0M153.3 43.1h0M142.8 90.6h0M101.1 93.3h0M152.1 36.0h0M132.1 49.7h0M108.9 53.1h0M142.1 38.1h0M46.6 35.9h0M144.9 67.9h0M149.3 57.9h0M108.2 54.6h0M94.7 84.4h0M156.1 35.2h0M121.5 86.4h0M128.3 52.0h0M112.9 83.1h0M133.8 56.0h0M126.8 31.6h0M117.9 73.9h0M97.9 82.6h0M135.2 71.8h0M133.0 64.4h0M138.1 60.9h0M141.2 50.7h0M134.2 58.0h0M86.1 67.5h0M103.9 66.1h0M140.6 56.1h0M148.9 61.6h0M132.4 65.9h0M117.0 72.8h0M125.4 44.0h0M138.4 47.6h0M132.4 82.5h0M126.6 58.2h0M116.7 42.0h0M124.3 54.7h0M125.1 53.8h0M111.3 90.7h0M136.2 70.2h0M145.2 100.8h0M163.2 24.5h0M134.3 45.6h0M81.4 102.9h0M153.9 42.3h0M146.9 105.6h0M130.0 85.8h0M141.2 42.7h0M134.9 50.9h0M126.6 66.5h0M104.0 59.0h0M126.0 73.7h0M112.3 30.9h0M114.2 41.0h0M114.0 69.3h0M146.7 62.9h0M149.2 70.4h0M34.6 36.6h0M123.6 51.6h0M140.7 70.5h0M134.0 89.0h0M122.4 70.4h0M147.7 48.7h0M141.8 66.3h0M136.0 67.5h0M141.7 86.5h0M139.5 67.6h0M95.3 55.8h0M100.2 50.8h0M129.1 60.3h0M132.3 61.5h0M156.6 40.1h0M120.3 70.1h0M157.1 33.9h0M124.4 31.5h0M49.3 27.3h0M126.6 75.3h0M124.3 51.7h0M116.1 61.4h0M99.1 20.4h0M22.7 65.2h0M143.5 94.9h0M122.5 42.1h0M116.9 46.6h0M112.2 31.2h0M127.3 45.0h0M103.3 68.3h0M157.5 57.6h0M146.2 56.5h0M134.2 63.7h0M146.0 99.3h0M125.0 41.7h0M126.5 82.6h0M40.1 34.8h0M88.1 71.3h0M81.1 27.5h0M137.9 70.9h0M138.1 43.5h0M150.5 103.3h0M106.0 58.6h0M132.0 51.2h0M123.6 50.6h0M90.2 89.3h0M139.4 93.2h0M151.5 56.5h0M137.2 54.5h0M103.1 26.5h0M144.6 40.4h0M115.6 74.4h0M97.6 55.4h0M121.5 64.4h0M131.7 33.1h0M146.2 55.4h0M31.0 7.5h0M95.8 52.5h0M137.4 52.2h0M126.8 64.1h0M163.0 35.0h0M154.2 54.1h0M158.4 49.0h0M140.0 89.7h0M156.7 52.2h0M158.8 36.2h0M111.2 81.9h0M143.0 49.1h0M144.1 62.2h0M144.0 65.5h0M126.4 44.9h0M137.1 40.1h0M134.4 69.3h0M145.9 64.9h0M139.9 87.9h0M137.3 87.1h0M128.3 61.3h0M122.7 86.1h0M117.7 71.9h0M123.3 66.7h0M151.7 27.2h0M134.0 46.1h0M150.9 67.8h0M116.8 47.4h0M132.2 75.5h0M83.4 95.5h0M148.0 54.6h0M125.8 73.9h0M151.4 33.7h0M158.3 32.8h0M135.5 63.0h0M140.2 48.8h0M130.0 60.1h0M152.1 66.5h0M153.4 61.0h0M128.9 81.2h0M130.3 50.7h0M115.3 34.3h0M104.2 39.3h0M151.0 57.5h0M92.0 77.3h0M87.3 97.4h0M143.7 69.0h0M84.9 21.3h0M146.0 43.8h0M84.6 52.3h0M136.5 72.3h0M144.7 96.1h0M145.6 60.5h0M129.1 52.9h0M135.4 55.0h0M121.8 72.1h0M129.7 55.4h0M85.9 85.5h0M148.1 53.0h0M139.5 67.8h0M122.5 31.5h0M142.2 59.1h0M170.3 16.1h0M91.6 40.0h0M128.5 57.9h0M127.1 76.6h0M132.7 70.4h0M136.2 66.7h0M119.1 69.5h0M171.7 13.4h0M96.6 43.9h0M95.0 89.6h0M120.8 73.4h0M80.2 24.1h0M78.7 98.1h0M137.4 64.7h0M165.5 31.9h0M149.9 33.5h0M143.0 42.5h0M137.5 84.4h0M116.9 40.3h0M139.0 41.8h0M126.7 66.5h0M7.6 29.7h0M11.8 60.4h0M150.2 55.7h0M141.8 85.8h0M128.3 81.6h0M136.8 58.7h0M127.0 64.3h0M98.5 34.7h0M121.4 50.7h0M80.5 75.1h0M142.1 82.4h0M125.6 61.6h0M87.9 82.4h0M106.1 66.6h0M143.0 92.5h0M140.1 70.3h0M117.1 43.0h0M94.8 78.4h0M168.4 14.2h0M124.0 80.2h0M136.0 88.0h0M122.8 74.5h0M122.4 50.6h0M147.3 105.9h0M134.2 62.8h0M132.8 50.2h0M136.1 77.2h0M132.8 74.3h0M111.6 88.9h0M146.0 52.7h0M113.0 52.5h0M121.2 46.3h0M155.1 27.8h0M69.6 83.6h0M159.8 37.9h0M117.5 48.1h0M121.1 74.2h0M143.3 42.4h0M111.3 65.4h0M134.7 57.6h0M124.9 48.8h0M143.2 70.6h0M123.8 73.8h0M127.1 59.6h0M126.4 59.8h0M110.5 68.3h0M98.0 67.2h0M114.1 84.5h0M78.9 95.8h0M127.8 36.4h0M124.3 50.8h0M139.9 79.6h0M81.2 66.0h0M93.9 47.1h0M135.3 53.4h0M128.8 74.5h0M25.5 30.3h0M145.2 94.9h0M129.5 72.7h0M119.6 42.4h0M64.2 55.6h0M41.4 31.7h0M153.3 41.4h0M136.6 67.7h0M121.6 35.3h0M115.4 60.7h0M138.6 48.4h0M132.1 47.5h0M83.2 35.8h0M144.4 66.4h0M141.0 75.4h0M135.3 81.5h0M157.7 51.9h0M97.6 42.4h0M142.5 62.9h0M136.2 53.2h0M91.5 78.4h0M129.1 60.7h0M121.3 75.9h0M129.5 38.4h0M149.9 58.1h0M156.4 61.6h0M125.9 70.7h0M96.1 54.7h0M142.7 90.5h0M136.4 82.7h0M93.5 46.4h0M133.1 70.0h0M120.5 59.5h0M126.7 41.3h0M89.9 21.7h0M121.4 36.2h0M123.1 60.3h0M136.2 42.6h0M130.2 70.1h0M111.2 33.7h0M108.4 85.5h0M145.9 60.8h0M139.5 89.7h0M129.2 53.7h0M125.7 58.3h0M95.5 87.8h0M125.5 44.9h0M124.6 47.6h0M114.9 42.6h0M150.3 53.9h0M105.8 68.2h0M143.6 38.1h0M123.3 64.7h0M114.2 39.4h0M125.8 57.2h0M124.7 30.1h0M132.5 82.3h0M20.3 61.9h0M85.7 75.6h0M144.2 63.4h0M144.9 67.4h0M155.1 39.7h0M119.5 52.9h0M90.9 82.5h0M141.9 78.2h0M144.6 58.7h0M124.0 70.5h0M111.0 59.1h0M98.1 31.0h0M79.8 102.5h0M81.7 71.8h0M158.6 28.5h0M106.5 66.6h0M146.4 43.5h0M138.0 55.9h0M117.9 57.1h0M164.9 27.7h0M140.5 75.3h0M147.4 37.2h0M146.1 42.5h0M175.5 15.3h0M123.4 31.5h0M85.8 82.1h0M142.3 48.3h0M126.6 61.4h0M129.1 74.2h0M131.6 70.0h0M127.5 72.9h0M121.0 60.4h0M128.6 56.0h0M110.8 54.7h0M93.8 87.0h0M156.6 56.8h0M140.1 69.7h0M144.5 68.1h0M137.6 48.1h0M105.7 88.8h0M145.0 66.6h0M132.3 71.8h0M134.1 62.4h0M132.4 67.4h0M154.1 62.1h0M122.8 31.9h0M128.9 36.9h0M130.9 66.1h0M143.4 67.2h0M139.2 55.4h0M127.1 61.6h0M138.8 73.9h0M129.3 73.3h0M148.4 96.5h0M45.0 19.2h0M102.0 72.3h0M128.3 61.4h0M147.4 52.6h0M100.8 70.8h0M149.3 60.9h0M140.2 77.2h0M136.5 63.3h0M122.1 57.3h0M125.1 78.7h0M154.1 41.7h0M134.7 63.3h0M149.8 54.6h0M139.5 37.9h0M123.8 56.2h0M154.8 40.1h0M139.8 70.5h0M145.0 58.7h0M145.8 68.4h0M148.6 63.2h0M146.0 56.0h0M85.0 105.6h0M107.0 56.5h0M128.1 77.2h0M153.2 56.1h0M127.7 46.0h0M90.9 94.7h0M120.5 78.6h0M90.9 50.8h0M148.0 40.6h0M128.9 59.6h0M98.4 30.4h0M154.1 46.0h0M117.9 73.1h0M115.1 65.6h0M144.8 63.3h0M133.8 65.3h0M136.1 75.3h0M147.4 60.5h0M133.3 43.5h0M147.7 99.0h0M141.4 49.0h0M112.8 46.7h0M118.7 70.8h0M140.4 40.2h0M141.4 48.2h0M136.0 73.3h0M133.4 47.0h0M158.8 60.5h0M144.1 49.7h0M136.6 47.9h0M138.9 92.0h0M119.0 61.8h0M126.4 31.9h0M136.2 40.1h0M90.9 61.1h0M141.8 75.1h0M162.6 20.4h0M127.2 53.2h0M102.8 40.6h0M156.3 27.6h0M111.2 91.3h0M134.0 58.5h0M167.1 28.9h0M100.7 61.8h0M151.0 105.4h0M133.5 63.5h0M126.0 75.3h0M145.7 104.0h0M90.0 88.0h0M113.5 37.4h0M156.3 64.7h0M141.6 62.9h0M129.7 31.8h0M158.3 38.2h0M151.0 48.3h0M121.9 68.5h0M84.6 92.2h0M141.4 63.0h0M147.2 69.2h0M79.2 88.9h0M149.6 68.0h0M87.2 91.1h0M109.1 53.5h0M82.9 37.2h0M116.3 74.3h0M145.2 96.0h0M137.5 69.9h0M148.9 99.1h0M99.2 71.0h0M101.9 38.0h0M135.0 69.6h0M122.3 47.2h0M133.5 63.4h0M155.7 60.1h0M114.6 77.4h0M79.1 92.5h0M95.4 66.6h0M121.3 39.4h0M130.1 51.5h0M142.4 56.5h0M127.3 60.3h0M147.4 45.0h0M102.9 70.4h0M41.5 10.5h0M138.1 68.0h0M129.0 65.0h0M145.2 39.8h0M139.5 48.5h0M91.6 84.0h0M143.7 65.0h0M101.4 50.4h0M122.4 76.7h0M149.7 67.6h0M93.5 58.1h0M150.3 53.6h0M144.3 70.9h0M133.0 71.6h0M98.7 37.3h0M134.7 61.6h0M112.9 65.5h0M119.4 46.6h0M84.6 97.4h0M131.4 44.8h0M133.4 58.0h0M140.5 90.8h0M138.4 40.8h0M155.1 65.7h0M127.2 49.5h0M106.7 82.7h0M136.6 41.6h0M144.6 57.4h0M123.6 56.7h0M124.9 31.9h0M138.2 44.2h0M91.7 38.1h0M121.3 70.9h0M118.7 63.7h0M137.9 78.2h0M100.4 46.1h0M134.2 47.7h0M80.7 103.0h0M142.9 66.8h0M91.8 80.5h0M135.7 45.3h0M140.8 66.1h0M162.2 37.4h0M155.9 65.6h0M88.5 47.9h0M160.2 38.7h0M106.9 87.8h0M121.5 39.8h0M137.1 89.9h0M17.8 12.4h0M147.7 67.4h0M160.1 33.2h0M80.1 104.8h0M158.8 62.4h0M122.5 81.0h0M133.8 51.7h0M157.2 22.6h0M122.2 51.8h0M152.7 56.4h0M128.1 50.8h0M148.2 53.6h0M119.6 67.3h0M79.9 34.3h0M158.5 30.8h0M124.4 79.9h0M124.4 65.2h0M134.4 64.5h0M139.6 63.8h0M145.4 49.2h0M118.9 65.4h0M94.5 30.4h0M134.8 73.2h0M135.0 61.2h0M127.4 60.9h0M92.8 95.7h0M139.5 48.8h0M113.3 58.5h0M142.1 65.7h0M152.5 67.4h0M126.4 83.6h0M133.3 59.7h0M138.7 87.3h0M152.1 59.2h0M143.6 46.3h0M149.0 38.3h0M90.8 95.2h0M106.1 54.3h0M54.2 21.1h0M117.4 67.1h0M145.3 61.3h0M142.0 90.1h0M19.2 51.7h0M141.1 61.3h0M110.9 80.4h0M128.1 46.1h0M147.5 43.2h0M11.8 45.4h0M134.8 63.8h0M114.8 78.6h0M122.6 42.7h0M133.7 51.5h0M76.3 92.9h0M111.0 89.6h0M144.4 51.9h0M131.3 46.5h0M75.9 96.9h0M154.5 41.1h0M143.6 43.9h0M153.3 40.5h0M15.6 65.2h0M123.4 86.1h0M88.5 42.6h0M129.5 61.1h0M129.8 44.2h0M144.4 73.6h0M165.4 33.3h0M143.3 97.2h0M148.2 62.7h0M113.8 90.6h0M122.4 60.4h0M146.6 64.0h0M147.6 59.8h0M146.8 50.5h0M91.9 72.3h0M151.8 60.2h0M157.1 42.0h0M123.4 67.7h0M146.7 44.6h0M83.9 105.2h0M130.7 62.0h0M142.1 59.1h0M138.4 46.9h0M142.5 60.4h0M99.2 34.5h0M140.8 40.0h0M142.8 59.8h0M129.2 46.0h0M83.1 99.2h0M133.5 70.2h0M143.2 33.8h0M115.5 40.8h0M117.6 54.8h0M109.0 34.6h0M158.6 30.5h0M154.6 40.8h0M77.9 63.7h0M140.1 67.7h0M139.1 62.7h0M125.4 68.3h0M91.7 53.5h0M129.8 80.7h0M127.7 65.1h0M107.3 69.8h0M87.5 20.4h0M141.4 81.4h0M147.1 95.6h0M131.5 55.6h0M117.0 43.2h0M122.2 61.3h0M106.9 90.1h0M98.6 61.4h0M116.9 59.2h0M128.5 65.9h0M127.9 73.9h0M129.6 52.5h0M103.2 67.3h0M116.0 66.3h0M140.2 97.4h0M135.0 53.6h0M141.8 72.3h0M113.8 81.6h0M128.1 88.5h0M98.4 85.1h0M98.2 59.2h0M113.8 51.6h0M137.2 53.6h0M105.3 68.3h0M147.4 40.8h0M99.9 76.2h0M107.7 85.5h0M103.8 39.2h0M149.7 66.1h0M125.3 86.2h0M140.1 59.6h0M105.0 49.9h0M125.7 82.8h0M127.2 48.7h0M130.2 76.9h0M149.6 65.8h0M140.8 64.8h0M138.0 74.9h0M125.0 51.9h0M135.8 58.3h0M166.0 27.9h0M85.2 75.6h0M155.2 40.4h0M121.8 66.8h0M121.4 86.1h0M131.8 69.9h0M144.4 71.8h0M86.8 87.7h0M129.7 76.5h0M151.4 67.9h0M123.4 63.2h0M129.4 55.2h0M163.9 23.8h0M140.9 55.3h0M83.5 99.8h0M141.5 46.8h0M137.3 69.9h0M74.6 65.5h0M113.0 66.2h0M86.6 56.8h0M135.2 76.3h0M144.3 46.4h0M122.7 85.0h0M92.6 38.5h0M146.2 63.3h0M142.9 67.8h0M149.1 46.7h0M150.6 61.8h0M102.7 51.1h0M110.0 38.5h0M127.3 48.8h0M109.2 52.4h0M156.9 54.0h0M129.5 80.9h0M129.6 79.1h0M98.5 76.7h0M118.9 44.1h0M123.9 69.5h0M135.0 52.4h0M95.6 64.1h0M136.8 78.1h0M156.4 63.0h0M145.7 68.5h0M124.5 72.7h0M15.4 57.8h0M112.7 45.3h0M139.7 92.1h0M146.1 62.5h0M131.5 84.1h0M144.5 93.1h0M126.5 68.0h0M125.9 51.3h0M128.3 52.2h0M106.1 67.6h0M155.8 25.1h0M151.7 47.3h0M100.4 81.3h0M144.3 77.0h0M80.7 80.7h0M124.7 33.6h0M138.7 81.4h0M141.7 80.0h0M109.6 76.0h0M103.7 50.3h0M141.1 65.2h0M144.4 71.3h0M123.7 52.8h0M159.0 40.2h0M132.1 79.5h0M83.6 85.7h0M129.5 39.5h0M140.2 51.5h0M124.5 44.6h0M138.1 51.7h0M141.8 63.6h0M120.4 64.5h0M110.3 77.9h0M121.2 62.2h0M155.3 63.1h0M60.8 50.2h0M134.3 81.2h0M150.5 102.2h0M159.0 40.7h0M89.9 93.3h0M117.4 63.8h0M110.4 41.7h0M107.5 82.2h0M116.5 70.9h0M122.3 45.9h0M150.2 52.7h0M148.0 65.5h0M92.4 74.6h0M77.4 94.4h0M157.5 43.9h0M142.0 46.8h0M137.9 46.4h0M98.8 68.5h0M125.3 45.0h0M152.6 62.8h0M161.4 33.1h0M94.4 50.1h0M130.9 72.7h0M152.2 53.3h0M137.0 77.6h0M137.5 71.2h0M125.8 64.6h0M130.3 57.5h0M126.6 22.1h0M145.0 32.1h0M139.3 54.2h0M139.2 75.4h0M137.5 73.1h0M133.0 69.7h0M151.8 41.5h0M96.8 18.3h0M143.0 42.5h0M119.6 65.1h0M121.6 37.9h0M165.7 22.5h0M119.8 83.7h0M117.0 80.0h0M112.3 37.8h0M139.2 67.4h0M124.5 75.6h0M152.1 49.8h0M135.7 66.1h0M127.4 36.3h0M93.2 53.8h0M117.8 55.7h0M148.9 65.4h0M149.4 37.8h0M157.7 20.6h0M165.0 36.3h0M136.5 47.4h0M105.2 38.2h0M121.9 48.3h0M136.9 80.3h0M115.6 76.8h0M130.2 53.8h0M103.0 52.9h0M126.0 76.3h0M139.1 77.0h0M128.2 39.9h0M150.2 35.4h0M140.3 48.6h0M137.9 48.5h0M88.5 22.8h0M161.9 23.3h0M131.1 75.3h0M130.3 60.6h0M85.9 79.6h0M135.1 53.5h0M165.3 22.1h0M148.6 63.5h0M148.4 47.6h0M118.8 69.4h0M116.7 24.9h0M135.6 80.9h0M140.7 52.0h0M127.3 44.0h0M129.5 52.7h0M85.9 37.7h0M145.8 50.7h0M136.6 44.6h0M121.4 81.7h0M117.1 59.6h0M142.4 62.8h0M155.9 38.1h0M144.3 47.5h0M113.9 70.6h0M150.1 47.7h0M85.5 76.1h0M120.5 58.2h0M139.6 44.3h0M121.9 48.9h0M148.3 51.1h0M97.6 75.8h0M149.7 63.2h0M141.6 83.6h0M153.4 33.3h0M53.8 50.7h0M115.8 73.4h0M137.1 71.9h0M118.3 42.2h0M102.5 70.4h0M126.0 29.6h0M128.0 72.6h0M126.0 62.0h0M122.1 66.1h0M121.7 70.6h0M89.4 85.9h0M86.0 92.1h0M139.1 58.8h0M148.8 51.3h0M114.4 36.3h0M126.4 87.8h0M114.4 78.6h0M148.4 43.2h0M155.7 59.0h0M118.7 73.6h0M146.8 58.5h0M142.4 71.4h0M108.2 48.6h0M160.5 33.0h0M127.3 70.3h0M155.3 43.3h0M127.0 61.3h0M143.5 75.4h0M77.4 78.0h0M139.5 86.2h0M157.0 49.9h0M103.9 29.5h0M133.7 62.9h0M139.3 62.5h0M137.3 70.6h0M90.6 58.9h0M148.4 39.0h0M102.2 23.2h0M129.6 42.2h0M123.3 61.9h0M116.2 75.6h0M154.7 55.1h0"/>
<path stroke="#ffd700" stroke-width="1" d="M77.8 81.5h0M96.4 69.2h0M95.9 62.1h0M139.5 45.5h0M133.1 82.8h0M128.9 84.8h0M115.0 85.6h0M8.6 35.7h0M9.3 39.7h0M3.5 33.3h0M38.0 65.7h0M25.9 74.3h0M57.4 66.2h0M50.6 51.0h0M62.9 55.9h0M63.3 43.6h0M59.5 35.8h0M69.3 31.6h0M77.2 20.6h0M47.5 14.6h0M39.4 15.8h0M44.7 17.9h0M47.0 22.2h0M42.6 30.8h0M40.9 33.2h0M34.6 33.4h0M33.0 56.6h0M158.5 22.6h0M171.0 17.9h0M152.8 34.3h0M153.9 29.7h0M147.9 40.9h0M146.4 42.4h0M142.2 46.9h0M149.3 45.6h0M148.1 52.8h0M157.1 49.5h0M146.7 69.5h0M144.7 78.4h0M136.6 85.5h0M128.4 89.3h0M124.9 88.6h0M104.7 81.2h0M103.7 86.3h0M97.8 77.5h0M82.4 75.4h0M75.2 85.5h0M87.3 97.1h0M82.8 72.5h0M85.8 54.6h0M83.6 45.7h0M89.8 39.1h0M101.6 32.5h0M96.4 26.2h0M105.4 33.3h0M104.4 29.1h0M121.9 27.9h0M118.6 50.7h0M121.5 51.7h0M119.9 46.5h0M124.7 47.0h0M122.7 60.9h0M115.5 61.1h0M115.3 67.4h0M116.1 73.1h0M119.4 70.5h0M125.5 73.3h0M134.5 72.4h0M153.7 62.2h0M154.2 65.8h0M147.7 94.6h0M14.6 9.1h0M17.7 2.6h0M24.3 15.3h0M34.7 68.0h0M28.5 67.0h0M68.4 83.5h0M127.5 32.9h0M135.8 61.2h0M113.2 46.9h0"/>
<polyline points="17.7,2.6 17.6,5.9 16.8,7.3 16.1,8.6 14.6,9.1 13.9,12.1 13.5,15.4 11.8,17.5 10.6,21.0" stroke="#ffa500" stroke-width="1.0" stroke-opacity="0.8" stroke-linejoin="round"/>
<polyline points="5.2,47.2 5.7,48.1 6.4,49.4" stroke="#ffa500" stroke-width="1.0" stroke-opacity="0.8" stroke-linejoin="round"/>
<polyline points="5.7,47.2 7.3,45.9 9.1,44.7" stroke="#ffa500" stroke-width="1.0" stroke-opacity="0.8" stroke-linejoin="round"/>
<polyline points="9.1,44.7 9.0,47.4 9.6,48.9 10.8,50.8 12.5,53.7 13.7,55.8 13.6,59.9" stroke="#ffa500" stroke-width="1.0" stroke-opacity="0.8" stroke-linejoin="round"/>
<polyline points="10.3,63.3 11.8,64.6 13.7,65.3 14.8,66.0 15.8,67.5 16.4,69.0 17.0,70.2 17.5,72.3" stroke="#ffa500" stroke-width="1.0" stroke-opacity="0.8" stroke-linejoin="round"/>
<polyline points="14.8,66.0 16.3,66.3 17.7,67.1 18.1,66.5" stroke="#ffa500" stroke-width="1.0" stroke-opacity="0.8" stroke-linejoin="round"/>
<polyline points="41.2,40.3 41.1,42.3 41.4,44.6" stroke="#ffa500" stroke-width="1.0" stroke-opacity="0.8" stroke-linejoin="round"/>
<polyline points="62.3,45.8 62.3,49.5 62.4,53.3 62.9,55.9" stroke="#ffa500" stroke-width="1.0" stroke-opacity="0.8" stroke-linejoin="round"/>
<polyline points="34.5,72.4 35.3,72.8 36.5,73.2" stroke="#ffa500" stroke-width="1.0" stroke-opacity="0.8" stroke-linejoin="round"/>
<polyline points="167.1,29.7 166.6,32.2 164.7,34.5 162.5,35.4 160.9,37.0 159.9,38.6 158.9,40.1 158.0,41.3 157.0,42.7 156.0,43.8 153.0,46.4 152.0,48.3 151.2,51.0 151.9,54.2" stroke="#ffa500" stroke-width="1.0" stroke-opacity="0.8" stroke-linejoin="round"/>
<polyline points="151.1,104.8 151.0,102.5 150.9,100.8 149.5,98.6 148.1,95.8" stroke="#ffa500" stroke-width="1.0" stroke-opacity="0.8" stroke-linejoin="round"/>
<polyline points="141.3,97.1 143.1,96.4 144.9,94.0 145.8,91.0" stroke="#ffa500" stroke-width="1.0" stroke-opacity="0.8" stroke-linejoin="round"/>
<polyline points="86.3,80.4 88.2,80.3" stroke="#ffa500" stroke-width="1.0" stroke-opacity="0.8" stroke-linejoin="round"/>
<polyline points="84.7,90.9 83.7,92.4 81.9,94.4" stroke="#ffa500" stroke-width="1.0" stroke-opacity="0.8" stroke-linejoin="round"/>
<polyline points="131.2,73.8 134.3,71.0 137.4,68.2 138.9,67.6 142.4,65.8 143.9,62.3 145.3,61.7 148.3,61.6 149.3,62.3" stroke="#ffa500" stroke-width="1.0" stroke-opacity="0.8" stroke-linejoin="round"/>
<polyline points="115.6,35.8 116.2,38.0 116.8,40.7 118.1,41.7" stroke="#ffa500" stroke-width="1.0" stroke-opacity="0.8" stroke-linejoin="round"/>
<polyline points="130.7,36.9 128.8,37.6" stroke="#ffa500" stroke-width="1.0" stroke-opacity="0.8" stroke-linejoin="round"/>
<polyline points="135.5,40.1 136.3,41.7 136.9,42.8" stroke="#ffa500" stroke-width="1.0" stroke-opacity="0.8" stroke-linejoin="round"/>
<path stroke="#ffa500" stroke-width="4" d="M159.9 38.6h0M14.8 66.0h0M116.8 40.7h0M88.2 80.3h0M93.3 93.0h0M152.0 48.3h0M157.0 42.7h0M151.0 104.2h0M131.2 73.8h0M167.1 29.7h0M35.3 72.8h0M5.6 47.4h0M130.7 36.9h0M16.8 7.3h0"/>
<path stroke="#ffa500" stroke-width="2.8" d="M86.3 80.4h0M99.1 28.5h0M17.5 72.3h0M141.3 97.1h0M62.3 49.5h0M109.7 55.0h0M153.0 46.4h0M144.9 94.0h0M142.4 65.8h0M81.9 94.4h0M13.5 15.4h0M9.1 44.7h0M141.5 43.6h0M27.1 59.5h0M84.7 90.9h0M128.0 51.3h0M95.6 53.5h0M132.4 47.0h0M122.4 49.1h0M135.5 40.1h0M6.4 49.4h0M121.9 64.5h0M156.2 56.3h0M115.6 35.8h0M142.7 86.7h0M85.8 68.9h0M149.3 62.3h0M111.3 69.7h0M112.6 91.6h0M124.4 55.3h0M41.1 42.3h0M17.7 67.1h0M15.8 67.5h0M162.2 37.7h0M159.3 38.7h0"/>
<path stroke="#ffa500" stroke-width="2" d="M166.6 32.2h0M151.9 54.2h0M162.8 33.4h0M143.1 32.8h0M123.0 75.6h0M146.7 30.9h0M122.5 35.5h0M38.3 78.5h0M91.0 66.0h0M12.5 53.7h0M91.2 44.4h0M54.8 68.5h0M158.7 30.5h0M13.6 59.9h0M131.6 64.3h0M53.8 82.6h0M108.5 89.7h0M137.4 68.2h0M142.6 71.1h0M147.2 75.6h0M128.7 48.4h0M155.4 40.2h0M30.3 27.9h0M98.5 42.9h0M103.7 71.7h0M151.2 30.5h0M30.4 10.6h0M145.3 61.7h0M129.7 40.1h0M111.1 36.0h0M86.6 59.5h0M151.4 42.5h0M127.4 68.7h0M111.6 81.7h0M128.6 55.7h0M62.4 53.3h0M100.0 61.4h0M126.1 36.0h0M15.3 42.2h0M119.7 87.9h0M85.8 101.2h0M82.5 107.9h0M123.2 70.5h0M144.3 102.2h0M141.4 99.6h0M41.2 40.3h0M41.4 44.6h0M162.5 35.4h0M158.0 41.3h0M148.3 61.6h0M150.9 100.8h0M18.1 66.5h0M16.1 8.6h0M160.9 37.0h0"/>
<path stroke="#ffa500" stroke-width="1.3" d="M165.0 30.7h0M136.3 41.7h0M125.0 43.2h0M154.1 37.0h0M98.9 81.3h0M70.6 76.3h0M122.7 88.8h0M133.3 87.6h0M143.6 79.1h0M139.7 73.8h0M125.2 80.3h0M168.0 23.7h0M165.2 27.4h0M88.8 34.7h0M88.7 20.7h0M54.4 22.9h0M148.1 95.7h0M145.8 91.0h0M143.1 96.4h0M141.7 91.7h0M140.8 89.9h0M152.9 68.3h0M143.9 56.8h0M136.4 65.2h0M118.6 57.1h0M111.2 46.1h0M112.3 39.3h0M111.3 49.9h0M115.7 48.2h0M104.4 41.0h0M107.9 42.8h0M88.9 46.3h0M92.0 53.7h0M71.2 69.4h0M86.9 85.5h0M84.8 87.3h0M97.9 91.6h0M105.4 90.8h0M101.1 90.9h0M69.4 82.9h0M93.5 82.1h0M97.2 66.4h0M102.9 53.9h0M102.3 20.8h0M114.8 29.6h0M128.5 34.5h0M123.1 38.2h0M121.3 41.0h0M140.0 36.6h0M139.0 41.2h0M136.9 42.8h0M137.7 53.2h0M135.0 53.3h0M136.6 62.1h0M146.4 55.8h0M149.1 65.5h0M150.1 71.1h0M134.3 77.2h0M129.7 79.4h0M120.4 77.2h0M9.2 28.2h0M10.6 21.0h0M11.8 17.5h0M20.8 12.8h0M24.4 15.3h0M10.3 63.3h0M9.6 48.9h0M9.0 47.4h0M5.1 44.2h0M53.0 80.1h0M62.3 45.8h0M162.8 31.9h0M159.9 44.6h0M156.0 43.8h0M153.3 43.1h0M152.1 43.7h0M154.3 41.6h0M151.2 51.0h0M143.8 61.9h0M138.9 67.6h0M116.0 89.6h0M77.9 102.2h0M85.3 109.0h0M89.7 89.2h0M113.8 30.8h0M119.9 63.1h0M149.5 98.6h0M144.9 104.2h0M11.8 64.6h0M20.5 68.4h0M13.7 55.8h0M6.4 52.3h0M17.6 5.9h0M128.8 37.6h0M94.9 54.4h0"/>
<path stroke="#ffa500" stroke-width="1.1" stroke-opacity="0.85" d="M148.4 57.9h0M137.3 58.7h0M124.6 44.5h0M151.5 63.8h0M101.5 69.1h0M167.1 31.0h0M87.0 85.3h0M145.0 44.3h0M130.5 84.0h0M111.0 79.9h0M113.4 65.3h0M160.3 31.6h0M99.2 68.0h0M147.8 65.7h0M85.1 104.4h0M93.6 41.0h0M107.4 64.8h0M136.7 63.6h0M121.1 41.3h0M149.5 51.5h0M82.1 90.0h0M143.5 50.2h0M146.6 99.4h0M165.0 21.6h0M131.5 72.3h0M150.5 61.5h0M121.0 79.1h0M111.7 91.9h0M84.8 90.8h0M144.5 94.2h0M166.4 24.4h0M160.4 36.2h0M120.5 57.9h0M87.5 71.8h0M86.0 45.0h0M147.9 72.8h0M141.8 60.8h0M128.5 48.8h0M120.1 51.2h0M143.3 72.6h0M153.0 34.2h0M97.1 83.8h0M118.1 45.4h0M155.1 68.0h0M113.1 34.1h0M151.5 58.9h0M165.5 30.2h0M153.3 54.3h0M112.7 94.2h0M134.7 72.1h0M136.1 40.8h0M117.4 60.8h0M120.2 74.4h0M141.5 66.0h0M85.8 26.3h0M140.7 57.0h0M107.2 66.1h0M120.2 48.6h0M126.4 48.4h0M137.9 54.0h0M150.1 44.0h0M122.5 29.3h0M156.4 60.4h0M99.8 36.2h0M135.4 50.0h0M133.3 73.2h0M120.6 44.2h0M110.2 86.8h0M147.2 31.0h0M128.0 46.7h0M78.1 54.6h0M143.1 60.7h0M124.9 52.1h0M130.7 80.6h0M129.3 39.9h0M112.7 86.7h0M152.4 42.6h0M145.6 72.0h0M128.1 36.8h0M99.1 66.0h0M155.3 38.1h0M101.8 43.3h0M149.7 56.8h0M129.8 72.8h0M149.3 59.4h0M134.3 58.8h0M138.5 40.8h0M127.9 60.0h0M116.7 58.9h0M111.4 38.8h0M126.1 41.2h0M92.0 77.6h0M140.7 57.9h0M133.2 73.5h0M112.6 76.1h0M167.7 25.6h0M89.6 78.7h0M135.3 40.2h0M143.7 57.7h0M121.3 37.8h0M142.6 90.5h0M115.1 34.8h0M157.3 46.6h0M139.3 59.2h0M86.5 79.5h0M132.4 72.0h0M123.4 75.5h0M104.1 65.0h0M147.6 62.4h0M151.1 43.0h0M150.2 59.3h0M85.5 70.5h0M147.5 64.0h0M152.6 62.8h0M139.8 69.9h0M126.0 66.7h0M149.3 56.1h0M139.0 61.2h0M127.9 55.8h0M113.6 72.9h0M140.9 56.2h0M51.5 26.3h0M145.8 73.7h0M141.3 35.0h0M122.7 59.5h0M132.6 89.4h0M114.8 30.4h0M86.9 82.3h0M149.4 49.5h0M109.8 41.9h0M127.4 79.7h0M145.7 66.5h0M127.8 67.2h0M158.6 41.2h0M143.1 61.4h0M148.9 48.6h0M138.7 78.2h0M151.7 62.6h0M121.9 38.9h0M123.4 57.9h0M90.6 94.7h0M128.1 46.1h0M97.7 81.7h0M117.1 47.9h0M145.2 70.3h0M143.4 95.4h0M124.3 69.5h0M133.4 70.3h0M118.3 80.7h0M137.5 66.1h0M127.5 48.3h0M128.0 63.1h0M129.3 40.6h0M129.9 70.4h0M145.1 65.6h0M78.4 21.7h0M85.4 61.1h0M153.1 53.8h0M110.5 64.9h0M140.1 66.3h0M159.0 28.4h0M146.7 63.2h0M117.4 43.9h0M124.1 68.2h0M97.8 86.8h0M125.3 57.4h0M99.3 69.3h0M109.8 44.5h0M148.8 99.1h0M129.7 63.5h0M141.4 85.4h0M98.4 57.5h0M164.5 34.2h0M113.5 76.1h0M108.0 84.6h0M148.2 73.0h0M29.3 70.0h0M139.0 45.8h0M119.6 56.9h0M122.5 75.1h0M113.5 37.9h0M94.7 64.4h0M87.5 100.2h0M149.3 102.0h0M151.1 66.4h0M149.7 37.8h0M140.1 48.6h0M135.2 46.6h0M107.7 65.1h0M100.6 87.3h0M112.4 80.7h0M143.2 50.8h0M116.9 65.6h0M141.9 71.5h0M99.5 84.2h0M85.8 85.7h0M138.6 62.2h0M131.5 68.4h0M151.9 32.9h0M156.9 42.5h0M113.4 67.5h0M107.0 77.3h0M141.8 68.2h0M107.8 56.3h0M113.8 33.0h0M87.6 62.9h0M141.6 61.0h0M150.8 106.0h0M92.4 61.9h0M123.8 60.6h0M124.1 80.3h0M149.8 67.7h0M122.0 45.0h0M137.1 69.9h0M161.6 32.8h0M146.6 62.0h0M78.8 21.1h0M127.8 83.6h0M121.3 87.3h0M113.9 60.1h0M147.5 64.2h0M139.8 79.7h0M125.4 59.4h0M126.2 38.5h0M151.3 37.3h0M129.3 70.3h0M132.8 74.3h0M126.5 29.5h0M153.6 44.7h0M87.4 60.2h0M90.3 42.7h0M164.2 35.0h0M113.9 85.4h0M134.6 74.0h0M114.7 58.9h0M159.8 30.9h0M150.7 100.4h0M130.8 53.6h0M150.3 102.7h0M112.5 72.7h0M127.8 60.4h0M118.7 62.7h0M146.8 42.0h0M129.5 44.2h0M150.5 42.6h0M125.1 74.1h0M131.9 67.5h0M102.4 70.7h0M161.4 34.5h0M123.5 55.8h0M11.5 53.0h0M143.9 71.4h0M150.1 70.9h0M137.2 54.2h0M166.0 24.0h0M84.6 91.0h0M120.1 77.7h0M159.0 40.1h0M135.7 78.0h0M142.9 96.3h0M120.3 28.5h0M147.6 51.2h0M107.7 64.4h0M121.1 48.4h0M141.1 56.2h0M109.9 91.3h0M154.7 22.4h0M87.2 28.3h0M157.2 59.6h0M128.0 61.9h0M154.6 53.4h0M128.5 41.1h0M124.8 68.8h0M119.0 55.3h0M149.2 57.0h0M144.9 72.3h0M127.3 57.2h0M107.7 78.7h0M165.2 22.6h0M125.6 24.6h0M149.7 49.3h0M92.5 89.4h0M151.6 33.1h0M139.9 71.9h0M87.8 88.7h0M147.1 70.1h0M145.2 51.5h0M157.8 23.0h0M145.0 98.0h0M124.9 78.4h0M169.3 31.6h0M109.0 59.5h0M112.9 77.7h0M124.5 40.2h0M136.9 60.4h0M140.3 78.8h0M151.2 60.3h0M111.9 37.1h0M138.0 64.6h0M128.2 63.4h0M119.5 67.2h0M130.4 68.4h0M158.8 31.1h0M89.3 75.7h0M117.2 61.3h0M83.0 105.4h0M108.8 36.2h0M138.6 51.9h0M128.7 66.3h0M112.2 74.1h0M141.4 80.3h0M109.8 21.7h0M121.5 54.4h0M143.4 68.7h0M97.8 47.5h0M150.1 62.7h0M165.1 28.1h0M155.1 41.3h0M158.8 43.4h0M123.3 55.4h0M129.6 67.4h0M146.8 72.3h0M125.5 72.9h0M120.3 72.5h0M93.1 29.2h0M135.6 53.5h0M138.4 48.5h0M106.6 90.7h0M137.1 45.7h0M74.9 80.6h0M123.9 48.1h0M143.4 63.4h0M138.5 80.2h0M147.2 96.5h0M83.2 49.5h0M125.0 69.8h0M138.1 71.5h0M140.0 50.1h0M141.6 60.0h0M137.4 86.7h0M136.7 56.1h0M138.1 67.3h0M149.2 49.6h0M150.1 32.8h0M124.4 39.3h0M168.5 10.2h0M130.6 65.7h0M126.5 62.5h0M83.7 25.0h0M123.2 69.5h0M135.5 75.5h0M157.9 23.1h0M132.0 65.8h0M158.8 39.5h0M94.1 81.5h0M133.1 61.8h0M108.9 33.9h0M140.7 80.2h0M138.0 72.0h0M141.2 69.4h0M153.4 37.7h0M40.3 44.3h0M146.1 97.6h0M150.6 65.8h0M150.7 65.7h0M131.1 71.7h0M92.6 47.0h0M122.1 70.9h0M109.7 66.7h0M86.3 76.8h0M155.7 54.9h0M143.0 61.6h0M140.4 65.3h0M139.6 43.1h0M147.5 61.4h0M78.6 51.9h0M138.5 67.3h0M136.0 62.3h0M125.4 42.0h0M134.1 63.7h0M95.0 92.5h0M133.6 70.6h0M151.9 65.0h0M133.2 73.0h0M124.1 73.5h0M132.0 47.0h0M145.6 59.8h0M154.6 50.7h0M130.6 50.9h0M110.7 39.6h0M103.0 57.3h0M139.1 41.3h0M127.1 49.8h0M153.0 52.6h0M79.2 94.6h0M142.7 41.9h0M125.3 51.1h0M136.6 51.9h0M137.9 73.6h0M99.8 58.5h0M131.3 32.4h0"/>
<path stroke="#ff7f50" stroke-width="1.1" stroke-opacity="0.85" d="M116.6 64.6h0M84.7 81.0h0M146.8 70.4h0M104.4 88.0h0M120.6 70.1h0M97.3 50.3h0M115.0 38.6h0M136.2 65.8h0M141.1 61.5h0M84.0 93.2h0M166.2 25.4h0M143.9 62.1h0M132.2 61.4h0M159.8 34.9h0M118.6 79.2h0M151.7 69.6h0M154.3 64.4h0M142.1 77.7h0M114.7 29.0h0M140.6 58.5h0M143.2 88.6h0M85.2 108.3h0M79.7 101.8h0M144.1 58.5h0M130.3 44.2h0M134.9 66.2h0M84.5 42.2h0M150.5 59.9h0M147.3 65.7h0M153.6 29.3h0M123.6 55.4h0M163.7 22.5h0M100.9 56.9h0M31.2 28.0h0M20.4 14.3h0M117.7 73.2h0M130.5 43.0h0M140.2 56.9h0M111.5 80.3h0M97.6 38.7h0M13.4 56.4h0M101.6 81.9h0M149.3 31.0h0M153.5 51.6h0M156.5 43.6h0M145.7 74.8h0M135.0 59.2h0M144.2 90.2h0M144.5 55.1h0M84.5 99.6h0M144.5 63.2h0M142.9 80.4h0M120.5 58.8h0M151.4 67.6h0M88.4 43.7h0"/>
<path stroke="#ff0000" stroke-width="2.6" d="M159.9 38.6h0M14.8 66.0h0M116.8 40.7h0M88.2 80.3h0M93.3 93.0h0M152.0 48.3h0M157.0 42.7h0M151.0 104.2h0M131.2 73.8h0M167.1 29.7h0M35.3 72.8h0M5.6 47.4h0M130.7 36.9h0M16.8 7.3h0"/>
<path stroke="#ff0000" stroke-width="1.8" d="M86.3 80.4h0M99.1 28.5h0M17.5 72.3h0M141.3 97.1h0M62.3 49.5h0M109.7 55.0h0M153.0 46.4h0M144.9 94.0h0M142.4 65.8h0M81.9 94.4h0M13.5 15.4h0M9.1 44.7h0M141.5 43.6h0M27.1 59.5h0M84.7 90.9h0M128.0 51.3h0M95.6 53.5h0M132.4 47.0h0M122.4 49.1h0M135.5 40.1h0M6.4 49.4h0M121.9 64.5h0M156.2 56.3h0M115.6 35.8h0M142.7 86.7h0M85.8 68.9h0M149.3 62.3h0M111.3 69.7h0M112.6 91.6h0M124.4 55.3h0M41.1 42.3h0M17.7 67.1h0M15.8 67.5h0M162.2 37.7h0M159.3 38.7h0"/>
<path stroke="#ff0000" stroke-width="1.1" stroke-opacity="0.85" d="M122.5 56.9h0M147.9 65.7h0M133.9 65.0h0M85.0 64.9h0M128.6 32.9h0M123.5 71.8h0M147.5 74.1h0M151.2 50.8h0M165.2 34.3h0M105.5 65.7h0M136.2 64.2h0M63.4 19.7h0M150.3 53.6h0M156.9 32.5h0M105.7 28.9h0M104.9 32.9h0M148.1 96.7h0M138.8 70.3h0M122.9 59.8h0M170.3 17.8h0M120.0 87.1h0M145.5 49.5h0M124.2 87.8h0M154.9 47.3h0M136.3 65.6h0M128.9 75.9h0M125.7 49.0h0M125.4 77.0h0M153.5 43.2h0M154.2 56.2h0M82.9 73.6h0M124.5 68.8h0M108.1 63.3h0M145.9 47.8h0M129.6 71.9h0M115.5 57.3h0M114.7 40.7h0M82.9 73.7h0M124.5 50.6h0M128.9 71.8h0M143.8 68.8h0M115.6 41.7h0M155.2 34.2h0M115.9 69.7h0"/>
<path stroke="#ff0000" stroke-width="1" d="M166.6 32.2h0M151.9 54.2h0M162.8 33.4h0M143.1 32.8h0M123.0 75.6h0M146.7 30.9h0M122.5 35.5h0M38.3 78.5h0M91.0 66.0h0M12.5 53.7h0M91.2 44.4h0M54.8 68.5h0M158.7 30.5h0M13.6 59.9h0M131.6 64.3h0M53.8 82.6h0M108.5 89.7h0M137.4 68.2h0M142.6 71.1h0M147.2 75.6h0M128.7 48.4h0M155.4 40.2h0M30.3 27.9h0M98.5 42.9h0M103.7 71.7h0M151.2 30.5h0M30.4 10.6h0M145.3 61.7h0M129.7 40.1h0M111.1 36.0h0M86.6 59.5h0M151.4 42.5h0M127.4 68.7h0M111.6 81.7h0M128.6 55.7h0M62.4 53.3h0M100.0 61.4h0M126.1 36.0h0M15.3 42.2h0M119.7 87.9h0M85.8 101.2h0M82.5 107.9h0M123.2 70.5h0M144.3 102.2h0M141.4 99.6h0M41.2 40.3h0M41.4 44.6h0M162.5 35.4h0M158.0 41.3h0M148.3 61.6h0M150.9 100.8h0M18.1 66.5h0M16.1 8.6h0M160.9 37.0h0"/>
<path stroke="#b22222" stroke-width="1.4" d="M159.9 38.6h0M14.8 66.0h0M116.8 40.7h0M88.2 80.3h0M93.3 93.0h0M152.0 48.3h0M157.0 42.7h0M151.0 104.2h0M131.2 73.8h0M167.1 29.7h0M35.3 72.8h0M5.6 47.4h0M130.7 36.9h0M16.8 7.3h0"/></g><path d="M92.4,9.3 L112.1,13.1 L125.5,18.0 L128.0,21.9 L121.8,23.9 L114.6,25.9 L107.1,24.7 L99.7,20.9 L92.4,16.8Z" fill="#fff" fill-opacity="0.6" filter="url(#bl2)"/></g>
<g transform="translate(366,151)"><path d="M11.3,2.3 L13.0,3.7 L14.5,4.4 L16.1,5.0 L17.0,3.9 L17.7,2.6 L17.3,1.4 L24.7,3.4 L32.8,5.4 L41.0,7.1 L49.3,8.5 L57.6,9.7 L65.9,10.7 L74.3,11.3 L82.6,11.7 L87.6,11.8 L93.4,11.8 L93.4,10.3 L94.3,10.6 L94.8,12.9 L97.2,13.8 L99.4,13.3 L101.1,13.9 L103.7,15.4 L105.7,14.8 L109.1,15.4 L107.2,16.6 L104.5,19.0 L102.3,21.0 L104.3,20.8 L106.0,20.0 L105.8,21.5 L107.2,21.5 L110.3,20.0 L112.5,18.5 L114.1,17.3 L113.1,19.3 L115.9,20.9 L118.1,21.3 L119.9,20.0 L122.9,19.3 L124.6,20.2 L125.6,21.4 L127.2,22.0 L123.9,23.0 L121.6,22.3 L119.3,23.1 L118.5,24.1 L117.2,24.2 L115.9,27.0 L114.9,29.6 L116.2,27.9 L117.6,26.0 L116.9,28.2 L116.4,31.0 L116.1,32.7 L115.7,35.8 L117.1,40.6 L118.1,41.7 L119.3,41.1 L120.4,39.3 L121.0,36.3 L120.3,34.5 L119.7,31.5 L120.1,30.2 L120.0,28.6 L120.5,27.4 L121.7,26.0 L122.0,27.7 L122.4,26.8 L122.7,25.5 L123.4,25.0 L123.2,23.8 L124.0,23.3 L124.8,23.8 L126.9,24.5 L128.3,25.8 L128.7,27.3 L128.8,28.5 L128.4,29.3 L127.7,30.6 L127.6,32.1 L128.9,30.7 L130.2,29.9 L131.5,31.6 L132.4,34.0 L132.4,35.8 L130.9,37.2 L130.0,39.9 L132.4,40.7 L135.5,40.0 L140.0,36.6 L143.1,32.7 L142.3,31.3 L146.7,30.5 L149.8,29.0 L150.3,27.2 L149.8,26.0 L151.0,24.7 L153.1,21.6 L158.6,20.3 L162.9,19.2 L163.8,17.7 L164.5,17.1 L165.3,11.2 L166.5,7.6 L169.2,7.2 L170.9,7.9 L172.4,12.6 L173.9,13.5 L175.5,15.2 L176.1,16.3 L175.1,17.5 L173.6,18.8 L172.4,20.1 L171.3,19.5 L171.0,21.4 L169.2,22.8 L168.2,23.7 L167.6,26.3 L167.3,27.5 L168.1,28.1 L167.3,29.7 L168.7,31.0 L170.0,30.2 L170.7,30.5 L171.2,31.6 L169.2,32.7 L168.4,32.6 L167.0,33.7 L165.8,34.6 L162.7,35.6 L160.6,37.5 L164.9,35.5 L166.1,35.6 L163.2,37.7 L160.3,39.2 L160.1,39.8 L160.5,41.2 L159.9,44.6 L158.6,46.7 L158.0,45.7 L156.3,44.8 L156.9,45.9 L158.3,47.4 L158.8,49.2 L158.4,51.2 L157.1,54.9 L157.2,55.9 L158.1,57.4 L160.2,62.4 L157.4,65.8 L153.2,69.9 L150.0,71.1 L147.3,75.7 L144.3,79.2 L143.1,83.2 L143.6,86.5 L144.3,88.3 L145.8,91.1 L148.0,93.9 L149.3,97.3 L151.1,100.8 L151.4,104.7 L150.9,106.8 L148.2,108.0 L147.1,106.1 L144.9,104.3 L143.9,102.8 L142.9,101.3 L141.1,99.6 L140.4,98.3 L140.0,97.0 L139.8,94.5 L138.4,92.4 L136.1,89.9 L133.8,89.2 L131.1,91.2 L129.8,91.3 L128.3,89.6 L125.3,88.7 L122.8,89.1 L120.0,89.8 L116.0,89.6 L114.2,90.4 L114.6,91.2 L115.9,93.3 L116.7,94.7 L115.3,95.6 L113.0,95.1 L112.6,94.7 L110.1,95.5 L108.2,94.6 L106.4,93.8 L105.6,93.4 L103.4,93.5 L98.8,93.2 L95.4,95.0 L93.6,96.5 L91.0,97.9 L89.5,98.6 L86.5,101.3 L86.1,104.6 L86.6,109.0 L85.3,109.2 L82.6,108.3 L82.3,107.9 L77.9,102.3 L74.4,97.1 L73.1,94.3 L71.3,92.5 L67.7,92.1 L66.5,92.9 L65.3,95.3 L64.2,95.2 L61.7,93.3 L60.3,92.6 L59.4,90.6 L56.9,87.0 L53.7,82.4 L47.7,81.8 L47.5,83.6 L37.3,82.2 L25.2,75.0 L25.7,74.1 L17.2,73.1 L16.9,72.3 L16.9,70.2 L16.1,68.9 L14.0,67.1 L13.9,66.0 L12.0,65.1 L10.3,63.4 L7.8,62.5 L7.3,61.8 L8.1,59.7 L7.5,58.4 L6.5,56.8 L5.2,53.6 L5.5,52.4 L5.6,50.9 L4.6,48.2 L4.9,47.0 L3.6,45.7 L3.8,44.4 L2.6,41.2 L3.2,37.6 L2.3,34.5 L3.3,33.2 L4.5,30.5 L4.5,29.4 L4.8,28.4 L4.8,24.6 L6.3,22.6 L7.6,20.4 L8.5,18.0 L9.8,14.4 L10.7,11.6 L10.9,9.9 L11.1,8.3 L11.3,5.3Z" fill="#f6f4d8"/><g clip-path="url(#us)" filter="url(#bl)" fill="none" stroke-linecap="round"><polyline points="17.7,2.6 17.6,5.9 16.8,7.3 16.1,8.6 14.6,9.1 13.9,12.1 13.5,15.4 11.8,17.5 10.6,21.0" stroke="#ffd700" stroke-width="6.5" stroke-linejoin="round"/>
<polyline points="5.2,47.2 5.7,48.1 6.4,49.4" stroke="#ffd700" stroke-width="6.5" stroke-linejoin="round"/>
<polyline points="5.7,47.2 7.3,45.9 9.1,44.7" stroke="#ffd700" stroke-width="6.5" stroke-linejoin="round"/>
<polyline points="9.1,44.7 9.0,47.4 9.6,48.9 10.8,50.8 12.5,53.7 13.7,55.8 13.6,59.9" stroke="#ffd700" stroke-width="6.5" stroke-linejoin="round"/>
<polyline points="10.3,63.3 11.8,64.6 13.7,65.3 14.8,66.0 15.8,67.5 16.4,69.0 17.0,70.2 17.5,72.3" stroke="#ffd700" stroke-width="6.5" stroke-linejoin="round"/>
<polyline points="14.8,66.0 16.3,66.3 17.7,67.1 18.1,66.5" stroke="#ffd700" stroke-width="6.5" stroke-linejoin="round"/>
<polyline points="41.2,40.3 41.1,42.3 41.4,44.6" stroke="#ffd700" stroke-width="6.5" stroke-linejoin="round"/>
<polyline points="62.3,45.8 62.3,49.5 62.4,53.3 62.9,55.9" stroke="#ffd700" stroke-width="6.5" stroke-linejoin="round"/>
<polyline points="34.5,72.4 35.3,72.8 36.5,73.2" stroke="#ffd700" stroke-width="6.5" stroke-linejoin="round"/>
<polyline points="167.1,29.7 166.6,32.2 164.7,34.5 162.5,35.4 160.9,37.0 159.9,38.6 158.9,40.1 158.0,41.3 157.0,42.7 156.0,43.8 153.0,46.4 152.0,48.3 151.2,51.0 151.9,54.2" stroke="#ffd700" stroke-width="6.5" stroke-linejoin="round"/>
<polyline points="151.1,104.8 151.0,102.5 150.9,100.8 149.5,98.6 148.1,95.8" stroke="#ffd700" stroke-width="6.5" stroke-linejoin="round"/>
<polyline points="141.3,97.1 143.1,96.4 144.9,94.0 145.8,91.0" stroke="#ffd700" stroke-width="6.5" stroke-linejoin="round"/>
<polyline points="86.3,80.4 88.2,80.3" stroke="#ffd700" stroke-width="6.5" stroke-linejoin="round"/>
<polyline points="84.7,90.9 83.7,92.4 81.9,94.4" stroke="#ffd700" stroke-width="6.5" stroke-linejoin="round"/>
<polyline points="131.2,73.8 134.3,71.0 137.4,68.2 138.9,67.6 142.4,65.8 143.9,62.3 145.3,61.7 148.3,61.6 149.3,62.3" stroke="#ffd700" stroke-width="6.5" stroke-linejoin="round"/>
<polyline points="115.6,35.8 116.2,38.0 116.8,40.7 118.1,41.7" stroke="#ffd700" stroke-width="6.5" stroke-linejoin="round"/>
<polyline points="130.7,36.9 128.8,37.6" stroke="#ffd700" stroke-width="6.5" stroke-linejoin="round"/>
<polyline points="135.5,40.1 136.3,41.7 136.9,42.8" stroke="#ffd700" stroke-width="6.5" stroke-linejoin="round"/>
<path stroke="#ffd700" stroke-width="11" d="M159.9 38.6h0M14.8 66.0h0M116.8 40.7h0M88.2 80.3h0M93.3 93.0h0M152.0 48.3h0M157.0 42.7h0M151.0 104.2h0M131.2 73.8h0M167.1 29.7h0M5.6 47.4h0M130.7 36.9h0M16.8 7.3h0"/>
<path stroke="#ffd700" stroke-width="8.8" d="M86.3 80.4h0M35.3 72.8h0M99.1 28.5h0M17.5 72.3h0M141.3 97.1h0M62.3 49.5h0M109.7 55.0h0M153.0 46.4h0M144.9 94.0h0M142.4 65.8h0M81.9 94.4h0M13.5 15.4h0M9.1 44.7h0M141.5 43.6h0M27.1 59.5h0M84.7 90.9h0M128.0 51.3h0M95.6 53.5h0M132.4 47.0h0M122.4 49.1h0M135.5 40.1h0M6.4 49.4h0M121.9 64.5h0M156.2 56.3h0M115.6 35.8h0M142.7 86.7h0M85.8 68.9h0M149.3 62.3h0M111.3 69.7h0M112.6 91.6h0M124.4 55.3h0M41.1 42.3h0M17.7 67.1h0M15.8 67.5h0M16.1 8.6h0M162.2 37.7h0M159.3 38.7h0M125.4 25.6h0"/>
<path stroke="#ffd700" stroke-width="8" d="M166.6 32.2h0M151.9 54.2h0M162.8 33.4h0M143.1 32.8h0M123.0 75.6h0M146.7 30.9h0M122.5 35.5h0M38.3 78.5h0M91.0 66.0h0M12.5 53.7h0M91.2 44.4h0M54.8 68.5h0M158.7 30.5h0M13.6 59.9h0M131.6 64.3h0M108.5 89.7h0M137.4 68.2h0M142.6 71.1h0M147.2 75.6h0M128.7 48.4h0M155.4 40.2h0M30.3 27.9h0M98.5 42.9h0M103.7 71.7h0M151.2 30.5h0M145.3 61.7h0M129.7 40.1h0M111.1 36.0h0M86.6 59.5h0M151.4 42.5h0M127.4 68.7h0M111.6 81.7h0M128.6 55.7h0M62.4 53.3h0M100.0 61.4h0M126.1 36.0h0M15.3 42.2h0M119.7 87.9h0M85.8 101.2h0M82.5 107.9h0M70.6 76.3h0M123.2 70.5h0M54.4 22.9h0M144.3 102.2h0M141.4 99.6h0M9.0 47.4h0M62.3 45.8h0M47.5 14.6h0M41.2 40.3h0M41.4 44.6h0M162.5 35.4h0M158.0 41.3h0M148.3 61.6h0M150.9 100.8h0M17.6 5.9h0M160.9 37.0h0"/>
<path stroke="#ffd700" stroke-width="6.6" d="M165.0 30.7h0M53.8 82.6h0M136.3 41.7h0M30.4 10.6h0M125.0 43.2h0M154.1 37.0h0M98.9 81.3h0M122.7 88.8h0M133.3 87.6h0M143.6 79.1h0M139.7 73.8h0M125.2 80.3h0M168.0 23.7h0M165.2 27.4h0M88.8 34.7h0M88.7 20.7h0M148.1 95.7h0M145.8 91.0h0M143.1 96.4h0M141.7 91.7h0M140.8 89.9h0M152.9 68.3h0M143.9 56.8h0M136.4 65.2h0M118.6 57.1h0M111.2 46.1h0M112.3 39.3h0M111.3 49.9h0M115.7 48.2h0M104.4 41.0h0M107.9 42.8h0M88.9 46.3h0M92.0 53.7h0M71.2 69.4h0M86.9 85.5h0M84.8 87.3h0M97.9 91.6h0M105.4 90.8h0M101.1 90.9h0M69.4 82.9h0M93.5 82.1h0M97.2 66.4h0M102.9 53.9h0M102.3 20.8h0M114.8 29.6h0M128.5 34.5h0M123.1 38.2h0M121.3 41.0h0M140.0 36.6h0M139.0 41.2h0M136.9 42.8h0M137.7 53.2h0M135.0 53.3h0M136.6 62.1h0M146.4 55.8h0M149.1 65.5h0M150.1 71.1h0M134.3 77.2h0M129.7 79.4h0M120.4 77.2h0M10.6 21.0h0M11.8 17.5h0M9.6 48.9h0M162.8 31.9h0M159.9 44.6h0M156.0 43.8h0M153.3 43.1h0M152.1 43.7h0M154.3 41.6h0M151.2 51.0h0M143.8 61.9h0M138.9 67.6h0M116.0 89.6h0M77.9 102.2h0M85.3 109.0h0M89.7 89.2h0M113.8 30.8h0M119.9 63.1h0M149.5 98.6h0M144.9 104.2h0M128.8 37.6h0M94.9 54.4h0"/>
<path stroke="#ffd700" stroke-width="4.8" d="M77.8 81.5h0M96.4 69.2h0M95.9 62.1h0M139.5 45.5h0M133.1 82.8h0M128.9 84.8h0M115.0 85.6h0M77.2 20.6h0M158.5 22.6h0M171.0 17.9h0M152.8 34.3h0M153.9 29.7h0M147.9 40.9h0M146.4 42.4h0M142.2 46.9h0M149.3 45.6h0M148.1 52.8h0M157.1 49.5h0M146.7 69.5h0M144.7 78.4h0M136.6 85.5h0M128.4 89.3h0M124.9 88.6h0M104.7 81.2h0M103.7 86.3h0M97.8 77.5h0M82.4 75.4h0M75.2 85.5h0M87.3 97.1h0M82.8 72.5h0M85.8 54.6h0M83.6 45.7h0M89.8 39.1h0M101.6 32.5h0M96.4 26.2h0M105.4 33.3h0M104.4 29.1h0M121.9 27.9h0M118.6 50.7h0M121.5 51.7h0M119.9 46.5h0M124.7 47.0h0M122.7 60.9h0M115.5 61.1h0M115.3 67.4h0M116.1 73.1h0M119.4 70.5h0M125.5 73.3h0M134.5 72.4h0M153.7 62.2h0M154.2 65.8h0M147.7 94.6h0M127.5 32.9h0M135.8 61.2h0M113.2 46.9h0"/>
<path stroke="#ffd700" stroke-width="0.9" stroke-opacity="0.85" d="M153.2 54.2h0M117.6 87.9h0M107.7 60.6h0M158.7 27.7h0M98.9 75.8h0M144.1 59.9h0M119.5 48.4h0M96.5 41.3h0M129.5 49.0h0M146.6 40.0h0M109.1 75.2h0M151.9 29.0h0M17.7 54.0h0M124.4 43.7h0M114.8 83.0h0M110.9 93.2h0M142.5 52.7h0M124.1 83.7h0M125.7 56.3h0M129.0 39.7h0M26.9 73.1h0M122.2 38.9h0M151.2 46.0h0M110.9 68.1h0M86.8 83.1h0M140.3 49.6h0M116.8 52.1h0M149.8 55.4h0M98.5 28.5h0M90.6 22.5h0M86.3 75.3h0M148.3 55.3h0M6.3 54.8h0M121.4 85.8h0M146.0 97.8h0M169.6 31.7h0M110.5 58.4h0M86.1 81.3h0M146.6 50.4h0M109.9 46.1h0M142.8 37.5h0M150.9 56.8h0M89.7 86.0h0M129.6 55.9h0M156.7 44.9h0M94.1 74.2h0M151.7 54.0h0M124.1 47.6h0M106.7 68.0h0M91.2 81.3h0M146.3 105.4h0M99.2 42.5h0M88.1 71.4h0M144.7 35.1h0M153.3 44.4h0M106.5 66.1h0M157.7 32.2h0M124.1 42.9h0M104.2 26.2h0M141.2 43.2h0M129.6 44.5h0M30.3 29.1h0M111.5 77.2h0M89.0 79.4h0M102.3 87.6h0M131.0 55.6h0M151.2 38.6h0M143.5 35.5h0M116.1 47.2h0M150.9 44.8h0M111.2 54.5h0M135.9 77.0h0M87.8 66.2h0M92.6 63.7h0M124.5 51.2h0M128.3 62.2h0M132.4 59.8h0M104.9 52.1h0M97.9 76.8h0M104.7 75.7h0M137.2 46.9h0M108.4 67.3h0M140.3 59.2h0M126.8 57.9h0M106.2 50.1h0M161.0 34.3h0M153.1 38.8h0M94.0 43.6h0M153.2 31.8h0M153.3 44.0h0M110.8 41.0h0M141.8 73.8h0M103.3 87.3h0M147.4 99.8h0M156.5 53.1h0M117.7 48.8h0M149.6 60.0h0M116.0 61.8h0M101.3 57.5h0M125.4 55.0h0M128.9 48.4h0M100.6 67.8h0M103.5 68.8h0M72.8 77.7h0M93.7 26.8h0M127.3 29.4h0M96.4 34.2h0M124.2 73.2h0M107.3 54.3h0M114.5 48.5h0M80.6 55.3h0M80.3 82.4h0M143.3 47.7h0M157.4 35.5h0M118.5 89.2h0M110.0 49.4h0M107.3 54.1h0M121.7 62.4h0M119.2 65.1h0M129.6 61.0h0M152.2 49.0h0M93.5 76.0h0M141.0 61.7h0M130.9 47.7h0M93.6 85.7h0M128.5 52.3h0M141.0 40.3h0M127.2 52.8h0M147.2 62.5h0M133.1 47.2h0M107.9 77.4h0M104.5 83.0h0M162.2 33.4h0M105.8 85.2h0M117.8 68.4h0M152.4 29.7h0M83.2 80.4h0M120.2 83.2h0M110.2 50.5h0M124.9 54.5h0M145.8 39.9h0M150.1 70.0h0M127.5 56.8h0M149.7 60.6h0M136.4 79.8h0M160.6 31.5h0M166.9 22.3h0M147.0 36.3h0M119.8 53.6h0M107.7 89.4h0M97.6 88.6h0M150.1 47.4h0M89.4 46.6h0M120.9 37.8h0M140.9 37.7h0M157.0 54.1h0M98.7 90.8h0M147.7 73.5h0M91.6 53.3h0M101.7 37.4h0M148.8 64.7h0M127.3 40.5h0M151.1 46.2h0M121.3 55.5h0M133.6 40.6h0M117.0 84.5h0M139.9 57.1h0M85.0 35.5h0M91.0 75.5h0M110.9 85.1h0M157.0 26.2h0M140.1 44.5h0M121.1 83.1h0M123.4 43.1h0M106.3 77.1h0M114.2 46.5h0M112.6 40.5h0M142.4 71.7h0M100.0 24.4h0M12.4 59.9h0M142.3 98.6h0M146.7 63.3h0M119.4 57.7h0M148.8 43.3h0M115.1 63.5h0M125.1 75.0h0M148.2 106.6h0M107.9 34.0h0M141.2 48.1h0M152.7 64.5h0M100.7 53.9h0M156.7 30.6h0M100.2 91.0h0M89.3 65.1h0M126.6 78.2h0M131.2 59.1h0M136.3 85.1h0M149.1 100.9h0M84.2 77.9h0M87.2 96.7h0M135.2 41.4h0M124.9 43.1h0M83.3 83.7h0M134.8 86.6h0M107.1 61.4h0M130.4 60.4h0M154.3 53.6h0M149.7 63.2h0M118.6 64.9h0M104.4 43.8h0M151.8 46.3h0M139.8 81.1h0M103.6 80.2h0M86.7 97.2h0M126.3 80.8h0M122.7 45.0h0M150.5 103.0h0M117.8 42.3h0M126.4 78.6h0M119.3 58.7h0M71.8 40.5h0M84.2 81.5h0M136.6 60.5h0M97.3 41.8h0M135.3 78.2h0M114.4 35.5h0M106.7 91.4h0M130.8 63.0h0M153.9 36.5h0M151.8 66.8h0M153.9 43.2h0M112.9 45.4h0M118.4 78.4h0M86.6 53.9h0M141.3 99.0h0M146.3 102.1h0M144.8 32.6h0M154.4 49.7h0M148.2 55.6h0M139.3 93.1h0M144.3 71.8h0M110.1 79.4h0M138.5 88.2h0M106.3 42.6h0M157.5 39.0h0M83.4 42.8h0M119.9 84.4h0M96.9 90.2h0M93.0 55.4h0M157.8 43.1h0M90.9 80.0h0M166.1 25.3h0M141.5 88.9h0M126.3 41.5h0M152.0 60.3h0M143.3 34.3h0M134.3 58.5h0M109.6 49.5h0M136.9 64.8h0M137.4 46.1h0M155.1 47.7h0M103.0 91.5h0M112.5 44.2h0M123.5 36.3h0M143.9 36.1h0M130.2 68.6h0M93.7 65.3h0M140.9 85.9h0M103.2 31.4h0M103.8 58.2h0M85.9 89.0h0M84.2 70.0h0M147.8 37.0h0M97.1 60.8h0M131.4 74.6h0M151.8 29.7h0M99.1 32.0h0M114.8 32.1h0M99.5 45.4h0M74.7 73.6h0M97.4 54.3h0M130.4 54.2h0M110.6 37.7h0M157.3 52.7h0M9.5 43.2h0M82.2 78.4h0M105.5 92.9h0M134.6 67.3h0M135.2 41.3h0M91.1 84.5h0M111.8 66.5h0M139.0 74.2h0M99.5 78.0h0M156.8 45.8h0M90.0 61.0h0M98.7 47.1h0M86.0 74.5h0M112.6 65.1h0M149.4 36.2h0M102.9 33.0h0M154.3 44.8h0M129.9 59.3h0M124.5 34.1h0M118.8 84.9h0M109.0 58.8h0M124.4 50.4h0M120.8 75.6h0M125.3 32.3h0M137.8 51.8h0M123.6 27.0h0M120.4 32.5h0M118.5 57.6h0M100.1 42.0h0M87.1 54.1h0M86.8 27.4h0M111.7 50.9h0M126.8 72.8h0M115.9 31.9h0M98.7 29.3h0M135.2 64.2h0M148.2 94.9h0M103.4 34.3h0M138.9 63.3h0M154.9 37.5h0M108.4 66.8h0M117.1 46.0h0M31.8 72.9h0M140.4 91.7h0M122.9 86.2h0M146.1 73.9h0M110.4 81.5h0M119.7 59.5h0M153.9 37.5h0M144.5 43.1h0M124.5 50.3h0M82.1 80.2h0M124.6 33.6h0M159.1 27.8h0M129.5 50.8h0M139.6 77.3h0M127.8 60.1h0M114.2 76.2h0M137.4 64.6h0M64.0 55.4h0M93.8 91.3h0M84.4 47.8h0M145.2 56.2h0M117.0 67.8h0M107.0 43.2h0M91.3 68.1h0M123.7 41.0h0M107.8 93.1h0M106.7 89.9h0M121.0 38.8h0M139.0 61.9h0M151.8 40.0h0M146.0 48.5h0M128.9 53.4h0M116.9 79.6h0M88.4 56.6h0M126.8 32.9h0M151.1 41.6h0M165.4 20.7h0M123.4 78.0h0M116.4 40.4h0M110.4 64.3h0M153.4 23.3h0M110.7 52.5h0M78.5 101.3h0M115.4 88.5h0M12.3 5.3h0M97.6 63.7h0M145.7 59.2h0M91.6 48.7h0M10.6 14.0h0M22.3 65.2h0M109.9 50.4h0M147.2 39.5h0M134.6 64.5h0M165.4 34.1h0M149.0 102.5h0M83.0 44.4h0M99.8 25.4h0M125.8 76.1h0M143.3 51.4h0M140.6 63.7h0M149.6 101.3h0M92.1 86.6h0M84.9 92.0h0M146.4 66.9h0M91.6 40.6h0M86.0 88.7h0M109.9 37.4h0M105.4 35.3h0M128.7 63.6h0M141.3 83.5h0M140.1 61.6h0M147.3 35.2h0M89.9 78.6h0M120.2 78.4h0M145.9 101.6h0M148.8 53.1h0M84.1 97.5h0M145.7 39.0h0M140.5 69.1h0M73.8 73.5h0M99.8 31.3h0M141.7 61.8h0M138.8 85.6h0M138.2 83.1h0M92.6 85.0h0M170.7 19.3h0M81.6 58.3h0M114.6 39.4h0M137.5 41.5h0M158.0 47.6h0M143.7 65.5h0M102.2 49.9h0M94.7 19.0h0M134.6 69.3h0M150.2 62.7h0M135.4 43.2h0M130.2 55.3h0M99.4 31.2h0M133.0 43.7h0M82.5 91.1h0M79.1 62.5h0M131.2 69.9h0M150.2 105.3h0M101.5 66.2h0M133.5 66.9h0M134.5 79.8h0M97.8 44.5h0M116.5 77.5h0M154.3 62.3h0M121.1 33.1h0M131.3 58.4h0M94.9 60.1h0M153.3 44.0h0M128.8 72.4h0M105.3 89.7h0M95.9 83.1h0M145.1 35.4h0M108.2 33.9h0M142.9 47.4h0M84.9 81.4h0M139.0 74.6h0M104.2 68.8h0M144.0 93.4h0M139.7 45.0h0M84.4 89.1h0M111.0 30.2h0M112.3 39.2h0M118.8 72.1h0M136.1 56.4h0M144.7 63.7h0M151.5 53.9h0M108.8 33.8h0M73.3 77.9h0M104.5 76.3h0M107.5 52.6h0M130.1 53.4h0M99.5 77.4h0M149.1 64.5h0M109.1 59.8h0M106.4 59.4h0M138.4 51.7h0M136.3 56.4h0M133.6 75.5h0M144.2 57.8h0M134.0 42.5h0M134.0 62.6h0M121.6 46.6h0M112.1 61.7h0M106.9 58.5h0M130.9 77.5h0M93.8 34.0h0M106.6 86.7h0M127.7 35.0h0M129.7 61.3h0M166.0 28.2h0M146.1 91.8h0M156.4 55.2h0M124.9 27.2h0M143.8 44.4h0M145.2 64.2h0M94.1 96.0h0M139.5 92.8h0M108.8 37.4h0M82.7 98.7h0M130.2 70.6h0M8.7 17.5h0M162.8 34.1h0M80.1 64.5h0M146.2 56.5h0M146.5 95.0h0M114.6 33.9h0M94.5 82.7h0M114.1 36.5h0M145.5 60.3h0M117.6 68.7h0M114.6 65.0h0M122.9 37.8h0M146.2 104.9h0M134.2 74.3h0M126.8 42.8h0M84.5 89.9h0M139.0 58.3h0M106.3 32.1h0M144.2 46.4h0M121.3 72.5h0M98.3 84.1h0M136.6 46.8h0M113.6 30.3h0M125.8 79.3h0M138.7 84.0h0M106.9 75.4h0M108.6 56.4h0M83.1 40.5h0M90.6 31.2h0M134.8 54.3h0M76.1 88.1h0M142.8 75.6h0M19.8 61.5h0M122.3 33.7h0M149.3 34.0h0M134.1 45.9h0M152.1 34.1h0M128.8 83.4h0M157.5 25.7h0M146.1 30.9h0M88.5 55.1h0M93.0 64.3h0M136.8 83.9h0M129.4 38.9h0M125.5 61.2h0M115.8 86.5h0M102.0 43.2h0M142.9 99.4h0M125.9 68.9h0M87.9 80.3h0M132.7 74.5h0M118.9 66.3h0M148.5 62.2h0M93.0 21.7h0M97.1 91.9h0M166.7 30.5h0M122.1 78.2h0M109.9 81.2h0M116.1 48.9h0M124.0 32.3h0M102.8 46.0h0M150.6 104.3h0M153.9 39.8h0M89.0 44.2h0M105.2 41.3h0M132.3 79.1h0M88.4 33.1h0M81.9 44.3h0M148.6 67.0h0M120.6 86.1h0M108.0 40.2h0M149.8 60.3h0M123.6 80.0h0M117.8 64.1h0M131.9 86.7h0M172.8 16.7h0M92.6 21.3h0M91.9 75.8h0M152.5 39.0h0M97.7 76.8h0M120.3 87.5h0M121.1 63.5h0M144.6 41.9h0M97.1 19.6h0M136.2 46.4h0M143.3 54.8h0M91.8 52.8h0M95.3 68.6h0M141.2 73.8h0M125.3 64.5h0M104.5 63.9h0M88.9 31.2h0M93.4 89.3h0M142.6 58.1h0M112.7 50.1h0M135.7 46.4h0M154.0 57.9h0"/>
<polyline points="17.7,2.6 17.6,5.9 16.8,7.3 16.1,8.6 14.6,9.1 13.9,12.1 13.5,15.4 11.8,17.5 10.6,21.0" stroke="#ffa500" stroke-width="4.2" stroke-linejoin="round"/>
<polyline points="5.2,47.2 5.7,48.1 6.4,49.4" stroke="#ffa500" stroke-width="4.2" stroke-linejoin="round"/>
<polyline points="5.7,47.2 7.3,45.9 9.1,44.7" stroke="#ffa500" stroke-width="4.2" stroke-linejoin="round"/>
<polyline points="9.1,44.7 9.0,47.4 9.6,48.9 10.8,50.8 12.5,53.7 13.7,55.8 13.6,59.9" stroke="#ffa500" stroke-width="4.2" stroke-linejoin="round"/>
<polyline points="10.3,63.3 11.8,64.6 13.7,65.3 14.8,66.0 15.8,67.5 16.4,69.0 17.0,70.2 17.5,72.3" stroke="#ffa500" stroke-width="4.2" stroke-linejoin="round"/>
<polyline points="14.8,66.0 16.3,66.3 17.7,67.1 18.1,66.5" stroke="#ffa500" stroke-width="4.2" stroke-linejoin="round"/>
<polyline points="41.2,40.3 41.1,42.3 41.4,44.6" stroke="#ffa500" stroke-width="4.2" stroke-linejoin="round"/>
<polyline points="62.3,45.8 62.3,49.5 62.4,53.3 62.9,55.9" stroke="#ffa500" stroke-width="4.2" stroke-linejoin="round"/>
<polyline points="34.5,72.4 35.3,72.8 36.5,73.2" stroke="#ffa500" stroke-width="4.2" stroke-linejoin="round"/>
<polyline points="167.1,29.7 166.6,32.2 164.7,34.5 162.5,35.4 160.9,37.0 159.9,38.6 158.9,40.1 158.0,41.3 157.0,42.7 156.0,43.8 153.0,46.4 152.0,48.3 151.2,51.0 151.9,54.2" stroke="#ffa500" stroke-width="4.2" stroke-linejoin="round"/>
<polyline points="151.1,104.8 151.0,102.5 150.9,100.8 149.5,98.6 148.1,95.8" stroke="#ffa500" stroke-width="4.2" stroke-linejoin="round"/>
<polyline points="141.3,97.1 143.1,96.4 144.9,94.0 145.8,91.0" stroke="#ffa500" stroke-width="4.2" stroke-linejoin="round"/>
<polyline points="86.3,80.4 88.2,80.3" stroke="#ffa500" stroke-width="4.2" stroke-linejoin="round"/>
<polyline points="84.7,90.9 83.7,92.4 81.9,94.4" stroke="#ffa500" stroke-width="4.2" stroke-linejoin="round"/>
<polyline points="131.2,73.8 134.3,71.0 137.4,68.2 138.9,67.6 142.4,65.8 143.9,62.3 145.3,61.7 148.3,61.6 149.3,62.3" stroke="#ffa500" stroke-width="4.2" stroke-linejoin="round"/>
<polyline points="115.6,35.8 116.2,38.0 116.8,40.7 118.1,41.7" stroke="#ffa500" stroke-width="4.2" stroke-linejoin="round"/>
<polyline points="130.7,36.9 128.8,37.6" stroke="#ffa500" stroke-width="4.2" stroke-linejoin="round"/>
<polyline points="135.5,40.1 136.3,41.7 136.9,42.8" stroke="#ffa500" stroke-width="4.2" stroke-linejoin="round"/>
<path stroke="#ffa500" stroke-width="8.2" d="M159.9 38.6h0M14.8 66.0h0M116.8 40.7h0M88.2 80.3h0M93.3 93.0h0M152.0 48.3h0M157.0 42.7h0M151.0 104.2h0M131.2 73.8h0M167.1 29.7h0M5.6 47.4h0M130.7 36.9h0M16.8 7.3h0"/>
<path stroke="#ffa500" stroke-width="6.8" d="M86.3 80.4h0M35.3 72.8h0M99.1 28.5h0M17.5 72.3h0M141.3 97.1h0M62.3 49.5h0M109.7 55.0h0M153.0 46.4h0M144.9 94.0h0M142.4 65.8h0M81.9 94.4h0M13.5 15.4h0M9.1 44.7h0M141.5 43.6h0M27.1 59.5h0M84.7 90.9h0M128.0 51.3h0M95.6 53.5h0M132.4 47.0h0M122.4 49.1h0M135.5 40.1h0M6.4 49.4h0M121.9 64.5h0M156.2 56.3h0M115.6 35.8h0M142.7 86.7h0M85.8 68.9h0M149.3 62.3h0M111.3 69.7h0M112.6 91.6h0M124.4 55.3h0M41.1 42.3h0M17.7 67.1h0M15.8 67.5h0M16.1 8.6h0M162.2 37.7h0M159.3 38.7h0M125.4 25.6h0"/>
<path stroke="#ffa500" stroke-width="1.6" d="M9.2 28.2h0M20.8 12.8h0M24.4 15.3h0M8.6 35.7h0M9.3 39.7h0M10.3 63.3h0M5.1 44.2h0M3.5 33.3h0M38.0 65.7h0M25.9 74.3h0M53.0 80.1h0M57.4 66.2h0M50.6 51.0h0M62.9 55.9h0M63.3 43.6h0M59.5 35.8h0M69.3 31.6h0M39.4 15.8h0M44.7 17.9h0M47.0 22.2h0M42.6 30.8h0M40.9 33.2h0M34.6 33.4h0M33.0 56.6h0M11.8 64.6h0M18.1 66.5h0M20.5 68.4h0M13.7 55.8h0M6.4 52.3h0M14.6 9.1h0M17.7 2.6h0M24.3 15.3h0M34.7 68.0h0M28.5 67.0h0M68.4 83.5h0"/>
<path stroke="#ffa500" stroke-width="1.4" d="M77.8 81.5h0M96.4 69.2h0M95.9 62.1h0M139.5 45.5h0M133.1 82.8h0M128.9 84.8h0M115.0 85.6h0M77.2 20.6h0M158.5 22.6h0M171.0 17.9h0M152.8 34.3h0M153.9 29.7h0M147.9 40.9h0M146.4 42.4h0M142.2 46.9h0M149.3 45.6h0M148.1 52.8h0M157.1 49.5h0M146.7 69.5h0M144.7 78.4h0M136.6 85.5h0M128.4 89.3h0M124.9 88.6h0M104.7 81.2h0M103.7 86.3h0M97.8 77.5h0M82.4 75.4h0M75.2 85.5h0M87.3 97.1h0M82.8 72.5h0M85.8 54.6h0M83.6 45.7h0M89.8 39.1h0M101.6 32.5h0M96.4 26.2h0M105.4 33.3h0M104.4 29.1h0M121.9 27.9h0M118.6 50.7h0M121.5 51.7h0M119.9 46.5h0M124.7 47.0h0M122.7 60.9h0M115.5 61.1h0M115.3 67.4h0M116.1 73.1h0M119.4 70.5h0M125.5 73.3h0M134.5 72.4h0M153.7 62.2h0M154.2 65.8h0M147.7 94.6h0M127.5 32.9h0M135.8 61.2h0M113.2 46.9h0"/>
<path stroke="#ffa500" stroke-width="0.9" stroke-opacity="0.85" d="M117.8 76.8h0M123.1 37.5h0M156.8 36.0h0M99.6 76.0h0M146.4 66.0h0M89.5 32.4h0M85.8 99.8h0M106.9 45.5h0M141.4 66.8h0M152.1 66.8h0M109.9 42.9h0M95.7 89.0h0M120.6 32.0h0M91.6 34.8h0M117.8 53.4h0M141.4 93.0h0M113.2 52.1h0M97.6 60.1h0M151.8 29.8h0M94.6 70.6h0M142.9 41.0h0M101.0 49.6h0M153.0 29.7h0M155.7 54.8h0M102.3 53.5h0M112.7 22.3h0M148.7 62.1h0M151.2 30.6h0M114.3 84.8h0M107.0 57.7h0M115.2 88.6h0M91.6 76.1h0M102.3 66.4h0M129.3 33.5h0M135.4 78.0h0M120.5 29.7h0M142.8 50.7h0M147.4 97.0h0M137.0 44.8h0M124.4 51.4h0M167.6 30.4h0M111.1 44.2h0M167.7 24.1h0M118.5 47.2h0M110.5 52.4h0M105.1 69.6h0M101.5 26.4h0M89.1 85.2h0M120.6 52.5h0M113.9 45.1h0M141.1 69.9h0M122.4 36.5h0M78.0 71.0h0M126.8 35.8h0M160.2 37.6h0M135.3 73.5h0M95.7 67.7h0M115.2 92.5h0M89.9 80.5h0M93.2 53.7h0M147.2 33.4h0M116.0 84.7h0M125.8 47.5h0M126.2 64.1h0M123.3 30.9h0M106.1 78.1h0M130.8 83.5h0M109.8 59.2h0M92.0 51.1h0M138.6 57.7h0M125.4 64.6h0M161.2 37.9h0M150.0 63.8h0M155.4 30.9h0M96.6 58.3h0M110.0 34.5h0M22.7 65.3h0M142.1 88.5h0M137.8 47.1h0M146.6 105.4h0M147.9 62.4h0M148.8 42.6h0M150.1 29.7h0M131.9 79.3h0M109.2 29.4h0M138.4 56.3h0M130.5 37.3h0M144.1 32.5h0M115.7 69.4h0M152.7 46.3h0M140.5 62.4h0M96.0 49.6h0M114.7 85.1h0M113.0 64.1h0M123.4 66.2h0M133.5 43.7h0M106.4 89.6h0M84.8 87.5h0M121.6 51.3h0M112.6 48.4h0M148.2 51.1h0M113.5 86.3h0M93.6 47.9h0M147.0 70.9h0M100.8 88.1h0M130.4 49.5h0M136.2 64.5h0M134.7 82.6h0M113.8 70.4h0M115.8 49.8h0M102.8 33.8h0M105.9 93.0h0M24.9 9.5h0M92.7 89.4h0M85.7 98.5h0M92.1 52.4h0M119.1 69.7h0M120.6 67.7h0M135.2 53.5h0M135.6 87.9h0M146.2 102.0h0M127.4 58.5h0M99.1 25.9h0M111.4 34.1h0M145.5 50.7h0M75.4 86.2h0M81.8 69.0h0M143.5 72.1h0M99.1 47.9h0M138.2 60.3h0M157.9 34.7h0M121.5 88.3h0M108.5 79.7h0M83.5 104.3h0M150.6 52.9h0M139.6 86.8h0M108.3 46.5h0M80.7 88.6h0M87.0 80.8h0M7.9 52.4h0M129.8 66.7h0M87.9 84.2h0M131.5 66.8h0M103.5 56.0h0M80.2 98.0h0M160.5 29.0h0M122.1 57.4h0M166.4 16.6h0M141.3 51.1h0M148.1 56.5h0M132.9 78.0h0M99.3 58.5h0M159.7 44.5h0M146.8 71.6h0M114.6 60.2h0M152.2 35.4h0M127.0 32.6h0M113.3 60.1h0M91.0 89.2h0M131.8 61.7h0M152.4 67.2h0M109.9 59.0h0M127.4 77.1h0M168.3 23.4h0M170.3 21.3h0M100.7 91.7h0M126.7 65.2h0M138.0 48.9h0M111.9 64.9h0M98.4 74.3h0M152.1 60.6h0M95.4 76.1h0M86.6 33.1h0M159.4 26.0h0M116.8 47.6h0M108.8 30.9h0M100.3 74.5h0M126.3 52.5h0M131.6 33.9h0M132.4 47.3h0M103.0 27.7h0M148.2 37.3h0M148.9 62.2h0M157.5 61.8h0M128.1 48.1h0M92.2 80.3h0M146.5 43.0h0M116.4 57.3h0M142.6 49.3h0M141.9 99.1h0M118.4 70.5h0M83.9 83.9h0M118.1 69.9h0M142.1 54.5h0M157.7 41.6h0M168.7 21.7h0M154.1 57.5h0M129.9 78.7h0M77.0 79.9h0M114.7 28.5h0M91.3 81.0h0M109.0 56.6h0M163.0 26.3h0M95.0 43.9h0M152.3 28.3h0M123.2 72.4h0M129.0 33.4h0M121.0 89.4h0M144.6 32.7h0M106.6 89.3h0M12.4 46.8h0M131.8 64.0h0M165.9 29.5h0M158.3 41.4h0M127.9 37.4h0M96.2 35.0h0M87.4 68.2h0M110.8 62.6h0M115.3 83.4h0M154.4 35.8h0M123.2 36.6h0M119.2 58.2h0M118.0 65.4h0M130.0 81.2h0M96.2 79.2h0M143.5 45.4h0M85.0 82.2h0M125.0 88.4h0M137.7 87.5h0M154.0 44.4h0M97.6 54.8h0M95.0 77.1h0M119.3 58.4h0M95.4 32.2h0M144.8 98.0h0M108.6 38.2h0M130.7 50.8h0M103.3 54.7h0M80.8 100.1h0M84.9 22.6h0M163.4 29.1h0M128.2 50.6h0M160.1 32.4h0M113.6 79.8h0M132.2 65.8h0M92.5 87.9h0M126.8 60.8h0M90.9 64.7h0M133.6 62.9h0M115.5 86.2h0M149.3 36.4h0M39.8 81.5h0M111.0 60.4h0M152.5 23.8h0M143.5 57.8h0M125.0 60.7h0M100.3 55.4h0M87.8 63.7h0M149.0 39.7h0M106.3 36.8h0M135.4 73.5h0M113.4 87.4h0M141.1 38.4h0M136.2 87.1h0M126.5 53.7h0M117.7 60.5h0M158.5 31.2h0M107.9 58.7h0M87.7 91.8h0M97.4 42.3h0M166.1 24.0h0M121.5 75.3h0M130.4 60.3h0M124.8 44.7h0M93.2 66.9h0M86.8 70.6h0M149.9 57.4h0M157.8 59.8h0M89.4 39.4h0M161.0 30.2h0M145.4 52.1h0M160.9 37.5h0M95.1 37.6h0M139.1 41.3h0M112.4 81.7h0M118.4 43.5h0M103.0 38.3h0M127.8 74.0h0M125.9 31.7h0M123.6 41.8h0M90.8 46.5h0M100.4 67.0h0M130.5 31.5h0M126.5 45.3h0M143.5 79.9h0M101.1 66.2h0M146.0 37.9h0M121.1 89.1h0M101.7 89.9h0M164.9 35.7h0M116.0 29.2h0M103.2 79.9h0M109.5 50.6h0M155.9 39.8h0M23.3 60.1h0M128.1 34.8h0M94.3 26.3h0M148.2 104.7h0M86.8 85.4h0M142.4 63.4h0M137.2 62.2h0M125.7 39.0h0M104.5 71.0h0M102.5 81.9h0M113.1 73.9h0M164.5 32.7h0M119.7 41.5h0M99.8 88.7h0M127.8 37.7h0M146.0 41.6h0M19.1 8.9h0M156.4 35.8h0M17.9 59.0h0M169.0 21.0h0M109.5 40.4h0M84.2 101.8h0M128.2 54.0h0M133.1 63.7h0M96.8 53.9h0M95.3 29.1h0M115.9 48.6h0M109.9 93.6h0M86.2 56.3h0M130.1 73.2h0M106.4 50.5h0M145.5 44.3h0M166.8 30.9h0M90.9 94.9h0M141.6 59.3h0M157.2 28.6h0M131.1 90.0h0M110.0 57.3h0M90.0 92.9h0M143.7 42.9h0M150.9 55.6h0M132.5 44.6h0M110.4 70.8h0M94.6 46.0h0M140.1 78.8h0M114.3 36.3h0M119.7 49.8h0M92.2 65.6h0M138.1 46.7h0M149.4 41.6h0M126.3 75.2h0M112.5 47.7h0M126.1 45.8h0M123.9 84.5h0M150.7 43.7h0M122.7 55.0h0M154.1 54.8h0M141.3 59.3h0M116.2 31.3h0M138.9 40.7h0M158.0 37.3h0M134.2 80.2h0M145.2 32.5h0M88.1 89.9h0M99.4 39.2h0M138.1 91.8h0M96.0 59.3h0M151.8 27.4h0M121.9 62.9h0M124.6 49.9h0M117.3 62.9h0M137.5 63.3h0M102.2 40.5h0M95.6 89.4h0M90.5 46.2h0M104.1 68.2h0M158.2 60.9h0M101.2 81.1h0M145.6 56.7h0M150.3 67.8h0M112.2 88.7h0M126.6 36.2h0M90.0 89.4h0M111.2 85.7h0M165.0 28.6h0M94.2 52.8h0M96.9 35.3h0M145.3 51.1h0M87.6 96.4h0M161.2 30.7h0M112.2 67.2h0M111.7 22.1h0M143.2 91.5h0M149.5 49.4h0M119.1 78.4h0M126.4 50.8h0M121.5 61.2h0M126.4 61.2h0M141.3 91.1h0M137.1 56.4h0M82.3 100.9h0M142.1 70.8h0M19.9 66.9h0M107.1 37.1h0M137.3 42.9h0M122.5 59.7h0M92.5 65.7h0M127.5 58.5h0M115.5 45.1h0M85.4 105.3h0M83.9 56.7h0M100.8 77.3h0M119.8 48.9h0M154.3 26.4h0M151.2 63.4h0M127.2 49.7h0M103.4 37.6h0M173.3 18.4h0M101.8 63.4h0M162.8 24.7h0M117.6 68.6h0M113.4 39.0h0M132.3 73.7h0M114.6 86.2h0M120.3 50.1h0M102.1 54.8h0M132.5 83.1h0M136.1 68.2h0M120.8 44.0h0M129.5 67.1h0M89.9 60.5h0M83.3 89.8h0M153.0 40.6h0M116.3 66.2h0M113.4 92.0h0M102.6 36.9h0M85.9 78.5h0M150.2 47.8h0M100.6 40.2h0M157.4 23.3h0M105.5 70.1h0M82.2 45.9h0M136.0 69.8h0M109.2 88.1h0M114.6 65.9h0M145.5 30.9h0M100.5 87.4h0M94.4 48.9h0M131.4 74.2h0M136.2 68.5h0M130.1 74.3h0M121.3 30.7h0M144.1 70.4h0M153.1 29.7h0M100.4 84.9h0M110.3 53.4h0M155.9 47.2h0M132.5 61.8h0M32.2 34.6h0M103.8 82.4h0M125.2 26.1h0M90.0 48.6h0M157.9 33.1h0M136.7 80.0h0M89.0 88.5h0M139.6 89.0h0M90.4 97.7h0M143.7 72.2h0M120.5 64.3h0M119.9 41.4h0M126.8 34.8h0M141.6 70.7h0M158.0 37.3h0M88.8 81.8h0M127.0 68.3h0M83.5 26.0h0M112.2 38.7h0M157.9 40.9h0M160.1 32.6h0M155.0 35.8h0M108.6 53.0h0M150.3 59.9h0M142.2 87.1h0M135.5 57.6h0M149.5 59.1h0M86.0 80.4h0M143.2 44.8h0M138.8 77.1h0M145.5 55.0h0M141.1 82.0h0M121.9 34.6h0M117.4 52.4h0M151.6 53.3h0M124.8 60.9h0M89.7 96.3h0M151.4 46.5h0M134.0 57.4h0M146.2 60.2h0M145.1 66.9h0M122.7 36.4h0M22.7 62.0h0M11.2 43.4h0M132.0 69.2h0M99.0 37.2h0"/>
<path stroke="#ffbf00" stroke-width="5.6" d="M166.6 32.2h0M151.9 54.2h0M162.8 33.4h0M143.1 32.8h0M123.0 75.6h0M146.7 30.9h0M122.5 35.5h0M38.3 78.5h0M91.0 66.0h0M12.5 53.7h0M91.2 44.4h0M54.8 68.5h0M158.7 30.5h0M13.6 59.9h0M131.6 64.3h0M108.5 89.7h0M137.4 68.2h0M142.6 71.1h0M147.2 75.6h0M128.7 48.4h0M155.4 40.2h0M30.3 27.9h0M98.5 42.9h0M103.7 71.7h0M151.2 30.5h0M145.3 61.7h0M129.7 40.1h0M111.1 36.0h0M86.6 59.5h0M151.4 42.5h0M127.4 68.7h0M111.6 81.7h0M128.6 55.7h0M62.4 53.3h0M100.0 61.4h0M126.1 36.0h0M15.3 42.2h0M119.7 87.9h0M85.8 101.2h0M82.5 107.9h0M70.6 76.3h0M123.2 70.5h0M54.4 22.9h0M144.3 102.2h0M141.4 99.6h0M9.0 47.4h0M62.3 45.8h0M47.5 14.6h0M41.2 40.3h0M41.4 44.6h0M162.5 35.4h0M158.0 41.3h0M148.3 61.6h0M150.9 100.8h0M17.6 5.9h0M160.9 37.0h0"/>
<path stroke="#ffbf00" stroke-width="4" d="M165.0 30.7h0M53.8 82.6h0M136.3 41.7h0M30.4 10.6h0M125.0 43.2h0M154.1 37.0h0M98.9 81.3h0M122.7 88.8h0M133.3 87.6h0M143.6 79.1h0M139.7 73.8h0M125.2 80.3h0M168.0 23.7h0M165.2 27.4h0M88.8 34.7h0M88.7 20.7h0M148.1 95.7h0M145.8 91.0h0M143.1 96.4h0M141.7 91.7h0M140.8 89.9h0M152.9 68.3h0M143.9 56.8h0M136.4 65.2h0M118.6 57.1h0M111.2 46.1h0M112.3 39.3h0M111.3 49.9h0M115.7 48.2h0M104.4 41.0h0M107.9 42.8h0M88.9 46.3h0M92.0 53.7h0M71.2 69.4h0M86.9 85.5h0M84.8 87.3h0M97.9 91.6h0M105.4 90.8h0M101.1 90.9h0M69.4 82.9h0M93.5 82.1h0M97.2 66.4h0M102.9 53.9h0M102.3 20.8h0M114.8 29.6h0M128.5 34.5h0M123.1 38.2h0M121.3 41.0h0M140.0 36.6h0M139.0 41.2h0M136.9 42.8h0M137.7 53.2h0M135.0 53.3h0M136.6 62.1h0M146.4 55.8h0M149.1 65.5h0M150.1 71.1h0M134.3 77.2h0M129.7 79.4h0M120.4 77.2h0M10.6 21.0h0M11.8 17.5h0M9.6 48.9h0M162.8 31.9h0M159.9 44.6h0M156.0 43.8h0M153.3 43.1h0M152.1 43.7h0M154.3 41.6h0M151.2 51.0h0M143.8 61.9h0M138.9 67.6h0M116.0 89.6h0M77.9 102.2h0M85.3 109.0h0M89.7 89.2h0M113.8 30.8h0M119.9 63.1h0M149.5 98.6h0M144.9 104.2h0M128.8 37.6h0M94.9 54.4h0"/>
<polyline points="17.7,2.6 17.6,5.9 16.8,7.3 16.1,8.6 14.6,9.1 13.9,12.1 13.5,15.4 11.8,17.5 10.6,21.0" stroke="#f87c7c" stroke-width="3.6" stroke-linejoin="round"/>
<polyline points="5.2,47.2 5.7,48.1 6.4,49.4" stroke="#f87c7c" stroke-width="3.6" stroke-linejoin="round"/>
<polyline points="5.7,47.2 7.3,45.9 9.1,44.7" stroke="#f87c7c" stroke-width="3.6" stroke-linejoin="round"/>
<polyline points="9.1,44.7 9.0,47.4 9.6,48.9 10.8,50.8 12.5,53.7 13.7,55.8 13.6,59.9" stroke="#f87c7c" stroke-width="3.6" stroke-linejoin="round"/>
<polyline points="10.3,63.3 11.8,64.6 13.7,65.3 14.8,66.0 15.8,67.5 16.4,69.0 17.0,70.2 17.5,72.3" stroke="#f87c7c" stroke-width="3.6" stroke-linejoin="round"/>
<polyline points="14.8,66.0 16.3,66.3 17.7,67.1 18.1,66.5" stroke="#f87c7c" stroke-width="3.6" stroke-linejoin="round"/>
<polyline points="41.2,40.3 41.1,42.3 41.4,44.6" stroke="#f87c7c" stroke-width="3.6" stroke-linejoin="round"/>
<polyline points="62.3,45.8 62.3,49.5 62.4,53.3 62.9,55.9" stroke="#f87c7c" stroke-width="3.6" stroke-linejoin="round"/>
<polyline points="34.5,72.4 35.3,72.8 36.5,73.2" stroke="#f87c7c" stroke-width="3.6" stroke-linejoin="round"/>
<polyline points="167.1,29.7 166.6,32.2 164.7,34.5 162.5,35.4 160.9,37.0 159.9,38.6 158.9,40.1 158.0,41.3 157.0,42.7 156.0,43.8 153.0,46.4 152.0,48.3 151.2,51.0 151.9,54.2" stroke="#f87c7c" stroke-width="3.6" stroke-linejoin="round"/>
<polyline points="151.1,104.8 151.0,102.5 150.9,100.8 149.5,98.6 148.1,95.8" stroke="#f87c7c" stroke-width="3.6" stroke-linejoin="round"/>
<polyline points="141.3,97.1 143.1,96.4 144.9,94.0 145.8,91.0" stroke="#f87c7c" stroke-width="3.6" stroke-linejoin="round"/>
<polyline points="86.3,80.4 88.2,80.3" stroke="#f87c7c" stroke-width="3.6" stroke-linejoin="round"/>
<polyline points="84.7,90.9 83.7,92.4 81.9,94.4" stroke="#f87c7c" stroke-width="3.6" stroke-linejoin="round"/>
<polyline points="131.2,73.8 134.3,71.0 137.4,68.2 138.9,67.6 142.4,65.8 143.9,62.3 145.3,61.7 148.3,61.6 149.3,62.3" stroke="#f87c7c" stroke-width="3.6" stroke-linejoin="round"/>
<polyline points="115.6,35.8 116.2,38.0 116.8,40.7 118.1,41.7" stroke="#f87c7c" stroke-width="3.6" stroke-linejoin="round"/>
<polyline points="130.7,36.9 128.8,37.6" stroke="#f87c7c" stroke-width="3.6" stroke-linejoin="round"/>
<polyline points="135.5,40.1 136.3,41.7 136.9,42.8" stroke="#f87c7c" stroke-width="3.6" stroke-linejoin="round"/>
<path stroke="#f87c7c" stroke-width="7.4" d="M159.9 38.6h0M14.8 66.0h0M116.8 40.7h0M88.2 80.3h0M93.3 93.0h0M152.0 48.3h0M157.0 42.7h0M151.0 104.2h0M131.2 73.8h0M167.1 29.7h0M5.6 47.4h0M130.7 36.9h0M16.8 7.3h0"/>
<path stroke="#f87c7c" stroke-width="6" d="M86.3 80.4h0M35.3 72.8h0M99.1 28.5h0M17.5 72.3h0M141.3 97.1h0M62.3 49.5h0M109.7 55.0h0M153.0 46.4h0M144.9 94.0h0M142.4 65.8h0M81.9 94.4h0M13.5 15.4h0M9.1 44.7h0M141.5 43.6h0M27.1 59.5h0M84.7 90.9h0M128.0 51.3h0M95.6 53.5h0M132.4 47.0h0M122.4 49.1h0M135.5 40.1h0M6.4 49.4h0M121.9 64.5h0M156.2 56.3h0M115.6 35.8h0M142.7 86.7h0M85.8 68.9h0M149.3 62.3h0M111.3 69.7h0M112.6 91.6h0M124.4 55.3h0M41.1 42.3h0M17.7 67.1h0M15.8 67.5h0M16.1 8.6h0M162.2 37.7h0M159.3 38.7h0M125.4 25.6h0"/>
<path stroke="#ff7f50" stroke-width="0.9" stroke-opacity="0.85" d="M122.4 40.7h0M75.0 68.3h0M132.1 86.3h0M142.9 33.1h0M149.2 42.9h0M87.4 51.4h0M125.6 63.6h0M166.3 33.1h0M78.1 96.7h0M143.1 91.6h0M93.4 75.7h0M150.4 52.5h0M92.8 37.3h0M88.9 93.1h0M126.7 55.6h0M92.3 57.2h0M87.6 92.9h0M130.9 54.6h0M35.5 50.6h0M128.3 43.4h0M148.0 60.8h0M115.5 51.4h0M163.4 34.0h0M125.2 45.3h0M88.2 56.9h0M136.1 61.6h0M115.2 89.0h0M115.0 85.1h0M119.1 63.4h0M122.4 52.9h0M121.0 58.2h0M153.3 37.5h0M148.6 50.7h0M135.8 45.6h0M82.3 88.8h0M104.3 51.8h0M116.7 64.2h0M154.5 41.1h0M141.2 70.6h0M124.9 49.7h0M124.4 68.6h0M150.9 33.4h0M104.0 85.0h0M150.8 53.6h0M109.1 93.8h0M118.9 86.7h0M116.8 42.0h0M95.6 46.7h0M15.8 8.1h0M109.5 86.1h0M117.9 50.2h0M150.7 37.9h0M116.8 44.6h0M127.5 42.2h0M93.2 49.4h0M152.4 69.9h0M111.2 35.4h0M108.7 84.8h0M136.8 78.3h0M83.6 100.5h0M123.3 64.3h0M105.6 53.9h0M122.4 61.5h0M123.4 58.9h0M86.0 56.6h0M126.0 76.9h0M127.3 45.2h0M132.9 59.7h0M101.4 68.7h0M120.1 49.4h0M131.6 51.0h0M159.3 31.6h0M150.8 62.7h0M135.4 83.3h0M135.2 67.7h0M89.7 60.7h0M145.9 39.2h0M129.9 59.1h0M127.5 85.7h0M108.2 67.8h0M122.7 69.7h0M153.7 60.1h0M95.1 35.7h0M126.6 65.9h0M91.1 87.1h0M107.9 54.3h0M104.8 75.8h0M113.4 35.9h0M97.2 85.5h0M143.6 74.0h0M152.5 66.8h0M126.1 29.0h0M94.5 49.8h0M87.4 88.3h0M125.4 34.6h0"/>
<polyline points="17.7,2.6 17.6,5.9 16.8,7.3 16.1,8.6 14.6,9.1 13.9,12.1 13.5,15.4 11.8,17.5 10.6,21.0" stroke="#ff0000" stroke-width="0.8" stroke-linejoin="round"/>
<polyline points="5.2,47.2 5.7,48.1 6.4,49.4" stroke="#ff0000" stroke-width="0.8" stroke-linejoin="round"/>
<polyline points="5.7,47.2 7.3,45.9 9.1,44.7" stroke="#ff0000" stroke-width="0.8" stroke-linejoin="round"/>
<polyline points="9.1,44.7 9.0,47.4 9.6,48.9 10.8,50.8 12.5,53.7 13.7,55.8 13.6,59.9" stroke="#ff0000" stroke-width="0.8" stroke-linejoin="round"/>
<polyline points="10.3,63.3 11.8,64.6 13.7,65.3 14.8,66.0 15.8,67.5 16.4,69.0 17.0,70.2 17.5,72.3" stroke="#ff0000" stroke-width="0.8" stroke-linejoin="round"/>
<polyline points="14.8,66.0 16.3,66.3 17.7,67.1 18.1,66.5" stroke="#ff0000" stroke-width="0.8" stroke-linejoin="round"/>
<polyline points="41.2,40.3 41.1,42.3 41.4,44.6" stroke="#ff0000" stroke-width="0.8" stroke-linejoin="round"/>
<polyline points="62.3,45.8 62.3,49.5 62.4,53.3 62.9,55.9" stroke="#ff0000" stroke-width="0.8" stroke-linejoin="round"/>
<polyline points="34.5,72.4 35.3,72.8 36.5,73.2" stroke="#ff0000" stroke-width="0.8" stroke-linejoin="round"/>
<polyline points="167.1,29.7 166.6,32.2 164.7,34.5 162.5,35.4 160.9,37.0 159.9,38.6 158.9,40.1 158.0,41.3 157.0,42.7 156.0,43.8 153.0,46.4 152.0,48.3 151.2,51.0 151.9,54.2" stroke="#ff0000" stroke-width="0.8" stroke-linejoin="round"/>
<polyline points="151.1,104.8 151.0,102.5 150.9,100.8 149.5,98.6 148.1,95.8" stroke="#ff0000" stroke-width="0.8" stroke-linejoin="round"/>
<polyline points="141.3,97.1 143.1,96.4 144.9,94.0 145.8,91.0" stroke="#ff0000" stroke-width="0.8" stroke-linejoin="round"/>
<polyline points="86.3,80.4 88.2,80.3" stroke="#ff0000" stroke-width="0.8" stroke-linejoin="round"/>
<polyline points="84.7,90.9 83.7,92.4 81.9,94.4" stroke="#ff0000" stroke-width="0.8" stroke-linejoin="round"/>
<polyline points="131.2,73.8 134.3,71.0 137.4,68.2 138.9,67.6 142.4,65.8 143.9,62.3 145.3,61.7 148.3,61.6 149.3,62.3" stroke="#ff0000" stroke-width="0.8" stroke-linejoin="round"/>
<polyline points="115.6,35.8 116.2,38.0 116.8,40.7 118.1,41.7" stroke="#ff0000" stroke-width="0.8" stroke-linejoin="round"/>
<polyline points="130.7,36.9 128.8,37.6" stroke="#ff0000" stroke-width="0.8" stroke-linejoin="round"/>
<polyline points="135.5,40.1 136.3,41.7 136.9,42.8" stroke="#ff0000" stroke-width="0.8" stroke-linejoin="round"/>
<path stroke="#ff0000" stroke-width="2.4" d="M159.9 38.6h0M14.8 66.0h0M116.8 40.7h0M88.2 80.3h0M93.3 93.0h0M152.0 48.3h0M157.0 42.7h0M151.0 104.2h0M131.2 73.8h0M167.1 29.7h0M5.6 47.4h0M130.7 36.9h0M16.8 7.3h0"/>
<path stroke="#ff0000" stroke-width="1.6" d="M86.3 80.4h0M35.3 72.8h0M99.1 28.5h0M17.5 72.3h0M141.3 97.1h0M62.3 49.5h0M109.7 55.0h0M153.0 46.4h0M144.9 94.0h0M142.4 65.8h0M81.9 94.4h0M13.5 15.4h0M9.1 44.7h0M141.5 43.6h0M27.1 59.5h0M84.7 90.9h0M128.0 51.3h0M95.6 53.5h0M132.4 47.0h0M122.4 49.1h0M135.5 40.1h0M6.4 49.4h0M121.9 64.5h0M156.2 56.3h0M115.6 35.8h0M142.7 86.7h0M85.8 68.9h0M149.3 62.3h0M111.3 69.7h0M112.6 91.6h0M124.4 55.3h0M41.1 42.3h0M17.7 67.1h0M15.8 67.5h0M16.1 8.6h0M162.2 37.7h0M159.3 38.7h0M125.4 25.6h0"/>
<path stroke="#ff0000" stroke-width="1.2" d="M166.6 32.2h0M151.9 54.2h0M162.8 33.4h0M143.1 32.8h0M123.0 75.6h0M146.7 30.9h0M122.5 35.5h0M38.3 78.5h0M91.0 66.0h0M12.5 53.7h0M91.2 44.4h0M54.8 68.5h0M158.7 30.5h0M13.6 59.9h0M131.6 64.3h0M108.5 89.7h0M137.4 68.2h0M142.6 71.1h0M147.2 75.6h0M128.7 48.4h0M155.4 40.2h0M30.3 27.9h0M98.5 42.9h0M103.7 71.7h0M151.2 30.5h0M145.3 61.7h0M129.7 40.1h0M111.1 36.0h0M86.6 59.5h0M151.4 42.5h0M127.4 68.7h0M111.6 81.7h0M128.6 55.7h0M62.4 53.3h0M100.0 61.4h0M126.1 36.0h0M15.3 42.2h0M119.7 87.9h0M85.8 101.2h0M82.5 107.9h0M70.6 76.3h0M123.2 70.5h0M54.4 22.9h0M144.3 102.2h0M141.4 99.6h0M9.0 47.4h0M62.3 45.8h0M47.5 14.6h0M41.2 40.3h0M41.4 44.6h0M162.5 35.4h0M158.0 41.3h0M148.3 61.6h0M150.9 100.8h0M17.6 5.9h0M160.9 37.0h0"/>
<path stroke="#ff0000" stroke-width="1" d="M165.0 30.7h0M53.8 82.6h0M136.3 41.7h0M30.4 10.6h0M125.0 43.2h0M154.1 37.0h0M98.9 81.3h0M122.7 88.8h0M133.3 87.6h0M143.6 79.1h0M139.7 73.8h0M125.2 80.3h0M168.0 23.7h0M165.2 27.4h0M88.8 34.7h0M88.7 20.7h0M148.1 95.7h0M145.8 91.0h0M143.1 96.4h0M141.7 91.7h0M140.8 89.9h0M152.9 68.3h0M143.9 56.8h0M136.4 65.2h0M118.6 57.1h0M111.2 46.1h0M112.3 39.3h0M111.3 49.9h0M115.7 48.2h0M104.4 41.0h0M107.9 42.8h0M88.9 46.3h0M92.0 53.7h0M71.2 69.4h0M86.9 85.5h0M84.8 87.3h0M97.9 91.6h0M105.4 90.8h0M101.1 90.9h0M69.4 82.9h0M93.5 82.1h0M97.2 66.4h0M102.9 53.9h0M102.3 20.8h0M114.8 29.6h0M128.5 34.5h0M123.1 38.2h0M121.3 41.0h0M140.0 36.6h0M139.0 41.2h0M136.9 42.8h0M137.7 53.2h0M135.0 53.3h0M136.6 62.1h0M146.4 55.8h0M149.1 65.5h0M150.1 71.1h0M134.3 77.2h0M129.7 79.4h0M120.4 77.2h0M10.6 21.0h0M11.8 17.5h0M9.6 48.9h0M162.8 31.9h0M159.9 44.6h0M156.0 43.8h0M153.3 43.1h0M152.1 43.7h0M154.3 41.6h0M151.2 51.0h0M143.8 61.9h0M138.9 67.6h0M116.0 89.6h0M77.9 102.2h0M85.3 109.0h0M89.7 89.2h0M113.8 30.8h0M119.9 63.1h0M149.5 98.6h0M144.9 104.2h0M128.8 37.6h0M94.9 54.4h0"/>
<path stroke="#ff0000" stroke-width="0.9" stroke-opacity="0.85" d="M98.1 37.5h0M133.9 58.1h0M100.7 65.4h0M139.7 37.0h0M113.3 49.7h0M133.3 82.3h0M139.7 59.4h0M149.3 98.0h0M107.2 33.4h0M119.8 65.4h0M114.9 88.6h0M93.6 73.7h0M104.0 53.9h0M147.1 43.3h0M85.7 108.3h0M95.6 31.9h0M158.0 49.4h0M116.1 71.9h0M101.2 44.5h0M93.8 77.1h0M113.5 62.1h0M95.0 47.4h0M113.8 41.9h0M97.2 14.7h0M95.9 59.9h0M91.9 52.1h0M135.0 49.8h0M158.0 44.0h0M142.3 64.5h0M158.3 42.1h0M142.4 91.1h0M101.2 82.8h0M136.3 53.0h0M151.1 104.0h0M102.4 65.5h0M114.8 48.6h0M95.4 81.5h0M111.3 34.9h0M147.7 40.1h0M137.4 48.2h0M128.9 35.4h0M101.5 73.5h0M134.7 69.2h0M132.2 42.4h0M116.5 45.2h0M147.3 72.3h0M163.2 36.9h0M88.5 69.1h0M78.7 97.7h0M156.4 50.6h0M113.5 48.0h0M139.5 42.6h0M158.3 41.6h0M137.1 41.5h0M80.2 62.3h0M121.1 83.0h0M102.2 82.9h0M99.3 83.6h0M130.6 79.7h0M110.2 39.8h0M120.5 61.8h0M123.9 71.7h0M119.8 48.2h0M91.9 63.5h0M145.5 91.2h0M106.2 27.5h0M139.0 88.3h0M142.5 87.5h0M166.2 28.8h0M13.3 58.3h0M151.0 26.3h0M137.7 66.4h0M100.0 63.1h0M64.6 59.7h0M144.5 69.6h0M88.0 91.3h0M136.6 87.3h0M144.8 96.0h0M143.3 68.5h0M87.1 79.3h0M144.9 94.0h0M124.1 71.7h0M129.1 57.4h0M103.9 22.0h0M152.9 23.4h0M137.0 74.3h0M88.1 61.7h0M118.7 48.0h0M143.7 32.9h0M115.9 73.0h0M111.7 60.2h0M134.2 60.4h0M142.3 77.2h0M132.5 86.0h0M120.9 56.6h0M144.5 54.1h0M118.1 78.0h0M96.1 67.7h0M84.5 38.8h0M153.9 31.8h0M130.4 72.9h0M137.6 61.1h0M150.3 66.3h0M137.5 38.9h0M131.0 71.4h0M27.1 55.3h0M90.7 92.8h0M88.1 68.2h0M95.0 32.4h0"/>
<path stroke="#b22222" stroke-width="1.4" d="M159.9 38.6h0M14.8 66.0h0M116.8 40.7h0M88.2 80.3h0M93.3 93.0h0M152.0 48.3h0M157.0 42.7h0M151.0 104.2h0M131.2 73.8h0M167.1 29.7h0M5.6 47.4h0M130.7 36.9h0M16.8 7.3h0"/></g><path d="M92.4,9.3 L112.1,13.1 L125.5,18.0 L128.0,21.9 L121.8,23.9 L114.6,25.9 L107.1,24.7 L99.7,20.9 L92.4,16.8Z" fill="#fff" fill-opacity="0.6" filter="url(#bl2)"/></g>
<g fill="none" stroke="#858585" stroke-width="1.4"><rect x="6.7" y="16.0" width="176.8" height="111.3"/><rect x="186.5" y="16.0" width="177.0" height="111.3"/><rect x="366.6" y="16.0" width="176.4" height="111.3"/><rect x="6.7" y="151.0" width="176.8" height="111.3"/><rect x="186.5" y="151.0" width="177.0" height="111.3"/><rect x="366.6" y="151.0" width="176.4" height="111.3"/></g>
<rect x="8" y="286.4" width="16" height="5.9" fill="#ffdead"/><rect x="58" y="286.4" width="16" height="5.9" fill="#ffd700"/><rect x="114" y="286.4" width="16" height="5.9" fill="#ffa500"/><rect x="175" y="286.4" width="16" height="5.9" fill="#ff7f50"/><rect x="240" y="286.4" width="16" height="5.9" fill="#ff0000"/><rect x="311" y="286.4" width="16" height="5.9" fill="#b22222"/>
</svg>
<div class="t" style="left:45.1px;top:5.3px">SSP2</div><div class="t" style="left:225.0px;top:5.3px">SSP3</div><div class="t" style="left:404.8px;top:5.3px">SSP5</div><div class="t" style="left:45.1px;top:140.3px">SSP2</div><div class="t" style="left:225.0px;top:140.3px">SSP3</div><div class="t" style="left:404.8px;top:140.3px">SSP5</div>
<div class="leg"></div>
<div class="lh">Population Density (per Sq KM)</div>
<div class="lt" style="left:30.5px">&lt;10</div><div class="lt" style="left:80.3px">10-50</div><div class="lt" style="left:135.7px">50-100</div><div class="lt" style="left:196.8px">100-500</div><div class="lt" style="left:262.7px">500-1000</div><div class="lt" style="left:333.6px">&gt;1000</div>
</body></html>
